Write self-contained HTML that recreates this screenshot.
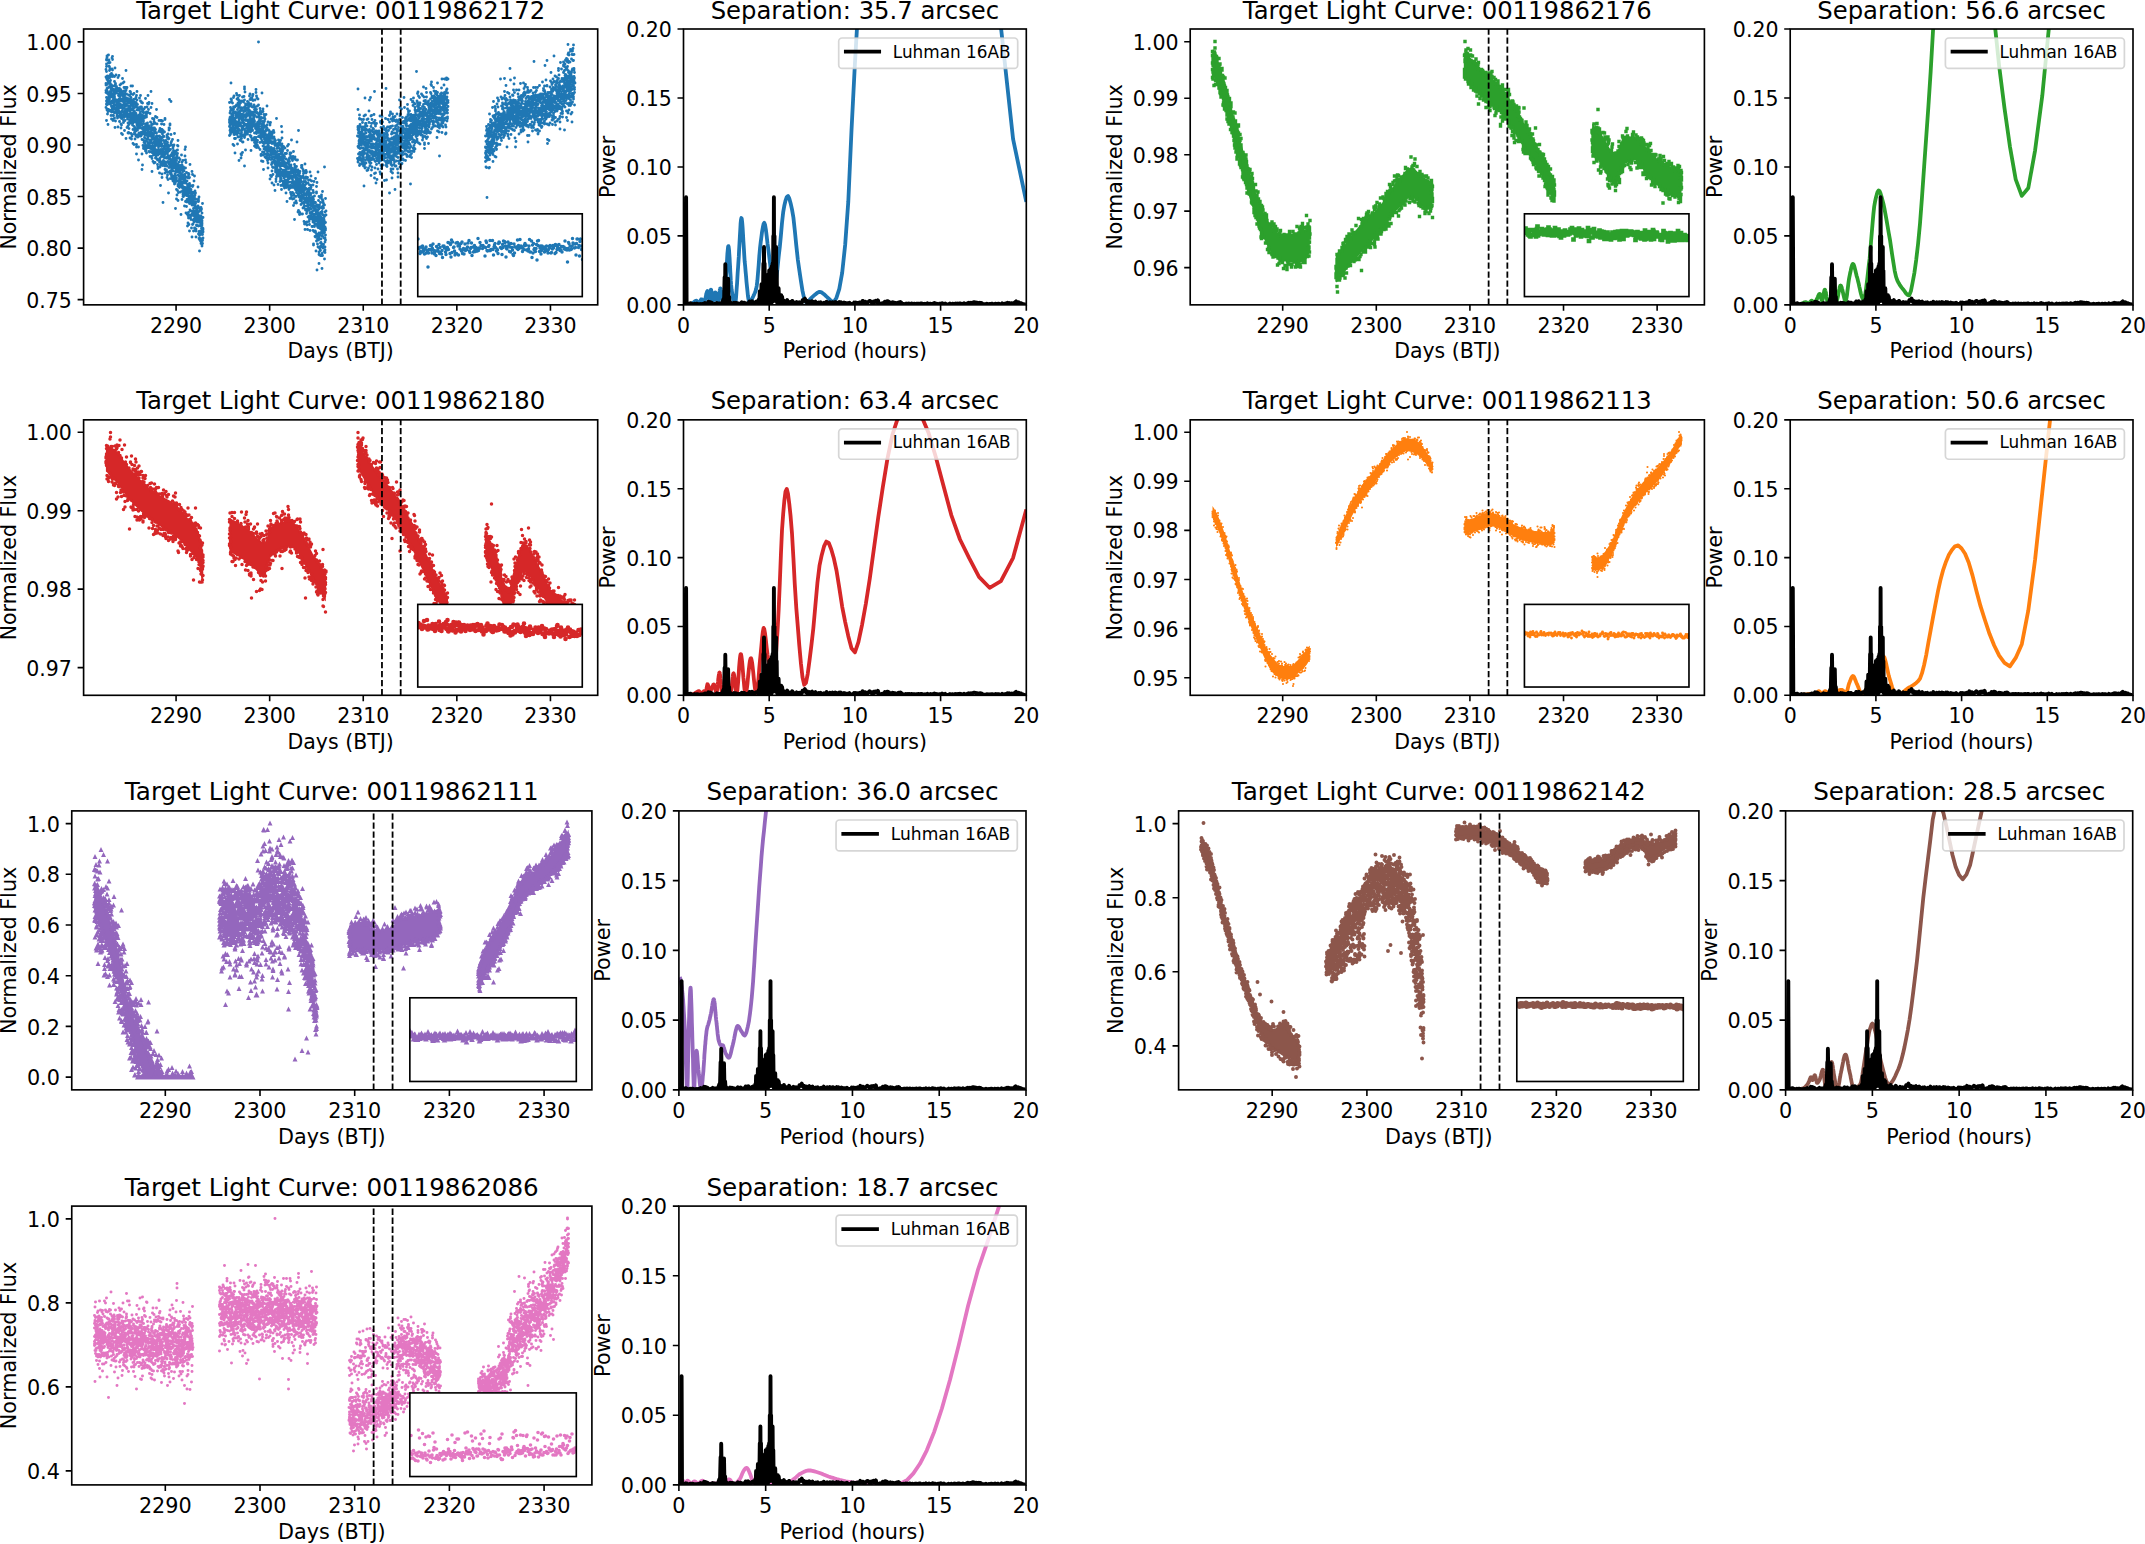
<!DOCTYPE html>
<html><head><meta charset="utf-8"><title>Light curves</title><style>html,body{margin:0;padding:0;background:#fff}svg{display:block}text{font-family:"DejaVu Sans","Liberation Sans",sans-serif;fill:#000}</style></head><body><svg width="2145" height="1544" viewBox="0 0 2145 1544"><rect width="2145" height="1544" fill="#fff"/><defs><clipPath id="c1"><rect x="83.6" y="29" width="514.1" height="275.85"/></clipPath><clipPath id="c2"><rect x="417.76" y="213.82" width="164.51" height="82.76"/></clipPath><clipPath id="c3"><rect x="683.5" y="29" width="342.8" height="275.85"/></clipPath><clipPath id="c4"><rect x="1190.2" y="29" width="514.2" height="275.85"/></clipPath><clipPath id="c5"><rect x="1524.43" y="213.82" width="164.54" height="82.76"/></clipPath><clipPath id="c6"><rect x="1790.2" y="29" width="342.8" height="275.85"/></clipPath><clipPath id="c7"><rect x="83.6" y="419.85" width="514.1" height="275.45"/></clipPath><clipPath id="c8"><rect x="417.76" y="604.4" width="164.51" height="82.63"/></clipPath><clipPath id="c9"><rect x="683.5" y="419.85" width="342.8" height="275.45"/></clipPath><clipPath id="c10"><rect x="1190.2" y="419.85" width="514.2" height="275.45"/></clipPath><clipPath id="c11"><rect x="1524.43" y="604.4" width="164.54" height="82.63"/></clipPath><clipPath id="c12"><rect x="1790.2" y="419.85" width="342.8" height="275.45"/></clipPath><clipPath id="c13"><rect x="71.75" y="810.9" width="520.15" height="278.95"/></clipPath><clipPath id="c14"><rect x="409.85" y="997.8" width="166.45" height="83.68"/></clipPath><clipPath id="c15"><rect x="678.9" y="810.9" width="347.1" height="278.95"/></clipPath><clipPath id="c16"><rect x="1178.6" y="810.9" width="520.3" height="278.95"/></clipPath><clipPath id="c17"><rect x="1516.8" y="997.8" width="166.5" height="83.68"/></clipPath><clipPath id="c18"><rect x="1785.6" y="810.9" width="347.1" height="278.95"/></clipPath><clipPath id="c19"><rect x="71.75" y="1206.1" width="520.15" height="278.8"/></clipPath><clipPath id="c20"><rect x="409.85" y="1392.9" width="166.45" height="83.64"/></clipPath><clipPath id="c21"><rect x="678.9" y="1206.1" width="347.1" height="278.8"/></clipPath></defs>
<g clip-path="url(#c1)"><g transform="scale(.5)"><path d="M212 139h0m0 15h0m0 13h0m0 3h0m0 11h0m0 4h0m0 30h0m1-96h0m0 1h0m0 8h0m0 5h0m0 10h0m0 13h0m0 14h0m0 25h0m0 7h0m0 6h0m0 1h0m0 32h0m1-129h0m0 3h0m0 44h0m0 18h0m0 4h0m0 5h0m0 15h0m0 5h0m0 12h0m0 2h0m1-68h0m0 6h0m0 27h0m0 2h0m0 12h0m0 10h0m0 19h0m1-71h0m0 5h0m0 5h0m0 35h0m0 5h0m0 16h0m0 26h0m1-139h0m0 15h0m0 37h0m0 13h0m0 12h0m0 1h0m0 1h0m0 7h0m0 8h0m0 15h0m1-99h0m0 12h0m0 60h0m0 5h0m0 25h0m1-88h0m0 7h0m0 11h0m0 3h0m0 18h0m0 25h0m0 5h0m0 1h0m0 2h0m1-81h0m0 13h0m0 17h0m0 11h0m0 7h0m0 10h0m0 11h0m0 14h0m1-59h0m0 12h0m0 7h0m0 1h0m0 24h0m0 12h0m0 16h0m1-46h0m0 3h0m0 8h0m0 3h0m0 14h0m0 28h0m1-84h0m0 23h0m0 11h0m0 11h0m0 20h0m0 1h0m0 11h0m0 14h0m1-122h0m0 22h0m0 12h0m0 23h0m0 5h0m0 16h0m0 8h0m0 4h0m0 9h0m0 4h0m1-106h0m0 6h0m0 21h0m0 10h0m0 3h0m0 39h0m0 12h0m0 17h0m1-34h0m0 6h0m0 2h0m0 6h0m0 15h0m0 15h0m0 8h0m0 2h0m1-62h0m0 3h0m0 17h0m0 7h0m0 9h0m0 16h0m1-59h0m0 27h0m0 5h0m0 7h0m0 14h0m1-72h0m0 10h0m0 26h0m0 4h0m0 2h0m0 41h0m1-100h0m0 45h0m0 4h0m0 24h0m0 10h0m0 6h0m0 30h0m1-88h0m0 2h0m0 30h0m0 19h0m0 24h0m1-92h0m0 27h0m0 1h0m0 24h0m0 13h0m0 8h0m1-50h0m0 8h0m0 5h0m0 18h0m0 6h0m1-9h0m0 11h0m0 12h0m0 4h0m0 4h0m1-30h0m0 5h0m0 11h0m0 18h0m1-81h0m0 22h0m0 2h0m0 21h0m0 1h0m0 12h0m0 8h0m0 33h0m1-72h0m0 9h0m0 19h0m0 11h0m0 4h0m0 8h0m1-82h0m0 37h0m0 4h0m0 6h0m0 5h0m0 13h0m0 7h0m1-46h0m0 13h0m0 22h0m0 15h0m0 16h0m1-73h0m0 19h0m0 4h0m0 15h0m0 22h0m1-51h0m0 4h0m0 4h0m0 1h0m0 27h0m0 20h0m1-67h0m0 13h0m0 17h0m0 4h0m0 10h0m0 36h0m0 8h0m1-46h0m0 14h0m0 5h0m0 8h0m0 13h0m0 17h0m1-79h0m0 2h0m0 24h0m0 8h0m0 11h0m0 3h0m1-79h0m0 27h0m0 2h0m0 29h0m0 2h0m0 5h0m0 47h0m1-103h0m0 27h0m0 9h0m0 1h0m0 7h0m0 19h0m1-31h0m0 18h0m0 7h0m0 8h0m0 10h0m0 4h0m1-81h0m0 11h0m0 7h0m0 24h0m0 19h0m0 7h0m0 3h0m0 7h0m1-54h0m0 1h0m0 12h0m0 16h0m0 12h0m0 4h0m0 28h0m1-86h0m0 8h0m0 12h0m0 4h0m0 3h0m0 10h0m0 29h0m1-60h0m0 8h0m0 22h0m0 1h0m0 7h0m0 1h0m0 1h0m0 2h0m1-82h0m0 34h0m0 6h0m0 26h0m0 3h0m0 67h0m1-100h0m0 11h0m0 8h0m0 15h0m0 15h0m0 7h0m1-58h0m0 25h0m0 19h0m0 6h0m0 3h0m0 1h0m0 26h0m1-58h0m0 6h0m0 14h0m0 3h0m0 18h0m1-32h0m0 28h0m0 12h0m0 6h0m0 14h0m1-76h0m0 12h0m0 10h0m0 17h0m0 36h0m1-67h0m0 3h0m0 29h0m0 15h0m0 4h0m0 8h0m0 9h0m1-75h0m0 25h0m0 4h0m0 2h0m0 6h0m0 6h0m0 6h0m1-57h0m0 19h0m0 4h0m0 16h0m0 18h0m0 36h0m1-92h0m0 14h0m0 1h0m0 13h0m0 14h0m0 14h0m0 6h0m1-74h0m0 16h0m0 7h0m0 16h0m0 6h0m0 22h0m0 28h0m1-36h0m0 2h0m0 5h0m0 40h0m1-74h0m0 2h0m0 14h0m0 22h0m0 27h0m0 3h0m1-100h0m0 29h0m0 26h0m0 9h0m0 8h0m0 6h0m1-61h0m0 16h0m0 7h0m0 5h0m0 29h0m0 13h0m0 28h0m1-88h0m0 4h0m0 5h0m0 13h0m0 10h0m0 10h0m1-54h0m0 37h0m0 5h0m0 1h0m0 23h0m0 36h0m1-75h0m0 1h0m0 8h0m0 10h0m0 5h0m0 27h0m0 3h0m1-70h0m0 9h0m0 48h0m0 5h0m0 3h0m0 5h0m0 10h0m1-73h0m0 9h0m0 18h0m0 5h0m0 6h0m0 1h0m0 17h0m1-66h0m0 11h0m0 5h0m0 16h0m0 6h0m0 29h0m0 10h0m1-81h0m0 16h0m0 4h0m0 28h0m0 50h0m0 5h0m0 14h0m1-125h0m0 17h0m0 20h0m0 11h0m0 17h0m0 2h0m1-41h0m0 6h0m0 29h0m0 8h0m0 5h0m0 3h0m0 10h0m0 4h0m1-58h0m0 3h0m0 18h0m0 9h0m0 27h0m0 1h0m1-56h0m0 2h0m0 11h0m0 5h0m0 3h0m0 9h0m0 46h0m0 26h0m1-84h0m0 8h0m0 9h0m0 13h0m0 3h0m1-73h0m0 19h0m0 3h0m0 16h0m0 5h0m0 17h0m1-29h0m0 11h0m0 13h0m0 3h0m0 18h0m1-81h0m0 11h0m0 12h0m0 9h0m0 5h0m0 23h0m0 15h0m1-33h0m0 3h0m0 11h0m0 18h0m0 7h0m1-68h0m0 1h0m0 9h0m0 1h0m0 27h0m0 14h0m0 13h0m1-51h0m0 20h0m0 12h0m0 19h0m0 10h0m0 29h0m0 31h0m1-133h0m0 24h0m0 28h0m0 6h0m0 66h0m1-110h0m0 4h0m0 12h0m0 2h0m0 53h0m1-57h0m0 8h0m0 5h0m0 8h0m0 25h0m0 16h0m0 1h0m1-79h0m0 7h0m0 8h0m0 26h0m0 9h0m0 17h0m1-52h0m0 3h0m0 24h0m0 4h0m0 2h0m0 9h0m1-60h0m0 38h0m0 5h0m0 7h0m0 5h0m0 16h0m0 6h0m0 4h0m1-99h0m0 34h0m0 17h0m0 5h0m0 13h0m0 24h0m0 10h0m0 2h0m1-76h0m0 25h0m0 7h0m0 11h0m0 13h0m0 19h0m1-77h0m0 6h0m0 4h0m0 13h0m0 13h0m0 18h0m0 28h0m1-92h0m0 36h0m0 8h0m0 8h0m0 3h0m0 22h0m0 5h0m1-89h0m0 39h0m0 7h0m0 8h0m0 6h0m0 1h0m0 4h0m0 22h0m1-103h0m0 34h0m0 27h0m0 22h0m0 5h0m0 6h0m0 1h0m1-78h0m0 11h0m0 32h0m0 4h0m0 3h0m0 7h0m0 30h0m1-90h0m0 48h0m0 37h0m0 1h0m0 12h0m1-40h0m0 2h0m0 2h0m0 29h0m0 8h0m1-77h0m0 30h0m0 13h0m0 10h0m0 5h0m0 6h0m0 22h0m1-69h0m0 19h0m0 1h0m0 4h0m0 4h0m0 25h0m1-114h0m0 32h0m0 40h0m0 8h0m0 7h0m0 12h0m0 21h0m1-53h0m0 5h0m0 6h0m0 25h0m0 7h0m0 4h0m0 16h0m1-106h0m0 41h0m0 24h0m0 1h0m0 2h0m0 30h0m0 12h0m0 26h0m1-106h0m0 22h0m0 8h0m0 11h0m0 9h0m0 7h0m0 11h0m1-57h0m0 12h0m0 9h0m0 6h0m0 17h0m0 10h0m0 21h0m1-67h0m0 5h0m0 7h0m0 2h0m0 16h0m0 11h0m0 13h0m1-72h0m0 5h0m0 32h0m0 8h0m0 9h0m0 16h0m0 18h0m1-70h0m0 6h0m0 4h0m0 29h0m0 3h0m0 9h0m1-61h0m0 1h0m0 16h0m0 16h0m0 9h0m0 11h0m0 4h0m0 22h0m1-92h0m0 26h0m0 21h0m0 12h0m0 24h0m1-43h0m0 5h0m0 8h0m0 17h0m0 8h0m0 3h0m1-95h0m0 47h0m0 18h0m0 4h0m0 12h0m1-65h0m0 13h0m0 24h0m0 3h0m0 7h0m0 25h0m0 11h0m1-41h0m0 4h0m0 9h0m0 30h0m0 9h0m1-50h0m0 6h0m0 6h0m0 19h0m0 24h0m0 3h0m1-56h0m0 3h0m0 7h0m0 3h0m0 5h0m0 4h0m1-62h0m0 22h0m0 28h0m0 1h0m0 16h0m0 11h0m1-58h0m0 11h0m0 7h0m0 9h0m0 13h0m0 23h0m0 22h0m1-89h0m0 17h0m0 9h0m0 21h0m0 12h0m0 5h0m0 13h0m1-93h0m0 61h0m0 28h0m0 41h0m1-107h0m0 15h0m0 5h0m0 5h0m0 10h0m0 4h0m0 21h0m0 4h0m1-87h0m0 7h0m0 28h0m0 17h0m0 8h0m0 7h0m0 4h0m0 1h0m1-54h0m0 5h0m0 24h0m0 15h0m0 5h0m0 40h0m0 7h0m1-113h0m0 26h0m0 6h0m0 1h0m0 24h0m0 8h0m0 24h0m1-70h0m0 32h0m0 10h0m0 10h0m0 10h0m0 1h0m0 81h0m1-124h0m0 12h0m0 15h0m0 6h0m0 7h0m0 1h0m0 6h0m1-79h0m0 24h0m0 23h0m0 3h0m0 16h0m0 14h0m0 2h0m1-67h0m0 21h0m0 20h0m0 4h0m0 2h0m0 4h0m1-78h0m0 2h0m0 49h0m0 4h0m0 40h0m0 7h0m0 7h0m1-59h0m0 2h0m0 18h0m0 17h0m0 5h0m1-48h0m0 16h0m0 4h0m0 2h0m0 4h0m0 9h0m1-25h0m0 25h0m0 9h0m0 15h0m0 3h0m1-73h0m0 5h0m0 22h0m0 4h0m0 3h0m0 28h0m0 23h0m1-81h0m0 11h0m0 10h0m0 11h0m0 8h0m0 2h0m0 28h0m0 6h0m1-82h0m0 7h0m0 15h0m0 21h0m0 12h0m0 1h0m0 35h0m1-81h0m0 13h0m0 3h0m0 4h0m0 19h0m0 8h0m0 61h0m1-130h0m0 4h0m0 17h0m0 25h0m0 26h0m0 7h0m0 9h0m1-145h0m0 58h0m0 58h0m0 11h0m0 3h0m0 16h0m1-97h0m0 2h0m0 41h0m0 9h0m0 12h0m0 6h0m0 10h0m0 6h0m1-35h0m0 24h0m0 3h0m0 16h0m0 6h0m0 9h0m1-154h0m0 66h0m0 17h0m0 24h0m0 19h0m0 6h0m0 12h0m1-64h0m0 28h0m0 11h0m0 12h0m0 8h0m0 7h0m0 3h0m1-45h0m0 16h0m0 8h0m0 2h0m0 6h0m0 17h0m1-77h0m0 12h0m0 14h0m0 3h0m0 11h0m0 9h0m0 31h0m1-63h0m0 10h0m0 10h0m0 3h0m0 5h0m0 12h0m0 6h0m0 20h0m1-70h0m0 9h0m0 11h0m0 5h0m0 18h0m0 1h0m1-46h0m0 20h0m0 7h0m0 7h0m0 5h0m0 23h0m0 2h0m1-87h0m0 37h0m0 12h0m0 16h0m0 20h0m0 12h0m0 2h0m0 2h0m1-61h0m0 16h0m0 25h0m0 6h0m0 4h0m0 9h0m1-48h0m0 4h0m0 20h0m0 9h0m0 65h0m1-115h0m0 13h0m0 12h0m0 3h0m0 6h0m0 3h0m0 22h0m0 2h0m1-54h0m0 9h0m0 3h0m0 10h0m0 13h0m0 12h0m0 23h0m0 19h0m1-87h0m0 3h0m0 2h0m0 16h0m0 5h0m0 53h0m1-99h0m0 9h0m0 7h0m0 21h0m0 4h0m0 3h0m0 2h0m0 44h0m1-100h0m0 11h0m0 38h0m0 13h0m0 7h0m0 19h0m0 3h0m0 29h0m1-67h0m0 7h0m0 2h0m0 18h0m0 2h0m0 22h0m1-69h0m0 8h0m0 28h0m0 11h0m0 5h0m0 6h0m1-29h0m0 6h0m0 6h0m0 7h0m0 7h0m0 4h0m1-56h0m0 12h0m0 7h0m0 4h0m0 21h0m0 2h0m1-33h0m0 5h0m0 9h0m0 14h0m0 9h0m0 15h0m1-47h0m0 15h0m0 6h0m0 13h0m0 58h0m1-119h0m0 23h0m0 15h0m0 1h0m0 8h0m0 7h0m1-40h0m0 6h0m0 19h0m0 4h0m0 16h0m0 4h0m0 26h0m1-66h0m0 1h0m0 6h0m0 18h0m0 8h0m0 10h0m0 6h0m1-61h0m0 22h0m0 30h0m0 10h0m0 5h0m0 1h0m0 4h0m1-59h0m0 4h0m0 4h0m0 16h0m0 20h0m0 15h0m1-51h0m0 9h0m0 4h0m0 7h0m0 4h0m0 21h0m1-38h0m0 8h0m0 8h0m0 18h0m0 7h0m0 22h0m1-113h0m0 13h0m0 38h0m0 8h0m0 17h0m0 5h0m0 5h0m1-91h0m0 26h0m0 16h0m0 30h0m0 18h0m0 5h0m0 1h0m0 13h0m1-78h0m0 29h0m0 8h0m0 3h0m0 11h0m0 6h0m0 44h0m1-81h0m0 31h0m0 3h0m0 12h0m0 22h0m1-51h0m0 14h0m0 10h0m0 13h0m0 1h0m0 4h0m0 24h0m1-73h0m0 15h0m0 4h0m0 5h0m0 10h0m0 13h0m0 50h0m1-83h0m0 12h0m0 11h0m0 11h0m0 28h0m0 15h0m1-99h0m0 3h0m0 4h0m0 37h0m0 34h0m0 11h0m1-87h0m0 7h0m0 18h0m0 12h0m0 10h0m0 34h0m0 19h0m1-94h0m0 12h0m0 9h0m0 24h0m0 7h0m0 55h0m1-133h0m0 43h0m0 8h0m0 5h0m0 21h0m0 14h0m1-49h0m0 21h0m0 4h0m0 7h0m0 32h0m1-56h0m0 5h0m0 3h0m0 35h0m0 8h0m0 9h0m1-49h0m0 8h0m0 9h0m0 24h0m0 25h0m1-113h0m0 41h0m0 13h0m0 4h0m0 9h0m0 18h0m0 46h0m1-125h0m0 24h0m0 14h0m0 7h0m0 12h0m0 4h0m0 13h0m0 26h0m1-78h0m0 21h0m0 30h0m0 1h0m0 17h0m0 8h0m1-63h0m0 15h0m0 4h0m0 13h0m0 7h0m0 3h0m0 4h0m0 31h0m1-100h0m0 35h0m0 11h0m0 14h0m0 16h0m0 6h0m1-92h0m0 42h0m0 21h0m0 15h0m0 26h0m1-74h0m0 8h0m0 21h0m0 24h0m0 6h0m1-55h0m0 12h0m0 6h0m0 2h0m0 1h0m0 23h0m0 29h0m1-42h0m0 8h0m0 6h0m0 27h0m0 4h0m0 12h0m1-56h0m0 4h0m0 14h0m0 7h0m0 7h0m0 1h0m1-37h0m0 4h0m0 2h0m0 15h0m0 6h0m0 2h0m1-44h0m0 25h0m0 4h0m0 9h0m0 14h0m1-77h0m0 29h0m0 9h0m0 4h0m0 13h0m0 5h0m0 10h0m1-46h0m0 3h0m0 2h0m0 38h0m0 3h0m0 8h0m0 16h0m1-74h0m0 21h0m0 8h0m0 40h0m0 3h0m0 11h0m1-40h0m0 2h0m0 4h0m0 28h0m0 8h0m0 23h0m1-82h0m0 12h0m0 19h0m0 26h0m1-61h0m0 30h0m0 16h0m0 7h0m0 13h0m1-67h0m0 6h0m0 11h0m0 3h0m0 2h0m0 12h0m0 38h0m1-69h0m0 19h0m0 7h0m0 7h0m0 2h0m0 4h0m0 9h0m0 12h0m1-52h0m0 15h0m0 3h0m0 3h0m0 3h0m0 10h0m0 22h0m0 10h0m1-85h0m0 49h0m0 13h0m0 11h0m0 1h0m0 6h0m1-52h0m0 22h0m0 2h0m0 4h0m0 1h0m0 12h0m53-271h0m0 34h0m0 3h0m0 3h0m0 8h0m0 18h0m1-45h0m0 9h0m0 12h0m0 3h0m0 11h0m0 9h0m1-55h0m0 7h0m0 12h0m0 3h0m0 6h0m0 15h0m0 7h0m0 3h0m1-102h0m0 32h0m0 20h0m0 9h0m0 10h0m0 9h0m0 9h0m1-55h0m0 4h0m0 23h0m0 13h0m0 16h0m0 5h0m1-29h0m0 17h0m0 14h0m0 1h0m1-58h0m0 12h0m0 17h0m0 8h0m0 6h0m1-28h0m0 6h0m0 4h0m0 23h0m0 4h0m0 31h0m1-94h0m0 19h0m0 5h0m0 5h0m0 20h0m0 20h0m0 1h0m1-73h0m0 48h0m0 10h0m0 6h0m0 2h0m0 11h0m0 22h0m1-65h0m0 10h0m0 9h0m0 13h0m0 7h0m0 4h0m0 8h0m1-64h0m0 1h0m0 11h0m0 14h0m0 11h0m0 7h0m0 49h0m1-82h0m0 25h0m0 2h0m0 10h0m0 7h0m0 9h0m1-65h0m0 19h0m0 12h0m0 2h0m0 3h0m1-61h0m0 23h0m0 17h0m0 8h0m0 18h0m0 8h0m1-71h0m0 8h0m0 34h0m0 12h0m0 22h0m0 3h0m1-50h0m0 9h0m0 4h0m0 14h0m0 10h0m0 32h0m1-92h0m0 10h0m0 4h0m0 15h0m0 28h0m0 13h0m0 8h0m1-74h0m0 8h0m0 7h0m0 20h0m0 15h0m0 3h0m0 8h0m0 3h0m1-59h0m0 28h0m0 7h0m0 5h0m0 14h0m0 1h0m0 61h0m1-130h0m0 19h0m0 13h0m0 7h0m0 7h0m0 10h0m0 26h0m1-71h0m0 21h0m0 5h0m0 17h0m0 2h0m0 33h0m1-74h0m0 9h0m0 5h0m0 12h0m0 17h0m0 19h0m0 13h0m1-48h0m0 4h0m0 15h0m0 9h0m0 47h0m0 8h0m1-80h0m0 16h0m0 10h0m0 3h0m0 8h0m0 4h0m0 33h0m1-108h0m0 14h0m0 5h0m0 19h0m0 16h0m0 4h0m1-66h0m0 34h0m0 17h0m0 39h0m0 21h0m1-75h0m0 7h0m0 7h0m0 1h0m0 10h0m0 15h0m0 14h0m1-80h0m0 25h0m0 5h0m0 5h0m0 14h0m0 19h0m1-79h0m0 22h0m0 8h0m0 17h0m0 6h0m0 4h0m1-76h0m0 4h0m0 22h0m0 20h0m0 39h0m0 16h0m0 57h0m1-148h0m0 29h0m0 9h0m0 17h0m0 23h0m0 4h0m0 5h0m1-63h0m0 11h0m0 3h0m0 11h0m0 6h0m0 61h0m1-84h0m0 13h0m0 4h0m0 1h0m0 6h0m0 1h0m0 8h0m1-29h0m0 10h0m0 3h0m0 19h0m0 4h0m0 6h0m0 3h0m0 3h0m1-58h0m0 8h0m0 9h0m0 2h0m0 20h0m0 7h0m1-53h0m0 18h0m0 19h0m0 21h0m0 7h0m1-27h0m0 2h0m0 9h0m0 3h0m0 3h0m0 4h0m0 17h0m1-74h0m0 1h0m0 9h0m0 12h0m0 2h0m0 17h0m0 17h0m1-51h0m0 8h0m0 3h0m0 8h0m0 11h0m1-50h0m0 17h0m0 1h0m0 11h0m0 7h0m0 21h0m0 12h0m1-73h0m0 11h0m0 37h0m0 3h0m0 7h0m0 8h0m0 4h0m0 13h0m1-72h0m0 26h0m0 1h0m0 37h0m0 1h0m1-67h0m0 11h0m0 23h0m0 41h0m0 2h0m0 27h0m1-88h0m0 11h0m0 6h0m0 11h0m0 1h0m0 1h0m0 13h0m1-59h0m0 43h0m0 6h0m0 5h0m0 4h0m0 23h0m0 2h0m1-88h0m0 8h0m0 14h0m0 23h0m0 23h0m0 1h0m1-72h0m0 12h0m0 24h0m0 4h0m0 9h0m0 6h0m1-31h0m0 12h0m0 7h0m0 10h0m0 3h0m0 4h0m0 28h0m1-67h0m0 25h0m0 5h0m0 12h0m0 28h0m1-61h0m0 5h0m0 18h0m0 2h0m0 22h0m0 9h0m0 10h0m0 7h0m1-92h0m0 17h0m0 8h0m0 6h0m0 19h0m0 3h0m0 26h0m1-65h0m0 4h0m0 2h0m0 34h0m0 3h0m0 33h0m0 4h0m1-115h0m0 6h0m0 64h0m0 26h0m0 5h0m0 7h0m0 4h0m1-99h0m0 27h0m0 30h0m0 14h0m0 4h0m0 28h0m1-99h0m0 29h0m0 1h0m0 8h0m0 22h0m0 6h0m0 23h0m1-73h0m0 33h0m0 5h0m0 1h0m0 30h0m0 10h0m1-93h0m0 61h0m0 5h0m1-180h0m0 126h0m0 18h0m0 21h0m0 16h0m0 8h0m0 22h0m1-64h0m0 10h0m0 2h0m0 5h0m0 5h0m1-26h0m0 9h0m0 22h0m0 13h0m0 2h0m1-56h0m0 8h0m0 19h0m0 14h0m0 5h0m0 11h0m0 11h0m0 14h0m1-77h0m0 17h0m0 23h0m0 4h0m1-38h0m0 7h0m0 32h0m0 10h0m0 32h0m0 2h0m1-87h0m0 24h0m0 5h0m0 19h0m0 50h0m1-136h0m0 71h0m0 8h0m0 16h0m1-45h0m0 7h0m0 6h0m0 9h0m0 13h0m0 14h0m0 19h0m1-86h0m0 5h0m0 38h0m0 13h0m0 18h0m0 18h0m0 13h0m1-76h0m0 9h0m0 13h0m0 17h0m0 6h0m0 47h0m1-110h0m0 15h0m0 7h0m0 16h0m0 4h0m0 16h0m0 11h0m0 7h0m1-71h0m0 8h0m0 24h0m0 6h0m0 6h0m0 6h0m1-46h0m0 38h0m0 3h0m0 16h0m0 13h0m0 6h0m1-61h0m0 10h0m0 6h0m0 17h0m0 13h0m0 1h0m1-71h0m0 31h0m0 21h0m0 13h0m0 22h0m1-60h0m0 5h0m0 16h0m0 4h0m0 20h0m1-89h0m0 38h0m0 6h0m0 14h0m0 5h0m0 9h0m0 15h0m0 11h0m1-38h0m0 14h0m0 11h0m0 6h0m0 3h0m0 9h0m0 6h0m1-77h0m0 40h0m0 6h0m0 1h0m0 35h0m0 10h0m1-76h0m0 10h0m0 9h0m0 1h0m0 12h0m0 17h0m1-48h0m0 8h0m0 5h0m0 12h0m0 10h0m0 5h0m0 17h0m1-52h0m0 11h0m0 2h0m0 4h0m0 26h0m0 5h0m1-67h0m0 3h0m0 23h0m0 26h0m0 59h0m1-113h0m0 25h0m0 32h0m0 2h0m0 47h0m1-87h0m0 19h0m0 12h0m0 14h0m0 10h0m1-33h0m0 10h0m0 2h0m0 9h0m0 22h0m0 24h0m1-84h0m0 8h0m0 10h0m0 15h0m0 13h0m0 10h0m0 17h0m0 24h0m1-102h0m0 10h0m0 23h0m0 1h0m0 15h0m0 21h0m1-29h0m0 19h0m0 1h0m0 10h0m0 14h0m1-88h0m0 22h0m0 16h0m0 5h0m0 4h0m0 11h0m1-54h0m0 9h0m0 13h0m0 10h0m0 1h0m0 26h0m0 46h0m1-92h0m0 5h0m0 18h0m0 3h0m0 10h0m0 6h0m1-37h0m0 1h0m0 7h0m0 15h0m0 10h0m0 13h0m0 6h0m0 46h0m1-100h0m0 6h0m0 20h0m0 5h0m0 28h0m0 4h0m1-40h0m0 6h0m0 5h0m0 9h0m0 14h0m0 20h0m0 5h0m1-126h0m0 88h0m0 3h0m0 4h0m0 9h0m0 12h0m1-63h0m0 7h0m0 14h0m0 20h0m0 3h0m0 12h0m0 4h0m1-57h0m0 10h0m0 16h0m0 4h0m0 5h0m0 11h0m0 6h0m1-58h0m0 22h0m0 43h0m0 17h0m1-89h0m0 29h0m0 6h0m0 2h0m0 13h0m0 11h0m1-50h0m0 24h0m0 11h0m0 2h0m0 14h0m0 4h0m1-62h0m0 13h0m0 12h0m0 12h0m0 4h0m0 19h0m0 7h0m1-64h0m0 15h0m0 30h0m0 1h0m0 7h0m0 23h0m1-82h0m0 9h0m0 24h0m0 24h0m0 6h0m0 6h0m0 5h0m0 3h0m1-60h0m0 8h0m0 13h0m0 19h0m0 19h0m0 14h0m1-118h0m0 39h0m0 24h0m0 13h0m0 2h0m0 30h0m0 18h0m1-115h0m0 12h0m0 12h0m0 9h0m0 11h0m0 13h0m0 5h0m0 22h0m1-45h0m0 9h0m0 11h0m0 4h0m0 3h0m0 1h0m1-32h0m0 11h0m0 10h0m0 21h0m0 3h0m0 8h0m0 11h0m0 5h0m1-75h0m0 24h0m0 11h0m0 3h0m0 16h0m0 16h0m0 9h0m1-59h0m0 3h0m0 7h0m0 21h0m0 3h0m0 3h0m0 6h0m1-43h0m0 20h0m0 7h0m0 3h0m0 5h0m0 3h0m0 12h0m0 13h0m1-80h0m0 11h0m0 26h0m0 15h0m0 12h0m0 1h0m0 7h0m1-42h0m0 5h0m0 2h0m0 8h0m0 22h0m0 9h0m1-65h0m0 11h0m0 9h0m0 26h0m0 14h0m0 19h0m1-79h0m0 25h0m0 5h0m0 1h0m0 6h0m0 27h0m0 4h0m1-28h0m0 13h0m0 4h0m0 39h0m1-111h0m0 9h0m0 25h0m0 18h0m0 4h0m0 2h0m0 19h0m1-48h0m0 4h0m0 19h0m0 10h0m0 5h0m0 15h0m1-85h0m0 38h0m0 8h0m0 2h0m0 11h0m0 10h0m0 14h0m1-54h0m0 2h0m0 9h0m0 18h0m0 3h0m0 14h0m0 15h0m1-63h0m0 7h0m0 10h0m0 11h0m0 6h0m0 3h0m0 4h0m1-51h0m0 3h0m0 6h0m0 59h0m0 2h0m0 21h0m1-65h0m0 5h0m0 18h0m0 15h0m0 15h0m1-79h0m0 7h0m0 2h0m0 15h0m0 4h0m0 11h0m0 43h0m1-108h0m0 61h0m0 5h0m0 6h0m0 2h0m0 10h0m0 28h0m1-74h0m0 39h0m0 8h0m0 6h0m0 4h0m1-55h0m0 1h0m0 16h0m0 21h0m0 1h0m0 26h0m0 12h0m0 1h0m1-85h0m0 30h0m0 10h0m0 13h0m1-63h0m0 14h0m0 22h0m0 7h0m0 17h0m0 4h0m0 20h0m0 24h0m1-61h0m0 14h0m0 3h0m0 23h0m0 1h0m0 6h0m1-68h0m0 37h0m0 4h0m0 3h0m0 3h0m0 30h0m0 33h0m1-125h0m0 19h0m0 1h0m0 9h0m0 12h0m0 17h0m0 2h0m1-55h0m0 19h0m0 6h0m0 9h0m0 10h0m0 16h0m1-30h0m0 9h0m0 13h0m0 9h0m0 13h0m0 9h0m1-82h0m0 13h0m0 8h0m0 11h0m0 33h0m0 21h0m1-122h0m0 75h0m0 4h0m0 5h0m0 7h0m1-55h0m0 36h0m0 9h0m0 4h0m0 11h0m1-40h0m0 2h0m0 3h0m0 5h0m0 24h0m0 5h0m0 11h0m0 34h0m1-163h0m0 85h0m0 11h0m0 20h0m0 2h0m0 42h0m1-70h0m0 9h0m0 13h0m0 9h0m0 5h0m0 7h0m1-47h0m0 20h0m0 25h0m0 32h0m0 5h0m1-86h0m0 15h0m0 6h0m0 5h0m0 26h0m0 6h0m1-48h0m0 6h0m0 14h0m0 13h0m0 13h0m1-37h0m0 11h0m0 5h0m0 7h0m0 1h0m0 16h0m0 7h0m0 19h0m1-97h0m0 4h0m0 29h0m0 8h0m0 5h0m0 6h0m0 16h0m0 2h0m1-70h0m0 4h0m0 20h0m0 23h0m0 12h0m0 3h0m1-20h0m0 5h0m0 19h0m0 9h0m0 22h0m1-89h0m0 13h0m0 16h0m0 15h0m0 7h0m0 2h0m0 24h0m1-74h0m0 1h0m0 4h0m0 8h0m0 30h0m0 9h0m1-37h0m0 6h0m0 25h0m0 16h0m0 3h0m0 6h0m0 30h0m1-67h0m0 5h0m0 18h0m0 13h0m0 36h0m1-120h0m0 28h0m0 15h0m0 26h0m0 4h0m0 4h0m0 54h0m1-96h0m0 2h0m0 25h0m0 7h0m0 21h0m0 2h0m0 25h0m1-104h0m0 4h0m0 1h0m0 8h0m0 3h0m0 20h0m0 10h0m0 17h0m1-60h0m0 23h0m0 24h0m0 5h0m0 2h0m0 29h0m1-42h0m0 17h0m0 1h0m0 9h0m0 7h0m0 4h0m0 21h0m0 6h0m1-95h0m0 25h0m0 3h0m0 5h0m0 19h0m0 52h0m1-93h0m0 17h0m0 20h0m0 4h0m0 13h0m0 14h0m1-74h0m0 25h0m0 15h0m0 11h0m0 5h0m0 2h0m1-41h0m0 6h0m0 6h0m0 6h0m0 1h0m0 24h0m0 15h0m0 8h0m1-73h0m0 22h0m0 17h0m0 23h0m0 4h0m0 3h0m0 10h0m1-105h0m0 16h0m0 56h0m0 10h0m0 10h0m0 25h0m1-83h0m0 11h0m0 1h0m0 6h0m0 5h0m0 3h0m0 21h0m1-73h0m0 19h0m0 4h0m0 12h0m0 24h0m0 7h0m0 14h0m1-70h0m0 37h0m0 4h0m0 5h0m0 2h0m0 14h0m0 4h0m1-31h0m0 4h0m0 10h0m0 15h0m0 12h0m0 15h0m1-59h0m0 12h0m0 7h0m0 14h0m0 7h0m0 4h0m0 1h0m0 14h0m1-83h0m0 11h0m0 16h0m0 18h0m0 29h0m0 17h0m1-76h0m0 14h0m0 11h0m0 11h0m0 67h0m0 2h0m1-127h0m0 41h0m0 27h0m0 11h0m0 3h0m0 18h0m1-71h0m0 13h0m0 11h0m0 1h0m0 12h0m0 22h0m0 2h0m1-40h0m0 8h0m0 12h0m0 3h0m0 3h0m0 3h0m0 20h0m0 11h0m1-116h0m0 48h0m0 13h0m0 30h0m0 15h0m0 1h0m0 1h0m0 9h0m1-48h0m0 10h0m0 66h0m1-129h0m0 11h0m0 2h0m0 24h0m0 24h0m0 7h0m0 8h0m0 19h0m0 14h0m1-117h0m0 45h0m0 15h0m0 3h0m0 8h0m0 12h0m0 24h0m0 68h0m1-126h0m0 8h0m0 2h0m0 9h0m0 10h0m0 10h0m0 25h0m0 10h0m1-144h0m0 76h0m0 7h0m0 13h0m0 3h0m0 12h0m0 39h0m1-93h0m0 14h0m0 1h0m0 26h0m0 8h0m0 5h0m0 13h0m0 8h0m0 4h0m1-87h0m0 25h0m0 16h0m0 9h0m0 23h0m0 6h0m0 2h0m0 3h0m0 27h0m0 5h0m0 18h0m1-117h0m0 20h0m0 6h0m0 10h0m0 4h0m0 44h0m0 2h0m0 14h0m1-115h0m0 46h0m0 9h0m0 7h0m0 11h0m0 1h0m0 26h0m0 3h0m1-93h0m0 20h0m0 2h0m0 15h0m0 2h0m0 26h0m0 16h0m0 15h0m0 10h0m1-96h0m0 11h0m0 8h0m0 17h0m0 4h0m0 3h0m0 20h0m0 7h0m0 7h0m1-102h0m0 4h0m0 51h0m0 2h0m0 6h0m0 6h0m0 5h0m0 1h0m1-66h0m0 15h0m0 9h0m0 4h0m0 11h0m0 34h0m0 16h0m0 19h0m0 30h0m1-154h0m0 16h0m0 18h0m0 12h0m0 15h0m0 17h0m0 33h0m0 17h0m1-109h0m0 3h0m0 7h0m0 29h0m0 10h0m0 11h0m0 5h0m0 6h0m0 23h0m1-89h0m0 9h0m0 20h0m0 16h0m0 3h0m0 34h0m0 5h0m1-63h0m0 8h0m0 8h0m0 1h0m0 10h0m0 18h0m0 27h0m1-169h0m0 76h0m0 23h0m0 10h0m0 13h0m0 9h0m0 53h0m1-94h0m0 30h0m0 22h0m0 8h0m0 10h0m0 6h0m0 5h0m1-108h0m0 48h0m0 12h0m0 3h0m0 10h0m0 10h0m1-58h0m0 8h0m63-158h0m0 45h0m1-139h0m0 41h0m0 34h0m0 2h0m0 4h0m0 34h0m0 26h0m0 5h0m1-68h0m0 3h0m0 2h0m0 5h0m0 7h0m0 19h0m0 3h0m0 13h0m1-49h0m0 23h0m0 5h0m0 7h0m0 25h0m1-89h0m0 7h0m0 1h0m0 41h0m0 27h0m0 8h0m0 17h0m1-82h0m0 15h0m0 2h0m0 5h0m0 16h0m0 10h0m0 8h0m0 23h0m1-75h0m0 23h0m0 13h0m0 21h0m0 10h0m1-37h0m0 3h0m0 10h0m0 10h0m0 11h0m1-78h0m0 16h0m0 20h0m0 15h0m0 18h0m0 20h0m1-70h0m0 4h0m0 8h0m0 10h0m0 31h0m0 12h0m1-78h0m0 13h0m0 2h0m0 7h0m0 18h0m0 2h0m0 16h0m0 8h0m1-57h0m0 20h0m0 4h0m0 18h0m0 6h0m0 10h0m0 7h0m1-80h0m0 32h0m0 12h0m0 26h0m0 6h0m0 1h0m0 8h0m0 8h0m1-100h0m0 69h0m0 6h0m0 22h0m0 43h0m1-112h0m0 18h0m0 12h0m0 15h0m0 2h0m0 23h0m1-134h0m0 59h0m0 6h0m0 6h0m0 8h0m0 12h0m0 10h0m0 39h0m1-106h0m0 17h0m0 4h0m0 33h0m0 8h0m0 28h0m0 15h0m1-88h0m0 19h0m0 7h0m0 6h0m0 11h0m0 36h0m1-67h0m0 1h0m0 20h0m0 12h0m0 6h0m0 2h0m0 15h0m1-76h0m0 13h0m0 37h0m0 19h0m0 5h0m0 5h0m0 23h0m1-67h0m0 22h0m0 4h0m0 6h0m0 3h0m0 5h0m1-76h0m0 23h0m0 12h0m0 8h0m0 5h0m0 54h0m1-55h0m0 7h0m0 9h0m0 2h0m0 18h0m0 15h0m1-114h0m0 23h0m0 19h0m0 7h0m0 15h0m0 8h0m0 22h0m1-116h0m0 59h0m0 12h0m0 8h0m0 22h0m0 1h0m0 10h0m0 13h0m1-60h0m0 1h0m0 8h0m0 9h0m0 11h0m0 27h0m0 10h0m1-136h0m0 67h0m0 6h0m0 12h0m0 22h0m0 4h0m0 10h0m1-84h0m0 21h0m0 25h0m0 2h0m0 9h0m0 30h0m0 7h0m0 25h0m1-120h0m0 16h0m0 23h0m0 12h0m0 14h0m0 11h0m0 33h0m1-101h0m0 35h0m0 35h0m0 10h0m0 15h0m1-74h0m0 28h0m0 5h0m0 3h0m0 7h0m0 12h0m1-58h0m0 7h0m0 12h0m0 1h0m0 11h0m0 5h0m0 20h0m1-68h0m0 13h0m0 15h0m0 33h0m0 5h0m1-82h0m0 39h0m0 6h0m0 4h0m0 11h0m0 21h0m0 9h0m1-136h0m0 64h0m0 30h0m0 18h0m0 1h0m0 16h0m0 35h0m0 9h0m1-115h0m0 6h0m0 32h0m0 25h0m0 3h0m0 15h0m0 14h0m1-84h0m0 10h0m0 3h0m0 23h0m0 22h0m0 1h0m0 12h0m0 23h0m1-68h0m0 13h0m0 6h0m0 3h0m0 3h0m0 63h0m1-119h0m0 15h0m0 23h0m0 9h0m0 22h0m0 13h0m1-62h0m0 2h0m0 10h0m0 2h0m0 8h0m0 32h0m0 38h0m1-95h0m0 24h0m0 6h0m0 4h0m0 10h0m0 2h0m1-36h0m0 18h0m0 4h0m0 2h0m0 7h0m0 9h0m0 24h0m1-38h0m0 15h0m0 1h0m0 6h0m1-60h0m0 11h0m0 7h0m0 2h0m0 18h0m0 11h0m0 10h0m0 5h0m1-59h0m0 5h0m0 2h0m0 5h0m0 7h0m0 20h0m0 3h0m0 7h0m1-84h0m0 40h0m0 16h0m0 5h0m0 1h0m0 19h0m0 31h0m1-101h0m0 2h0m0 36h0m0 23h0m0 44h0m1-93h0m0 30h0m0 3h0m0 18h0m0 7h0m0 8h0m0 10h0m1-84h0m0 23h0m0 28h0m0 4h0m0 5h0m0 3h0m0 27h0m1-104h0m0 27h0m0 4h0m0 22h0m0 31h0m0 14h0m1-87h0m0 43h0m0 5h0m0 3h0m0 3h0m0 1h0m0 12h0m1-36h0m0 2h0m0 18h0m0 10h0m0 25h0m1-77h0m0 21h0m0 8h0m0 10h0m0 12h0m0 5h0m0 11h0m1-53h0m0 4h0m0 3h0m0 4h0m0 2h0m0 6h0m0 3h0m0 11h0m1-43h0m0 2h0m0 19h0m0 12h0m0 7h0m0 17h0m0 47h0m1-103h0m0 27h0m0 8h0m0 5h0m0 11h0m0 7h0m1-79h0m0 31h0m0 14h0m0 5h0m0 3h0m0 7h0m0 4h0m0 22h0m1-146h0m0 81h0m0 4h0m0 23h0m0 14h0m0 2h0m0 23h0m0 7h0m1-63h0m0 6h0m0 1h0m0 23h0m0 29h0m0 4h0m0 29h0m1-94h0m0 5h0m0 25h0m0 11h0m0 2h0m0 6h0m0 18h0m1-79h0m0 16h0m0 5h0m0 2h0m0 3h0m0 12h0m0 12h0m0 17h0m1-82h0m0 40h0m0 11h0m0 20h0m0 16h0m1-72h0m0 7h0m0 28h0m0 9h0m0 5h0m0 19h0m1-34h0m0 8h0m0 6h0m0 4h0m0 5h0m0 3h0m0 1h0m1-84h0m0 13h0m0 39h0m0 10h0m0 13h0m0 17h0m0 63h0m1-130h0m0 22h0m0 6h0m0 5h0m0 15h0m0 1h0m0 20h0m1-101h0m0 3h0m0 26h0m0 3h0m0 28h0m0 27h0m0 5h0m0 2h0m1-80h0m0 62h0m0 21h0m0 4h0m0 4h0m0 9h0m0 5h0m1-75h0m0 10h0m0 13h0m0 6h0m0 2h0m0 5h0m0 14h0m1-54h0m0 3h0m0 9h0m0 37h0m0 17h0m0 1h0m0 25h0m1-128h0m0 14h0m0 10h0m0 33h0m0 3h0m0 7h0m0 51h0m1-112h0m0 59h0m0 2h0m0 6h0m0 37h0m1-100h0m0 21h0m0 20h0m0 5h0m0 4h0m0 21h0m0 5h0m0 6h0m1-54h0m0 8h0m0 23h0m0 7h0m0 15h0m0 10h0m1-88h0m0 36h0m0 24h0m0 1h0m0 9h0m0 13h0m1-91h0m0 25h0m0 29h0m0 11h0m0 34h0m0 47h0m1-127h0m0 4h0m0 17h0m0 9h0m0 8h0m0 4h0m0 15h0m1-66h0m0 23h0m0 6h0m0 25h0m0 7h0m0 28h0m1-92h0m0 11h0m0 17h0m0 10h0m0 4h0m0 5h0m0 26h0m0 9h0m1-94h0m0 32h0m0 5h0m0 17h0m0 16h0m0 8h0m1-57h0m0 10h0m0 14h0m0 4h0m0 13h0m0 17h0m0 31h0m1-66h0m0 9h0m0 15h0m0 4h0m0 15h0m0 31h0m0 8h0m1-113h0m0 4h0m0 10h0m0 32h0m0 17h0m1-32h0m0 13h0m0 14h0m0 23h0m0 5h0m1-127h0m0 39h0m0 23h0m0 15h0m0 17h0m0 4h0m0 4h0m1-87h0m0 17h0m0 36h0m0 8h0m0 2h0m0 29h0m0 15h0m0 12h0m1-106h0m0 19h0m0 2h0m0 11h0m0 15h0m0 2h0m0 7h0m0 2h0m1-13h0m0 8h0m0 4h0m0 29h0m0 4h0m0 2h0m1-102h0m0 34h0m0 3h0m0 16h0m0 18h0m0 4h0m0 35h0m1-66h0m0 14h0m0 5h0m0 6h0m0 16h0m0 4h0m0 20h0m1-92h0m0 10h0m0 11h0m0 10h0m0 39h0m0 5h0m1-57h0m0 4h0m0 4h0m0 33h0m0 1h0m0 9h0m0 14h0m1-75h0m0 14h0m0 6h0m0 11h0m0 13h0m0 1h0m0 8h0m0 24h0m1-125h0m0 51h0m0 20h0m0 10h0m0 16h0m1-77h0m0 29h0m0 38h0m0 3h0m0 8h0m0 3h0m1-51h0m0 13h0m0 7h0m0 6h0m0 24h0m0 6h0m0 7h0m1-72h0m0 1h0m0 3h0m0 35h0m0 33h0m0 13h0m1-71h0m0 8h0m0 2h0m0 8h0m0 10h0m0 11h0m1-55h0m0 9h0m0 5h0m0 4h0m0 12h0m0 7h0m0 26h0m1-31h0m0 6h0m0 10h0m0 5h0m0 7h0m0 16h0m0 3h0m1-104h0m0 9h0m0 21h0m0 2h0m0 39h0m0 5h0m0 17h0m1-73h0m0 29h0m0 8h0m0 7h0m0 11h0m0 5h0m0 14h0m1-81h0m0 2h0m0 7h0m0 29h0m0 11h0m0 5h0m0 6h0m0 13h0m1-66h0m0 8h0m0 15h0m0 20h0m0 2h0m0 12h0m0 18h0m1-82h0m0 40h0m0 2h0m0 1h0m0 32h0m0 16h0m1-72h0m0 10h0m0 5h0m0 3h0m0 4h0m0 6h0m0 2h0m0 18h0m1-54h0m0 38h0m0 6h0m0 23h0m0 8h0m0 58h0m1-169h0m0 30h0m0 13h0m0 7h0m0 15h0m0 29h0m1-61h0m0 5h0m0 22h0m0 14h0m0 34h0m0 8h0m1-76h0m0 13h0m0 2h0m0 12h0m0 9h0m0 2h0m1-73h0m0 31h0m0 5h0m0 17h0m0 5h0m0 22h0m1-81h0m0 8h0m0 20h0m0 15h0m0 13h0m0 10h0m0 27h0m0 6h0m1-106h0m0 44h0m0 7h0m0 6h0m0 16h0m0 11h0m0 17h0m1-44h0m0 1h0m0 11h0m0 26h0m0 12h0m1-96h0m0 23h0m0 6h0m0 7h0m0 6h0m0 11h0m0 37h0m1-89h0m0 7h0m0 5h0m0 10h0m0 12h0m0 40h0m0 4h0m0 12h0m1-74h0m0 29h0m0 4h0m0 11h0m1-47h0m0 14h0m0 5h0m0 7h0m0 15h0m0 4h0m0 7h0m0 10h0m1-140h0m0 86h0m0 11h0m0 2h0m0 1h0m0 13h0m0 3h0m1-57h0m0 19h0m0 18h0m0 12h0m0 27h0m0 3h0m0 2h0m1-96h0m0 18h0m0 7h0m0 9h0m0 1h0m0 33h0m0 14h0m0 2h0m1-87h0m0 24h0m0 5h0m0 8h0m0 12h0m0 7h0m0 10h0m0 12h0m1-70h0m0 21h0m0 4h0m0 14h0m0 16h0m0 20h0m0 19h0m1-50h0m0 8h0m0 1h0m0 4h0m0 13h0m0 5h0m1-72h0m0 11h0m0 4h0m0 9h0m0 9h0m0 7h0m0 21h0m0 12h0m1-62h0m0 19h0m0 3h0m0 15h0m0 8h0m0 37h0m1-71h0m0 7h0m0 18h0m0 5h0m0 18h0m0 4h0m1-44h0m0 6h0m0 36h0m0 3h0m1-82h0m0 63h0m0 6h0m0 5h0m0 3h0m1-39h0m0 4h0m0 1h0m0 8h0m0 17h0m0 1h0m1-66h0m0 22h0m0 23h0m0 4h0m0 8h0m0 15h0m0 8h0m0 9h0m1-61h0m0 3h0m0 2h0m0 3h0m0 13h0m0 4h0m0 31h0m1-101h0m0 35h0m0 27h0m0 8h0m0 4h0m0 3h0m1-57h0m0 8h0m0 19h0m0 9h0m0 1h0m0 7h0m0 11h0m1-34h0m0 51h0m0 20h0m0 3h0m0 8h0m1-74h0m0 21h0m0 7h0m0 4h0m0 8h0m0 10h0m1-72h0m0 3h0m0 3h0m0 19h0m0 17h0m0 11h0m0 6h0m1-83h0m0 42h0m0 8h0m0 4h0m0 16h0m1-62h0m0 9h0m0 11h0m0 33h0m0 25h0m0 4h0m0 10h0m1-69h0m0 22h0m0 8h0m0 11h0m0 9h0m1-31h0m0 8h0m0 4h0m0 1h0m0 3h0m0 31h0m1-67h0m0 3h0m0 13h0m0 29h0m0 8h0m1-58h0m0 9h0m0 15h0m0 17h0m0 22h0m0 22h0m1-72h0m0 5h0m0 17h0m0 6h0m0 2h0m0 7h0m0 2h0m1-40h0m0 18h0m0 6h0m0 7h0m0 3h0m0 16h0m1-53h0m0 11h0m0 5h0m0 5h0m0 34h0m1-81h0m0 13h0m0 9h0m0 3h0m0 6h0m0 1h0m0 26h0m0 22h0m1-96h0m0 18h0m0 50h0m1-73h0m0 7h0m0 41h0m0 17h0m0 29h0m1-66h0m0 2h0m0 9h0m0 16h0m0 12h0m0 11h0m1-29h0m0 10h0m0 4h0m0 6h0m0 22h0m1-59h0m0 12h0m0 17h0m0 17h0m0 2h0m0 5h0m1-74h0m0 35h0m0 10h0m0 16h0m0 10h0m1-64h0m0 10h0m0 7h0m0 14h0m0 30h0m1-39h0m0 9h0m0 2h0m0 17h0m0 19h0m0 1h0m1-58h0m0 9h0m0 3h0m0 5h0m0 6h0m0 11h0m0 24h0m1-65h0m0 9h0m0 20h0m0 7h0m0 6h0m0 8h0m1-54h0m0 18h0m0 7h0m0 1h0m0 1h0m0 12h0m0 15h0m1-17h0m0 15h0m0 5h0m0 4h0m1-54h0m0 15h0m0 12h0m0 7h0m0 3h0m0 48h0m1-109h0m0 19h0m0 29h0m0 10h0m0 29h0m0 9h0m1-67h0m0 3h0m0 1h0m0 23h0m0 24h0m0 4h0m0 3h0m1-58h0m0 9h0m0 5h0m0 18h0m0 13h0m0 7h0m1-54h0m0 14h0m0 2h0m0 12h0m0 15h0m0 28h0m1-70h0m0 16h0m0 2h0m0 3h0m0 6h0m0 35h0m0 56h0m1-119h0m0 5h0m0 5h0m0 23h0m0 14h0m0 11h0m1-63h0m0 3h0m0 10h0m0 22h0m0 5h0m0 9h0m1-47h0m0 1h0m0 8h0m0 16h0m0 1h0m0 2h0m0 20h0m1-62h0m0 10h0m0 8h0m0 12h0m0 35h0m0 6h0m1-89h0m0 41h0m0 6h0m0 1h0m0 28h0m0 18h0m0 13h0m1-73h0m0 8h0m0 8h0m0 20h0m0 5h0m0 20h0m1-39h0m0 4h0m0 2h0m0 24h0m0 2h0m0 8h0m1-59h0m0 9h0m0 7h0m0 10h0m0 16h0m0 5h0m1-72h0m0 17h0m0 4h0m0 10h0m0 9h0m0 5h0m0 14h0m1-71h0m0 27h0m0 20h0m0 10h0m0 5h0m0 6h0m0 14h0m1-53h0m0 2h0m0 10h0m0 13h0m0 5h0m0 8h0m1-41h0m0 10h0m0 13h0m0 19h0m0 10h0m0 14h0m0 18h0m1-84h0m0 14h0m0 9h0m0 47h0m0 12h0m0 1h0m1-111h0m0 3h0m0 21h0m0 17h0m0 13h0m0 7h0m1-58h0m0 19h0m0 16h0m0 6h0m0 5h0m0 16h0m0 15h0m0 6h0m1-56h0m0 34h0m0 6h0m0 8h0m0 3h0m1-79h0m0 43h0m0 4h0m0 8h0m75 59h0m0 22h0m0 1h0m0 11h0m0 9h0m0 8h0m1-40h0m0 12h0m0 7h0m0 4h0m0 3h0m0 5h0m0 20h0m1-81h0m0 8h0m0 35h0m0 14h0m0 7h0m0 18h0m1-77h0m0 9h0m0 21h0m0 25h0m0 6h0m0 76h0m1-125h0m0 2h0m0 8h0m0 23h0m0 10h0m0 7h0m1-49h0m0 22h0m0 7h0m0 2h0m0 13h0m0 4h0m1-70h0m0 15h0m0 13h0m0 7h0m0 3h0m0 3h0m1-33h0m0 5h0m0 6h0m0 27h0m0 11h0m0 30h0m1-108h0m0 27h0m0 19h0m0 24h0m0 2h0m0 19h0m0 16h0m1-84h0m0 4h0m0 41h0m0 4h0m0 5h0m0 5h0m1-71h0m0 5h0m0 22h0m0 19h0m0 5h0m0 16h0m1-54h0m0 9h0m0 3h0m0 7h0m0 12h0m0 8h0m0 1h0m1-51h0m0 15h0m0 5h0m0 12h0m0 25h0m1-49h0m0 5h0m0 3h0m0 12h0m0 10h0m0 5h0m0 9h0m1-78h0m0 32h0m0 25h0m0 7h0m0 13h0m0 10h0m0 3h0m1-73h0m0 38h0m0 8h0m0 9h0m0 22h0m0 14h0m1-120h0m0 31h0m0 12h0m0 19h0m0 6h0m0 28h0m1-49h0m0 25h0m0 2h0m0 4h0m0 5h0m0 1h0m0 15h0m1-71h0m0 6h0m0 10h0m0 5h0m0 9h0m0 2h0m1-50h0m0 19h0m0 5h0m0 23h0m0 14h0m0 39h0m1-95h0m0 4h0m0 19h0m0 4h0m0 5h0m0 5h0m0 13h0m0 27h0m1-66h0m0 33h0m0 7h0m0 45h0m1-87h0m0 22h0m0 24h0m0 13h0m0 2h0m0 4h0m0 6h0m0 1h0m1-91h0m0 20h0m0 30h0m0 2h0m0 17h0m0 2h0m1-83h0m0 41h0m0 5h0m0 11h0m0 11h0m0 24h0m0 2h0m1-76h0m0 13h0m0 7h0m0 26h0m0 15h0m0 2h0m1-77h0m0 2h0m0 23h0m0 1h0m0 17h0m0 4h0m0 1h0m0 9h0m1-26h0m0 31h0m0 7h0m1-32h0m0 6h0m0 8h0m0 5h0m1-26h0m0 11h0m0 5h0m0 15h0m0 12h0m0 16h0m1-131h0m0 73h0m0 10h0m0 10h0m0 19h0m1-76h0m0 34h0m0 9h0m0 25h0m0 8h0m0 6h0m1-64h0m0 19h0m0 3h0m0 9h0m0 12h0m0 5h0m0 5h0m0 16h0m1-83h0m0 32h0m0 9h0m0 11h0m0 4h0m0 2h0m1-50h0m0 11h0m0 1h0m0 14h0m0 2h0m0 12h0m0 6h0m1-43h0m0 6h0m0 3h0m0 12h0m0 13h0m0 12h0m0 8h0m1-67h0m0 21h0m0 9h0m0 10h0m0 13h0m0 3h0m0 17h0m0 6h0m1-52h0m0 16h0m0 6h0m0 10h0m0 7h0m0 10h0m1-115h0m0 26h0m0 42h0m0 5h0m0 9h0m0 26h0m0 6h0m1-80h0m0 7h0m0 34h0m0 16h0m0 7h0m0 6h0m1-55h0m0 3h0m0 20h0m0 8h0m0 10h0m0 16h0m0 3h0m1-95h0m0 26h0m0 4h0m0 6h0m0 9h0m0 28h0m0 22h0m1-36h0m0 4h0m0 4h0m0 9h0m0 1h0m0 8h0m0 5h0m1-52h0m0 2h0m0 24h0m0 7h0m0 6h0m0 7h0m0 39h0m1-109h0m0 15h0m0 22h0m0 3h0m0 4h0m0 6h0m1-19h0m0 2h0m0 8h0m0 4h0m0 39h0m0 3h0m1-65h0m0 24h0m0 7h0m0 14h0m0 2h0m0 1h0m0 7h0m1-75h0m0 19h0m0 10h0m0 8h0m0 5h0m0 48h0m1-61h0m0 19h0m0 2h0m0 10h0m0 2h0m0 5h0m0 2h0m1-119h0m0 57h0m0 28h0m0 6h0m0 13h0m0 4h0m1-85h0m0 40h0m0 4h0m0 4h0m0 11h0m0 14h0m1-32h0m0 5h0m0 4h0m0 6h0m0 8h0m0 3h0m0 3h0m0 39h0m1-55h0m0 6h0m0 7h0m0 5h0m0 5h0m0 21h0m1-56h0m0 18h0m0 28h0m0 4h0m1-62h0m0 14h0m0 4h0m0 5h0m0 20h0m1-42h0m0 21h0m0 9h0m0 8h0m0 11h0m0 20h0m1-80h0m0 20h0m0 6h0m0 10h0m0 10h0m0 17h0m0 9h0m1-84h0m0 49h0m0 4h0m0 4h0m0 11h0m0 10h0m0 14h0m1-104h0m0 29h0m0 28h0m0 6h0m0 14h0m0 28h0m1-58h0m0 3h0m0 36h0m0 2h0m0 3h0m0 29h0m1-75h0m0 7h0m0 24h0m0 2h0m0 5h0m0 6h0m0 49h0m1-87h0m0 9h0m0 9h0m0 8h0m0 5h0m0 17h0m0 28h0m1-103h0m0 32h0m0 9h0m0 2h0m0 6h0m0 11h0m1-13h0m0 4h0m0 3h0m0 13h0m0 4h0m1-47h0m0 9h0m0 5h0m0 19h0m0 8h0m1-57h0m0 19h0m0 5h0m0 4h0m0 14h0m0 11h0m0 3h0m1-50h0m0 6h0m0 5h0m0 11h0m0 5h0m0 14h0m0 14h0m1-69h0m0 15h0m0 31h0m0 5h0m0 12h0m0 25h0m1-51h0m0 4h0m0 2h0m1-27h0m0 26h0m0 15h0m0 7h0m0 9h0m1-86h0m0 26h0m0 7h0m0 8h0m0 4h0m0 15h0m0 3h0m0 17h0m1-55h0m0 20h0m0 24h0m0 10h0m0 14h0m0 4h0m1-73h0m0 23h0m0 8h0m0 10h0m0 7h0m0 11h0m1-53h0m0 4h0m0 3h0m0 3h0m0 9h0m0 9h0m1-34h0m0 11h0m0 27h0m0 5h0m0 12h0m0 7h0m0 8h0m1-20h0m0 7h0m0 8h0m0 3h0m0 3h0m1-96h0m0 21h0m0 6h0m0 26h0m0 3h0m0 10h0m1-55h0m0 13h0m0 25h0m0 3h0m0 22h0m0 20h0m1-76h0m0 2h0m0 22h0m0 14h0m0 5h0m0 23h0m1-77h0m0 17h0m0 41h0m0 7h0m0 7h0m1-76h0m0 17h0m0 17h0m0 8h0m0 7h0m0 4h0m0 11h0m1-36h0m0 12h0m0 7h0m0 6h0m0 19h0m0 6h0m1-41h0m0 1h0m0 15h0m0 3h0m0 3h0m0 5h0m0 19h0m1-58h0m0 32h0m0 13h0m1-64h0m0 8h0m0 29h0m0 15h0m0 16h0m0 8h0m0 20h0m1-91h0m0 5h0m0 8h0m0 9h0m0 16h0m0 66h0m1-91h0m0 13h0m0 3h0m0 12h0m0 11h0m0 6h0m0 16h0m1-70h0m0 14h0m0 5h0m0 16h0m0 9h0m0 7h0m0 36h0m1-87h0m0 27h0m0 15h0m0 5h0m1-20h0m0 9h0m0 5h0m0 7h0m0 17h0m1-54h0m0 2h0m0 8h0m0 7h0m0 4h0m0 6h0m0 27h0m1-68h0m0 26h0m0 6h0m0 11h0m0 9h0m0 4h0m1-44h0m0 9h0m0 11h0m0 8h0m0 2h0m0 29h0m0 3h0m1-59h0m0 15h0m0 4h0m0 1h0m0 28h0m0 9h0m1-43h0m0 2h0m0 13h0m0 27h0m0 10h0m1-76h0m0 13h0m0 6h0m0 16h0m0 9h0m0 2h0m1-57h0m0 16h0m0 3h0m0 40h0m0 21h0m1-132h0m0 76h0m0 1h0m0 6h0m0 43h0m1-40h0m0 7h0m0 13h0m0 8h0m0 8h0m1-38h0m0 11h0m0 6h0m0 2h0m0 5h0m0 2h0m0 7h0m1-65h0m0 9h0m0 6h0m0 4h0m0 5h0m0 20h0m0 41h0m1-48h0m0 3h0m0 18h0m1-52h0m0 22h0m0 5h0m0 7h0m0 6h0m0 4h0m1-33h0m0 11h0m0 6h0m0 13h0m0 17h0m0 22h0m1-86h0m0 19h0m0 7h0m0 29h0m0 8h0m0 2h0m0 19h0m1-60h0m0 10h0m0 21h0m0 2h0m0 8h0m0 4h0m0 23h0m0 1h0m1-78h0m0 9h0m0 17h0m0 6h0m0 2h0m0 1h0m1-30h0m0 24h0m0 28h0m0 3h0m1-79h0m0 33h0m0 21h0m0 2h0m0 15h0m0 4h0m0 16h0m1-45h0m0 3h0m0 9h0m0 10h0m0 2h0m0 10h0m1-63h0m0 3h0m0 7h0m0 2h0m0 19h0m0 3h0m0 8h0m1-32h0m0 8h0m0 12h0m0 1h0m0 7h0m0 15h0m1-45h0m0 10h0m0 6h0m0 34h0m0 9h0m1-67h0m0 1h0m0 1h0m0 35h0m0 8h0m0 4h0m0 16h0m1-89h0m0 27h0m0 14h0m0 3h0m0 2h0m0 5h0m0 23h0m1-45h0m0 20h0m0 7h0m0 2h0m0 7h0m0 17h0m1-69h0m0 4h0m0 17h0m0 4h0m0 1h0m0 13h0m1-28h0m0 14h0m0 11h0m0 8h0m1-49h0m0 9h0m0 18h0m0 29h0m0 3h0m0 11h0m0 6h0m1-117h0m0 53h0m0 4h0m0 7h0m0 10h0m0 16h0m0 15h0m0 11h0m1-44h0m0 3h0m0 6h0m0 3h0m0 2h0m0 11h0m1-68h0m0 30h0m0 19h0m0 10h0m0 6h0m0 11h0m0 2h0m1-45h0m0 14h0m0 3h0m0 14h0m0 3h0m0 6h0m1-112h0m0 50h0m0 1h0m0 28h0m0 9h0m0 6h0m0 33h0m1-60h0m0 15h0m0 10h0m0 16h0m0 2h0m0 3h0m0 45h0m0 8h0m1-102h0m0 9h0m0 2h0m0 53h0m1-43h0m0 4h0m0 2h0m0 6h0m1-21h0m0 22h0m0 9h0m0 2h0m0 20h0m0 31h0m1-96h0m0 7h0m0 10h0m0 15h0m0 9h0m0 7h0m1-59h0m0 33h0m0 5h0m0 7h0m0 9h0m0 18h0m1-84h0m0 24h0m0 12h0m0 7h0m0 13h0m0 12h0m1-85h0m0 45h0m0 21h0m0 4h0m0 4h0m0 5h0m1-59h0m0 14h0m0 3h0m0 13h0m0 12h0m0 5h0m0 7h0m1-50h0m0 20h0m0 9h0m0 3h0m0 11h0m0 10h0m0 18h0m1-74h0m0 17h0m0 29h0m0 1h0m0 19h0m0 3h0m0 5h0m0 9h0m1-91h0m0 17h0m0 7h0m0 23h0m0 6h0m0 5h0m0 3h0m0 1h0m1-20h0m0 17h0m0 10h0m0 4h0m0 2h0m0 5h0m1-126h0m0 52h0m0 14h0m0 14h0m0 2h0m0 2h0m1-33h0m0 12h0m0 26h0m0 4h0m0 7h0m0 3h0m1-63h0m0 27h0m0 20h0m0 5h0m0 19h0m0 21h0m1-74h0m0 7h0m0 19h0m0 25h0m0 14h0m0 15h0m1-71h0m0 13h0m0 13h0m0 10h0m0 1h0m1-62h0m0 13h0m0 6h0m0 9h0m0 25h0m0 3h0m1-48h0m0 4h0m0 20h0m0 1h0m0 27h0m0 3h0m0 5h0m0 20h0m1-82h0m0 24h0m0 1h0m0 6h0m0 6h0m0 1h0m0 21h0m1-36h0m0 11h0m0 7h0m0 8h0m0 9h0m0 21h0m1-102h0m0 4h0m0 16h0m0 18h0m0 3h0m1-28h0m0 20h0m0 16h0m0 4h0m0 4h0m0 8h0m1-37h0m0 5h0m0 6h0m0 6h0m0 30h0m0 2h0m0 3h0m0 20h0m1-58h0m0 9h0m0 12h0m0 5h0m0 28h0m0 11h0m0 14h0m1-133h0m0 37h0m0 11h0m0 15h0m0 15h0m0 11h0m1-38h0m0 12h0m0 10h0m0 7h0m0 1h0m0 12h0m0 9h0m1-89h0m0 45h0m0 9h0m0 4h0m0 8h0m0 12h0m1-59h0m0 6h0m0 33h0m0 12h0m0 7h0m0 1h0m0 5h0m1-43h0m0 11h0m0 9h0m0 11h0m0 14h0m0 4h0m0 7h0m1-76h0m0 14h0m0 1h0m0 1h0m0 14h0m1-64h0m0 6h0m0 2h0m0 13h0m0 32h0m0 16h0m0 4h0m0 5h0m0 9h0m1-84h0m0 16h0m0 14h0m0 6h0m0 18h0m0 2h0m0 8h0m0 6h0m1-64h0m0 8h0m0 26h0m0 8h0m0 26h0m0 5h0m0 54h0m1-132h0m0 23h0m0 18h0m0 1h0m0 14h0m0 2h0m0 28h0m1-94h0m0 29h0m0 5h0m0 6h0m0 7h0m0 19h0m0 4h0m0 4h0m1-56h0m0 19h0m0 9h0m0 1h0m0 3h0m0 4h0m0 8h0m0 13h0m0 6h0m1-84h0m0 3h0m0 2h0m0 38h0m0 23h0m0 13h0m0 26h0m0 13h0m1-112h0m0 12h0m0 17h0m0 12h0m0 14h0m0 3h0m0 16h0m0 10h0m1-88h0m0 14h0m0 7h0m0 20h0m0 3h0m0 3h0m0 7h0m0 50h0m0 18h0m1-152h0m0 20h0m0 62h0m0 1h0m0 18h0m0 3h0m0 33h0m1-120h0m0 19h0m0 17h0m0 3h0m0 10h0m0 23h0m0 19h0m0 12h0m1-99h0m0 13h0m0 21h0m0 11h0m0 9h0m0 5h0m0 13h0m0 29h0m0 9h0m1-69h0m0 10h0m0 2h0m0 12h0m0 11h0m0 6h0m0 14h0m1-82h0m0 24h0m0 8h0m0 7h0m0 5h0m0 11h0m0 1h0m0 14h0m1-95h0m0 3h0m0 63h0m0 8h0m0 18h0m0 9h0m0 6h0m0 5h0m1-67h0m0 5h0m0 32h0m0 47h0m1-110h0m0 27h0m0 12h0m0 4h0m0 12h0m0 3h0m0 18h0m0 14h0m1-99h0m0 32h0m0 12h0m0 26h0m0 8h0m0 38h0m0 19h0m1-142h0m0 36h0m0 21h0m0 10h0m0 2h0m0 1h0m0 32h0m1-107h0m0 24h0m0 37h0m0 2h0m0 4h0m0 23h0m0 5h0m1-102h0m0 31h0m0 50h0m0 7h0m0 10h0m0 6h0m0 4h0m1-89h0m0 28h0m0 3h0m0 13h0m0 6h0m0 3h0m0 2h0m0 1h0m0 13h0m1-33h0m0 11h0m0 9h0m0 10h0m0 4h0m0 6h0m0 25h0m1-44h0" fill="none" stroke="#1f77b4" stroke-width="5.8" stroke-linecap="round"/></g><path d="M381.97 304.85V29" stroke="#000" stroke-width="1.8" stroke-dasharray="6.3 2.7" fill="none"/><path d="M400.69 304.85V29" stroke="#000" stroke-width="1.8" stroke-dasharray="6.3 2.7" fill="none"/></g><rect x="417.76" y="213.82" width="164.51" height="82.76" fill="#fff"/><g clip-path="url(#c2)"><g transform="scale(.5)"><path d="M836 478h0m1 18h0m1 1h0m1-2h0m1 12h0m1-4h0m1-9h0m2 10h0m1-12h0m1 5h0m1 5h0m1-3h0m1 9h0m1-11h0m2-3h0m1 12h0m1-5h0m1 3h0m1 30h0m1-28h0m1-7h0m2 0h0m1-8h0m1 9h0m1-8h0m1 14h0m1-9h0m1-9h0m2 13h0m1 7h0m1-4h0m1-2h0m1 9h0m1-18h0m2 8h0m1-4h0m1 6h0m1-14h0m1 18h0m1-12h0m1 10h0m2 3h0m1-7h0m1 14h0m1-23h0m1 1h0m1-1h0m1 4h0m2 8h0m1 5h0m1-9h0m1-5h0m1 0h0m1-10h0m1 14h0m2-13h0m1 21h0m1-18h0m1 25h0m1-34h0m1 25h0m1-21h0m2 11h0m1-1h0m1 8h0m1 8h0m1-3h0m1-21h0m1 21h0m2-22h0m1 7h0m1 18h0m1-22h0m1 4h0m1 6h0m2-11h0m1 15h0m1-18h0m1 23h0m1-7h0m1-3h0m1 11h0m2-20h0m1 13h0m2-4h0m1 2h0m1-5h0m1-8h0m2-5h0m1 22h0m1 2h0m1-8h0m1-2h0m1-9h0m1 25h0m2-17h0m1 10h0m1-1h0m1-12h0m1 8h0m1 4h0m1-8h0m2 4h0m1 3h0m1-25h0m1 24h0m1-5h0m1 1h0m1-12h0m2 6h0m3 6h0m1-6h0m1 3h0m2 0h0m1 18h0m1-17h0m1-13h0m1 3h0m1 16h0m1 1h0m2-9h0m1-2h0m1 10h0m1-20h0m1 20h0m1-2h0m1 0h0m2-18h0m1 18h0m1 11h0m1-16h0m1-4h0m1-3h0m1 8h0m2 7h0m1-4h0m1 2h0m1 7h0m1-20h0m1-3h0m1 1h0m2 10h0m2 2h0m1 12h0m1-20h0m1 6h0m1-13h0m2 1h0m1 2h0m1 7h0m1 22h0m1-17h0m1 1h0m2-14h0m1 8h0m1-4h0m1 15h0m1-9h0m1 10h0m1-17h0m2 8h0m1 5h0m1 9h0m1 2h0m1-23h0m1 18h0m1-12h0m3 0h0m1 3h0m1-17h0m1 19h0m1-8h0m1 6h0m2-18h0m1 15h0m1-2h0m1 1h0m1 3h0m1 7h0m1-7h0m2 3h0m1-9h0m1-3h0m1 4h0m1-1h0m1 10h0m1 0h0m2 2h0m1-4h0m1-6h0m1-13h0m1 25h0m1 0h0m2-22h0m1 33h0m1-25h0m1 16h0m1-19h0m1 12h0m1-2h0m2 6h0m1-6h0m1-8h0m1 31h0m1-38h0m1 9h0m1-10h0m2 22h0m1-7h0m1-4h0m1 16h0m1-7h0m1-9h0m1 2h0m2 3h0m1-3h0m1 10h0m1-5h0m1-2h0m1 3h0m1-8h0m2 10h0m1 4h0m1-7h0m1-6h0m1 3h0m1-5h0m2 15h0m1-1h0m1-13h0m1 6h0m1-7h0m1 5h0m1-5h0m2 16h0m1-18h0m1 16h0m1-14h0m1 8h0m1-4h0m1-5h0m2-1h0m1 8h0m1 4h0m2-1h0m1-7h0m1 11h0m2-11h0m1 1h0m1 0h0m1 4h0m1-16h0m1 17h0m1-2h0m2 3h0m1 24h0m1-27h0m1-12h0m1 2h0m1 13h0m1-8h0m2 7h0m1-1h0m1-6h0m1-15h0m1 9h0m1 2h0m2 8h0m1-8h0m1 7h0m1 15h0m1-23h0m1-9h0m1 0h0m2 17h0m1-4h0m1 21h0m1-29h0m1-5h0m1 14h0m1 7h0m2 20h0" fill="none" stroke="#1f77b4" stroke-width="7" stroke-linecap="round"/></g></g><rect x="417.76" y="213.82" width="164.51" height="82.76" fill="none" stroke="#000" stroke-width="1.65"/><rect x="83.6" y="29" width="514.1" height="275.85" fill="none" stroke="#000" stroke-width="1.65"/><path d="M176.07 304.85v6M269.66 304.85v6M363.25 304.85v6M456.84 304.85v6M550.44 304.85v6" stroke="#000" stroke-width="1.6" fill="none"/><text x="176.07" y="332.55" font-size="20.5" text-anchor="middle">2290</text><text x="269.66" y="332.55" font-size="20.5" text-anchor="middle">2300</text><text x="363.25" y="332.55" font-size="20.5" text-anchor="middle">2310</text><text x="456.84" y="332.55" font-size="20.5" text-anchor="middle">2320</text><text x="550.44" y="332.55" font-size="20.5" text-anchor="middle">2330</text><path d="M83.6 299.65h-6M83.6 248.1h-6M83.6 196.55h-6M83.6 145h-6M83.6 93.45h-6M83.6 41.9h-6" stroke="#000" stroke-width="1.6" fill="none"/><text x="71.9" y="307.7" font-size="20.5" text-anchor="end">0.75</text><text x="71.9" y="256.15" font-size="20.5" text-anchor="end">0.80</text><text x="71.9" y="204.6" font-size="20.5" text-anchor="end">0.85</text><text x="71.9" y="153.05" font-size="20.5" text-anchor="end">0.90</text><text x="71.9" y="101.5" font-size="20.5" text-anchor="end">0.95</text><text x="71.9" y="49.95" font-size="20.5" text-anchor="end">1.00</text><text x="340.65" y="358.4" font-size="20.5" text-anchor="middle">Days (BTJ)</text><text transform="translate(15.7 166.93) rotate(-90)" font-size="20.5" text-anchor="middle">Normalized Flux</text><text x="340.65" y="18.6" font-size="24.3" text-anchor="middle">Target Light Curve: 00119862172</text>
<g clip-path="url(#c3)"><path d="M687.1 304.8L687.4 304.8L687.6 304.8L687.9 304.7L688.1 304.7L688.4 304.6L688.6 304.6L688.9 304.5L689.2 304.5L689.4 304.4L689.7 304.3L689.9 304.2L690.2 304.2L690.4 304.1L690.7 304L691 303.9L691.2 303.8L691.5 303.7L691.7 303.6L692 303.5L692.2 303.4L692.5 303.3L692.8 303.1L693 302.9L693.3 302.7L693.5 302.5L693.8 302.3L694 302L694.3 301.8L694.6 301.6L694.8 301.4L695.1 301.2L695.3 301L695.6 300.9L695.8 300.8L696.1 300.7L696.4 300.7L696.6 300.8L696.9 301L697.1 301.3L697.4 301.7L697.6 302.1L697.9 302.5L698.2 302.9L698.4 303.2L698.7 303.4L698.9 303.5L699.2 303.4L699.4 303L699.7 302.6L700 302L700.2 301.4L700.5 300.8L700.7 300.2L701 299.8L701.2 299.4L701.5 299.3L701.8 299.4L702 299.6L702.3 299.9L702.5 300.3L702.8 300.7L703 301.1L703.3 301.5L703.6 301.8L703.8 302L704.1 302.1L704.3 301.9L704.6 301.4L704.8 300.7L705.1 299.7L705.4 298.6L705.6 297.4L705.9 296.2L706.1 294.9L706.4 293.8L706.6 292.8L706.9 292L707.2 291.4L707.4 291.1L707.7 291.3L707.9 292.4L708.2 294L708.4 295.8L708.7 297.5L709 298.8L709.2 299.3L709.3 299.2L709.4 299L709.5 298.7L709.5 298.4L709.6 297.9L709.7 297.4L709.8 296.8L709.9 296.1L710 295.5L710 294.8L710.1 294.1L710.2 293.4L710.3 292.7L710.4 292.1L710.4 291.5L710.5 290.9L710.6 290.5L710.7 290.1L710.8 289.8L710.9 289.7L711 289.7L711.1 289.8L711.1 290L711.2 290.4L711.3 290.8L711.4 291.3L711.5 291.8L711.6 292.5L711.7 293.1L711.8 293.9L711.9 294.6L712 295.4L712.1 296.1L712.2 296.9L712.3 297.6L712.4 298.3L712.5 298.9L712.6 299.5L712.6 299.9L712.7 300.3L712.8 300.6L713 300.7L713.1 300.7L713.2 300.6L713.3 300.4L713.4 300.1L713.5 299.7L713.6 299.3L713.7 298.8L713.8 298.3L713.9 297.7L714 297.1L714.1 296.5L714.2 295.9L714.3 295.3L714.4 294.7L714.6 294.2L714.7 293.7L714.8 293.2L714.9 292.9L715 292.6L715.1 292.5L715.2 292.4L715.4 292.5L715.5 292.7L715.6 293L715.7 293.4L715.8 293.9L716 294.4L716.1 295L716.2 295.7L716.3 296.4L716.5 297.1L716.6 297.8L716.7 298.5L716.8 299.2L717 299.9L717.1 300.5L717.2 301L717.4 301.4L717.5 301.8L717.6 302L717.8 302.1L717.9 302L718.1 301.6L718.2 301.1L718.3 300.4L718.5 299.6L718.6 298.6L718.8 297.6L718.9 296.4L719.1 295.2L719.2 294.1L719.4 292.9L719.5 291.8L719.7 290.8L719.8 289.9L720 289.1L720.1 288.6L720.3 288.3L720.4 288.3L720.6 288.7L720.8 289.2L720.9 290L721.1 291L721.3 292.2L721.4 293.5L721.6 294.8L721.8 296.2L721.9 297.5L722.1 298.8L722.3 299.9L722.5 300.9L722.6 301.6L722.8 302L723 302.1L723.2 301.8L723.4 301.3L723.5 300.5L723.7 299.4L723.9 298.2L724.1 296.8L724.3 295.2L724.5 293.5L724.7 291.6L724.9 289.7L725.1 287.8L725.3 285.9L725.5 284L725.7 281.8L725.9 279.1L726.1 275.9L726.4 272.4L726.6 268.6L726.8 264.8L727 260.9L727.2 257.2L727.4 253.8L727.7 250.8L727.9 248.5L728.1 246.8L728.4 246.1L728.6 246.5L728.8 248L729.1 250.5L729.3 253.8L729.6 257.8L729.8 262.2L730.1 266.9L730.3 271.7L730.6 276.4L730.8 280.7L731.1 284.5L731.4 287.4L731.6 289.4L731.9 291.3L732.2 293.1L732.5 294.9L732.8 296.7L733 298.3L733.3 299.8L733.6 301.2L733.9 302.3L734.2 303.2L734.5 303.8L734.8 304.1L735.1 303.9L735.4 302.5L735.8 300.1L736.1 296.8L736.4 292.7L736.7 288.1L737.1 283L737.4 277.6L737.7 272.3L738.1 267.1L738.4 262.3L738.8 256.7L739.1 250.1L739.5 243L739.9 235.8L740.3 229.1L740.6 223.5L741 219.6L741.4 218L741.8 219L742.2 222.4L742.6 227.5L743 234L743.4 241.3L743.9 248.8L744.3 255.8L744.7 261.8L745.2 266.6L745.6 271.5L746.1 276.7L746.5 281.8L747 286.8L747.5 291.5L747.9 295.6L748.4 298.9L748.9 301.1L749.4 302.1L749.9 302L750.5 301.5L751 300.9L751.5 300L752.1 298.9L752.6 297.7L753.2 296.5L753.7 295.3L754.3 294.1L754.9 292.7L755.5 291.2L756.1 289.1L756.7 286.1L757.4 280.6L758 273.2L758.7 264.8L759.3 256.1L760 248.3L760.7 242.2L761.4 236.9L762.1 231.6L762.9 227L763.6 223.8L764.3 222.8L765.1 225L765.9 229.8L766.7 236.3L767.5 243.4L768.4 249.7L769.2 256.2L770.1 263.8L770.9 271.8L771.9 279.2L772.8 285L773.7 288.1L774.7 287.3L775.7 282.8L776.7 275.4L777.7 266.2L778.7 256.3L779.8 247L780.9 235.5L782 222.9L783.2 212.1L784.3 205.7L785.5 200.6L786.8 196.9L788 196L789.3 198.4L790.6 203.2L792 209.4L793.4 217.5L794.8 230.4L796.3 245.5L797.8 259.4L799.3 269.9L800.9 280.8L802.5 290.9L804.2 298.7L805.9 302.1L807.7 301.5L809.5 299.9L811.4 297.9L813.3 296.2L815.3 294.4L817.4 292.7L819.5 291.8L821.7 292.4L824 294.2L826.3 296.4L828.8 298.6L831.3 301.1L833.9 302L836.5 297.7L839.3 288.9L842.2 272.6L845.2 244.5L848.3 201.5L851.5 130.4L854.9 63.9L858.4 3.6L862 -53.8L865.8 -53.8L869.8 -53.8L873.9 -53.8L878.3 -53.8L882.8 -53.8L887.5 -53.8L892.5 -53.8L897.8 -53.8L903.2 -53.8L909 -53.8L915.1 -53.8L921.6 -53.8L928.4 -53.8L935.6 -53.8L943.2 -53.8L951.3 -53.8L960 -53.8L969.2 -53.8L979 -53.8L989.6 -53.8L1000.9 26.7L1013.1 139.2L1026.3 201.8" fill="none" stroke="#1f77b4" stroke-width="3.8" stroke-linejoin="round"/><path d="M683.5 304.9L684.9 303.5L685.6 302.8L686 197.3L686.1 197.3L686.6 302.8L687.3 303.5L688.6 303.7L689.5 303.6L690.4 303.2L691.2 303.5L692.1 304.3L692.9 304.3L693.8 304.2L694.6 303.7L695.5 304.7L696.4 303.7L697.2 303.7L698.1 304.1L698.9 304.3L699.8 304.3L700.6 304L701.5 304.3L702.4 304L703.2 303.9L704.1 303.8L704.9 303L705.8 303.3L706.6 303.5L707.5 303.7L708.4 301.8L709.2 303.5L710.1 302.1L710.9 303.7L711.8 302.8L712.6 303.7L713.5 304.5L714.4 304.5L715.2 303.7L716.1 303.8L716.9 303L717.8 303.7L718.6 303.4L719.5 303.5L720.4 303.5L721.2 304L722.1 303.5L723.4 299.3L724 304.8L724.6 277.3L725 303.3L725.3 264.2L725.8 301.4L726.4 288.3L726.9 304L727.4 291.1L727.7 303.3L728.1 278.6L728.6 304.8L729.1 296.6L729.6 304.2L730.1 302.1L731.2 303.8L732.3 303.5L733.2 303.9L734.1 302.7L734.9 303.5L735.8 302.8L736.6 303.3L737.5 303.1L738.3 304.4L739.2 303.6L740.1 303.7L740.9 303.4L741.8 302.2L742.6 303.3L743.5 302.8L744.3 302.6L745.2 304.3L746.1 303.5L746.9 303.5L747.8 303.6L748.6 303.9L749.5 301.4L750.3 302.4L751.2 303L752.1 301.3L752.9 302.9L753.8 303.5L754.6 302.7L755.5 302.2L756.3 301.6L757.2 302.1L758.1 302.8L758.9 299.3L759.3 304.1L759.8 291.1L760.2 304.3L760.6 296.6L761.1 303.9L761.5 284.2L761.9 304.4L762.3 288.3L762.9 300L763.4 263.5L763.7 302.2L764 246.9L764.3 296.5L764.6 263.5L764.9 303.4L765.3 288.3L765.7 300.5L766.1 280L766.5 302.7L766.8 293.8L767.1 304.4L767.5 284.2L767.9 299.6L768.3 274.5L768.8 296.2L769.2 270.4L769.5 298.9L769.9 282.8L770.2 301.1L770.6 269L770.9 303.6L771.3 277.3L771.5 303.3L771.8 266.2L772.2 294.1L772.6 263.5L773 298L773.3 235.9L773.6 301.1L773.9 197.3L774.2 286.6L774.5 235.9L774.9 296.9L775.2 263.5L775.6 297.8L776.1 246.9L776.4 301L776.7 270.4L777.1 302.8L777.4 288.3L778 303.7L778.6 288.3L779.2 304.8L779.8 298L780.5 303L781.2 295.2L781.6 303.7L782.1 296.6L782.9 304.2L783.8 300.7L785.1 304.5L786.3 301.4L787.2 300.1L788.1 303.9L788.9 302.4L789.8 302.1L790.6 304.1L791.5 303.8L792.3 300.9L793.2 302.2L794.1 303.1L794.9 303.2L795.8 303L796.6 302L797.5 303.4L798.3 302.6L799.2 302.3L800.1 303.2L800.9 302.7L801.8 302.8L802.6 300.3L803.5 300.7L804.9 298.6L806.2 302.1L807 300.8L807.8 303.9L808.6 303.2L809.5 301.6L810.3 304.3L811.2 301.6L812 301.2L812.9 303.6L813.8 302.1L814.6 302.6L815.5 301.6L816.3 304.4L817.2 303.5L818 303L818.9 302.5L819.8 303.1L820.6 302.4L821.5 303.7L822.3 303.8L823.2 303.2L824 302.8L824.9 303.8L825.8 303.3L826.6 301.7L827.5 302.8L828.3 303.5L829.2 303.8L830 302.3L830.9 303.5L831.8 303.5L832.6 302.2L833.5 303.2L834.3 303.1L835.2 302.1L836 302.4L836.9 302.8L837.8 303.1L838.5 303.2L839.3 302.1L840.1 303.4L840.9 302.2L841.7 304.3L842.4 303.5L843.2 303.4L844 302.6L844.8 304L845.6 303.1L846.3 303.7L847.1 303.3L847.9 303.2L848.7 303.4L849.4 302.7L850.2 303.9L851 303.7L851.8 304.1L852.6 304.4L853.3 304.1L854.1 302.5L854.9 303.5L855.8 302.5L856.6 304.2L857.5 302.9L858.3 303.1L859.2 302.7L860 302.4L860.9 303.4L861.8 302.8L862.6 300.9L863.5 302.6L864.3 301.8L865.2 301.6L866 303.4L866.9 303.9L867.8 302.2L868.6 301.8L869.5 300.9L870.3 301.2L871.2 302L872 303.2L872.9 304.1L873.8 301.4L874.6 301.5L875.5 300.9L876.3 302.1L877.2 302.1L878 300.4L878.9 304.1L879.8 304.2L880.6 304.3L881.5 303.6L882.3 303.2L883.2 303.5L884 303.5L884.9 301.7L885.8 303.9L886.6 301.4L887.5 301.2L888.3 303.5L889.2 301.9L890 304.3L890.9 303.5L891.7 303.8L892.5 302.3L893.2 303.2L894 302.6L894.8 302.9L895.6 303L896.3 304L897.1 303L897.9 304.3L898.7 302.4L899.5 303.2L900.3 302.1L901.2 302.5L902 304.4L902.9 303.9L903.7 304L904.6 304.4L905.5 303.7L906.3 304L907.1 303.6L907.9 304.2L908.7 303.5L909.4 303.6L910.2 304.5L911 303.6L911.8 303.5L912.6 304.4L913.3 303.9L914.1 303.8L914.9 303.8L915.7 304.5L916.4 303.8L917.2 303.8L918 303.6L918.8 303.6L919.6 304.2L920.3 303.7L921.1 303.5L921.9 303.5L922.7 304.4L923.5 304L924.2 304.6L925 303.7L925.8 304.3L926.6 303.8L927.4 303.2L928.1 304L928.9 304.2L929.7 303.9L930.5 303.6L931.3 304.4L932 304L932.8 304.4L933.6 303.4L934.4 303.1L935.1 303.9L935.9 303.9L936.7 303.6L937.5 304.2L938.3 304.1L939 303.9L939.8 303.6L940.6 303.6L941.4 304.4L942.2 303.2L942.9 303.6L943.7 304.1L944.5 304.5L945.3 303.5L946.1 304.4L946.8 304.5L947.6 304.5L948.4 304.6L949.2 304.2L949.9 303.6L950.7 304.4L951.5 304.3L952.3 303.6L953.1 303.9L953.8 304.4L954.6 304.1L955.4 303.5L956.2 304.1L957 303.6L957.7 304.5L958.5 303.6L959.3 303.5L960.1 303.4L960.9 303.6L961.6 304L962.4 304.5L963.2 303.7L964 303.3L964.8 304.3L965.5 304.1L966.3 303.7L967.1 303.6L967.9 303.1L968.7 302.8L969.5 304.3L970.3 304.1L971.1 302.8L971.9 303.1L972.7 302.9L973.5 302.2L974.3 302.3L975.1 302.4L975.9 302.5L976.7 303.5L977.5 302.8L978.3 303.2L979.2 304L980 302.8L980.9 303L981.7 303.2L982.6 303.8L983.4 304.1L984.3 304.1L985.2 304.2L986 304.6L986.8 303.7L987.6 304.1L988.4 304.3L989.2 304.1L990 303.9L990.8 304.3L991.7 303.8L992.5 303.7L993.3 304.3L994.1 304.5L994.9 303.8L995.7 303.6L996.5 304.5L997.3 303.9L998.2 303.8L999 303.7L999.8 304.5L1000.6 304.2L1001.4 304.6L1002.2 303.4L1003 304.5L1003.8 304.4L1004.5 303.7L1005.3 303.9L1006.1 303.3L1006.9 304.2L1007.7 302.9L1008.5 304.1L1009.3 303L1010.1 304.4L1010.9 303.5L1011.7 303.2L1012.6 304.3L1013.4 303.2L1014.3 303L1015.2 302.1L1016 301.4L1016.9 302.8L1017.7 304.2L1018.6 302.2L1019.4 303.7L1020.3 303.1L1021.2 303.1L1022 304.2L1022.9 304L1023.7 304.3L1024.6 304.4L1025.4 304.6L1026.3 304" fill="none" stroke="#000" stroke-width="3.9" stroke-linejoin="round"/></g><rect x="838.7" y="38" width="179" height="30.4" rx="3.4" fill="#fff" fill-opacity="0.8" stroke="#ccc" stroke-opacity="0.8" stroke-width="1.7"/><path d="M845.8 51.7h33.4" stroke="#000" stroke-width="3.6999999999999997" stroke-linecap="square" fill="none"/><text x="892.8" y="57.6" font-size="16.87" text-anchor="start">Luhman 16AB</text><rect x="683.5" y="29" width="342.8" height="275.85" fill="none" stroke="#000" stroke-width="1.65"/><path d="M683.5 304.85v6M769.2 304.85v6M854.9 304.85v6M940.6 304.85v6M1026.3 304.85v6" stroke="#000" stroke-width="1.6" fill="none"/><text x="683.5" y="332.55" font-size="20.5" text-anchor="middle">0</text><text x="769.2" y="332.55" font-size="20.5" text-anchor="middle">5</text><text x="854.9" y="332.55" font-size="20.5" text-anchor="middle">10</text><text x="940.6" y="332.55" font-size="20.5" text-anchor="middle">15</text><text x="1026.3" y="332.55" font-size="20.5" text-anchor="middle">20</text><path d="M683.5 304.85h-6M683.5 235.89h-6M683.5 166.93h-6M683.5 97.96h-6M683.5 29h-6" stroke="#000" stroke-width="1.6" fill="none"/><text x="671.8" y="312.9" font-size="20.5" text-anchor="end">0.00</text><text x="671.8" y="243.94" font-size="20.5" text-anchor="end">0.05</text><text x="671.8" y="174.98" font-size="20.5" text-anchor="end">0.10</text><text x="671.8" y="106.01" font-size="20.5" text-anchor="end">0.15</text><text x="671.8" y="37.05" font-size="20.5" text-anchor="end">0.20</text><text x="854.9" y="358.4" font-size="20.5" text-anchor="middle">Period (hours)</text><text transform="translate(615.3 166.93) rotate(-90)" font-size="20.5" text-anchor="middle">Power</text><text x="854.9" y="18.6" font-size="24.3" text-anchor="middle">Separation: 35.7 arcsec</text>
<g clip-path="url(#c4)"><path d="M1212.5 49.2L1214 51.2L1215.5 54.9L1217 58.8L1218.5 62.9L1220 67.1L1221.5 71.5L1222.9 76.1L1224.4 81L1225.9 86.2L1227.4 91.7L1228.9 97.3L1230.4 103L1231.9 108.7L1233.4 114.4L1234.9 119.9L1236.4 125.4L1237.9 130.9L1239.4 136.4L1240.9 141.9L1242.4 147.3L1243.9 152.6L1245.4 157.8L1246.9 162.8L1248.4 167.9L1249.9 173L1251.4 178.1L1252.9 183L1254.4 187.9L1255.9 192.4L1257.4 196.7L1258.8 200.6L1260.3 204.4L1261.8 208L1263.3 211.5L1264.8 214.8L1266.3 217.8L1267.8 220.6L1269.3 222.9L1270.8 224.9L1272.3 226.7L1273.8 228.4L1275.3 230L1276.8 231.5L1278.3 232.7L1279.8 233.7L1281.3 234.4L1282.8 234.7L1284.3 234.6L1285.8 234.5L1287.3 234.2L1288.8 234L1290.3 233.7L1291.8 233.4L1293.3 233.2L1294.7 233L1296.2 232.9L1297.7 232.5L1299.2 232.1L1300.7 231.5L1302.2 230.8L1303.7 230.1L1305.2 229.3L1306.7 228.2L1308.2 226.9L1309.7 225.4L1309.8 225.3L1309.8 252.3L1309.7 252.6L1308.2 255.7L1306.7 258.4L1305.2 260.2L1303.7 261L1302.2 261.7L1300.7 262.2L1299.2 262.7L1297.7 263L1296.2 263.1L1294.7 263.1L1293.3 262.9L1291.8 262.7L1290.3 262.4L1288.8 262.1L1287.3 261.8L1285.8 261.6L1284.3 261.5L1282.8 261.4L1281.3 261.1L1279.8 260.5L1278.3 259.5L1276.8 258.2L1275.3 256.7L1273.8 255.1L1272.3 253.4L1270.8 251.7L1269.3 249.6L1267.8 247.1L1266.3 244.1L1264.8 240.7L1263.3 237.1L1261.8 233.3L1260.3 229.5L1258.8 225.7L1257.4 221.9L1255.9 217.8L1254.4 213.4L1252.9 208.9L1251.4 204.2L1249.9 199.4L1248.4 194.6L1246.9 189.6L1245.4 184.6L1243.9 179.4L1242.4 174L1240.9 168.6L1239.4 163.2L1237.9 157.6L1236.4 152.1L1234.9 146.6L1233.4 141.1L1231.9 135.3L1230.4 129.3L1228.9 123.3L1227.4 117.4L1225.9 111.7L1224.4 106.2L1222.9 101.2L1221.5 96.6L1220 92.3L1218.5 88.3L1217 84.5L1215.5 80.9L1214 77.6L1212.5 76ZM1336 257.3L1337.5 256.1L1339 253.7L1340.5 251.3L1342 249L1343.5 246.7L1345 244.5L1346.5 242.3L1348 240.2L1349.5 238.1L1351 236.1L1352.5 234.1L1354 232.2L1355.5 230.4L1357 228.7L1358.5 227L1360 225.4L1361.5 223.9L1363 222.5L1364.5 221L1366 219.6L1367.5 218.2L1369 216.8L1370.5 215.4L1372 214L1373.5 212.6L1375 211L1376.4 209.5L1377.9 207.9L1379.4 206.2L1380.9 204.3L1382.4 202.4L1383.9 200.3L1385.4 198.1L1386.9 195.8L1388.4 193.5L1389.9 191.3L1391.4 189L1392.9 186.9L1394.4 184.8L1395.9 182.9L1397.4 181.1L1398.9 179.3L1400.4 177.4L1401.9 175.4L1403.4 173.5L1404.9 171.7L1406.4 170.2L1407.9 168.9L1409.4 168L1410.9 167.6L1412.4 167.6L1413.9 168.3L1415.4 169.4L1416.8 170.9L1418.3 172.5L1419.8 174.1L1421.3 175.6L1422.8 176.8L1424.3 177.6L1425.8 178.4L1427.3 179.2L1428.8 180L1430.3 180.8L1431.8 181.4L1432.5 181.7L1432.5 210.1L1431.8 210L1430.3 209.8L1428.8 209.4L1427.3 209L1425.8 208.4L1424.3 207.7L1422.8 206.9L1421.3 205.7L1419.8 204.2L1418.3 202.6L1416.8 201L1415.4 199.5L1413.9 198.4L1412.4 197.7L1410.9 197.7L1409.4 198.1L1407.9 198.8L1406.4 199.9L1404.9 201.3L1403.4 202.8L1401.9 204.5L1400.4 206.2L1398.9 208L1397.4 209.6L1395.9 211.2L1394.4 212.9L1392.9 214.8L1391.4 216.8L1389.9 218.8L1388.4 220.9L1386.9 223L1385.4 225.1L1383.9 227.2L1382.4 229.2L1380.9 231.1L1379.4 232.9L1377.9 234.6L1376.4 236.3L1375 238L1373.5 239.6L1372 241.2L1370.5 242.7L1369 244.3L1367.5 245.8L1366 247.4L1364.5 248.9L1363 250.5L1361.5 252.1L1360 253.7L1358.5 255.4L1357 257.1L1355.5 258.8L1354 260.6L1352.5 262.4L1351 264.2L1349.5 266.1L1348 267.9L1346.5 269.8L1345 271.7L1343.5 273.6L1342 275.5L1340.5 277.5L1339 279.4L1337.5 281.4L1336 282.4ZM1464.3 50L1465.8 51.9L1467.3 53.8L1468.8 55.7L1470.3 57.5L1471.8 59.3L1473.3 61L1474.8 62.7L1476.3 64.3L1477.8 65.8L1479.2 67.3L1480.7 68.6L1482.2 69.9L1483.7 71.2L1485.2 72.4L1486.7 73.7L1488.2 74.9L1489.7 76.1L1491.2 77.3L1492.7 78.6L1494.2 79.9L1495.7 81.2L1497.2 82.6L1498.7 84.1L1500.2 85.7L1501.7 87.4L1503.2 89.2L1504.7 91.2L1506.2 93.2L1507.7 95.4L1509.2 97.7L1510.7 100L1512.2 102.5L1513.7 105L1515.1 107.5L1516.6 110.1L1518.1 112.7L1519.6 115.3L1521.1 117.9L1522.6 120.5L1524.1 123L1525.6 125.6L1527.1 128.1L1528.6 130.7L1530.1 133.3L1531.6 135.9L1533.1 138.6L1534.6 141.3L1536.1 144L1537.6 146.8L1539.1 149.6L1540.6 152.5L1542.1 155.4L1543.6 158.4L1545.1 161.4L1546.6 164.6L1548.1 167.8L1549.6 171.1L1551 174.5L1552.5 177.9L1554 181.2L1554.6 181.2L1554.6 202.1L1554 202.1L1552.5 198.8L1551 195.5L1549.6 192.2L1548.1 189L1546.6 185.9L1545.1 182.9L1543.6 180L1542.1 177.1L1540.6 174.4L1539.1 171.8L1537.6 169.3L1536.1 166.9L1534.6 164.5L1533.1 162.2L1531.6 159.9L1530.1 157.6L1528.6 155.3L1527.1 153L1525.6 150.6L1524.1 148.2L1522.6 145.8L1521.1 143.4L1519.6 140.9L1518.1 138.5L1516.6 136L1515.1 133.6L1513.7 131.2L1512.2 128.8L1510.7 126.5L1509.2 124.2L1507.7 122L1506.2 119.9L1504.7 117.9L1503.2 116L1501.7 114.1L1500.2 112.5L1498.7 110.9L1497.2 109.4L1495.7 108L1494.2 106.6L1492.7 105.3L1491.2 104.1L1489.7 102.8L1488.2 101.6L1486.7 100.4L1485.2 99.2L1483.7 98L1482.2 96.7L1480.7 95.4L1479.2 94L1477.8 92.6L1476.3 91L1474.8 89.5L1473.3 87.9L1471.8 86.2L1470.3 84.5L1468.8 82.8L1467.3 81.1L1465.8 79.3L1464.3 77.5ZM1592.1 123.5L1593.6 125.1L1595.1 126.7L1596.6 128.4L1598.1 130.1L1599.6 131.9L1601 133.8L1602.5 135.8L1604 138L1605.5 140.6L1607 143.4L1608.5 146.2L1610 148.7L1611.5 150.9L1613 152.5L1614.5 153.3L1616 152.9L1617.5 150.6L1619 147.1L1620.5 143L1622 139.2L1623.5 136.5L1625 135.6L1626.5 135.7L1628 135.9L1629.5 136.2L1631 136.5L1632.5 136.8L1634 136.9L1635.5 137.1L1637 137.7L1638.5 138.7L1640 140L1641.5 141.6L1642.9 143.3L1644.4 145L1645.9 146.7L1647.4 148.2L1648.9 149.8L1650.4 151.5L1651.9 153.1L1653.4 154.8L1654.9 156.4L1656.4 157.9L1657.9 159.4L1659.4 160.7L1660.9 161.8L1662.4 162.7L1663.9 163.5L1665.4 164.2L1666.9 164.9L1668.4 165.5L1669.9 166.3L1671.4 167.1L1672.9 167.9L1674.4 168.7L1675.9 169.5L1677.4 170.3L1678.9 171.1L1680.4 171.9L1681.5 172L1681.5 200.4L1680.4 200.3L1678.9 199.1L1677.4 197.9L1675.9 196.8L1674.4 195.7L1672.9 194.7L1671.4 193.8L1669.9 193L1668.4 192.3L1666.9 191.6L1665.4 190.9L1663.9 190.2L1662.4 189.4L1660.9 188.5L1659.4 187.4L1657.9 186.1L1656.4 184.7L1654.9 183.2L1653.4 181.5L1651.9 179.9L1650.4 178.2L1648.9 176.6L1647.4 175L1645.9 173.4L1644.4 171.5L1642.9 169.3L1641.5 167.1L1640 164.9L1638.5 162.9L1637 161.4L1635.5 160.5L1634 160.4L1632.5 160.6L1631 161.1L1629.5 161.7L1628 162.5L1626.5 163.2L1625 164L1623.5 165.5L1622 168.9L1620.5 173.4L1619 178L1617.5 182.1L1616 184.6L1614.5 185.1L1613 184.2L1611.5 182.6L1610 180.5L1608.5 177.9L1607 175.2L1605.5 172.4L1604 169.8L1602.5 167.5L1601 165.3L1599.6 162.8L1598.1 160.3L1596.6 157.6L1595.1 154.9L1593.6 152.1L1592.1 149.2Z" fill="#2ca02c"/><g transform="scale(.5)"><path d="M2425 103h0m0 8h0m0 15h0m0 13h0m0 16h0m1-42h0m0 5h0m0 3h0m0 9h0m0 14h0m0 14h0m1-38h0m0 11h0m0 17h0m1-44h0m0 67h0m1-67h0m0 10h0m1-31h0m0 13h0m0 12h0m1 4h0m0 48h0m0 9h0m1-8h0m1-48h0m0 9h0m1-6h0m0 7h0m1 42h0m1 3h0m1 1h0m1-52h0m0 19h0m0 40h0m1-47h0m0 45h0m1-46h0m0 55h0m0 2h0m1-43h0m0 6h0m0 39h0m1 1h0m0 6h0m1 0h0m1-57h0m0 3h0m0 54h0m1-43h0m0 1h0m1 8h0m0 50h0m1-56h0m0 12h0m0 31h0m0 9h0m1-38h0m0 2h0m0 32h0m0 9h0m1-39h0m0 46h0m1-62h0m1 19h0m1 44h0m0 2h0m2-40h0m0 5h0m0 38h0m0 6h0m0 8h0m1-48h0m0 35h0m1-31h0m0 49h0m1-6h0m0 5h0m1-42h0m0 48h0m1-51h0m0 2h0m1 45h0m1-36h0m0 8h0m0 43h0m1-53h0m0 7h0m2 13h0m0 36h0m0 3h0m1-30h0m0 28h0m1-29h0m0 2h0m1-12h0m0 15h0m0 33h0m1 9h0m1 9h0m1-64h0m0 20h0m0 38h0m0 12h0m1-54h0m0 6h0m0 5h0m0 41h0m1-40h0m0 36h0m0 14h0m1-41h0m0 34h0m1-38h0m0 56h0m0 3h0m1-55h0m0 39h0m0 7h0m1-35h0m1-24h0m0 2h0m0 14h0m2 56h0m0 6h0m1-59h0m0 12h0m1 50h0m1-54h0m0 13h0m0 6h0m0 39h0m3 4h0m0 15h0m1-49h0m0 3h0m0 34h0m0 5h0m1-38h0m0 40h0m0 7h0m1 3h0m2-45h0m0 43h0m1-35h0m0 43h0m1-55h0m0 8h0m1 5h0m0 6h0m0 40h0m1-37h0m0 44h0m0 10h0m1-49h0m0 38h0m2-37h0m0 41h0m0 3h0m1-41h0m0 46h0m1-42h0m0 43h0m1-49h0m0 49h0m3-35h0m0 11h0m0 40h0m1-57h0m0 15h0m0 44h0m1-49h0m0 9h0m1 42h0m1-37h0m0 6h0m1 42h0m0 6h0m1-3h0m1 2h0m0 7h0m1-62h0m1 13h0m0 53h0m1-37h0m1-7h0m0 57h0m1-10h0m1-54h0m0 18h0m1-4h0m0 43h0m1 4h0m0 7h0m1 4h0m1-53h0m0 3h0m0 50h0m1 3h0m1 15h0m1-63h0m0 55h0m0 3h0m0 8h0m2-63h0m1 6h0m1 55h0m1-1h0m1-40h0m1-7h0m0 3h0m1 56h0m2-56h0m0 3h0m0 5h0m1 3h0m1 58h0m2-3h0m1 3h0m0 6h0m2-57h0m3 58h0m1-62h0m0 63h0m0 2h0m1-58h0m1 63h0m1-6h0m1-60h0m0 7h0m0 52h0m1-46h0m2-8h0m1 59h0m1 1h0m1-55h0m0 3h0m1 69h0m1-14h0m2 11h0m1-59h0m0 49h0m1-49h0m0 53h0m1-60h0m2 10h0m1 0h0m1 54h0m2 12h0m1-68h0m2 62h0m3-61h0m1 62h0m0 7h0m1-17h0m1 3h0m2 3h0m1-65h0m0 6h0m3 60h0m1 5h0m1-5h0m2-66h0m3 6h0m1 55h0m1 10h0m1-66h0m1 62h0m1-77h0m0 75h0m1 3h0m2 2h0m1-67h0m0 56h0m0 7h0m1-73h0m0 77h0m1-72h0m0 68h0m1 5h0m1-81h0m1 7h0m1 1h0m1-14h0m0 6h0m0 8h0m1-1h0m0 65h0m2-7h0m1-63h0m1 65h0m0 5h0m3-94h0m0 24h0m1-1h0m1 59h0m1-65h0m0 6h0m1 13h0m0 6h0m0 3h0m0 21h0m1-43h0m0 11h0m0 20h0m0 9h0m0 2h0m0 16h0m1-56h0m0 5h0m0 11h0m0 4h0m0 8h0m0 20h0m1-63h0m0 27h0m52 65h0m0 3h0m0 12h0m0 7h0m1-12h0m1-34h0m0 10h0m0 7h0m0 17h0m0 17h0m0 13h0m1-59h0m0 8h0m0 8h0m0 2h0m0 24h0m0 28h0m1-24h0m1-2h0m1-50h0m1-6h0m0 58h0m1-4h0m2-6h0m1 0h0m1-55h0m0 6h0m0 46h0m2-60h0m0 64h0m1-59h0m0 56h0m1-62h0m0 6h0m2 54h0m0 10h0m1-77h0m1 57h0m1 10h0m1-73h0m0 10h0m1-2h0m1-3h0m0 54h0m2-64h0m1 0h0m0 63h0m1-59h0m1 6h0m0 53h0m3-71h0m1 8h0m1-1h0m2 56h0m1-58h0m0 51h0m1 4h0m1-2h0m1-67h0m2 65h0m1 2h0m0 1h0m2-82h0m1 82h0m2-6h0m1-59h0m1 55h0m1-70h0m0 102h0m1-93h0m1-5h0m1 1h0m0 60h0m1-67h0m0 66h0m2-64h0m1 57h0m1 2h0m0 6h0m1-69h0m0 7h0m1-13h0m0 65h0m1-68h0m0 8h0m2-4h0m0 59h0m1-66h0m0 71h0m1-62h0m1 57h0m2-6h0m0 12h0m3-66h0m1-3h0m0 61h0m3-73h0m1 5h0m0 65h0m0 5h0m1-74h0m0 63h0m0 16h0m1-82h0m0 4h0m0 55h0m3-66h0m0 62h0m0 10h0m1-5h0m1 6h0m1-11h0m1-53h0m0 2h0m1-8h0m1 52h0m1-64h0m1 62h0m0 5h0m0 5h0m1-5h0m3-69h0m0 2h0m2 1h0m0 55h0m0 7h0m1-57h0m1-5h0m2-10h0m0 65h0m0 6h0m1-65h0m0 52h0m1-52h0m0 56h0m0 1h0m1-67h0m0 12h0m0 51h0m1-58h0m2-3h0m0 64h0m0 3h0m1-83h0m0 69h0m1-57h0m0 53h0m1-61h0m1 5h0m0 51h0m0 18h0m1-67h0m2 51h0m1-66h0m0 4h0m1 56h0m1-3h0m1-70h0m0 10h0m3-1h0m1 9h0m0 55h0m1-69h0m0 10h0m1-16h0m2 1h0m0 8h0m0 73h0m1-11h0m1-60h0m1 57h0m2-64h0m0 55h0m1 7h0m1-8h0m4-5h0m2-56h0m0 63h0m1-75h0m0 2h0m1 65h0m3-64h0m1 4h0m3 63h0m1-8h0m1-1h0m1-82h0m2 20h0m0 61h0m1 1h0m1-65h0m0 71h0m1-71h0m0 9h0m2-13h0m1-9h0m0 86h0m3-6h0m1-65h0m3 74h0m1 4h0m1-64h0m0 63h0m0 23h0m1-90h0m2 70h0m1-62h0m1-2h0m2 3h0m0 64h0m4 1h0m0 8h0m0 2h0m2-74h0m0 70h0m1-71h0m0 64h0m3-60h0m0 59h0m2 11h0m0 1h0m3-5h0m1-44h0m0 8h0m0 26h0m1-51h0m0 6h0m0 1h0m0 16h0m0 29h0m1-42h0m0 5h0m0 3h0m0 9h0m0 5h0m0 8h0m0 10h0m1-38h0m0 24h0m0 6h0m0 32h0m64-324h0m0 28h0m0 1h0m0 7h0m0 1h0m0 1h0m0 5h0m1-71h0m0 26h0m0 11h0m0 3h0m0 16h0m1-21h0m0 10h0m0 4h0m0 26h0m1-58h0m2 7h0m1 1h0m1-11h0m0 62h0m0 4h0m1-51h0m0 54h0m0 2h0m1-5h0m3-63h0m0 10h0m1 1h0m0 10h0m0 1h0m0 53h0m1-7h0m2-56h0m1 11h0m1 1h0m0 52h0m0 4h0m2-55h0m2 52h0m0 5h0m1-64h0m1 9h0m1 57h0m0 8h0m1-62h0m1-1h0m1-4h0m0 12h0m0 71h0m2-21h0m1 10h0m2-6h0m1-52h0m1 53h0m1-51h0m1 2h0m1 2h0m0 55h0m1-6h0m1 1h0m2-50h0m1 58h0m0 12h0m1-66h0m0 52h0m3 3h0m1 10h0m1-68h0m0 9h0m0 54h0m1-56h0m1 51h0m0 2h0m0 7h0m0 8h0m2-71h0m0 58h0m2-65h0m0 10h0m1 2h0m1 55h0m2-55h0m0 59h0m1 3h0m1 14h0m1-72h0m0 58h0m1-50h0m0 59h0m1-12h0m0 5h0m3-57h0m0 6h0m3 53h0m2-48h0m0 76h0m0 3h0m1-18h0m1-9h0m2-55h0m0 4h0m0 68h0m1-11h0m0 5h0m2-57h0m1 59h0m1-51h0m1 50h0m2-58h0m1 11h0m2 2h0m1-13h0m0 6h0m1 57h0m0 4h0m0 6h0m1-63h0m1 64h0m1-1h0m1 4h0m1-2h0m1 17h0m1-69h0m0 61h0m1-59h0m0 51h0m1-43h0m1-3h0m0 62h0m0 5h0m1-12h0m0 21h0m2-68h0m1 64h0m1-69h0m1 6h0m0 3h0m2 0h0m0 50h0m1-56h0m0 10h0m0 6h0m0 52h0m1-67h0m0 8h0m0 53h0m1-43h0m1 5h0m1-2h0m2 3h0m0 43h0m1-42h0m2 58h0m1-9h0m0 5h0m0 9h0m1-88h0m1 81h0m1-46h0m0 52h0m0 4h0m1 0h0m1-63h0m2 7h0m0 3h0m1 50h0m1-44h0m0 3h0m1 44h0m1-44h0m0 43h0m1-48h0m1 9h0m1 49h0m1-43h0m0 1h0m1 44h0m1-40h0m0 41h0m1-51h0m0 52h0m1-42h0m0 46h0m1-42h0m0 47h0m2-41h0m1 1h0m1-33h0m1 79h0m1-45h0m0 47h0m1-38h0m0 39h0m2-39h0m0 2h0m0 36h0m1 2h0m0 3h0m1 1h0m0 9h0m1-63h0m0 15h0m0 36h0m1-35h0m0 1h0m0 46h0m1-43h0m2 37h0m1-38h0m1 6h0m1-3h0m0 8h0m0 37h0m1-47h0m0 10h0m1 36h0m1-37h0m0 43h0m1 12h0m1-49h0m0 45h0m1-39h0m0 35h0m0 7h0m2-43h0m0 46h0m1 2h0m1 6h0m0 7h0m1-57h0m0 7h0m0 37h0m1-30h0m3-9h0m0 12h0m1 36h0m0 10h0m1-43h0m1 6h0m0 33h0m0 9h0m1-48h0m0 11h0m0 32h0m2-26h0m0 2h0m0 17h0m1-29h0m0 7h0m0 1h0m0 11h0m0 11h0m0 4h0m0 5h0m0 3h0m1-32h0m0 14h0m0 4h0m0 2h0m75-129h0m0 3h0m0 16h0m1-14h0m0 19h0m0 11h0m0 3h0m0 4h0m1-34h0m0 6h0m0 15h0m0 22h0m1-53h0m0 50h0m1-61h0m0 77h0m2-68h0m2 56h0m1-58h0m0 63h0m1-71h0m0 11h0m0 64h0m2-103h0m0 37h0m0 8h0m1 76h0m2-82h0m0 7h0m2 2h0m0 67h0m0 12h0m1-18h0m0 15h0m4-78h0m2 72h0m1-71h0m0 13h0m1-5h0m2 67h0m0 1h0m1-1h0m1 3h0m1-68h0m0 13h0m0 69h0m1-84h0m0 6h0m0 89h0m0 1h0m1-84h0m0 66h0m0 20h0m1-92h0m1 81h0m0 15h0m2-20h0m2-55h0m1-7h0m0 74h0m1-80h0m1 19h0m5 0h0m0 65h0m0 9h0m1-75h0m0 57h0m1 6h0m2-12h0m1-55h0m1 53h0m1-72h0m0 10h0m0 54h0m1 0h0m0 12h0m0 6h0m3-29h0m0 8h0m0 1h0m1-57h0m2-16h0m0 65h0m0 6h0m1-68h0m0 58h0m3-2h0m3-68h0m2-6h0m1 15h0m1 57h0m3-7h0m1 13h0m2-13h0m0 17h0m1-13h0m1-6h0m1-51h0m0 3h0m1 4h0m1-12h0m0 1h0m4 60h0m1-55h0m0 55h0m1 0h0m1-50h0m0 61h0m1-62h0m2 3h0m0 55h0m2-6h0m0 4h0m1-6h0m0 11h0m2-52h0m1-7h0m0 1h0m0 10h0m0 42h0m1-40h0m0 46h0m1-56h0m0 10h0m0 45h0m1 12h0m0 3h0m1-68h0m1 5h0m0 4h0m1 57h0m1-5h0m1 7h0m2 8h0m1-68h0m1 11h0m0 50h0m1-56h0m0 61h0m2-54h0m1-10h0m2-4h0m1 14h0m0 56h0m1 13h0m2-61h0m0 52h0m0 3h0m1 2h0m1-5h0m2-46h0m1-6h0m0 64h0m2-63h0m0 56h0m5-48h0m1 1h0m0 2h0m1 52h0m1-62h0m0 4h0m0 9h0m2-6h0m0 61h0m1-1h0m1-53h0m1 2h0m1 54h0m0 25h0m1-93h0m1 16h0m1-8h0m1 9h0m1 52h0m0 6h0m2-1h0m1-60h0m0 63h0m2-61h0m0 52h0m0 1h0m1 7h0m1-66h0m0 74h0m2 1h0m1-68h0m0 58h0m2-61h0m2 8h0m0 56h0m1-1h0m1-56h0m3 2h0m0 5h0m0 53h0m4-57h0m2-6h0m1 9h0m0 65h0m1-63h0m0 55h0m1-64h0m0 63h0m1-46h0m0 13h0m0 6h0m0 27h0m1 0h0m0 7h0m1-62h0m0 11h0m0 2h0m0 14h0m0 10h0m0 11h0m1-44h0m0 10h0m0 5h0m0 15h0" fill="none" stroke="#2ca02c" stroke-width="6.8" stroke-linecap="square"/></g><path d="M1488.63 304.85V29" stroke="#000" stroke-width="1.8" stroke-dasharray="6.3 2.7" fill="none"/><path d="M1507.35 304.85V29" stroke="#000" stroke-width="1.8" stroke-dasharray="6.3 2.7" fill="none"/></g><rect x="1524.43" y="213.82" width="164.54" height="82.76" fill="#fff"/><g clip-path="url(#c5)"><g transform="scale(.5)"><path d="M3049 466h0m1-9h0m1 0h0m1 7h0m3 2h0m1 3h0m1-9h0m1 8h0m1 3h0m2 2h0m2-13h0m3 0h0m1 10h0m1-5h0m1 0h0m2-4h0m1 12h0m1-5h0m1-10h0m1-5h0m1 18h0m2-3h0m2-5h0m1 4h0m1-1h0m1-2h0m1-6h0m4 11h0m1-4h0m1 1h0m1-6h0m1 5h0m3-6h0m1 11h0m1-15h0m2 4h0m1 6h0m4 6h0m1-10h0m1 6h0m2 4h0m2-15h0m1 11h0m1-6h0m1 9h0m4-11h0m2 13h0m1-9h0m2 12h0m1-9h0m2 0h0m2 4h0m1 1h0m1-8h0m1-2h0m1 6h0m2-3h0m2 4h0m1 1h0m1-4h0m2 2h0m2-8h0m1 6h0m2-9h0m1 6h0m1 1h0m1 16h0m3-13h0m1-7h0m1 12h0m2-1h0m1-6h0m2 1h0m1-8h0m1 4h0m1 2h0m1-2h0m1 12h0m2-13h0m1 8h0m2-4h0m1-1h0m1 8h0m1 0h0m2-7h0m1 4h0m1 4h0m2-16h0m1 11h0m1 15h0m2-22h0m3 15h0m1-10h0m1 10h0m1-13h0m2-4h0m1 13h0m1 1h0m2-1h0m2-5h0m2 7h0m2-8h0m1-4h0m1 11h0m1 3h0m2-12h0m1 3h0m2 6h0m1-8h0m1 8h0m1 6h0m2-7h0m2 7h0m2-13h0m1 8h0m1-4h0m2 3h0m1-1h0m2 8h0m2-5h0m1-9h0m2 1h0m2 10h0m1-9h0m1-3h0m4 11h0m1-12h0m2 9h0m1 7h0m1-13h0m1 0h0m2 6h0m1-10h0m1 4h0m2 12h0m1-14h0m2 7h0m1-2h0m1-7h0m2 9h0m1-1h0m1-7h0m3 6h0m1-4h0m1 3h0m1-5h0m1 4h0m1-3h0m2 3h0m2 3h0m1-5h0m1 3h0m1 12h0m1-8h0m2-2h0m1-6h0m2 10h0m1 1h0m1-1h0m1-7h0m2 10h0m1-11h0m2 3h0m2-2h0m2 12h0m1-18h0m1 17h0m1-10h0m1 6h0m4-10h0m1 13h0m1-7h0m1 1h0m1-7h0m1 15h0m1-14h0m2 3h0m1-8h0m1 3h0m1 15h0m1-8h0m1 2h0m1-4h0m2-3h0m1 2h0m1 6h0m6 6h0m1-9h0m2 10h0m1-9h0m2-9h0m2 4h0m2 8h0m1-7h0m1 8h0m1-3h0m2 11h0m1-4h0m1-11h0m2 13h0m1-15h0m1 7h0m2 0h0m1-1h0m2 8h0m2 1h0m1-14h0m2 8h0m1 0h0m2 2h0m1-15h0m1 18h0m1-13h0m2 12h0m1-9h0m1-4h0m1 12h0m1-6h0m1 8h0m1-6h0m3-4h0m1 6h0m3 3h0m2 1h0m1-8h0m1 6h0m1 1h0" fill="none" stroke="#2ca02c" stroke-width="9.4" stroke-linecap="square"/></g></g><rect x="1524.43" y="213.82" width="164.54" height="82.76" fill="none" stroke="#000" stroke-width="1.65"/><rect x="1190.2" y="29" width="514.2" height="275.85" fill="none" stroke="#000" stroke-width="1.65"/><path d="M1282.69 304.85v6M1376.3 304.85v6M1469.91 304.85v6M1563.52 304.85v6M1657.13 304.85v6" stroke="#000" stroke-width="1.6" fill="none"/><text x="1282.69" y="332.55" font-size="20.5" text-anchor="middle">2290</text><text x="1376.3" y="332.55" font-size="20.5" text-anchor="middle">2300</text><text x="1469.91" y="332.55" font-size="20.5" text-anchor="middle">2310</text><text x="1563.52" y="332.55" font-size="20.5" text-anchor="middle">2320</text><text x="1657.13" y="332.55" font-size="20.5" text-anchor="middle">2330</text><path d="M1190.2 267.6h-6M1190.2 211.15h-6M1190.2 154.7h-6M1190.2 98.25h-6M1190.2 41.8h-6" stroke="#000" stroke-width="1.6" fill="none"/><text x="1178.5" y="275.65" font-size="20.5" text-anchor="end">0.96</text><text x="1178.5" y="219.2" font-size="20.5" text-anchor="end">0.97</text><text x="1178.5" y="162.75" font-size="20.5" text-anchor="end">0.98</text><text x="1178.5" y="106.3" font-size="20.5" text-anchor="end">0.99</text><text x="1178.5" y="49.85" font-size="20.5" text-anchor="end">1.00</text><text x="1447.3" y="358.4" font-size="20.5" text-anchor="middle">Days (BTJ)</text><text transform="translate(1122.3 166.93) rotate(-90)" font-size="20.5" text-anchor="middle">Normalized Flux</text><text x="1447.3" y="18.6" font-size="24.3" text-anchor="middle">Target Light Curve: 00119862176</text>
<g clip-path="url(#c6)"><path d="M1793.8 304.8L1794.1 304.8L1794.3 304.8L1794.6 304.8L1794.8 304.8L1795.1 304.8L1795.3 304.8L1795.6 304.8L1795.9 304.8L1796.1 304.7L1796.4 304.7L1796.6 304.7L1796.9 304.7L1797.1 304.6L1797.4 304.6L1797.7 304.6L1797.9 304.5L1798.2 304.5L1798.4 304.5L1798.7 304.4L1798.9 304.4L1799.2 304.4L1799.5 304.3L1799.7 304.3L1800 304.2L1800.2 304.2L1800.5 304.2L1800.7 304.1L1801 304L1801.3 303.9L1801.5 303.8L1801.8 303.7L1802 303.6L1802.3 303.5L1802.5 303.3L1802.8 303.2L1803.1 303L1803.3 302.9L1803.6 302.7L1803.8 302.6L1804.1 302.5L1804.3 302.4L1804.6 302.3L1804.9 302.2L1805.1 302.1L1805.4 302.1L1805.6 302.1L1805.9 302.1L1806.1 302.3L1806.4 302.4L1806.7 302.7L1806.9 302.9L1807.2 303.2L1807.4 303.4L1807.7 303.6L1807.9 303.7L1808.2 303.7L1808.5 303.7L1808.7 303.6L1809 303.4L1809.2 303.1L1809.5 302.8L1809.7 302.5L1810 302.1L1810.3 301.8L1810.5 301.5L1810.8 301.2L1811 301L1811.3 300.8L1811.5 300.7L1811.8 300.7L1812.1 300.9L1812.3 301.2L1812.6 301.6L1812.8 302L1813.1 302.4L1813.3 302.8L1813.6 303.1L1813.9 303.3L1814.1 303.5L1814.4 303.4L1814.6 303.3L1814.9 303L1815.1 302.6L1815.4 302.1L1815.7 301.6L1815.9 301L1816 300.8L1816.1 300.7L1816.2 300.5L1816.2 300.3L1816.3 300.2L1816.4 300L1816.5 299.9L1816.6 299.7L1816.7 299.5L1816.7 299.4L1816.8 299.2L1816.9 299.1L1817 298.9L1817.1 298.8L1817.1 298.6L1817.2 298.4L1817.3 298.2L1817.4 298L1817.5 297.8L1817.6 297.5L1817.7 297.3L1817.8 297.1L1817.8 296.9L1817.9 296.7L1818 296.4L1818.1 296.2L1818.2 296L1818.3 295.8L1818.4 295.5L1818.5 295.3L1818.6 295.1L1818.7 294.9L1818.8 294.8L1818.9 294.6L1819 294.4L1819.1 294.3L1819.2 294.2L1819.3 294L1819.4 293.9L1819.5 293.8L1819.7 293.8L1819.8 293.8L1819.9 293.9L1820 294.1L1820.1 294.3L1820.2 294.5L1820.3 294.9L1820.4 295.2L1820.5 295.6L1820.6 296L1820.7 296.5L1820.8 296.9L1820.9 297.4L1821 297.9L1821.1 298.4L1821.3 298.8L1821.4 299.2L1821.5 299.6L1821.6 300L1821.7 300.3L1821.8 300.5L1821.9 300.6L1822.1 300.7L1822.2 300.7L1822.3 300.5L1822.4 300.3L1822.5 299.9L1822.7 299.4L1822.8 298.9L1822.9 298.3L1823 297.6L1823.2 296.9L1823.3 296.2L1823.4 295.4L1823.5 294.6L1823.7 293.8L1823.8 293.1L1823.9 292.4L1824.1 291.7L1824.2 291.1L1824.3 290.6L1824.5 290.2L1824.6 289.9L1824.8 289.7L1824.9 289.7L1825 289.9L1825.2 290.1L1825.3 290.6L1825.5 291.1L1825.6 291.7L1825.8 292.4L1825.9 293.2L1826.1 294.1L1826.2 294.9L1826.4 295.9L1826.5 296.8L1826.7 297.7L1826.8 298.6L1827 299.4L1827.1 300.2L1827.3 300.8L1827.5 301.4L1827.6 301.8L1827.8 302L1828 302.1L1828.1 302.1L1828.3 302L1828.5 301.8L1828.6 301.7L1828.8 301.5L1829 301.2L1829.2 301L1829.3 300.7L1829.5 300.4L1829.7 300L1829.9 299.7L1830.1 299.3L1830.2 299L1830.4 298.6L1830.6 298.3L1830.8 297.9L1831 297.6L1831.2 297.3L1831.4 297.1L1831.6 296.9L1831.8 296.7L1832 296.6L1832.2 296.6L1832.4 296.6L1832.6 296.7L1832.8 296.8L1833 297L1833.3 297.2L1833.5 297.5L1833.7 297.8L1833.9 298.1L1834.1 298.4L1834.4 298.7L1834.6 299L1834.8 299.4L1835.1 299.7L1835.3 300L1835.5 300.2L1835.8 300.4L1836 300.6L1836.3 300.7L1836.5 300.7L1836.8 300.5L1837 300L1837.3 299.2L1837.5 298.2L1837.8 297L1838.1 295.6L1838.3 294.2L1838.6 292.7L1838.9 291.2L1839.2 289.7L1839.5 288.4L1839.7 287.2L1840 286.3L1840.3 285.7L1840.6 285.5L1840.9 285.7L1841.2 286.2L1841.5 286.9L1841.8 287.9L1842.1 289L1842.5 290.3L1842.8 291.8L1843.1 293.2L1843.4 294.7L1843.8 296.2L1844.1 297.5L1844.4 298.7L1844.8 299.7L1845.1 300.4L1845.5 300.7L1845.8 300.4L1846.2 299.3L1846.6 297.4L1847 295L1847.3 292.1L1847.7 288.9L1848.1 285.7L1848.5 282.5L1848.9 279.7L1849.3 277.4L1849.7 275.4L1850.1 273.3L1850.6 271.2L1851 269.2L1851.4 267.3L1851.9 265.7L1852.3 264.6L1852.8 263.9L1853.2 264L1853.7 264.7L1854.2 265.9L1854.6 267.5L1855.1 269.4L1855.6 271.5L1856.1 273.7L1856.6 275.8L1857.2 277.6L1857.7 279.6L1858.2 281.8L1858.8 284.1L1859.3 286.6L1859.9 289.1L1860.4 291.6L1861 293.9L1861.6 296L1862.2 297.6L1862.8 298.8L1863.4 299.3L1864.1 298.8L1864.7 296.7L1865.4 293.4L1866 288.9L1866.7 283.5L1867.4 277.6L1868.1 271.4L1868.8 265.3L1869.6 259L1870.3 251.2L1871 242.2L1871.8 232.5L1872.6 222.9L1873.4 214L1874.2 206.5L1875.1 201.4L1875.9 197.7L1876.8 194.4L1877.6 191.8L1878.6 190.5L1879.5 190.9L1880.4 193L1881.4 196.2L1882.4 199.9L1883.4 203.7L1884.4 208.3L1885.4 213.8L1886.5 219.8L1887.6 226.2L1888.7 232.7L1889.9 239.3L1891 246.8L1892.2 255.1L1893.5 263.3L1894.7 270.8L1896 276.7L1897.3 280.3L1898.7 283.1L1900.1 285.4L1901.5 287.4L1903 289.2L1904.5 291.2L1906 293.3L1907.6 294.9L1909.2 295.4L1910.9 291.1L1912.6 282.5L1914.4 272.8L1916.2 259.9L1918.1 243.6L1920 223.6L1922 197.1L1924.1 167.2L1926.2 137.3L1928.4 106.3L1930.7 71.2L1933 31L1935.5 -14.4L1938 -53.8L1940.6 -53.8L1943.2 -53.8L1946 -53.8L1948.9 -53.8L1951.9 -53.8L1955 -53.8L1958.2 -53.8L1961.6 -53.8L1965.1 -53.8L1968.7 -53.8L1972.5 -53.8L1976.5 -53.8L1980.6 -53.8L1985 -53.8L1989.5 -42.8L1994.2 18.8L1999.2 66.4L2004.5 108.2L2009.9 146.3L2015.7 179.3L2021.8 195.9L2028.3 188L2035.1 150.3L2042.3 95.6L2049.9 17.5L2058 -53.8L2066.7 -53.8L2075.9 -53.8L2085.7 -53.8L2096.3 -53.8L2107.6 -53.8L2119.8 -53.8L2133 -53.8" fill="none" stroke="#2ca02c" stroke-width="3.8" stroke-linejoin="round"/><path d="M1790.2 304.9L1791.6 303.5L1792.3 302.8L1792.7 197.3L1792.8 197.3L1793.3 302.8L1794 303.5L1795.3 303.7L1796.2 303.6L1797.1 303.2L1797.9 303.5L1798.8 304.3L1799.6 304.3L1800.5 304.2L1801.3 303.7L1802.2 304.7L1803.1 303.7L1803.9 303.7L1804.8 304.1L1805.6 304.3L1806.5 304.3L1807.3 304L1808.2 304.3L1809.1 304L1809.9 303.9L1810.8 303.8L1811.6 303L1812.5 303.3L1813.3 303.5L1814.2 303.7L1815.1 301.8L1815.9 303.5L1816.8 302.1L1817.6 303.7L1818.5 302.8L1819.3 303.7L1820.2 304.5L1821.1 304.5L1821.9 303.7L1822.8 303.8L1823.6 303L1824.5 303.7L1825.3 303.4L1826.2 303.5L1827.1 303.5L1827.9 304L1828.8 303.5L1830.1 299.3L1830.7 304.8L1831.3 277.3L1831.7 303.3L1832 264.2L1832.5 301.4L1833 288.3L1833.6 304L1834.1 291.1L1834.4 303.3L1834.8 278.6L1835.3 304.8L1835.8 296.6L1836.3 304.2L1836.8 302.1L1837.9 303.8L1839 303.5L1839.9 303.9L1840.8 302.7L1841.6 303.5L1842.5 302.8L1843.3 303.3L1844.2 303.1L1845 304.4L1845.9 303.6L1846.8 303.7L1847.6 303.4L1848.5 302.2L1849.3 303.3L1850.2 302.8L1851 302.6L1851.9 304.3L1852.8 303.5L1853.6 303.5L1854.5 303.6L1855.3 303.9L1856.2 301.4L1857 302.4L1857.9 303L1858.8 301.3L1859.6 302.9L1860.5 303.5L1861.3 302.7L1862.2 302.2L1863 301.6L1863.9 302.1L1864.8 302.8L1865.6 299.3L1866 304.1L1866.5 291.1L1866.9 304.3L1867.3 296.6L1867.8 303.9L1868.2 284.2L1868.6 304.4L1869 288.3L1869.6 300L1870.1 263.5L1870.4 302.2L1870.7 246.9L1871 296.5L1871.3 263.5L1871.6 303.4L1872 288.3L1872.4 300.5L1872.8 280L1873.2 302.7L1873.5 293.8L1873.8 304.4L1874.2 284.2L1874.6 299.6L1875 274.5L1875.5 296.2L1875.9 270.4L1876.2 298.9L1876.6 282.8L1876.9 301.1L1877.3 269L1877.6 303.6L1878 277.3L1878.2 303.3L1878.5 266.2L1878.9 294.1L1879.3 263.5L1879.7 298L1880 235.9L1880.3 301.1L1880.6 197.3L1880.9 286.6L1881.2 235.9L1881.6 296.9L1881.9 263.5L1882.3 297.8L1882.8 246.9L1883.1 301L1883.4 270.4L1883.8 302.8L1884.1 288.3L1884.7 303.7L1885.3 288.3L1885.9 304.8L1886.5 298L1887.2 303L1887.9 295.2L1888.3 303.7L1888.8 296.6L1889.6 304.2L1890.5 300.7L1891.8 304.5L1893 301.4L1893.9 300.1L1894.8 303.9L1895.6 302.4L1896.5 302.1L1897.3 304.1L1898.2 303.8L1899 300.9L1899.9 302.2L1900.8 303.1L1901.6 303.2L1902.5 303L1903.3 302L1904.2 303.4L1905 302.6L1905.9 302.3L1906.8 303.2L1907.6 302.7L1908.5 302.8L1909.3 300.3L1910.2 300.7L1911.6 298.6L1912.9 302.1L1913.7 300.8L1914.5 303.9L1915.3 303.2L1916.2 301.6L1917 304.3L1917.9 301.6L1918.8 301.2L1919.6 303.6L1920.5 302.1L1921.3 302.6L1922.2 301.6L1923 304.4L1923.9 303.5L1924.7 303L1925.6 302.5L1926.5 303.1L1927.3 302.4L1928.2 303.7L1929 303.8L1929.9 303.2L1930.7 302.8L1931.6 303.8L1932.5 303.3L1933.3 301.7L1934.2 302.8L1935 303.5L1935.9 303.8L1936.7 302.3L1937.6 303.5L1938.5 303.5L1939.3 302.2L1940.2 303.2L1941 303.1L1941.9 302.1L1942.7 302.4L1943.6 302.8L1944.5 303.1L1945.2 303.2L1946 302.1L1946.8 303.4L1947.6 302.2L1948.4 304.3L1949.1 303.5L1949.9 303.4L1950.7 302.6L1951.5 304L1952.3 303.1L1953 303.7L1953.8 303.3L1954.6 303.2L1955.4 303.4L1956.1 302.7L1956.9 303.9L1957.7 303.7L1958.5 304.1L1959.3 304.4L1960 304.1L1960.8 302.5L1961.6 303.5L1962.5 302.5L1963.3 304.2L1964.2 302.9L1965 303.1L1965.9 302.7L1966.7 302.4L1967.6 303.4L1968.5 302.8L1969.3 300.9L1970.2 302.6L1971 301.8L1971.9 301.6L1972.7 303.4L1973.6 303.9L1974.5 302.2L1975.3 301.8L1976.2 300.9L1977 301.2L1977.9 302L1978.7 303.2L1979.6 304.1L1980.5 301.4L1981.3 301.5L1982.2 300.9L1983 302.1L1983.9 302.1L1984.7 300.4L1985.6 304.1L1986.5 304.2L1987.3 304.3L1988.2 303.6L1989 303.2L1989.9 303.5L1990.7 303.5L1991.6 301.7L1992.5 303.9L1993.3 301.4L1994.2 301.2L1995 303.5L1995.9 301.9L1996.7 304.3L1997.6 303.5L1998.4 303.8L1999.2 302.3L1999.9 303.2L2000.7 302.6L2001.5 302.9L2002.3 303L2003 304L2003.8 303L2004.6 304.3L2005.4 302.4L2006.2 303.2L2007 302.1L2007.9 302.5L2008.7 304.4L2009.6 303.9L2010.4 304L2011.3 304.4L2012.2 303.7L2013 304L2013.8 303.6L2014.6 304.2L2015.4 303.5L2016.1 303.6L2016.9 304.5L2017.7 303.6L2018.5 303.5L2019.3 304.4L2020 303.9L2020.8 303.8L2021.6 303.8L2022.4 304.5L2023.1 303.8L2023.9 303.8L2024.7 303.6L2025.5 303.6L2026.3 304.2L2027 303.7L2027.8 303.5L2028.6 303.5L2029.4 304.4L2030.2 304L2030.9 304.6L2031.7 303.7L2032.5 304.3L2033.3 303.8L2034.1 303.2L2034.8 304L2035.6 304.2L2036.4 303.9L2037.2 303.6L2038 304.4L2038.7 304L2039.5 304.4L2040.3 303.4L2041.1 303.1L2041.8 303.9L2042.6 303.9L2043.4 303.6L2044.2 304.2L2045 304.1L2045.7 303.9L2046.5 303.6L2047.3 303.6L2048.1 304.4L2048.9 303.2L2049.6 303.6L2050.4 304.1L2051.2 304.5L2052 303.5L2052.8 304.4L2053.5 304.5L2054.3 304.5L2055.1 304.6L2055.9 304.2L2056.6 303.6L2057.4 304.4L2058.2 304.3L2059 303.6L2059.8 303.9L2060.5 304.4L2061.3 304.1L2062.1 303.5L2062.9 304.1L2063.7 303.6L2064.4 304.5L2065.2 303.6L2066 303.5L2066.8 303.4L2067.6 303.6L2068.3 304L2069.1 304.5L2069.9 303.7L2070.7 303.3L2071.5 304.3L2072.2 304.1L2073 303.7L2073.8 303.6L2074.6 303.1L2075.4 302.8L2076.2 304.3L2077 304.1L2077.8 302.8L2078.6 303.1L2079.4 302.9L2080.2 302.2L2081 302.3L2081.8 302.4L2082.6 302.5L2083.4 303.5L2084.2 302.8L2085 303.2L2085.9 304L2086.7 302.8L2087.6 303L2088.4 303.2L2089.3 303.8L2090.2 304.1L2091 304.1L2091.9 304.2L2092.7 304.6L2093.5 303.7L2094.3 304.1L2095.1 304.3L2095.9 304.1L2096.7 303.9L2097.5 304.3L2098.4 303.8L2099.2 303.7L2100 304.3L2100.8 304.5L2101.6 303.8L2102.4 303.6L2103.2 304.5L2104 303.9L2104.9 303.8L2105.7 303.7L2106.5 304.5L2107.3 304.2L2108.1 304.6L2108.9 303.4L2109.7 304.5L2110.5 304.4L2111.2 303.7L2112 303.9L2112.8 303.3L2113.6 304.2L2114.4 302.9L2115.2 304.1L2116 303L2116.8 304.4L2117.6 303.5L2118.4 303.2L2119.3 304.3L2120.1 303.2L2121 303L2121.9 302.1L2122.7 301.4L2123.6 302.8L2124.4 304.2L2125.3 302.2L2126.1 303.7L2127 303.1L2127.9 303.1L2128.7 304.2L2129.6 304L2130.4 304.3L2131.3 304.4L2132.1 304.6L2133 304" fill="none" stroke="#000" stroke-width="3.9" stroke-linejoin="round"/></g><rect x="1945.4" y="38" width="179" height="30.4" rx="3.4" fill="#fff" fill-opacity="0.8" stroke="#ccc" stroke-opacity="0.8" stroke-width="1.7"/><path d="M1952.5 51.7h33.4" stroke="#000" stroke-width="3.6999999999999997" stroke-linecap="square" fill="none"/><text x="1999.5" y="57.6" font-size="16.87" text-anchor="start">Luhman 16AB</text><rect x="1790.2" y="29" width="342.8" height="275.85" fill="none" stroke="#000" stroke-width="1.65"/><path d="M1790.2 304.85v6M1875.9 304.85v6M1961.6 304.85v6M2047.3 304.85v6M2133 304.85v6" stroke="#000" stroke-width="1.6" fill="none"/><text x="1790.2" y="332.55" font-size="20.5" text-anchor="middle">0</text><text x="1875.9" y="332.55" font-size="20.5" text-anchor="middle">5</text><text x="1961.6" y="332.55" font-size="20.5" text-anchor="middle">10</text><text x="2047.3" y="332.55" font-size="20.5" text-anchor="middle">15</text><text x="2133" y="332.55" font-size="20.5" text-anchor="middle">20</text><path d="M1790.2 304.85h-6M1790.2 235.89h-6M1790.2 166.93h-6M1790.2 97.96h-6M1790.2 29h-6" stroke="#000" stroke-width="1.6" fill="none"/><text x="1778.5" y="312.9" font-size="20.5" text-anchor="end">0.00</text><text x="1778.5" y="243.94" font-size="20.5" text-anchor="end">0.05</text><text x="1778.5" y="174.98" font-size="20.5" text-anchor="end">0.10</text><text x="1778.5" y="106.01" font-size="20.5" text-anchor="end">0.15</text><text x="1778.5" y="37.05" font-size="20.5" text-anchor="end">0.20</text><text x="1961.6" y="358.4" font-size="20.5" text-anchor="middle">Period (hours)</text><text transform="translate(1722 166.93) rotate(-90)" font-size="20.5" text-anchor="middle">Power</text><text x="1961.6" y="18.6" font-size="24.3" text-anchor="middle">Separation: 56.6 arcsec</text>
<g clip-path="url(#c7)"><path d="M105.9 445.8L107.4 446L108.9 446.4L110.4 446.9L111.9 447.6L113.4 448.5L114.8 449.6L116.3 450.8L117.8 452.4L119.3 454.2L120.8 456.2L122.3 458.3L123.8 460.5L125.3 462.7L126.8 464.8L128.3 466.6L129.8 468.3L131.3 470L132.8 471.6L134.3 473.3L135.8 474.9L137.3 476.4L138.8 478L140.3 479.5L141.8 481L143.3 482.4L144.8 483.8L146.3 485.2L147.7 486.5L149.2 487.8L150.7 489.1L152.2 490.3L153.7 491.4L155.2 492.5L156.7 493.4L158.2 494.3L159.7 495.2L161.2 496L162.7 496.8L164.2 497.6L165.7 498.4L167.2 499.2L168.7 500L170.2 500.8L171.7 501.8L173.2 502.7L174.7 503.8L176.2 504.9L177.7 506.2L179.2 507.7L180.6 509.3L182.1 511L183.6 512.8L185.1 514.7L186.6 516.7L188.1 518.5L189.6 520.4L191.1 521.9L192.6 523.3L194.1 524.8L195.6 526.6L197.1 528.9L198.6 531.8L200.1 537.7L201.6 547.3L203.1 549.7L203.2 549.7L203.2 583.4L203.1 583.4L201.6 580.8L200.1 570.4L198.6 563.9L197.1 560.5L195.6 557.9L194.1 555.8L192.6 554.1L191.1 552.5L189.6 550.9L188.1 549.1L186.6 547.3L185.1 545.7L183.6 544L182.1 542.5L180.6 541L179.2 539.6L177.7 538.3L176.2 537.1L174.7 535.9L173.2 534.7L171.7 533.7L170.2 532.7L168.7 531.7L167.2 530.7L165.7 529.8L164.2 528.8L162.7 527.9L161.2 527L159.7 526L158.2 525.1L156.7 524.1L155.2 523L153.7 521.9L152.2 520.8L150.7 519.6L149.2 518.4L147.7 517.2L146.3 516L144.8 514.8L143.3 513.5L141.8 512.2L140.3 510.9L138.8 509.5L137.3 508.1L135.8 506.6L134.3 505.2L132.8 503.6L131.3 502L129.8 500.4L128.3 498.7L126.8 496.9L125.3 494.8L123.8 492.5L122.3 490.2L120.8 488L119.3 485.8L117.8 483.8L116.3 482.2L114.8 480.6L113.4 479L111.9 477.4L110.4 475.8L108.9 474.2L107.4 472.8L105.9 471.5ZM229.4 518.1L230.9 518.8L232.4 519.5L233.9 520.3L235.4 521.1L236.9 522L238.4 522.9L239.9 523.8L241.4 524.7L242.9 525.6L244.4 526.6L245.9 527.6L247.4 528.6L248.9 529.7L250.4 530.8L251.9 532.1L253.4 533.6L254.8 535.3L256.3 536.9L257.8 538.5L259.3 539.9L260.8 541.1L262.3 542L263.8 542.4L265.3 541.5L266.8 538.2L268.3 533.7L269.8 529.4L271.3 526.8L272.8 525.9L274.3 525.1L275.8 524.4L277.3 523.7L278.8 523.1L280.3 522.6L281.8 522.2L283.3 521.8L284.8 521.5L286.3 521.3L287.8 521.1L289.3 521L290.8 520.9L292.3 521.2L293.7 522.2L295.2 523.7L296.7 525.6L298.2 527.9L299.7 530.5L301.2 533.1L302.7 535.8L304.2 538.3L305.7 540.7L307.2 543.2L308.7 545.9L310.2 548.7L311.7 551.6L313.2 554.4L314.7 557.2L316.2 559.9L317.7 562.3L319.2 564.5L320.7 566.3L322.2 567.9L323.7 569.2L325.2 570.5L325.8 570.7L325.8 601.2L325.2 600.9L323.7 598.3L322.2 595.7L320.7 593L319.2 590.5L317.7 588L316.2 585.6L314.7 582.9L313.2 580.1L311.7 577.3L310.2 574.4L308.7 571.6L307.2 568.9L305.7 566.4L304.2 564L302.7 561.5L301.2 558.8L299.7 556.1L298.2 553.6L296.7 551.3L295.2 549.4L293.7 547.9L292.3 546.9L290.8 546.6L289.3 546.7L287.8 546.9L286.3 547.2L284.8 547.6L283.3 548.1L281.8 548.7L280.3 549.4L278.8 550.2L277.3 551.1L275.8 552.1L274.3 553.2L272.8 554.4L271.3 555.7L269.8 559.3L268.3 564.9L266.8 570.7L265.3 575L263.8 576.1L262.3 575.7L260.8 574.8L259.3 573.7L257.8 572.2L256.3 570.6L254.8 569L253.4 567.3L251.9 565.8L250.4 564.5L248.9 563.4L247.4 562.4L245.9 561.3L244.4 560.3L242.9 559.4L241.4 558.4L239.9 557.5L238.4 556.6L236.9 555.7L235.4 554.9L233.9 554L232.4 553.3L230.9 552.5L229.4 551.9ZM357.6 442.3L359.1 444.8L360.6 447.2L362.1 449.7L363.6 452.1L365.1 454.4L366.6 456.8L368.1 459L369.6 461.3L371.1 463.4L372.6 465.5L374.1 467.5L375.6 469.5L377.1 471.4L378.6 473.2L380.1 475.1L381.6 476.8L383.1 478.6L384.6 480.4L386.1 482.2L387.5 484.1L389 486L390.5 487.9L392 489.9L393.5 491.9L395 494.1L396.5 496.3L398 498.7L399.5 501.1L401 503.5L402.5 506.1L404 508.7L405.5 511.4L407 514.1L408.5 516.8L410 519.7L411.5 522.5L413 525.4L414.5 528.3L416 531.2L417.5 534.1L419 537L420.4 540L421.9 543.2L423.4 546.5L424.9 549.9L426.4 553.4L427.9 556.9L429.4 560.5L430.9 564L432.4 567.4L433.9 570.7L435.4 573.9L436.9 577L438.4 579.9L439.9 582.8L441.4 585.6L442.9 588.3L444.4 591L445.9 593.7L447.4 596.2L448 597.2L448 618.1L447.4 617.2L445.9 614.8L444.4 612.4L442.9 609.9L441.4 607.3L439.9 604.7L438.4 602.1L436.9 599.3L435.4 596.6L433.9 593.7L432.4 590.7L430.9 587.6L429.4 584.5L427.9 581.3L426.4 578.2L424.9 575L423.4 571.8L421.9 568.7L420.4 565.7L419 562.7L417.5 559.8L416 556.9L414.5 554L413 551.1L411.5 548.2L410 545.3L408.5 542.5L407 539.8L405.5 537.1L404 534.4L402.5 531.8L401 529.2L399.5 526.8L398 524.4L396.5 522L395 519.8L393.5 517.7L392 515.6L390.5 513.7L389 511.9L387.5 510.1L386.1 508.4L384.6 506.8L383.1 505.1L381.6 503.5L380.1 501.8L378.6 500.2L377.1 498.4L375.6 496.6L374.1 494.8L372.6 492.8L371.1 490.7L369.6 488.5L368.1 486.2L366.6 483.8L365.1 481.4L363.6 478.8L362.1 476.2L360.6 473.5L359.1 470.7L357.6 468ZM485.4 531.2L486.9 534L488.4 537L489.9 540.2L491.4 543.6L492.9 547.1L494.4 550.7L495.9 554.5L497.4 558.4L498.9 563.3L500.4 569.2L501.8 575.4L503.3 581.4L504.8 586.4L506.3 589.9L507.8 591.2L509.3 588.9L510.8 583L512.3 575.9L513.8 569.8L515.3 565L516.8 559.7L518.3 554.5L519.8 549.8L521.3 546.1L522.8 543.9L524.3 543.6L525.8 544.3L527.3 545.6L528.8 547.3L530.3 549.5L531.8 552.1L533.3 554.9L534.8 557.8L536.3 560.8L537.8 563.8L539.3 566.6L540.7 569.3L542.2 572.1L543.7 575.2L545.2 578.5L546.7 581.9L548.2 585L549.7 587.9L551.2 590.3L552.7 592L554.2 593.4L555.7 594.7L557.2 595.9L558.7 597.2L560.2 598.3L561.7 599.4L563.2 600.4L564.7 601.3L566.2 602.1L567.7 602.8L569.2 603.4L570.7 603.8L572.2 604L573.7 604.2L574.8 604.2L574.8 623.4L573.7 623.4L572.2 623.3L570.7 623.1L569.2 622.6L567.7 622.1L566.2 621.4L564.7 620.6L563.2 619.7L561.7 618.7L560.2 617.6L558.7 616.4L557.2 615.2L555.7 613.9L554.2 612.6L552.7 611.3L551.2 609.7L549.7 607.7L548.2 605.5L546.7 603L545.2 600.5L543.7 597.9L542.2 595.5L540.7 593.3L539.3 591.2L537.8 588.9L536.3 586.5L534.8 584.1L533.3 581.7L531.8 579.4L530.3 577.3L528.8 575.5L527.3 574.1L525.8 573.1L524.3 572.5L522.8 572.8L521.3 574.5L519.8 577.6L518.3 581.5L516.8 586.1L515.3 590.9L513.8 595.5L512.3 601.6L510.8 608.7L509.3 614.6L507.8 616.9L506.3 615.6L504.8 612.1L503.3 607.1L501.8 601.1L500.4 594.9L498.9 589L497.4 584.1L495.9 580.2L494.4 576.5L492.9 573.1L491.4 569.7L489.9 566.6L488.4 563.7L486.9 561L485.4 558.4Z" fill="#d62728"/><g transform="scale(.5)"><path d="M212 914h0m0 2h0m0 7h0m0 1h0m0 2h0m1-35h0m0 6h0m0 11h0m0 3h0m0 6h0m0 12h0m0 2h0m1 20h0m0 7h0m1-66h0m2 71h0m1-7h0m2-78h0m0 69h0m0 6h0m1-88h0m0 9h0m0 22h0m1-3h0m0 58h0m2-58h0m0 62h0m0 9h0m1-6h0m2-2h0m0 14h0m1-2h0m1 3h0m1-79h0m0 66h0m1-58h0m0 66h0m1 1h0m1-69h0m0 87h0m0 13h0m1-108h0m0 6h0m2 98h0m1-89h0m0 3h0m0 63h0m0 2h0m1-82h0m1 82h0m1-93h0m0 31h0m1 74h0m1-5h0m1-64h0m0 77h0m1-94h0m0 82h0m3 3h0m0 35h0m1-28h0m1-101h0m0 35h0m1 78h0m0 11h0m1-90h0m2-10h0m0 15h0m0 63h0m2 9h0m1-3h0m2-62h0m1 122h0m2-134h0m0 1h0m1 75h0m0 14h0m1-102h0m0 103h0m1-86h0m2 9h0m0 2h0m0 74h0m0 6h0m1-80h0m0 69h0m2-78h0m0 77h0m0 11h0m1 14h0m1-115h0m0 21h0m0 3h0m0 5h0m1-23h0m1 26h0m1 69h0m0 15h0m0 6h0m1-104h0m0 14h0m1-6h0m1 78h0m1-90h0m0 24h0m1 79h0m0 5h0m1-95h0m0 4h0m1 84h0m1-90h0m0 94h0m1-94h0m1 21h0m1-1h0m0 70h0m1-82h0m0 5h0m0 9h0m0 77h0m0 2h0m1-16h0m1-64h0m0 62h0m1-56h0m0 65h0m1-78h0m0 74h0m1-80h0m0 80h0m2-2h0m1 3h0m1-61h0m2 62h0m1 23h0m1-19h0m1-70h0m1 8h0m0 62h0m1-55h0m1-16h0m1 73h0m0 6h0m1-67h0m0 6h0m0 73h0m2-6h0m0 18h0m2-101h0m1 10h0m0 88h0m1-83h0m0 2h0m0 59h0m0 15h0m0 4h0m0 4h0m1-90h0m1-2h0m0 12h0m1 65h0m1 8h0m1-8h0m0 14h0m1-91h0m1 13h0m1 69h0m1-69h0m1 80h0m1-9h0m2-72h0m1 6h0m1-4h0m0 65h0m0 17h0m1-91h0m0 79h0m1 8h0m1-80h0m1 71h0m0 9h0m1 2h0m0 5h0m1-91h0m0 94h0m1-86h0m0 69h0m1-66h0m2 80h0m1-85h0m0 76h0m0 16h0m3-19h0m0 3h0m1 13h0m1-3h0m1-9h0m2-64h0m0 76h0m1 5h0m1-91h0m0 80h0m2-66h0m1-12h0m0 80h0m1-88h0m0 90h0m0 3h0m2-73h0m0 2h0m0 4h0m3 90h0m1 3h0m1-19h0m1-77h0m0 11h0m1 64h0m1 8h0m1-77h0m0 75h0m1 2h0m1-73h0m0 64h0m1 12h0m1 2h0m2-75h0m0 3h0m2-1h0m0 65h0m2-60h0m0 2h0m0 67h0m1-2h0m0 9h0m1-4h0m1-70h0m0 67h0m1-82h0m0 84h0m2-70h0m1 9h0m2 2h0m0 68h0m0 3h0m2-77h0m1 11h0m0 73h0m2-71h0m0 3h0m0 56h0m1 53h0m1-111h0m0 66h0m1-62h0m1 1h0m0 57h0m1-95h0m0 30h0m1 13h0m1 60h0m1-70h0m0 1h0m1-1h0m0 16h0m1 72h0m1-86h0m1 4h0m0 16h0m0 53h0m0 5h0m1-57h0m0 54h0m0 38h0m1-84h0m1-24h0m0 27h0m0 13h0m0 45h0m1-48h0m0 45h0m0 10h0m1-2h0m1-56h0m0 49h0m0 25h0m1-78h0m0 34h0m0 18h0m0 22h0m1-50h0m0 4h0m0 7h0m0 4h0m0 7h0m0 1h0m0 18h0m53-112h0m0 5h0m0 24h0m0 8h0m0 12h0m0 3h0m1-65h0m0 16h0m0 14h0m0 2h0m0 3h0m1 14h0m0 6h0m0 3h0m0 9h0m0 2h0m0 10h0m0 3h0m1-3h0m2-80h0m0 8h0m0 77h0m0 13h0m2 0h0m1-11h0m1 4h0m1-91h0m0 12h0m1 82h0m1 12h0m1-15h0m1-71h0m2-3h0m0 3h0m0 64h0m3 9h0m3-3h0m1-68h0m0 4h0m1-27h0m1 105h0m5-93h0m1 8h0m0 79h0m1-69h0m0 86h0m1-111h0m1-5h0m0 100h0m0 7h0m2-83h0m0 81h0m1-88h0m0 9h0m0 91h0m1-87h0m0 4h0m1 67h0m1 3h0m0 20h0m0 2h0m2-102h0m1 81h0m0 17h0m0 3h0m0 3h0m1-87h0m0 131h0m2-127h0m1 65h0m1-76h0m0 9h0m0 92h0m1-25h0m1-80h0m0 1h0m1 80h0m3-71h0m0 3h0m0 116h0m2-135h0m0 25h0m2 72h0m1-66h0m0 65h0m1 37h0m1-113h0m0 7h0m0 71h0m0 2h0m1 3h0m0 27h0m1-105h0m0 88h0m2-94h0m0 112h0m1-15h0m1-83h0m1-1h0m0 3h0m0 69h0m1-81h0m0 8h0m1 69h0m2 4h0m0 10h0m1-100h0m0 79h0m1-72h0m0 65h0m1-58h0m0 54h0m1-62h0m0 63h0m1-79h0m0 72h0m0 15h0m2-78h0m1-3h0m0 7h0m0 72h0m1-17h0m0 10h0m1-89h0m0 14h0m0 72h0m1-79h0m0 1h0m0 61h0m2-2h0m1 13h0m1-14h0m0 14h0m1-94h0m0 24h0m3-25h0m0 83h0m1 3h0m1-65h0m0 56h0m1-70h0m0 71h0m1-70h0m0 8h0m1 3h0m2 55h0m2-64h0m1 64h0m0 12h0m2-9h0m1-72h0m0 10h0m0 4h0m0 51h0m1-66h0m0 107h0m1-114h0m0 80h0m1-63h0m2 57h0m1-69h0m0 11h0m0 62h0m1-65h0m0 1h0m0 63h0m1-57h0m1 56h0m1-5h0m1-52h0m0 52h0m1-58h0m1-23h0m1 6h0m0 11h0m1 5h0m0 4h0m0 3h0m2 62h0m1-10h0m0 8h0m2 4h0m1-65h0m1 52h0m4-50h0m1 54h0m0 1h0m3-46h0m0 51h0m0 3h0m1-67h0m0 13h0m0 52h0m1-66h0m0 75h0m1-59h0m1 60h0m1-60h0m1-1h0m0 60h0m0 2h0m1-77h0m0 19h0m0 7h0m1-20h0m0 20h0m0 61h0m2-12h0m1-46h0m0 49h0m0 3h0m0 10h0m1-56h0m0 48h0m1 2h0m1 12h0m1-69h0m1 2h0m0 10h0m0 48h0m1 9h0m0 21h0m1-72h0m0 112h0m1-127h0m0 15h0m0 57h0m1-65h0m0 11h0m1 3h0m1-11h0m1 58h0m0 8h0m1-4h0m1-63h0m0 64h0m0 12h0m1-65h0m0 69h0m1-74h0m0 9h0m1 1h0m1-4h0m0 64h0m1-66h0m0 60h0m0 13h0m2-5h0m0 6h0m1 6h0m3-51h0m1-6h0m0 52h0m1-61h0m1 72h0m1-67h0m0 13h0m0 47h0m0 17h0m1-2h0m1-58h0m0 64h0m1-15h0m0 17h0m1-13h0m2-55h0m0 7h0m0 51h0m1 5h0m1 1h0m1-51h0m0 48h0m2-50h0m1-4h0m0 4h0m1-34h0m0 100h0m0 13h0m1-20h0m0 21h0m2-73h0m0 21h0m0 12h0m0 19h0m1-44h0m0 7h0m0 22h0m0 1h0m0 9h0m1-32h0m0 3h0m0 7h0m0 4h0m0 16h0m0 39h0m1-82h0m0 2h0m63-250h0m0 27h0m1-56h0m0 11h0m0 13h0m0 7h0m0 5h0m0 13h0m0 15h0m0 4h0m0 9h0m1-52h0m0 3h0m0 5h0m0 2h0m0 5h0m0 5h0m0 20h0m1-45h0m0 24h0m0 30h0m0 3h0m1 10h0m0 2h0m1-4h0m1-59h0m0 2h0m1-13h0m0 79h0m1-73h0m0 4h0m0 73h0m1-64h0m1-20h0m0 18h0m1-21h0m2 25h0m1 74h0m1-68h0m0 57h0m0 3h0m0 10h0m1-18h0m1-66h0m0 8h0m0 4h0m1 9h0m1-4h0m0 66h0m2-4h0m1-3h0m0 9h0m1-60h0m0 6h0m1 50h0m0 17h0m1-70h0m0 68h0m2-10h0m1-50h0m0 72h0m1 5h0m1-18h0m2-63h0m0 62h0m0 2h0m1 11h0m1 5h0m1-65h0m0 51h0m1-64h0m0 73h0m0 8h0m1-65h0m0 48h0m0 19h0m1-88h0m0 14h0m1 58h0m1 10h0m0 8h0m1-74h0m0 11h0m0 48h0m1-53h0m1 0h0m1-20h0m0 26h0m0 50h0m0 2h0m1-67h0m0 13h0m0 2h0m0 3h0m1-29h0m1 24h0m0 59h0m0 1h0m1-59h0m1-1h0m1 2h0m0 71h0m1-12h0m1 24h0m2-78h0m0 1h0m0 58h0m2-52h0m0 54h0m1-51h0m1-9h0m1 62h0m0 8h0m1-66h0m1 5h0m1 72h0m1-5h0m1-57h0m0 47h0m0 5h0m0 7h0m1-2h0m1-8h0m1 22h0m1-17h0m1 48h0m1-102h0m1 2h0m1 54h0m0 7h0m0 12h0m1-64h0m0 48h0m1-47h0m0 49h0m0 10h0m1 7h0m2 3h0m1-92h0m1 33h0m0 48h0m1-61h0m0 6h0m0 8h0m1-14h0m1 65h0m1 3h0m1-64h0m0 14h0m1-22h0m0 24h0m0 52h0m0 6h0m0 40h0m1-92h0m1-4h0m0 52h0m2-55h0m1 61h0m1-64h0m1 13h0m0 1h0m0 5h0m0 50h0m1-68h0m0 19h0m1-6h0m0 66h0m1-68h0m0 71h0m1-60h0m1 2h0m0 49h0m1-61h0m0 18h0m1-1h0m0 52h0m1 2h0m1-58h0m0 10h0m0 49h0m1 8h0m2 10h0m1-15h0m1-48h0m0 5h0m0 46h0m1 6h0m1-49h0m1 47h0m2 4h0m2-70h0m0 22h0m1-20h0m0 27h0m1-16h0m0 10h0m0 61h0m0 3h0m1-59h0m0 54h0m0 4h0m1-49h0m1 44h0m1-56h0m0 67h0m2-49h0m0 45h0m0 12h0m1-7h0m1-42h0m0 50h0m1-70h0m0 4h0m0 18h0m1 66h0m1-63h0m1-6h0m0 7h0m0 59h0m1-68h0m0 65h0m1-65h0m1 4h0m1 0h0m1 12h0m0 50h0m2-59h0m0 8h0m0 11h0m0 55h0m1-54h0m1-15h0m0 9h0m0 50h0m0 8h0m1-53h0m2 59h0m2-43h0m0 54h0m1-14h0m0 2h0m1 2h0m0 10h0m1-65h0m0 9h0m0 6h0m1 49h0m1-3h0m0 10h0m1-51h0m1-4h0m0 10h0m2-24h0m1 21h0m0 49h0m1-49h0m0 11h0m0 40h0m0 4h0m1-1h0m0 22h0m1-63h0m0 5h0m2 42h0m0 8h0m1-49h0m0 48h0m0 9h0m1-13h0m2 8h0m1-46h0m1 0h0m1-1h0m0 7h0m2-16h0m3 5h0m0 14h0m0 8h0m1-4h0m1-7h0m1 15h0m2-7h0m0 15h0m1-14h0m0 9h0m2 10h0m2 4h0m0 3h0m0 10h0m1-11h0m0 9h0m1-19h0m0 9h0m76-122h0m0 18h0m0 4h0m0 8h0m0 2h0m0 7h0m1-54h0m0 7h0m0 3h0m0 11h0m0 8h0m0 5h0m0 14h0m1-39h0m0 15h0m0 25h0m0 2h0m1-60h0m0 68h0m1-60h0m0 17h0m0 47h0m0 7h0m1-73h0m0 23h0m0 55h0m1-5h0m1-55h0m0 52h0m0 10h0m1-51h0m1 48h0m1-59h0m0 4h0m1 11h0m0 76h0m1-156h0m0 66h0m0 71h0m1-49h0m0 46h0m1-52h0m0 7h0m0 53h0m1-57h0m1-2h0m0 53h0m1-40h0m0 46h0m1-50h0m0 56h0m2-47h0m1 1h0m0 2h0m0 3h0m0 44h0m0 20h0m1-76h0m0 64h0m1-76h0m0 71h0m0 2h0m1-44h0m0 63h0m1-82h0m1 32h0m0 38h0m1-41h0m0 67h0m1-21h0m1 6h0m0 4h0m1-53h0m0 9h0m0 5h0m0 5h0m1-13h0m0 11h0m0 35h0m0 13h0m1-68h0m1 62h0m1-33h0m0 41h0m1-34h0m0 34h0m1-38h0m0 7h0m0 4h0m1-14h0m0 13h0m1-22h0m0 26h0m2-2h0m0 6h0m1-27h0m1 11h0m1 12h0m2-17h0m1 21h0m0 4h0m1-7h0m0 7h0m1-21h0m3 4h0m1-5h0m0 1h0m1-9h0m1 1h0m0 1h0m0 2h0m0 6h0m1 31h0m0 4h0m0 3h0m0 2h0m1-3h0m1-83h0m0 70h0m0 7h0m1-54h0m0 44h0m0 1h0m1-60h0m0 7h0m1-19h0m0 16h0m1 5h0m0 34h0m1 4h0m0 6h0m1-51h0m1-8h0m0 45h0m1-49h0m0 2h0m0 67h0m1-82h0m0 3h0m0 52h0m1 1h0m0 3h0m1-51h0m0 44h0m1 34h0m1-41h0m0 3h0m0 4h0m0 17h0m1-87h0m0 12h0m0 1h0m1-39h0m1 99h0m1-87h0m0 15h0m0 7h0m1 59h0m1-66h0m1 61h0m0 14h0m1-83h0m3 5h0m0 3h0m1 7h0m0 62h0m1-7h0m0 1h0m3-93h0m0 93h0m1 6h0m0 6h0m1-81h0m0 9h0m0 1h0m1 7h0m0 77h0m1-90h0m0 6h0m0 74h0m1-60h0m0 68h0m1-13h0m3 1h0m0 6h0m1-51h0m1-7h0m0 9h0m0 47h0m0 19h0m1-80h0m1 67h0m0 16h0m2-82h0m1 17h0m0 55h0m0 4h0m1-65h0m0 58h0m0 19h0m1-84h0m0 5h0m0 9h0m0 8h0m1-10h0m1 64h0m1-70h0m1 11h0m0 78h0m1-77h0m0 64h0m0 2h0m1 8h0m2-60h0m0 3h0m0 42h0m0 17h0m1-72h0m0 15h0m1 4h0m1 41h0m0 2h0m0 11h0m1-10h0m0 16h0m1-57h0m0 4h0m1 49h0m2-52h0m1 8h0m2 3h0m1 42h0m2-48h0m0 13h0m2 5h0m1-10h0m4 17h0m2-1h0m2 0h0m0 6h0m3 2h0m5 1h0m1-16h0m1 22h0m2-5h0m0 6h0m1-3h0m2-1h0m2 2h0m3-3h0m0 5h0m1 1h0m1-10h0m1 16h0m5-4h0m0 2h0m2-1h0m1-2h0m3 0h0m2 6h0m1 2h0m2 0h0m2-8h0m0 9h0" fill="none" stroke="#d62728" stroke-width="7" stroke-linecap="round"/></g><path d="M381.97 695.3V419.85" stroke="#000" stroke-width="1.8" stroke-dasharray="6.3 2.7" fill="none"/><path d="M400.69 695.3V419.85" stroke="#000" stroke-width="1.8" stroke-dasharray="6.3 2.7" fill="none"/></g><rect x="417.76" y="604.4" width="164.51" height="82.63" fill="#fff"/><g clip-path="url(#c8)"><g transform="scale(.5)"><path d="M836 1255h0m1-9h0m1 2h0m1 6h0m2-5h0m1 5h0m2 4h0m2-7h0m2-9h0m1 10h0m1 3h0m2-1h0m2-14h0m1 19h0m1 0h0m1-8h0m1 3h0m2 3h0m1-2h0m1-2h0m3-5h0m1 10h0m3-3h0m1 7h0m1-14h0m1 8h0m1-4h0m3 3h0m2-12h0m1 17h0m1-10h0m1 6h0m2 6h0m1-6h0m1-2h0m1-4h0m1-2h0m1 7h0m1-1h0m2-4h0m1-6h0m1 14h0m1-9h0m1-9h0m1 22h0m1 1h0m2-11h0m1 8h0m1-2h0m1-8h0m1 0h0m1 0h0m1 11h0m2-17h0m1 9h0m1-4h0m1 13h0m1 3h0m1-20h0m1 15h0m2 1h0m1-10h0m1-6h0m1 0h0m2 11h0m2 7h0m1-13h0m1 7h0m3-5h0m1-2h0m2 10h0m1 2h0m1-9h0m3-2h0m1 6h0m2-3h0m2 6h0m1-9h0m1 6h0m1 2h0m3-9h0m1 9h0m1-2h0m1-2h0m1-5h0m1 12h0m1-1h0m2-10h0m1-3h0m3 12h0m1-3h0m1-6h0m2-1h0m1 7h0m1 6h0m1-8h0m1 4h0m1 10h0m3-6h0m1-1h0m1 0h0m1-11h0m1 7h0m1-11h0m2 10h0m1 2h0m1-4h0m1 2h0m1-5h0m1 8h0m1 2h0m2 2h0m1 0h0m1-11h0m1-1h0m1 5h0m4 4h0m1-2h0m2-4h0m1 5h0m2-11h0m2 9h0m3-8h0m1 8h0m1-5h0m1 2h0m2 8h0m1-8h0m2 8h0m1-3h0m4 6h0m1-8h0m1 5h0m1 4h0m1 4h0m1-17h0m2 0h0m1 15h0m1-5h0m1-15h0m1 15h0m1-2h0m1 3h0m2-15h0m1 11h0m1-6h0m1-6h0m2 4h0m1 9h0m2-2h0m1 4h0m1-8h0m1 0h0m2 3h0m1-6h0m2-6h0m1 17h0m1-8h0m1 11h0m1 5h0m1-12h0m1-1h0m2-2h0m1 5h0m1 2h0m1 6h0m1-17h0m1 3h0m2 10h0m3 2h0m2-8h0m1 1h0m2-6h0m1 2h0m1 4h0m1 3h0m1-6h0m1 8h0m1-11h0m3 1h0m1 8h0m2-6h0m1-6h0m1 16h0m2 1h0m1-2h0m1-10h0m1 17h0m1-13h0m1-3h0m1 8h0m3 0h0m2 1h0m2-6h0m4-2h0m1 8h0m1-8h0m1 10h0m1 5h0m2-16h0m1 10h0m1-2h0m1-5h0m1-9h0m1-2h0m1 14h0m2 6h0m2-9h0m1 12h0m1-18h0m1 5h0m1 6h0m3 4h0m2-9h0m2 17h0m1-9h0m2-10h0m1 4h0m1-8h0m1 5h0m2 14h0m1-15h0m2 6h0m1 7h0m1-4h0m1-5h0m1 0h0m3 9h0m1-7h0m2 5h0m1-2h0m1 4h0m1-2h0m2-10h0m2 10h0m2-8h0m1-3h0m1 7h0m2-3h0" fill="none" stroke="#d62728" stroke-width="9.2" stroke-linecap="round"/></g></g><rect x="417.76" y="604.4" width="164.51" height="82.63" fill="none" stroke="#000" stroke-width="1.65"/><rect x="83.6" y="419.85" width="514.1" height="275.45" fill="none" stroke="#000" stroke-width="1.65"/><path d="M176.07 695.3v6M269.66 695.3v6M363.25 695.3v6M456.84 695.3v6M550.44 695.3v6" stroke="#000" stroke-width="1.6" fill="none"/><text x="176.07" y="723" font-size="20.5" text-anchor="middle">2290</text><text x="269.66" y="723" font-size="20.5" text-anchor="middle">2300</text><text x="363.25" y="723" font-size="20.5" text-anchor="middle">2310</text><text x="456.84" y="723" font-size="20.5" text-anchor="middle">2320</text><text x="550.44" y="723" font-size="20.5" text-anchor="middle">2330</text><path d="M83.6 667.59h-6M83.6 589.16h-6M83.6 510.73h-6M83.6 432.3h-6" stroke="#000" stroke-width="1.6" fill="none"/><text x="71.9" y="675.64" font-size="20.5" text-anchor="end">0.97</text><text x="71.9" y="597.21" font-size="20.5" text-anchor="end">0.98</text><text x="71.9" y="518.78" font-size="20.5" text-anchor="end">0.99</text><text x="71.9" y="440.35" font-size="20.5" text-anchor="end">1.00</text><text x="340.65" y="748.85" font-size="20.5" text-anchor="middle">Days (BTJ)</text><text transform="translate(15.7 557.58) rotate(-90)" font-size="20.5" text-anchor="middle">Normalized Flux</text><text x="340.65" y="409.45" font-size="24.3" text-anchor="middle">Target Light Curve: 00119862180</text>
<g clip-path="url(#c9)"><path d="M687.1 695.3L687.4 695.3L687.6 695.3L687.9 695.3L688.1 695.2L688.4 695.2L688.6 695.2L688.9 695.1L689.2 695.1L689.4 695.1L689.7 695L689.9 695L690.2 694.9L690.4 694.8L690.7 694.8L691 694.7L691.2 694.7L691.5 694.6L691.7 694.5L692 694.4L692.2 694.4L692.5 694.3L692.8 694.2L693 694.2L693.3 694.1L693.5 694L693.8 693.9L694 693.8L694.3 693.7L694.6 693.6L694.8 693.4L695.1 693.3L695.3 693.1L695.6 692.9L695.8 692.7L696.1 692.5L696.4 692.4L696.6 692.2L696.9 692L697.1 691.8L697.4 691.7L697.6 691.5L697.9 691.4L698.2 691.3L698.4 691.2L698.7 691.2L698.9 691.2L699.2 691.2L699.4 691.5L699.7 691.8L700 692.1L700.2 692.5L700.5 693L700.7 693.3L701 693.6L701.2 693.8L701.5 693.9L701.8 693.8L702 693.6L702.3 693.3L702.5 693L702.8 692.5L703 692.1L703.3 691.8L703.6 691.5L703.8 691.2L704.1 691.2L704.3 691.3L704.6 691.5L704.8 691.8L705.1 692.1L705.4 692.3L705.6 692.5L705.9 692.5L706.1 691.7L706.4 690.2L706.6 688.4L706.9 686.6L707.2 685.1L707.4 684.3L707.7 684.4L707.9 684.8L708.2 685.5L708.4 686.4L708.7 687.4L709 688.4L709.2 689.5L709.3 689.7L709.4 690L709.5 690.2L709.5 690.4L709.6 690.6L709.7 690.8L709.8 690.9L709.9 691.1L710 691.1L710 691.2L710.1 691.2L710.2 691.1L710.3 691.1L710.4 691L710.5 690.9L710.6 690.8L710.7 690.6L710.8 690.5L710.9 690.3L711 690.2L711.1 690L711.1 689.8L711.2 689.6L711.3 689.4L711.4 689.2L711.5 688.9L711.6 688.7L711.7 688.4L711.8 688.2L711.9 687.9L712 687.7L712.1 687.4L712.2 687.2L712.3 686.9L712.4 686.6L712.5 686.4L712.6 686.1L712.6 685.9L712.7 685.7L712.8 685.5L713 685.2L713.1 685.1L713.2 684.9L713.3 684.7L713.4 684.6L713.5 684.5L713.6 684.4L713.7 684.3L713.8 684.3L713.9 684.3L714 684.4L714.1 684.5L714.2 684.8L714.3 685.1L714.4 685.4L714.6 685.8L714.7 686.3L714.8 686.8L714.9 687.3L715 687.9L715.1 688.4L715.2 689L715.4 689.5L715.5 690.1L715.6 690.6L715.7 691.1L715.8 691.5L716 691.9L716.1 692.2L716.2 692.4L716.3 692.5L716.5 692.5L716.6 692.3L716.7 692L716.8 691.5L717 690.8L717.1 689.9L717.2 689L717.4 687.9L717.5 686.7L717.6 685.5L717.8 684.2L717.9 682.9L718.1 681.5L718.2 680.2L718.3 678.9L718.5 677.6L718.6 676.5L718.8 675.4L718.9 674.4L719.1 673.6L719.2 673.1L719.4 672.7L719.5 672.6L719.7 672.8L719.8 673.4L720 674.4L720.1 675.6L720.3 677L720.4 678.7L720.6 680.5L720.8 682.3L720.9 684.2L721.1 686.1L721.3 687.8L721.4 689.4L721.6 690.7L721.8 691.8L721.9 692.4L722.1 692.5L722.3 692.5L722.5 692.5L722.6 692.4L722.8 692.3L723 692.2L723.2 692.1L723.4 691.9L723.5 691.8L723.7 691.6L723.9 691.4L724.1 691.3L724.3 691.1L724.5 690.9L724.7 690.7L724.9 690.5L725.1 690.4L725.3 690.2L725.5 690.1L725.7 690L725.9 689.9L726.1 689.8L726.4 689.8L726.6 689.8L726.8 689.9L727 690L727.2 690.1L727.4 690.2L727.7 690.4L727.9 690.6L728.1 690.8L728.4 691L728.6 691.3L728.8 691.5L729.1 691.7L729.3 691.9L729.6 692.1L729.8 692.3L730.1 692.4L730.3 692.5L730.6 692.5L730.8 692.3L731.1 691.2L731.4 689.4L731.6 687.2L731.9 684.6L732.2 681.9L732.5 679.2L732.8 676.8L733 674.8L733.3 673.6L733.6 673.3L733.9 674.1L734.2 675.7L734.5 678L734.8 680.9L735.1 683.9L735.4 687L735.8 689.9L736.1 692.1L736.4 693.6L736.7 693.9L737.1 692.7L737.4 690.3L737.7 686.8L738.1 682.5L738.4 677.6L738.8 672.5L739.1 667.4L739.5 662.6L739.9 658.5L740.3 655.6L740.6 654.1L741 654.3L741.4 656L741.8 658.9L742.2 662.7L742.6 667.3L743 672.3L743.4 677.5L743.9 682.5L744.3 687L744.7 690.7L745.2 693.2L745.6 693.9L746.1 693L746.5 690.8L747 687.5L747.5 683.4L747.9 678.7L748.4 673.8L748.9 669L749.4 664.6L749.9 661L750.5 658.7L751 658.2L751.5 659.5L752.1 662.5L752.6 666.7L753.2 671.9L753.7 677.4L754.3 682.9L754.9 687.9L755.5 691.7L756.1 693.8L756.7 693.2L757.4 689.7L758 683.9L758.7 676.5L759.3 668.2L760 660.2L760.7 653.3L761.4 646L762.1 638L762.9 631.3L763.6 627.9L764.3 629.2L765.1 633.9L765.9 640.6L766.7 647.9L767.5 654.2L768.4 660.1L769.2 666.7L770.1 673.3L770.9 679.1L771.9 683.1L772.8 684.2L773.7 680.3L774.7 671.4L775.7 658.6L776.7 643.6L777.7 627.8L778.7 608.8L779.8 583L780.9 555.1L782 530.1L783.2 513.6L784.3 501.1L785.5 491.6L786.8 488.9L788 493.8L789.3 503.9L790.6 516.3L792 533.5L793.4 557.9L794.8 584.6L796.3 608.1L797.8 626.5L799.3 645.4L800.9 663.2L802.5 677.3L804.2 684.7L805.9 683L807.7 674.1L809.5 660.6L811.4 645.2L813.3 628.6L815.3 606.3L817.4 583.1L819.5 565.7L821.7 555.2L824 546.4L826.3 541.6L828.8 543L831.3 549.5L833.9 558.6L836.5 570.5L839.3 587.9L842.2 606.8L845.2 622.1L848.3 636.2L851.5 648.3L854.9 652.4L858.4 642.2L862 625.1L865.8 604L869.8 578.5L873.9 548.7L878.3 517.1L882.8 487.2L887.5 458.4L892.5 434.5L897.8 418.2L903.2 408.9L909 403.6L915.1 406.1L921.6 416.4L928.4 432.4L935.6 456.3L943.2 484.8L951.3 515.1L960 539.5L969.2 558.2L979 576.9L989.6 587.8L1000.9 581.1L1013.1 557.8L1026.3 509.4" fill="none" stroke="#d62728" stroke-width="3.8" stroke-linejoin="round"/><path d="M683.5 695.3L684.9 693.9L685.6 693.2L686 587.9L686.1 587.9L686.6 693.2L687.3 693.9L688.6 694.2L689.5 694L690.4 693.7L691.2 694L692.1 694.8L692.9 694.7L693.8 694.6L694.6 694.1L695.5 695.1L696.4 694.1L697.2 694.1L698.1 694.5L698.9 694.7L699.8 694.7L700.6 694.5L701.5 694.7L702.4 694.4L703.2 694.3L704.1 694.2L704.9 693.5L705.8 693.7L706.6 694L707.5 694.2L708.4 692.3L709.2 694L710.1 692.5L710.9 694.2L711.8 693.3L712.6 694.2L713.5 694.9L714.4 695L715.2 694.1L716.1 694.2L716.9 693.4L717.8 694.2L718.6 693.8L719.5 694L720.4 694L721.2 694.4L722.1 693.9L723.4 689.8L724 695.3L724.6 667.8L725 693.7L725.3 654.7L725.8 691.9L726.4 678.8L726.9 694.5L727.4 681.5L727.7 693.8L728.1 669.1L728.6 695.3L729.1 687L729.6 694.6L730.1 692.5L731.2 694.3L732.3 693.9L733.2 694.4L734.1 693.1L734.9 693.9L735.8 693.3L736.6 693.7L737.5 693.6L738.3 694.8L739.2 694L740.1 694.2L740.9 693.9L741.8 692.7L742.6 693.8L743.5 693.2L744.3 693L745.2 694.7L746.1 694L746.9 693.9L747.8 694L748.6 694.4L749.5 691.9L750.3 692.8L751.2 693.4L752.1 691.8L752.9 693.3L753.8 693.9L754.6 693.2L755.5 692.7L756.3 692.1L757.2 692.5L758.1 693.3L758.9 689.8L759.3 694.6L759.8 681.5L760.2 694.7L760.6 687L761.1 694.3L761.5 674.6L761.9 694.8L762.3 678.8L762.9 690.5L763.4 654L763.7 692.6L764 637.5L764.3 687L764.6 654L764.9 693.8L765.3 678.8L765.7 691L766.1 670.5L766.5 693.1L766.8 684.3L767.1 694.9L767.5 674.6L767.9 690.1L768.3 665L768.8 686.7L769.2 660.9L769.5 689.3L769.9 673.3L770.2 691.5L770.6 659.5L770.9 694.1L771.3 667.8L771.5 693.7L771.8 656.7L772.2 684.6L772.6 654L773 688.5L773.3 626.4L773.6 691.6L773.9 587.9L774.2 677L774.5 626.4L774.9 687.3L775.2 654L775.6 688.2L776.1 637.5L776.4 691.4L776.7 660.9L777.1 693.3L777.4 678.8L778 694.1L778.6 678.8L779.2 695.2L779.8 688.4L780.5 693.5L781.2 685.7L781.6 694.1L782.1 687L782.9 694.6L783.8 691.2L785.1 695L786.3 691.9L787.2 690.6L788.1 694.4L788.9 692.8L789.8 692.5L790.6 694.5L791.5 694.2L792.3 691.3L793.2 692.7L794.1 693.6L794.9 693.6L795.8 693.4L796.6 692.4L797.5 693.9L798.3 693.1L799.2 692.7L800.1 693.7L800.9 693.1L801.8 693.2L802.6 690.7L803.5 691.2L804.9 689.1L806.2 692.5L807 691.2L807.8 694.3L808.6 693.6L809.5 692.1L810.3 694.8L811.2 692.1L812 691.6L812.9 694.1L813.8 692.5L814.6 693.1L815.5 692.1L816.3 694.8L817.2 693.9L818 693.5L818.9 692.9L819.8 693.5L820.6 692.9L821.5 694.2L822.3 694.2L823.2 693.7L824 693.2L824.9 694.2L825.8 693.8L826.6 692.1L827.5 693.3L828.3 694L829.2 694.2L830 692.7L830.9 693.9L831.8 693.9L832.6 692.6L833.5 693.7L834.3 693.6L835.2 692.5L836 692.9L836.9 693.2L837.8 693.5L838.5 693.7L839.3 692.5L840.1 693.8L840.9 692.6L841.7 694.8L842.4 694L843.2 693.8L844 693L844.8 694.5L845.6 693.5L846.3 694.2L847.1 693.8L847.9 693.7L848.7 693.8L849.4 693.1L850.2 694.3L851 694.2L851.8 694.6L852.6 694.9L853.3 694.5L854.1 693L854.9 693.9L855.8 693L856.6 694.6L857.5 693.3L858.3 693.5L859.2 693.1L860 692.8L860.9 693.8L861.8 693.2L862.6 691.4L863.5 693L864.3 692.3L865.2 692.1L866 693.8L866.9 694.3L867.8 692.7L868.6 692.3L869.5 691.3L870.3 691.7L871.2 692.5L872 693.6L872.9 694.5L873.8 691.8L874.6 691.9L875.5 691.4L876.3 692.5L877.2 692.5L878 690.9L878.9 694.5L879.8 694.6L880.6 694.7L881.5 694.1L882.3 693.6L883.2 694L884 694L884.9 692.1L885.8 694.3L886.6 691.9L887.5 691.7L888.3 694L889.2 692.4L890 694.8L890.9 693.9L891.7 694.3L892.5 692.8L893.2 693.7L894 693L894.8 693.3L895.6 693.4L896.3 694.4L897.1 693.5L897.9 694.8L898.7 692.8L899.5 693.6L900.3 692.5L901.2 693L902 694.9L902.9 694.3L903.7 694.4L904.6 694.9L905.5 694.1L906.3 694.5L907.1 694L907.9 694.7L908.7 694L909.4 694L910.2 694.9L911 694.1L911.8 693.9L912.6 694.8L913.3 694.3L914.1 694.2L914.9 694.3L915.7 695L916.4 694.2L917.2 694.3L918 694L918.8 694L919.6 694.7L920.3 694.1L921.1 693.9L921.9 693.9L922.7 694.9L923.5 694.5L924.2 695.1L925 694.2L925.8 694.8L926.6 694.3L927.4 693.7L928.1 694.5L928.9 694.7L929.7 694.3L930.5 694L931.3 694.9L932 694.4L932.8 694.8L933.6 693.9L934.4 693.6L935.1 694.4L935.9 694.3L936.7 694L937.5 694.6L938.3 694.5L939 694.4L939.8 694.1L940.6 694.1L941.4 694.8L942.2 693.6L942.9 694L943.7 694.5L944.5 694.9L945.3 693.9L946.1 694.9L946.8 694.9L947.6 694.9L948.4 695L949.2 694.6L949.9 694.1L950.7 694.8L951.5 694.7L952.3 694.1L953.1 694.3L953.8 694.9L954.6 694.5L955.4 693.9L956.2 694.6L957 694.1L957.7 694.9L958.5 694L959.3 693.9L960.1 693.8L960.9 694L961.6 694.5L962.4 694.9L963.2 694.2L964 693.8L964.8 694.7L965.5 694.6L966.3 694.2L967.1 694L967.9 693.6L968.7 693.3L969.5 694.7L970.3 694.6L971.1 693.3L971.9 693.6L972.7 693.3L973.5 692.7L974.3 692.7L975.1 692.9L975.9 693L976.7 693.9L977.5 693.2L978.3 693.6L979.2 694.5L980 693.2L980.9 693.4L981.7 693.7L982.6 694.3L983.4 694.5L984.3 694.6L985.2 694.6L986 695.1L986.8 694.2L987.6 694.5L988.4 694.7L989.2 694.5L990 694.3L990.8 694.7L991.7 694.2L992.5 694.1L993.3 694.7L994.1 695L994.9 694.3L995.7 694L996.5 695L997.3 694.3L998.2 694.2L999 694.1L999.8 695L1000.6 694.6L1001.4 695L1002.2 693.8L1003 694.9L1003.8 694.8L1004.5 694.2L1005.3 694.3L1006.1 693.8L1006.9 694.7L1007.7 693.3L1008.5 694.6L1009.3 693.4L1010.1 694.8L1010.9 693.9L1011.7 693.6L1012.6 694.7L1013.4 693.6L1014.3 693.4L1015.2 692.5L1016 691.9L1016.9 693.3L1017.7 694.7L1018.6 692.7L1019.4 694.2L1020.3 693.5L1021.2 693.5L1022 694.7L1022.9 694.5L1023.7 694.7L1024.6 694.9L1025.4 695L1026.3 694.5" fill="none" stroke="#000" stroke-width="3.9" stroke-linejoin="round"/></g><rect x="838.7" y="428.85" width="179" height="30.4" rx="3.4" fill="#fff" fill-opacity="0.8" stroke="#ccc" stroke-opacity="0.8" stroke-width="1.7"/><path d="M845.8 442.55h33.4" stroke="#000" stroke-width="3.6999999999999997" stroke-linecap="square" fill="none"/><text x="892.8" y="448.45" font-size="16.87" text-anchor="start">Luhman 16AB</text><rect x="683.5" y="419.85" width="342.8" height="275.45" fill="none" stroke="#000" stroke-width="1.65"/><path d="M683.5 695.3v6M769.2 695.3v6M854.9 695.3v6M940.6 695.3v6M1026.3 695.3v6" stroke="#000" stroke-width="1.6" fill="none"/><text x="683.5" y="723" font-size="20.5" text-anchor="middle">0</text><text x="769.2" y="723" font-size="20.5" text-anchor="middle">5</text><text x="854.9" y="723" font-size="20.5" text-anchor="middle">10</text><text x="940.6" y="723" font-size="20.5" text-anchor="middle">15</text><text x="1026.3" y="723" font-size="20.5" text-anchor="middle">20</text><path d="M683.5 695.3h-6M683.5 626.44h-6M683.5 557.58h-6M683.5 488.71h-6M683.5 419.85h-6" stroke="#000" stroke-width="1.6" fill="none"/><text x="671.8" y="703.35" font-size="20.5" text-anchor="end">0.00</text><text x="671.8" y="634.49" font-size="20.5" text-anchor="end">0.05</text><text x="671.8" y="565.62" font-size="20.5" text-anchor="end">0.10</text><text x="671.8" y="496.76" font-size="20.5" text-anchor="end">0.15</text><text x="671.8" y="427.9" font-size="20.5" text-anchor="end">0.20</text><text x="854.9" y="748.85" font-size="20.5" text-anchor="middle">Period (hours)</text><text transform="translate(615.3 557.58) rotate(-90)" font-size="20.5" text-anchor="middle">Power</text><text x="854.9" y="409.45" font-size="24.3" text-anchor="middle">Separation: 63.4 arcsec</text>
<g clip-path="url(#c10)"><path d="M1212.5 505.9L1214 508.2L1215.5 511L1217 514L1218.5 517.3L1220 520.8L1221.5 524.5L1222.9 528.4L1224.4 532.7L1225.9 537.3L1227.4 542.2L1228.9 547.2L1230.4 552.3L1231.9 557.3L1233.4 562.2L1234.9 566.9L1236.4 571.6L1237.9 576.3L1239.4 580.9L1240.9 585.5L1242.4 590L1243.9 594.4L1245.4 598.6L1246.9 602.7L1248.4 606.6L1249.9 610.4L1251.4 614.1L1252.9 617.7L1254.4 621.2L1255.9 624.7L1257.4 628L1258.8 631.3L1260.3 634.7L1261.8 638.1L1263.3 641.5L1264.8 644.8L1266.3 647.9L1267.8 650.7L1269.3 653.2L1270.8 655.2L1272.3 657.1L1273.8 658.9L1275.3 660.7L1276.8 662.4L1278.3 663.8L1279.8 664.9L1281.3 665.7L1282.8 666L1284.3 666L1285.8 666L1287.3 666L1288.8 666L1290.3 666L1291.8 665.7L1293.3 664.8L1294.7 663.5L1296.2 661.9L1297.7 660.2L1299.2 658.5L1300.7 656.9L1302.2 655.1L1303.7 653.2L1305.2 651.2L1306.7 649.1L1308.2 647.1L1309.7 645.7L1309.8 645.5L1309.8 658.2L1309.7 658.6L1308.2 662.3L1306.7 664.8L1305.2 666.6L1303.7 668.2L1302.2 669.6L1300.7 671L1299.2 672.3L1297.7 673.8L1296.2 675.4L1294.7 676.8L1293.3 678L1291.8 678.8L1290.3 679.1L1288.8 679.1L1287.3 679.1L1285.8 679.1L1284.3 679.1L1282.8 679.1L1281.3 678.8L1279.8 678.2L1278.3 677.2L1276.8 675.9L1275.3 674.4L1273.8 672.7L1272.3 671L1270.8 669.2L1269.3 667.2L1267.8 664.7L1266.3 661.8L1264.8 658.7L1263.3 655.4L1261.8 652L1260.3 648.6L1258.8 645.3L1257.4 642L1255.9 638.6L1254.4 635.2L1252.9 631.7L1251.4 628.1L1249.9 624.4L1248.4 620.6L1246.9 616.7L1245.4 612.6L1243.9 608.4L1242.4 604L1240.9 599.5L1239.4 594.9L1237.9 590.2L1236.4 585.6L1234.9 580.9L1233.4 576.2L1231.9 571.3L1230.4 566.2L1228.9 561.2L1227.4 556.1L1225.9 551.3L1224.4 546.6L1222.9 542.3L1221.5 538.4L1220 534.6L1218.5 530.9L1217 527.3L1215.5 523.9L1214 520.7L1212.5 518.1ZM1336 537L1337.5 533.9L1339 530.1L1340.5 526.4L1342 522.9L1343.5 519.6L1345 516.5L1346.5 513.3L1348 510.1L1349.5 507L1351 503.9L1352.5 501L1354 498.2L1355.5 495.6L1357 493.2L1358.5 490.9L1360 488.8L1361.5 486.7L1363 484.7L1364.5 482.7L1366 480.8L1367.5 478.8L1369 476.8L1370.5 474.9L1372 473L1373.5 471.2L1375 469.5L1376.4 467.7L1377.9 465.9L1379.4 464.1L1380.9 462.2L1382.4 460.2L1383.9 458.3L1385.4 456.4L1386.9 454.5L1388.4 452.7L1389.9 451L1391.4 449.5L1392.9 448.1L1394.4 446.7L1395.9 445.2L1397.4 443.7L1398.9 442.3L1400.4 441L1401.9 439.9L1403.4 439L1404.9 438.4L1406.4 438.2L1407.9 438.2L1409.4 438.4L1410.9 438.7L1412.4 439.1L1413.9 439.6L1415.4 440.2L1416.8 440.8L1418.3 441.8L1419.8 443.3L1421.3 445L1422.8 446.9L1424.3 449L1425.8 451.1L1427.3 453.4L1428.8 456L1430.3 459.1L1431.8 462.3L1432.5 463.8L1432.5 472.6L1431.8 471.6L1430.3 469.3L1428.8 467.2L1427.3 465.2L1425.8 463.3L1424.3 461.4L1422.8 459.6L1421.3 457.8L1419.8 456.2L1418.3 454.9L1416.8 453.9L1415.4 453.3L1413.9 452.7L1412.4 452.2L1410.9 451.8L1409.4 451.5L1407.9 451.3L1406.4 451.2L1404.9 451.5L1403.4 452L1401.9 452.8L1400.4 453.7L1398.9 454.9L1397.4 456.2L1395.9 457.5L1394.4 458.9L1392.9 460.3L1391.4 461.7L1389.9 463.2L1388.4 464.9L1386.9 466.7L1385.4 468.6L1383.9 470.5L1382.4 472.5L1380.9 474.4L1379.4 476.3L1377.9 478.2L1376.4 480.2L1375 482.3L1373.5 484.4L1372 486.5L1370.5 488.6L1369 490.7L1367.5 492.8L1366 494.7L1364.5 496.7L1363 498.7L1361.5 500.7L1360 502.8L1358.5 504.9L1357 507.2L1355.5 509.6L1354 512.2L1352.5 515L1351 517.9L1349.5 521L1348 524.1L1346.5 527.3L1345 530.5L1343.5 533.6L1342 536.6L1340.5 539.5L1339 542.4L1337.5 545.2L1336 547.5ZM1464.3 520.5L1465.8 520.2L1467.3 519.8L1468.8 519.4L1470.3 519L1471.8 518.6L1473.3 518.2L1474.8 517.7L1476.3 517.3L1477.8 516.8L1479.2 516.2L1480.7 515.4L1482.2 514.6L1483.7 513.8L1485.2 513.2L1486.7 512.6L1488.2 512.3L1489.7 512.3L1491.2 512.5L1492.7 512.9L1494.2 513.5L1495.7 514.2L1497.2 514.9L1498.7 515.7L1500.2 516.4L1501.7 517L1503.2 517.7L1504.7 518.6L1506.2 519.6L1507.7 520.6L1509.2 521.6L1510.7 522.6L1512.2 523.5L1513.7 524.2L1515.1 524.9L1516.6 525.6L1518.1 526.3L1519.6 526.9L1521.1 527.5L1522.6 528L1524.1 528.5L1525.6 529L1527.1 529.3L1528.6 529.7L1530.1 530L1531.6 530.3L1533.1 530.6L1534.6 530.9L1536.1 531.1L1537.6 531.3L1539.1 531.5L1540.6 531.7L1542.1 531.8L1543.6 531.9L1545.1 531.9L1546.6 531.9L1548.1 531.8L1549.6 531.7L1551 530.7L1552.5 528.6L1554 525.9L1554.6 525.1L1554.6 542.5L1554 542.9L1552.5 544.3L1551 545.3L1549.6 545.6L1548.1 545.4L1546.6 545.1L1545.1 544.9L1543.6 544.6L1542.1 544.3L1540.6 544L1539.1 543.8L1537.6 543.5L1536.1 543.3L1534.6 543.1L1533.1 542.8L1531.6 542.6L1530.1 542.2L1528.6 541.9L1527.1 541.6L1525.6 541.2L1524.1 540.7L1522.6 540.3L1521.1 539.7L1519.6 539.1L1518.1 538.5L1516.6 537.8L1515.1 537.2L1513.7 536.4L1512.2 535.7L1510.7 534.8L1509.2 533.8L1507.7 532.8L1506.2 531.8L1504.7 530.8L1503.2 530L1501.7 529.2L1500.2 528.6L1498.7 528.1L1497.2 527.6L1495.7 527.2L1494.2 526.8L1492.7 526.5L1491.2 526.3L1489.7 526.2L1488.2 526.3L1486.7 526.6L1485.2 527.1L1483.7 527.8L1482.2 528.6L1480.7 529.4L1479.2 530.2L1477.8 530.8L1476.3 531.3L1474.8 531.7L1473.3 532.1L1471.8 532.4L1470.3 532.7L1468.8 533L1467.3 533.2L1465.8 533.4L1464.3 533.6ZM1592.1 557.1L1593.6 557.7L1595.1 558L1596.6 558.1L1598.1 558L1599.6 557.6L1601 556.6L1602.5 555.1L1604 553.3L1605.5 551.1L1607 548.8L1608.5 546.4L1610 544.1L1611.5 541.6L1613 538.4L1614.5 534.8L1616 530.8L1617.5 526.8L1619 522.7L1620.5 518.9L1622 515.5L1623.5 512.4L1625 509.4L1626.5 506.5L1628 503.7L1629.5 500.9L1631 498.4L1632.5 495.9L1634 493.6L1635.5 491.5L1637 489.5L1638.5 487.6L1640 485.8L1641.5 484L1642.9 482.3L1644.4 480.7L1645.9 479L1647.4 477.4L1648.9 475.9L1650.4 474.5L1651.9 473.1L1653.4 471.7L1654.9 470.2L1656.4 468.7L1657.9 467.1L1659.4 465.4L1660.9 463.7L1662.4 462L1663.9 460.2L1665.4 458.4L1666.9 456.6L1668.4 454.6L1669.9 452.4L1671.4 450.1L1672.9 447.7L1674.4 445.1L1675.9 442.4L1677.4 439.6L1678.9 436.7L1680.4 434.8L1681.5 434.8L1681.5 446.6L1680.4 446.6L1678.9 448.3L1677.4 450.8L1675.9 453.3L1674.4 455.8L1672.9 458.2L1671.4 460.6L1669.9 463L1668.4 465.4L1666.9 467.9L1665.4 470.4L1663.9 472.8L1662.4 475.2L1660.9 477.4L1659.4 479.3L1657.9 481.1L1656.4 482.7L1654.9 484.2L1653.4 485.6L1651.9 487L1650.4 488.4L1648.9 489.9L1647.4 491.4L1645.9 493L1644.4 494.6L1642.9 496.3L1641.5 498L1640 499.7L1638.5 501.5L1637 503.4L1635.5 505.4L1634 507.6L1632.5 509.9L1631 512.3L1629.5 514.9L1628 517.6L1626.5 520.4L1625 523.3L1623.5 526.3L1622 529.4L1620.5 532.9L1619 536.7L1617.5 540.7L1616 544.8L1614.5 548.7L1613 552.4L1611.5 555.5L1610 558.1L1608.5 560.3L1607 562.6L1605.5 564.6L1604 566.5L1602.5 568.1L1601 569.3L1599.6 570L1598.1 570.2L1596.6 570.1L1595.1 569.8L1593.6 569.3L1592.1 568.5Z" fill="#ff7f0e"/><g transform="scale(.5)"><path d="M2425 1023h0m0 1h0m0 3h0m0 3h0m0 4h0m3 5h0m0 4h0m0 8h0m2-30h0m0 1h0m1 23h0m0 3h0m0 7h0m1-28h0m1 28h0m0 3h0m1-4h0m1 10h0m1-38h0m0 5h0m0 28h0m3-18h0m2 32h0m1-24h0m0 22h0m1-24h0m1 32h0m0 2h0m2-27h0m0 28h0m1 5h0m1 0h0m0 5h0m1-26h0m0 2h0m0 23h0m1-20h0m1 25h0m0 6h0m1-28h0m0 1h0m0 35h0m1-37h0m0 9h0m1 1h0m0 24h0m1-18h0m0 21h0m0 3h0m0 4h0m1-26h0m1 0h0m0 4h0m1-1h0m1 33h0m1-22h0m2 0h0m0 2h0m0 26h0m1-24h0m0 30h0m0 8h0m1-36h0m0 8h0m0 23h0m1-21h0m0 34h0m1-31h0m0 23h0m1-19h0m0 23h0m0 6h0m1-25h0m2 3h0m0 2h0m0 22h0m0 1h0m1-30h0m0 38h0m1 0h0m1-29h0m0 2h0m0 4h0m0 25h0m1-27h0m0 31h0m1 1h0m1 11h0m1-26h0m0 22h0m0 2h0m1-28h0m0 4h0m1 30h0m0 8h0m1-3h0m1-23h0m0 24h0m2 5h0m1-24h0m0 31h0m2-30h0m0 32h0m0 1h0m1-23h0m1 5h0m1 0h0m0 3h0m0 26h0m1-24h0m0 25h0m0 5h0m2 1h0m0 6h0m1-34h0m1-4h0m0 36h0m1-31h0m0 6h0m3 9h0m0 27h0m1-28h0m0 5h0m0 25h0m1 3h0m0 1h0m0 1h0m2-25h0m2 4h0m0 30h0m1-1h0m1-25h0m0 3h0m0 1h0m1 26h0m0 2h0m1 9h0m1-31h0m0 26h0m0 1h0m1-23h0m0 30h0m1 4h0m2-5h0m1-20h0m0 28h0m1-3h0m1-30h0m0 2h0m0 30h0m1 8h0m1-31h0m0 1h0m0 32h0m1-27h0m1 36h0m1-8h0m2-20h0m0 28h0m1-35h0m0 5h0m0 7h0m0 25h0m2-27h0m1 4h0m1 3h0m1-2h0m0 7h0m1 30h0m1 2h0m0 11h0m1-13h0m1-26h0m0 3h0m1 2h0m1 27h0m2-22h0m1 3h0m0 24h0m1-33h0m1 6h0m0 30h0m1-30h0m0 34h0m2 3h0m0 1h0m1-34h0m0 33h0m1 2h0m1 10h0m1-37h0m1 29h0m1-28h0m0 31h0m2-35h0m0 42h0m1-5h0m3-26h0m2 32h0m1-34h0m0 5h0m1 31h0m0 1h0m1-3h0m1-24h0m1-9h0m1 8h0m1-4h0m0 4h0m0 29h0m1-27h0m0 29h0m1 6h0m1-10h0m2-34h0m0 37h0m1-31h0m2-3h0m0 4h0m1 28h0m0 7h0m1-35h0m0 29h0m1-27h0m0 26h0m0 5h0m1-34h0m0 2h0m1-3h0m4 1h0m0 2h0m0 28h0m1-1h0m3-1h0m1-28h0m0 42h0m1-44h0m0 28h0m0 12h0m1-14h0m1 0h0m0 3h0m1-5h0m3-27h0m0 27h0m2 0h0m1-2h0m1-35h0m0 36h0m3-43h0m0 5h0m0 1h0m0 31h0m2 0h0m1-34h0m1 29h0m1 3h0m1-40h0m0 2h0m0 5h0m0 26h0m2-29h0m1 35h0m1-1h0m1-41h0m0 36h0m1-37h0m2-4h0m3 25h0m1 2h0m1-22h0m0 4h0m0 3h0m0 5h0m0 2h0m0 4h0m1-20h0m0 5h0m52-218h0m0 1h0m1-11h0m0 3h0m0 2h0m0 6h0m0 10h0m0 2h0m1-8h0m1-26h0m0 3h0m2-10h0m0 27h0m1-33h0m1 9h0m0 30h0m2-35h0m0 30h0m1-10h0m0 3h0m1-31h0m0 4h0m0 24h0m3-3h0m0 1h0m1-31h0m0 24h0m0 2h0m0 2h0m1-7h0m1-32h0m1 4h0m0 26h0m1-3h0m0 1h0m3-35h0m1 29h0m0 6h0m1-40h0m1 2h0m1-9h0m0 2h0m0 2h0m0 2h0m0 28h0m2-36h0m0 28h0m0 4h0m1-35h0m0 32h0m1-35h0m2-1h0m0 39h0m1-41h0m1-3h0m0 38h0m1-41h0m0 6h0m2-13h0m0 9h0m0 24h0m0 3h0m1-29h0m0 28h0m0 2h0m1-36h0m0 3h0m1-1h0m1 25h0m3-32h0m0 26h0m0 2h0m1-35h0m0 6h0m1-11h0m0 4h0m0 4h0m2-9h0m1 6h0m0 29h0m1-3h0m0 2h0m2-33h0m0 1h0m0 25h0m0 17h0m2-45h0m0 29h0m2-36h0m0 4h0m1-5h0m0 30h0m0 2h0m1-28h0m2-4h0m0 29h0m1-31h0m0 26h0m0 2h0m1-28h0m1-5h0m0 3h0m0 34h0m2-9h0m1-29h0m2 24h0m1-32h0m2 3h0m0 25h0m1-2h0m1-38h0m0 12h0m1-9h0m0 5h0m0 29h0m1 0h0m2-38h0m0 35h0m1-33h0m0 30h0m1-26h0m1 25h0m1-28h0m0 31h0m1-33h0m0 28h0m1-31h0m0 28h0m3-5h0m2-26h0m1 21h0m1-1h0m1-25h0m0 2h0m0 23h0m1-27h0m0 24h0m1-29h0m2 27h0m1-2h0m2-27h0m1 0h0m1-6h0m0 27h0m1-27h0m0 3h0m1 30h0m1-6h0m1-4h0m0 2h0m1-27h0m0 1h0m0 23h0m1-3h0m1-24h0m0 26h0m1-26h0m3-7h0m0 2h0m1 1h0m0 26h0m2-35h0m0 1h0m1 3h0m0 27h0m1 3h0m1-33h0m2 27h0m1-5h0m0 7h0m1-2h0m1-35h0m0 29h0m0 7h0m1-33h0m0 2h0m1 0h0m0 28h0m1-33h0m1 27h0m1-26h0m3 24h0m1-1h0m1-29h0m0 27h0m1-28h0m2-1h0m0 31h0m1-4h0m2-27h0m2 29h0m2-41h0m0 38h0m2-29h0m0 3h0m0 43h0m4-45h0m0 40h0m3-10h0m1 4h0m1-29h0m2 1h0m1 29h0m1-32h0m0 29h0m0 1h0m1-30h0m0 1h0m0 30h0m2-26h0m0 28h0m1-3h0m1-28h0m1 1h0m1-5h0m1 34h0m1-34h0m1 10h0m1-2h0m0 30h0m0 3h0m1-31h0m0 3h0m1-7h0m0 6h0m0 1h0m0 3h0m2-3h0m0 27h0m1-21h0m0 1h0m0 24h0m1-1h0m2 4h0m1-22h0m1 30h0m2-30h0m2-2h0m0 3h0m1 3h0m0 25h0m0 2h0m1-25h0m1-1h0m0 7h0m1 25h0m1-24h0m1 2h0m0 25h0m1-23h0m0 4h0m0 18h0m0 4h0m1-3h0m2-12h0m0 2h0m0 5h0m0 3h0m0 7h0m1-20h0m0 8h0m0 5h0m64 110h0m0 1h0m0 6h0m0 1h0m0 1h0m0 2h0m0 5h0m1-30h0m2 5h0m0 29h0m0 1h0m1-35h0m0 2h0m0 5h0m2-1h0m0 26h0m1 3h0m0 3h0m1-32h0m1 27h0m1 7h0m1-5h0m1-37h0m0 43h0m1-11h0m0 2h0m1-31h0m2 30h0m1 5h0m1-38h0m2 0h0m1 33h0m1-31h0m2-8h0m0 8h0m1-3h0m0 2h0m0 1h0m0 28h0m3 2h0m1-35h0m0 3h0m0 2h0m0 31h0m2-38h0m2 3h0m0 28h0m1-28h0m1-2h0m0 33h0m1-40h0m0 5h0m0 31h0m2-29h0m0 29h0m1-3h0m0 5h0m1-34h0m0 30h0m2 0h0m1-32h0m2 3h0m0 27h0m1-33h0m0 34h0m1-2h0m0 2h0m1-31h0m2 34h0m0 4h0m1-37h0m0 1h0m1 28h0m2-32h0m0 31h0m2-33h0m1 6h0m0 1h0m0 1h0m5 2h0m0 25h0m1-30h0m0 6h0m0 31h0m2-5h0m0 1h0m1-31h0m1 3h0m1 2h0m1-6h0m1 7h0m0 26h0m1 6h0m3-6h0m1-26h0m0 28h0m0 9h0m1-38h0m1 3h0m0 27h0m3-24h0m1-3h0m0 28h0m1-30h0m1 5h0m0 2h0m0 28h0m1-4h0m2-26h0m1 3h0m1 2h0m0 25h0m3-26h0m0 27h0m0 2h0m1-26h0m2 29h0m1-31h0m0 2h0m0 3h0m0 27h0m1-31h0m0 34h0m1-34h0m2 30h0m2 6h0m1-31h0m0 1h0m0 32h0m1-33h0m1 29h0m1-28h0m0 31h0m1 3h0m1-7h0m3 4h0m2-1h0m2-24h0m0 28h0m1-32h0m2 31h0m0 3h0m1-30h0m1-2h0m1 36h0m1-34h0m0 1h0m2 3h0m0 25h0m4 1h0m1-26h0m1 27h0m1-27h0m2-3h0m1 4h0m1 1h0m2 25h0m0 1h0m1 5h0m1-4h0m3 0h0m1-1h0m1 7h0m1 0h0m1-2h0m1-39h0m0 33h0m1-24h0m0 27h0m0 1h0m1-31h0m2 3h0m1-1h0m0 27h0m1-33h0m2 0h0m0 8h0m1 26h0m2 0h0m3-35h0m0 4h0m1-1h0m0 32h0m0 2h0m1-29h0m2-2h0m0 33h0m2-2h0m1-28h0m1 0h0m3 29h0m1 0h0m1-32h0m1-4h0m0 3h0m1 34h0m1-43h0m0 2h0m2 33h0m0 4h0m1-37h0m0 3h0m1 11h0m0 7h0m0 5h0m0 2h0m0 14h0m75 20h0m0 11h0m0 11h0m1-20h0m0 3h0m0 2h0m0 3h0m0 7h0m0 7h0m0 4h0m1-4h0m0 2h0m1-28h0m1 0h0m0 1h0m1 1h0m0 1h0m0 24h0m0 5h0m2-30h0m0 26h0m2-24h0m1 27h0m0 3h0m1-39h0m0 36h0m0 11h0m1-42h0m0 4h0m0 1h0m1 24h0m1-25h0m3-3h0m1 28h0m1-27h0m1-2h0m0 25h0m0 5h0m1-6h0m0 2h0m2-30h0m0 27h0m2-28h0m0 24h0m0 6h0m0 3h0m1-44h0m0 36h0m1-3h0m1-2h0m2-28h0m1 25h0m0 7h0m1-10h0m0 3h0m0 1h0m3-37h0m0 36h0m2-38h0m0 27h0m0 3h0m2-36h0m0 30h0m2 4h0m1-35h0m0 27h0m0 4h0m1-40h0m0 30h0m0 1h0m1-30h0m1 26h0m1-1h0m1-7h0m0 3h0m1-32h0m0 4h0m0 1h0m0 23h0m2-29h0m1 27h0m1-35h0m1 23h0m1-27h0m1 22h0m1-29h0m0 2h0m1-3h0m0 26h0m2-4h0m0 3h0m0 1h0m1-9h0m0 3h0m2-33h0m0 26h0m1-2h0m0 7h0m1-36h0m0 37h0m4-47h0m0 34h0m1-1h0m1-4h0m1-35h0m1 2h0m1 26h0m1-29h0m0 26h0m1 0h0m1-36h0m2 5h0m0 28h0m1-3h0m1-33h0m2-1h0m1-5h0m0 1h0m1 35h0m2-37h0m1 26h0m0 5h0m1-40h0m0 34h0m1-38h0m0 6h0m0 3h0m1 25h0m0 1h0m1-28h0m2-10h0m0 3h0m0 1h0m0 37h0m1-44h0m0 6h0m0 30h0m1-2h0m0 4h0m0 1h0m2-35h0m0 32h0m0 1h0m2-5h0m1-2h0m0 1h0m3-5h0m3-31h0m0 27h0m0 2h0m1-32h0m1 0h0m2-12h0m1-11h0m0 21h0m1 28h0m1 1h0m0 4h0m1-37h0m0 33h0m1-34h0m0 29h0m2-3h0m1-31h0m0 1h0m1-1h0m0 3h0m0 26h0m1 4h0m1-39h0m0 34h0m3-31h0m0 34h0m1-7h0m0 4h0m2-33h0m0 29h0m1-30h0m0 32h0m1-38h0m0 35h0m2-36h0m0 1h0m1 27h0m0 4h0m0 4h0m1-37h0m0 34h0m2-37h0m2 29h0m1-29h0m2-4h0m0 2h0m2 29h0m1-37h0m0 31h0m1-41h0m0 4h0m0 33h0m1 2h0m1 4h0m1-33h0m1 21h0m1-4h0m0 1h0m0 4h0m1-25h0m1-7h0m0 5h0m0 26h0m2-33h0m0 27h0m1-3h0m1-25h0m0 22h0m1-21h0m0 19h0m1-2h0m1 1h0m2-3h0m1-22h0m1 15h0m1 2h0m1-26h0m1 20h0m0 2h0m1 1h0m1-26h0m0 20h0m2-26h0m0 3h0m0 18h0m0 4h0m2-3h0m1-24h0m0 24h0m1-2h0m1-37h0m0 37h0m1-30h0m1 0h0m1-2h0m1 4h0m0 5h0m0 5h0m0 3h0m0 1h0m0 1h0m1-13h0m0 2h0m0 1h0m0 3h0" fill="none" stroke="#ff7f0e" stroke-width="4.2" stroke-linecap="round"/></g><path d="M1488.63 695.3V419.85" stroke="#000" stroke-width="1.8" stroke-dasharray="6.3 2.7" fill="none"/><path d="M1507.35 695.3V419.85" stroke="#000" stroke-width="1.8" stroke-dasharray="6.3 2.7" fill="none"/></g><rect x="1524.43" y="604.4" width="164.54" height="82.63" fill="#fff"/><g clip-path="url(#c11)"><g transform="scale(.5)"><path d="M3049 1264h0m1 5h0m1-4h0m1 3h0m1-2h0m2 0h0m1 6h0m1-4h0m1-1h0m1 5h0m1 2h0m1-10h0m2 5h0m1-2h0m1 2h0m1-6h0m1 6h0m1 1h0m1-3h0m2 6h0m1-1h0m1-8h0m1 9h0m1-6h0m1 1h0m2 2h0m3-5h0m1-2h0m1 7h0m1-2h0m2-1h0m1 3h0m1-5h0m2 3h0m1 3h0m1-3h0m2 0h0m1-1h0m2 3h0m1-4h0m4 0h0m1 4h0m2 2h0m1 0h0m1-5h0m1 4h0m2-7h0m1 5h0m2-1h0m1 3h0m1-3h0m2-3h0m2 3h0m1-3h0m1 6h0m1-2h0m3-1h0m1-2h0m1 6h0m1-2h0m1 2h0m1-4h0m1-1h0m2 3h0m1 0h0m1-1h0m1 5h0m1-7h0m1 6h0m1-2h0m2-5h0m1 3h0m1 7h0m1-9h0m1-2h0m1 3h0m1 1h0m2 2h0m2-4h0m1 0h0m1 7h0m1-3h0m1-6h0m3 5h0m1-4h0m3 2h0m2-6h0m2 4h0m1 5h0m1-6h0m1 9h0m1-2h0m2-6h0m1 5h0m2-2h0m1 4h0m1-4h0m1-5h0m2 9h0m1-2h0m2 1h0m1-4h0m1 7h0m1-5h0m2 3h0m1-6h0m1 0h0m1 1h0m2 4h0m1-4h0m2 6h0m2-2h0m2 0h0m1-4h0m2 0h0m1-1h0m1-3h0m1 3h0m2 5h0m1 1h0m2-6h0m1 5h0m1-4h0m1 0h0m1 3h0m1 7h0m1-3h0m2-7h0m1-2h0m1 5h0m1-6h0m2 6h0m1-1h0m2 1h0m1-4h0m1 1h0m1 6h0m2-4h0m1 3h0m2-4h0m1 4h0m1-7h0m1 2h0m2 4h0m1-2h0m2 2h0m1-6h0m1 3h0m1 1h0m1-6h0m1 7h0m2 3h0m1-9h0m1 9h0m1-7h0m1 6h0m1-2h0m1-3h0m2 0h0m1 4h0m1-4h0m1 5h0m1-1h0m1 2h0m1-7h0m2 0h0m1 3h0m1 6h0m1-6h0m1 1h0m1-1h0m1-2h0m3 1h0m1 1h0m1 4h0m2-3h0m1-3h0m2 8h0m1-9h0m1 4h0m1 2h0m1-2h0m1 2h0m2 2h0m2-8h0m1 6h0m1-2h0m1-4h0m1 2h0m2 4h0m1-4h0m1-2h0m1 9h0m1-10h0m1 6h0m1-3h0m2 3h0m1 0h0m1-2h0m1-3h0m1 1h0m2 3h0m3 2h0m1-6h0m1 1h0m1 6h0m1 2h0m1-4h0m2 1h0m2-1h0m1 2h0m1-8h0m1 7h0m1-4h0m2 7h0m1-8h0m1 2h0m2 2h0m1 2h0m2 0h0m1-4h0m1 0h0m2 4h0m1 1h0m1-3h0m2 0h0m1-3h0m1 0h0m2 1h0m1 2h0m1 2h0m2 3h0m1-1h0m1-6h0m1 3h0m2-1h0m1-1h0m2-2h0m1-1h0m1 5h0m1 1h0m1-2h0m1 4h0m3-1h0m1 1h0m1-3h0m1-1h0m1-3h0m1 4h0m2 2h0m1-6h0m1 6h0m1-4h0" fill="none" stroke="#ff7f0e" stroke-width="5.8" stroke-linecap="round"/></g></g><rect x="1524.43" y="604.4" width="164.54" height="82.63" fill="none" stroke="#000" stroke-width="1.65"/><rect x="1190.2" y="419.85" width="514.2" height="275.45" fill="none" stroke="#000" stroke-width="1.65"/><path d="M1282.69 695.3v6M1376.3 695.3v6M1469.91 695.3v6M1563.52 695.3v6M1657.13 695.3v6" stroke="#000" stroke-width="1.6" fill="none"/><text x="1282.69" y="723" font-size="20.5" text-anchor="middle">2290</text><text x="1376.3" y="723" font-size="20.5" text-anchor="middle">2300</text><text x="1469.91" y="723" font-size="20.5" text-anchor="middle">2310</text><text x="1563.52" y="723" font-size="20.5" text-anchor="middle">2320</text><text x="1657.13" y="723" font-size="20.5" text-anchor="middle">2330</text><path d="M1190.2 677.7h-6M1190.2 628.6h-6M1190.2 579.5h-6M1190.2 530.4h-6M1190.2 481.3h-6M1190.2 432.2h-6" stroke="#000" stroke-width="1.6" fill="none"/><text x="1178.5" y="685.75" font-size="20.5" text-anchor="end">0.95</text><text x="1178.5" y="636.65" font-size="20.5" text-anchor="end">0.96</text><text x="1178.5" y="587.55" font-size="20.5" text-anchor="end">0.97</text><text x="1178.5" y="538.45" font-size="20.5" text-anchor="end">0.98</text><text x="1178.5" y="489.35" font-size="20.5" text-anchor="end">0.99</text><text x="1178.5" y="440.25" font-size="20.5" text-anchor="end">1.00</text><text x="1447.3" y="748.85" font-size="20.5" text-anchor="middle">Days (BTJ)</text><text transform="translate(1122.3 557.58) rotate(-90)" font-size="20.5" text-anchor="middle">Normalized Flux</text><text x="1447.3" y="409.45" font-size="24.3" text-anchor="middle">Target Light Curve: 00119862113</text>
<g clip-path="url(#c12)"><path d="M1793.8 695.3L1794.1 695.3L1794.3 695.3L1794.6 695.3L1794.8 695.2L1795.1 695.2L1795.3 695.2L1795.6 695.2L1795.9 695.2L1796.1 695.2L1796.4 695.2L1796.6 695.1L1796.9 695.1L1797.1 695.1L1797.4 695.1L1797.7 695.1L1797.9 695.1L1798.2 695L1798.4 695L1798.7 695L1798.9 695L1799.2 695L1799.5 695L1799.7 694.9L1800 694.9L1800.2 694.9L1800.5 694.9L1800.7 694.9L1801 694.8L1801.3 694.8L1801.5 694.8L1801.8 694.8L1802 694.8L1802.3 694.7L1802.5 694.7L1802.8 694.7L1803.1 694.7L1803.3 694.7L1803.6 694.6L1803.8 694.6L1804.1 694.6L1804.3 694.6L1804.6 694.5L1804.9 694.5L1805.1 694.5L1805.4 694.5L1805.6 694.4L1805.9 694.4L1806.1 694.4L1806.4 694.3L1806.7 694.3L1806.9 694.3L1807.2 694.2L1807.4 694.2L1807.7 694.2L1807.9 694.1L1808.2 694.1L1808.5 694.1L1808.7 694L1809 694L1809.2 694L1809.5 694L1809.7 694L1810 693.9L1810.3 693.9L1810.5 693.9L1810.8 693.9L1811 693.9L1811.3 693.9L1811.5 693.9L1811.8 693.9L1812.1 693.9L1812.3 693.9L1812.6 693.9L1812.8 693.9L1813.1 693.9L1813.3 693.9L1813.6 693.9L1813.9 693.9L1814.1 693.9L1814.4 693.9L1814.6 693.9L1814.9 693.9L1815.1 693.9L1815.4 693.9L1815.7 693.9L1815.9 693.9L1816 693.9L1816.1 693.9L1816.2 693.9L1816.2 693.8L1816.3 693.8L1816.4 693.7L1816.5 693.6L1816.6 693.6L1816.7 693.5L1816.7 693.4L1816.8 693.3L1816.9 693.2L1817 693.1L1817.1 693L1817.1 692.9L1817.2 692.7L1817.3 692.6L1817.4 692.5L1817.5 692.4L1817.6 692.2L1817.7 692.1L1817.8 692L1817.8 691.9L1817.9 691.8L1818 691.7L1818.1 691.6L1818.2 691.5L1818.3 691.4L1818.4 691.3L1818.5 691.3L1818.6 691.2L1818.7 691.2L1818.8 691.2L1818.9 691.2L1819 691.2L1819.1 691.2L1819.2 691.3L1819.3 691.3L1819.3 691.4L1819.4 691.5L1819.5 691.6L1819.7 691.7L1819.8 691.8L1819.9 691.9L1820 692L1820.1 692.1L1820.2 692.3L1820.3 692.4L1820.4 692.6L1820.5 692.7L1820.6 692.8L1820.7 693L1820.8 693.1L1820.9 693.3L1821 693.4L1821.1 693.5L1821.3 693.6L1821.4 693.7L1821.5 693.8L1821.6 693.8L1821.7 693.9L1821.8 693.9L1821.9 693.9L1822.1 693.9L1822.2 693.9L1822.3 693.8L1822.4 693.7L1822.5 693.7L1822.7 693.5L1822.8 693.4L1822.9 693.3L1823 693.2L1823.2 693L1823.3 692.9L1823.4 692.7L1823.5 692.5L1823.7 692.4L1823.8 692.2L1823.9 692L1824.1 691.9L1824.2 691.7L1824.3 691.6L1824.5 691.5L1824.6 691.4L1824.8 691.3L1824.9 691.2L1825 691.2L1825.2 691.2L1825.3 691.2L1825.5 691.2L1825.6 691.3L1825.8 691.4L1825.9 691.5L1826.1 691.6L1826.2 691.7L1826.4 691.9L1826.5 692L1826.7 692.2L1826.8 692.4L1827 692.6L1827.1 692.7L1827.3 692.9L1827.5 693.1L1827.6 693.3L1827.8 693.4L1828 693.6L1828.1 693.7L1828.3 693.8L1828.5 693.9L1828.6 693.9L1828.8 693.9L1829 693.9L1829.2 693.9L1829.3 693.9L1829.5 693.9L1829.7 693.8L1829.9 693.8L1830.1 693.8L1830.2 693.7L1830.4 693.7L1830.6 693.6L1830.8 693.6L1831 693.5L1831.2 693.4L1831.4 693.4L1831.6 693.3L1831.8 693.2L1832 693.1L1832.2 693L1832.4 692.9L1832.6 692.8L1832.8 692.7L1833 692.6L1833.3 692.5L1833.5 692.4L1833.7 692.3L1833.9 692.2L1834.1 692.1L1834.4 692L1834.6 691.9L1834.8 691.8L1835.1 691.7L1835.3 691.6L1835.5 691.5L1835.8 691.4L1836 691.3L1836.3 691.2L1836.5 691.2L1836.8 691.1L1837 691L1837.3 690.9L1837.5 690.8L1837.8 690.7L1838.1 690.6L1838.3 690.5L1838.6 690.4L1838.9 690.3L1839.2 690.2L1839.5 690.2L1839.7 690.1L1840 690L1840.3 689.9L1840.6 689.9L1840.9 689.8L1841.2 689.8L1841.5 689.8L1841.8 689.8L1842.1 689.9L1842.5 690.1L1842.8 690.4L1843.1 690.7L1843.4 691.1L1843.8 691.5L1844.1 691.9L1844.4 692.3L1844.8 692.7L1845.1 692.9L1845.5 693.1L1845.8 693.2L1846.2 693.1L1846.6 692.4L1847 691.4L1847.3 690.2L1847.7 688.7L1848.1 687.1L1848.5 685.6L1848.9 684.1L1849.3 683L1849.7 682L1850.1 680.9L1850.6 679.8L1851 678.8L1851.4 677.8L1851.9 677L1852.3 676.4L1852.8 676L1853.2 676.1L1853.7 676.5L1854.2 677.3L1854.6 678.3L1855.1 679.5L1855.6 680.8L1856.1 682.1L1856.6 683.4L1857.2 684.5L1857.7 685.7L1858.2 687.1L1858.8 688.5L1859.3 690L1859.9 691.3L1860.4 692.5L1861 693.4L1861.6 693.9L1862.2 693.9L1862.8 693.6L1863.4 693.2L1864.1 692.6L1864.7 691.8L1865.4 690.8L1866 689.8L1866.7 688.6L1867.4 687.3L1868.1 686L1868.8 684.7L1869.6 683.2L1870.3 681.4L1871 679.2L1871.8 676.7L1872.6 674.1L1873.4 671.5L1874.2 669L1875.1 666.8L1875.9 665L1876.8 663.5L1877.6 662L1878.6 660.5L1879.5 659.1L1880.4 657.9L1881.4 656.9L1882.4 656.3L1883.4 656.1L1884.4 657.4L1885.4 660.7L1886.5 665.3L1887.6 670.5L1888.7 675.6L1889.9 679.5L1891 683.3L1892.2 687.3L1893.5 690.9L1894.7 693.6L1896 694.6L1897.3 694.5L1898.7 694.1L1900.1 693.6L1901.5 692.9L1903 692.2L1904.5 691L1906 689.7L1907.6 688.4L1909.2 687.5L1910.9 686.6L1912.6 685.5L1914.4 684.3L1916.2 682.9L1918.1 681.2L1920 678.6L1922 673.2L1924.1 665L1926.2 655.1L1928.4 642.5L1930.7 630L1933 617.4L1935.5 604.2L1938 591.2L1940.6 579.4L1943.2 569.8L1946 561.7L1948.9 554.8L1951.9 549.9L1955 546.3L1958.2 545.4L1961.6 548.5L1965.1 553.7L1968.7 562.5L1972.5 575.4L1976.5 591.2L1980.6 606.4L1985 620.3L1989.5 633.8L1994.2 645.5L1999.2 655.7L2004.5 662.8L2009.9 666.3L2015.7 657.9L2021.8 644.2L2028.3 610.4L2035.1 559.5L2042.3 492.2L2049.9 421.2L2058 344.2L2066.7 337.2L2075.9 337.2L2085.7 337.2L2096.3 337.2L2107.6 337.2L2119.8 337.2L2133 337.2" fill="none" stroke="#ff7f0e" stroke-width="3.8" stroke-linejoin="round"/><path d="M1790.2 695.3L1791.6 693.9L1792.3 693.2L1792.7 587.9L1792.8 587.9L1793.3 693.2L1794 693.9L1795.3 694.2L1796.2 694L1797.1 693.7L1797.9 694L1798.8 694.8L1799.6 694.7L1800.5 694.6L1801.3 694.1L1802.2 695.1L1803.1 694.1L1803.9 694.1L1804.8 694.5L1805.6 694.7L1806.5 694.7L1807.3 694.5L1808.2 694.7L1809.1 694.4L1809.9 694.3L1810.8 694.2L1811.6 693.5L1812.5 693.7L1813.3 694L1814.2 694.2L1815.1 692.3L1815.9 694L1816.8 692.5L1817.6 694.2L1818.5 693.3L1819.3 694.2L1820.2 694.9L1821.1 695L1821.9 694.1L1822.8 694.2L1823.6 693.4L1824.5 694.2L1825.3 693.8L1826.2 694L1827.1 694L1827.9 694.4L1828.8 693.9L1830.1 689.8L1830.7 695.3L1831.3 667.8L1831.7 693.7L1832 654.7L1832.5 691.9L1833 678.8L1833.6 694.5L1834.1 681.5L1834.4 693.8L1834.8 669.1L1835.3 695.3L1835.8 687L1836.3 694.6L1836.8 692.5L1837.9 694.3L1839 693.9L1839.9 694.4L1840.8 693.1L1841.6 693.9L1842.5 693.3L1843.3 693.7L1844.2 693.6L1845 694.8L1845.9 694L1846.8 694.2L1847.6 693.9L1848.5 692.7L1849.3 693.8L1850.2 693.2L1851 693L1851.9 694.7L1852.8 694L1853.6 693.9L1854.5 694L1855.3 694.4L1856.2 691.9L1857 692.8L1857.9 693.4L1858.8 691.8L1859.6 693.3L1860.5 693.9L1861.3 693.2L1862.2 692.7L1863 692.1L1863.9 692.5L1864.8 693.3L1865.6 689.8L1866 694.6L1866.5 681.5L1866.9 694.7L1867.3 687L1867.8 694.3L1868.2 674.6L1868.6 694.8L1869 678.8L1869.6 690.5L1870.1 654L1870.4 692.6L1870.7 637.5L1871 687L1871.3 654L1871.6 693.8L1872 678.8L1872.4 691L1872.8 670.5L1873.2 693.1L1873.5 684.3L1873.8 694.9L1874.2 674.6L1874.6 690.1L1875 665L1875.5 686.7L1875.9 660.9L1876.2 689.3L1876.6 673.3L1876.9 691.5L1877.3 659.5L1877.6 694.1L1878 667.8L1878.2 693.7L1878.5 656.7L1878.9 684.6L1879.3 654L1879.7 688.5L1880 626.4L1880.3 691.6L1880.6 587.9L1880.9 677L1881.2 626.4L1881.6 687.3L1881.9 654L1882.3 688.2L1882.8 637.5L1883.1 691.4L1883.4 660.9L1883.8 693.3L1884.1 678.8L1884.7 694.1L1885.3 678.8L1885.9 695.2L1886.5 688.4L1887.2 693.5L1887.9 685.7L1888.3 694.1L1888.8 687L1889.6 694.6L1890.5 691.2L1891.8 695L1893 691.9L1893.9 690.6L1894.8 694.4L1895.6 692.8L1896.5 692.5L1897.3 694.5L1898.2 694.2L1899 691.3L1899.9 692.7L1900.8 693.6L1901.6 693.6L1902.5 693.4L1903.3 692.4L1904.2 693.9L1905 693.1L1905.9 692.7L1906.8 693.7L1907.6 693.1L1908.5 693.2L1909.3 690.7L1910.2 691.2L1911.6 689.1L1912.9 692.5L1913.7 691.2L1914.5 694.3L1915.3 693.6L1916.2 692.1L1917 694.8L1917.9 692.1L1918.8 691.6L1919.6 694.1L1920.5 692.5L1921.3 693.1L1922.2 692.1L1923 694.8L1923.9 693.9L1924.7 693.5L1925.6 692.9L1926.5 693.5L1927.3 692.9L1928.2 694.2L1929 694.2L1929.9 693.7L1930.7 693.2L1931.6 694.2L1932.5 693.8L1933.3 692.1L1934.2 693.3L1935 694L1935.9 694.2L1936.7 692.7L1937.6 693.9L1938.5 693.9L1939.3 692.6L1940.2 693.7L1941 693.6L1941.9 692.5L1942.7 692.9L1943.6 693.2L1944.5 693.5L1945.2 693.7L1946 692.5L1946.8 693.8L1947.6 692.6L1948.4 694.8L1949.1 694L1949.9 693.8L1950.7 693L1951.5 694.5L1952.3 693.5L1953 694.2L1953.8 693.8L1954.6 693.7L1955.4 693.8L1956.1 693.1L1956.9 694.3L1957.7 694.2L1958.5 694.6L1959.3 694.9L1960 694.5L1960.8 693L1961.6 693.9L1962.5 693L1963.3 694.6L1964.2 693.3L1965 693.5L1965.9 693.1L1966.7 692.8L1967.6 693.8L1968.5 693.2L1969.3 691.4L1970.2 693L1971 692.3L1971.9 692.1L1972.7 693.8L1973.6 694.3L1974.5 692.7L1975.3 692.3L1976.2 691.3L1977 691.7L1977.9 692.5L1978.7 693.6L1979.6 694.5L1980.5 691.8L1981.3 691.9L1982.2 691.4L1983 692.5L1983.9 692.5L1984.7 690.9L1985.6 694.5L1986.5 694.6L1987.3 694.7L1988.2 694.1L1989 693.6L1989.9 694L1990.7 694L1991.6 692.1L1992.5 694.3L1993.3 691.9L1994.2 691.7L1995 694L1995.9 692.4L1996.7 694.8L1997.6 693.9L1998.4 694.3L1999.2 692.8L1999.9 693.7L2000.7 693L2001.5 693.3L2002.3 693.4L2003 694.4L2003.8 693.5L2004.6 694.8L2005.4 692.8L2006.2 693.6L2007 692.5L2007.9 693L2008.7 694.9L2009.6 694.3L2010.4 694.4L2011.3 694.9L2012.2 694.1L2013 694.5L2013.8 694L2014.6 694.7L2015.4 694L2016.1 694L2016.9 694.9L2017.7 694.1L2018.5 693.9L2019.3 694.8L2020 694.3L2020.8 694.2L2021.6 694.3L2022.4 695L2023.1 694.2L2023.9 694.3L2024.7 694L2025.5 694L2026.3 694.7L2027 694.1L2027.8 693.9L2028.6 693.9L2029.4 694.9L2030.2 694.5L2030.9 695.1L2031.7 694.2L2032.5 694.8L2033.3 694.3L2034.1 693.7L2034.8 694.5L2035.6 694.7L2036.4 694.3L2037.2 694L2038 694.9L2038.7 694.4L2039.5 694.8L2040.3 693.9L2041.1 693.6L2041.8 694.4L2042.6 694.3L2043.4 694L2044.2 694.6L2045 694.5L2045.7 694.4L2046.5 694.1L2047.3 694.1L2048.1 694.8L2048.9 693.6L2049.6 694L2050.4 694.5L2051.2 694.9L2052 693.9L2052.8 694.9L2053.5 694.9L2054.3 694.9L2055.1 695L2055.9 694.6L2056.6 694.1L2057.4 694.8L2058.2 694.7L2059 694.1L2059.8 694.3L2060.5 694.9L2061.3 694.5L2062.1 693.9L2062.9 694.6L2063.7 694.1L2064.4 694.9L2065.2 694L2066 693.9L2066.8 693.8L2067.6 694L2068.3 694.5L2069.1 694.9L2069.9 694.2L2070.7 693.8L2071.5 694.7L2072.2 694.6L2073 694.2L2073.8 694L2074.6 693.6L2075.4 693.3L2076.2 694.7L2077 694.6L2077.8 693.3L2078.6 693.6L2079.4 693.3L2080.2 692.7L2081 692.7L2081.8 692.9L2082.6 693L2083.4 693.9L2084.2 693.2L2085 693.6L2085.9 694.5L2086.7 693.2L2087.6 693.4L2088.4 693.7L2089.3 694.3L2090.2 694.5L2091 694.6L2091.9 694.6L2092.7 695.1L2093.5 694.2L2094.3 694.5L2095.1 694.7L2095.9 694.5L2096.7 694.3L2097.5 694.7L2098.4 694.2L2099.2 694.1L2100 694.7L2100.8 695L2101.6 694.3L2102.4 694L2103.2 695L2104 694.3L2104.9 694.2L2105.7 694.1L2106.5 695L2107.3 694.6L2108.1 695L2108.9 693.8L2109.7 694.9L2110.5 694.8L2111.2 694.2L2112 694.3L2112.8 693.8L2113.6 694.7L2114.4 693.3L2115.2 694.6L2116 693.4L2116.8 694.8L2117.6 693.9L2118.4 693.6L2119.3 694.7L2120.1 693.6L2121 693.4L2121.9 692.5L2122.7 691.9L2123.6 693.3L2124.4 694.7L2125.3 692.7L2126.1 694.2L2127 693.5L2127.9 693.5L2128.7 694.7L2129.6 694.5L2130.4 694.7L2131.3 694.9L2132.1 695L2133 694.5" fill="none" stroke="#000" stroke-width="3.9" stroke-linejoin="round"/></g><rect x="1945.4" y="428.85" width="179" height="30.4" rx="3.4" fill="#fff" fill-opacity="0.8" stroke="#ccc" stroke-opacity="0.8" stroke-width="1.7"/><path d="M1952.5 442.55h33.4" stroke="#000" stroke-width="3.6999999999999997" stroke-linecap="square" fill="none"/><text x="1999.5" y="448.45" font-size="16.87" text-anchor="start">Luhman 16AB</text><rect x="1790.2" y="419.85" width="342.8" height="275.45" fill="none" stroke="#000" stroke-width="1.65"/><path d="M1790.2 695.3v6M1875.9 695.3v6M1961.6 695.3v6M2047.3 695.3v6M2133 695.3v6" stroke="#000" stroke-width="1.6" fill="none"/><text x="1790.2" y="723" font-size="20.5" text-anchor="middle">0</text><text x="1875.9" y="723" font-size="20.5" text-anchor="middle">5</text><text x="1961.6" y="723" font-size="20.5" text-anchor="middle">10</text><text x="2047.3" y="723" font-size="20.5" text-anchor="middle">15</text><text x="2133" y="723" font-size="20.5" text-anchor="middle">20</text><path d="M1790.2 695.3h-6M1790.2 626.44h-6M1790.2 557.58h-6M1790.2 488.71h-6M1790.2 419.85h-6" stroke="#000" stroke-width="1.6" fill="none"/><text x="1778.5" y="703.35" font-size="20.5" text-anchor="end">0.00</text><text x="1778.5" y="634.49" font-size="20.5" text-anchor="end">0.05</text><text x="1778.5" y="565.62" font-size="20.5" text-anchor="end">0.10</text><text x="1778.5" y="496.76" font-size="20.5" text-anchor="end">0.15</text><text x="1778.5" y="427.9" font-size="20.5" text-anchor="end">0.20</text><text x="1961.6" y="748.85" font-size="20.5" text-anchor="middle">Period (hours)</text><text transform="translate(1722 557.58) rotate(-90)" font-size="20.5" text-anchor="middle">Power</text><text x="1961.6" y="409.45" font-size="24.3" text-anchor="middle">Separation: 50.6 arcsec</text>
<g clip-path="url(#c13)"><path d="M94.3 880.7L95.7 883.4L97.2 886.4L98.6 889.6L100.1 893L101.5 896.5L103 900.2L104.4 904.1L105.9 908.2L107.3 912.5L108.8 916.9L110.2 921.6L111.7 926.4L113.1 931.5L114.5 936.7L116 942.1L117.4 947.7L118.9 953.9L120.3 960.9L121.8 968.4L123.2 976.1L124.7 983.8L126.1 991.2L127.6 997.9L129 1003.8L130.5 1008.8L131.9 1013.3L133.4 1017.3L134.8 1021.1L136.3 1024.6L137.7 1028L139.2 1031.2L140.6 1034.5L142 1037.8L143.5 1041.4L144.9 1045.3L146.4 1049.2L147.8 1053.2L149.3 1057L150.7 1060.6L152.2 1063.9L153.6 1066.7L155.1 1069L156.5 1071.4L158 1073.7L159.4 1075.8L160.9 1077.8L162.3 1078.1L163.8 1078.1L165.2 1078.1L166.7 1078.1L168.1 1078.1L169.5 1078.1L171 1078.1L172.4 1078.1L173.9 1078.1L175.3 1078.1L176.8 1078.1L178.2 1078.1L179.7 1078.1L181.1 1078.1L182.6 1078.1L184 1078.1L185.5 1078.1L186.9 1078.1L188.4 1078.1L189.8 1078.1L191.3 1078.1L192.7 1078.1L192.8 1078.1L192.8 1078.1L192.7 1078.1L191.3 1078.1L189.8 1078.1L188.4 1078.1L186.9 1078.1L185.5 1078.1L184 1078.1L182.6 1078.1L181.1 1078.1L179.7 1078.1L178.2 1078.1L176.8 1078.1L175.3 1078.1L173.9 1078.1L172.4 1078.1L171 1078.1L169.5 1078.1L168.1 1078.1L166.7 1078.1L165.2 1078.1L163.8 1078.1L162.3 1078.1L160.9 1078.1L159.4 1078.1L158 1078.1L156.5 1078.1L155.1 1078.1L153.6 1078.1L152.2 1078.1L150.7 1078.1L149.3 1078.1L147.8 1078.1L146.4 1078.1L144.9 1075.9L143.5 1073L142 1069.9L140.6 1066.4L139.2 1062.6L137.7 1058.5L136.3 1054.2L134.8 1049.7L133.4 1045.1L131.9 1040.3L130.5 1035.3L129 1030.3L127.6 1024.8L126.1 1018.8L124.7 1012.4L123.2 1005.9L121.8 999.4L120.3 992.9L118.9 986.8L117.4 981L116 975.7L114.5 970.6L113.1 965.6L111.7 960.8L110.2 956.1L108.8 951.6L107.3 947.2L105.9 943L104.4 938.9L103 934.9L101.5 931L100.1 927.1L98.6 923.4L97.2 919.7L95.7 916.2L94.3 912.9ZM349 925.5L350.5 925.2L351.9 924.7L353.4 924.2L354.8 923.9L356.2 923.6L357.7 923.4L359.1 923.2L360.6 923.1L362 923L363.5 923L364.9 923.3L366.4 924L367.8 925L369.3 926.1L370.7 927.2L372.2 928.3L373.6 929.1L375.1 929.5L376.5 929.6L378 929.6L379.4 929.6L380.9 929.6L382.3 929.6L383.7 929.6L385.2 929.6L386.6 929.6L388.1 929.6L389.5 929.2L391 928.2L392.4 926.7L393.9 924.9L395.3 923.1L396.8 921.3L398.2 919.8L399.7 918.7L401.1 918.1L402.6 917.6L404 917.2L405.5 916.9L406.9 916.7L408.4 916.4L409.8 916.2L411.2 915.9L412.7 915.6L414.1 915.3L415.6 915L417 914.8L418.5 914.5L419.9 914.3L421.4 914L422.8 913.7L424.3 913.3L425.7 913L427.2 912.5L428.6 912.1L430.1 911.7L431.5 911.2L433 910.7L434.4 910.2L435.9 909.7L437.3 909.2L438.7 908.6L440.2 908L440.4 907.9L440.4 931.2L440.2 931.3L438.7 932.4L437.3 933.5L435.9 934.5L434.4 935.5L433 936.4L431.5 937.3L430.1 938L428.6 938.7L427.2 939.3L425.7 939.8L424.3 940.2L422.8 940.6L421.4 940.9L419.9 941.1L418.5 941.4L417 941.6L415.6 941.9L414.1 942.2L412.7 942.5L411.2 942.9L409.8 943.3L408.4 943.9L406.9 944.4L405.5 945L404 945.6L402.6 946.2L401.1 946.8L399.7 947.4L398.2 948L396.8 948.6L395.3 949.1L393.9 949.6L392.4 950.1L391 950.4L389.5 950.6L388.1 950.7L386.6 950.7L385.2 950.7L383.7 950.7L382.3 950.7L380.9 950.7L379.4 950.7L378 950.7L376.5 950.7L375.1 950.7L373.6 950.7L372.2 950.6L370.7 950.4L369.3 950.3L367.8 950.1L366.4 950L364.9 949.9L363.5 949.9L362 949.9L360.6 950L359.1 950.1L357.7 950.2L356.2 950.5L354.8 950.8L353.4 951.1L351.9 951.6L350.5 952.1L349 952.4ZM478.3 965L479.7 961.6L481.2 957.4L482.6 953.5L484.1 949.9L485.5 946.7L487 944L488.4 941.7L489.9 939.6L491.3 937.6L492.7 935.7L494.2 933.9L495.6 931.9L497.1 929.9L498.5 927.6L500 925L501.4 922.2L502.9 919.3L504.3 916.2L505.8 913L507.2 909.8L508.7 906.7L510.1 903.6L511.6 900.7L513 897.6L514.5 894.4L515.9 891.2L517.4 888L518.8 885.1L520.3 882.4L521.7 880.2L523.2 878.4L524.6 877.1L526.1 876L527.5 875.1L528.9 874.3L530.4 873.5L531.8 872.8L533.3 872L534.7 871L536.2 869.9L537.6 868.7L539.1 867.5L540.5 866.2L542 864.8L543.4 863.3L544.9 861.8L546.3 860.3L547.8 858.7L549.2 857.1L550.7 855.3L552.1 853.5L553.6 851.6L555 849.6L556.5 847.6L557.9 845.5L559.4 843.5L560.8 841.4L562.3 839.3L563.7 837.2L565.1 835L566.6 832.7L568 830.4L568.7 829.4L568.7 851.8L568 852.8L566.6 854.9L565.1 857L563.7 859L562.3 860.9L560.8 862.8L559.4 864.6L557.9 866.3L556.5 867.9L555 869.5L553.6 871.1L552.1 872.6L550.7 874L549.2 875.4L547.8 876.8L546.3 878.2L544.9 879.4L543.4 880.7L542 881.9L540.5 883.1L539.1 884.2L537.6 885.4L536.2 886.5L534.7 887.6L533.3 888.6L531.8 889.6L530.4 890.5L528.9 891.4L527.5 892.5L526.1 893.6L524.6 895L523.2 896.6L521.7 898.7L520.3 901.5L518.8 904.7L517.4 908.3L515.9 912.1L514.5 915.9L513 919.7L511.6 923.3L510.1 926.7L508.7 930.2L507.2 933.8L505.8 937.4L504.3 940.9L502.9 944.4L501.4 947.7L500 950.7L498.5 953.6L497.1 956.1L495.6 958.4L494.2 960.6L492.7 962.7L491.3 964.8L489.9 966.9L488.4 969.1L487 971.5L485.5 974L484.1 976.5L482.6 978.8L481.2 981.2L479.7 983.6L478.3 985.5Z" fill="#9467bd"/><g transform="scale(.5)"><path d="M189 1733l5 9.9h-9.9zm0 1l5 9.9h-9.9zm0 28l5 9.9h-9.9zm0 9l5 9.9h-9.9zm0 29l5 9.9h-9.9zm0 1l5 9.9h-9.9zm0 5l5 9.9h-9.9zm0 29l5 9.9h-9.9zm1-127l5 9.9h-9.9zm0 39l5 9.9h-9.9zm0 16l5 9.9h-9.9zm0 23l5 9.9h-9.9zm0 10l5 9.9h-9.9zm0 19l5 9.9h-9.9zm0 13l5 9.9h-9.9zm0 41l5 9.9h-9.9zm1-93l5 9.9h-9.9zm0 6l5 9.9h-9.9zm0 25l5 9.9h-9.9zm0 19l5 9.9h-9.9zm0 10l5 9.9h-9.9zm1-112l5 9.9h-9.9zm0 11l5 9.9h-9.9zm0 156l5 9.9h-9.9zm1-125l5 9.9h-9.9zm0 2l5 9.9h-9.9zm0 79l5 9.9h-9.9zm0 2l5 9.9h-9.9zm0 15l5 9.9h-9.9zm0 31l5 9.9h-9.9zm1-65l5 9.9h-9.9zm0 8l5 9.9h-9.9zm0 10l5 9.9h-9.9zm1-111l5 9.9h-9.9zm0 16l5 9.9h-9.9zm0 11l5 9.9h-9.9zm0 95l5 9.9h-9.9zm1 24l5 9.9h-9.9zm0 5l5 9.9h-9.9zm0 34l5 9.9h-9.9zm1-170l5 9.9h-9.9zm0 23l5 9.9h-9.9zm0 115l5 9.9h-9.9zm1-165l5 9.9h-9.9zm0 118l5 9.9h-9.9zm0 30l5 9.9h-9.9zm1-156l5 9.9h-9.9zm0 138l5 9.9h-9.9zm0 11l5 9.9h-9.9zm1-127l5 9.9h-9.9zm0 41l5 9.9h-9.9zm0 4l5 9.9h-9.9zm0 1l5 9.9h-9.9zm0 106l5 9.9h-9.9zm1-115l5 9.9h-9.9zm0 2l5 9.9h-9.9zm0 72l5 9.9h-9.9zm0 44l5 9.9h-9.9zm0 5l5 9.9h-9.9zm1-205l5 9.9h-9.9zm0 150l5 9.9h-9.9zm0 25l5 9.9h-9.9zm0 7l5 9.9h-9.9zm1-104l5 9.9h-9.9zm0 5l5 9.9h-9.9zm0 82l5 9.9h-9.9zm0 4l5 9.9h-9.9zm0 22l5 9.9h-9.9zm0 12l5 9.9h-9.9zm1-120l5 9.9h-9.9zm0 86l5 9.9h-9.9zm0 32l5 9.9h-9.9zm1-19l5 9.9h-9.9zm0 10l5 9.9h-9.9zm1-92l5 9.9h-9.9zm0 61l5 9.9h-9.9zm0 16l5 9.9h-9.9zm1-167l5 9.9h-9.9zm0 70l5 9.9h-9.9zm0 16l5 9.9h-9.9zm0 11l5 9.9h-9.9zm1 65l5 9.9h-9.9zm0 79l5 9.9h-9.9zm1-56l5 9.9h-9.9zm0 1l5 9.9h-9.9zm0 34l5 9.9h-9.9zm0 8l5 9.9h-9.9zm1-139l5 9.9h-9.9zm0 8l5 9.9h-9.9zm0 67l5 9.9h-9.9zm0 42l5 9.9h-9.9zm1-117l5 9.9h-9.9zm0 90l5 9.9h-9.9zm0 59l5 9.9h-9.9zm1-174l5 9.9h-9.9zm0 32l5 9.9h-9.9zm0 5l5 9.9h-9.9zm0 71l5 9.9h-9.9zm0 14l5 9.9h-9.9zm2-107l5 9.9h-9.9zm0 23l5 9.9h-9.9zm0 7l5 9.9h-9.9zm0 6l5 9.9h-9.9zm1-102l5 9.9h-9.9zm0 54l5 9.9h-9.9zm0 113l5 9.9h-9.9zm0 32l5 9.9h-9.9zm0 32l5 9.9h-9.9zm1-135l5 9.9h-9.9zm0 99l5 9.9h-9.9zm0 15l5 9.9h-9.9zm1-121l5 9.9h-9.9zm0 20l5 9.9h-9.9zm0 68l5 9.9h-9.9zm1-137l5 9.9h-9.9zm0 37l5 9.9h-9.9zm0 7l5 9.9h-9.9zm0 121l5 9.9h-9.9zm1-95l5 9.9h-9.9zm0 73l5 9.9h-9.9zm0 45l5 9.9h-9.9zm0 20l5 9.9h-9.9zm1-137l5 9.9h-9.9zm0 98l5 9.9h-9.9zm0 6l5 9.9h-9.9zm1-122l5 9.9h-9.9zm0 2l5 9.9h-9.9zm0 4l5 9.9h-9.9zm0 15l5 9.9h-9.9zm1-18l5 9.9h-9.9zm0 94l5 9.9h-9.9zm1-99l5 9.9h-9.9zm0 15l5 9.9h-9.9zm0 15l5 9.9h-9.9zm0 13l5 9.9h-9.9zm1-12l5 9.9h-9.9zm0 84l5 9.9h-9.9zm0 9l5 9.9h-9.9zm1-84l5 9.9h-9.9zm0 8l5 9.9h-9.9zm0 6l5 9.9h-9.9zm0 48l5 9.9h-9.9zm1-67l5 9.9h-9.9zm0 9l5 9.9h-9.9zm0 63l5 9.9h-9.9zm0 15l5 9.9h-9.9zm1-125l5 9.9h-9.9zm0 33l5 9.9h-9.9zm0 2l5 9.9h-9.9zm0 113l5 9.9h-9.9zm0 11l5 9.9h-9.9zm1-176l5 9.9h-9.9zm0 64l5 9.9h-9.9zm0 81l5 9.9h-9.9zm0 4l5 9.9h-9.9zm0 27l5 9.9h-9.9zm1-119l5 9.9h-9.9zm0 17l5 9.9h-9.9zm0 81l5 9.9h-9.9zm0 13l5 9.9h-9.9zm1-87l5 9.9h-9.9zm0 6l5 9.9h-9.9zm0 63l5 9.9h-9.9zm0 60l5 9.9h-9.9zm1-117l5 9.9h-9.9zm0 51l5 9.9h-9.9zm1-91l5 9.9h-9.9zm0 19l5 9.9h-9.9zm0 24l5 9.9h-9.9zm0 60l5 9.9h-9.9zm0 5l5 9.9h-9.9zm1-103l5 9.9h-9.9zm0 3l5 9.9h-9.9zm0 16l5 9.9h-9.9zm0 106l5 9.9h-9.9zm0 12l5 9.9h-9.9zm1-121l5 9.9h-9.9zm0 3l5 9.9h-9.9zm0 93l5 9.9h-9.9zm0 21l5 9.9h-9.9zm0 14l5 9.9h-9.9zm1-110l5 9.9h-9.9zm0 14l5 9.9h-9.9zm0 93l5 9.9h-9.9zm1-120l5 9.9h-9.9zm0 102l5 9.9h-9.9zm0 34l5 9.9h-9.9zm1-160l5 9.9h-9.9zm0 49l5 9.9h-9.9zm0 8l5 9.9h-9.9zm0 75l5 9.9h-9.9zm0 41l5 9.9h-9.9zm1-49l5 9.9h-9.9zm0 44l5 9.9h-9.9zm1-125l5 9.9h-9.9zm0 97l5 9.9h-9.9zm0 45l5 9.9h-9.9zm1-43l5 9.9h-9.9zm0 6l5 9.9h-9.9zm1-102l5 9.9h-9.9zm0 22l5 9.9h-9.9zm0 72l5 9.9h-9.9zm0 30l5 9.9h-9.9zm1-113l5 9.9h-9.9zm0 14l5 9.9h-9.9zm0 83l5 9.9h-9.9zm1-185l5 9.9h-9.9zm0 105l5 9.9h-9.9zm0 1l5 9.9h-9.9zm0 55l5 9.9h-9.9zm0 38l5 9.9h-9.9zm0 22l5 9.9h-9.9zm0 2l5 9.9h-9.9zm1-125l5 9.9h-9.9zm0 20l5 9.9h-9.9zm0 8l5 9.9h-9.9zm0 80l5 9.9h-9.9zm1-133l5 9.9h-9.9zm0 39l5 9.9h-9.9zm0 72l5 9.9h-9.9zm0 18l5 9.9h-9.9zm1-134l5 9.9h-9.9zm0 108l5 9.9h-9.9zm0 3l5 9.9h-9.9zm0 22l5 9.9h-9.9zm0 7l5 9.9h-9.9zm0 36l5 9.9h-9.9zm1-97l5 9.9h-9.9zm0 61l5 9.9h-9.9zm1-124l5 9.9h-9.9zm0 45l5 9.9h-9.9zm0 3l5 9.9h-9.9zm0 60l5 9.9h-9.9zm0 14l5 9.9h-9.9zm0 24l5 9.9h-9.9zm1-153l5 9.9h-9.9zm0 112l5 9.9h-9.9zm0 1l5 9.9h-9.9zm0 3l5 9.9h-9.9zm0 25l5 9.9h-9.9zm1-107l5 9.9h-9.9zm0 41l5 9.9h-9.9zm0 43l5 9.9h-9.9zm1-39l5 9.9h-9.9zm0 6l5 9.9h-9.9zm0 36l5 9.9h-9.9zm0 46l5 9.9h-9.9zm1-122l5 9.9h-9.9zm0 23l5 9.9h-9.9zm0 68l5 9.9h-9.9zm0 6l5 9.9h-9.9zm0 10l5 9.9h-9.9zm0 7l5 9.9h-9.9zm1-103l5 9.9h-9.9zm0 84l5 9.9h-9.9zm0 5l5 9.9h-9.9zm0 1l5 9.9h-9.9zm0 8l5 9.9h-9.9zm1-124l5 9.9h-9.9zm0 65l5 9.9h-9.9zm0 67l5 9.9h-9.9zm0 20l5 9.9h-9.9zm1-118l5 9.9h-9.9zm0 5l5 9.9h-9.9zm0 11l5 9.9h-9.9zm0 94l5 9.9h-9.9zm1-83l5 9.9h-9.9zm0 96l5 9.9h-9.9zm1-36l5 9.9h-9.9zm0 12l5 9.9h-9.9zm1-73l5 9.9h-9.9zm0 9l5 9.9h-9.9zm0 10l5 9.9h-9.9zm0 46l5 9.9h-9.9zm0 3l5 9.9h-9.9zm1-80l5 9.9h-9.9zm0 12l5 9.9h-9.9zm0 25l5 9.9h-9.9zm0 6l5 9.9h-9.9zm0 70l5 9.9h-9.9zm0 28l5 9.9h-9.9zm1-156l5 9.9h-9.9zm0 13l5 9.9h-9.9zm0 103l5 9.9h-9.9zm1-77l5 9.9h-9.9zm0 4l5 9.9h-9.9zm0 9l5 9.9h-9.9zm0 11l5 9.9h-9.9zm0 61l5 9.9h-9.9zm1-80l5 9.9h-9.9zm0 59l5 9.9h-9.9zm0 42l5 9.9h-9.9zm0 9l5 9.9h-9.9zm1-149l5 9.9h-9.9zm0 50l5 9.9h-9.9zm0 73l5 9.9h-9.9zm0 7l5 9.9h-9.9zm0 44l5 9.9h-9.9zm1-117l5 9.9h-9.9zm0 45l5 9.9h-9.9zm0 2l5 9.9h-9.9zm0 19l5 9.9h-9.9zm0 13l5 9.9h-9.9zm1-69l5 9.9h-9.9zm0 43l5 9.9h-9.9zm0 5l5 9.9h-9.9zm0 42l5 9.9h-9.9zm1-118l5 9.9h-9.9zm0 2l5 9.9h-9.9zm0 3l5 9.9h-9.9zm0 14l5 9.9h-9.9zm0 1l5 9.9h-9.9zm0 110l5 9.9h-9.9zm1-45l5 9.9h-9.9zm0 17l5 9.9h-9.9zm1-75l5 9.9h-9.9zm0 57l5 9.9h-9.9zm0 28l5 9.9h-9.9zm1-87l5 9.9h-9.9zm0 71l5 9.9h-9.9zm0 19l5 9.9h-9.9zm0 3l5 9.9h-9.9zm0 28l5 9.9h-9.9zm1-146l5 9.9h-9.9zm0 102l5 9.9h-9.9zm0 3l5 9.9h-9.9zm0 40l5 9.9h-9.9zm1-128l5 9.9h-9.9zm0 18l5 9.9h-9.9zm0 5l5 9.9h-9.9zm0 92l5 9.9h-9.9zm1-139l5 9.9h-9.9zm0 6l5 9.9h-9.9zm0 112l5 9.9h-9.9zm0 4l5 9.9h-9.9zm0 4l5 9.9h-9.9zm1-113l5 9.9h-9.9zm0 21l5 9.9h-9.9zm0 100l5 9.9h-9.9zm1-105l5 9.9h-9.9zm0 11l5 9.9h-9.9zm0 4l5 9.9h-9.9zm0 10l5 9.9h-9.9zm0 2l5 9.9h-9.9zm0 66l5 9.9h-9.9zm1-78l5 9.9h-9.9zm0 6l5 9.9h-9.9zm0 66l5 9.9h-9.9zm0 41l5 9.9h-9.9zm1-106l5 9.9h-9.9zm0 12l5 9.9h-9.9zm0 71l5 9.9h-9.9zm0 23l5 9.9h-9.9zm1-148l5 9.9h-9.9zm0 29l5 9.9h-9.9zm0 88l5 9.9h-9.9zm0 20l5 9.9h-9.9zm0 6l5 9.9h-9.9zm1-90l5 9.9h-9.9zm0 3l5 9.9h-9.9zm1 0l5 9.9h-9.9zm0 63l5 9.9h-9.9zm0 11l5 9.9h-9.9zm0 1l5 9.9h-9.9zm1-97l5 9.9h-9.9zm1-7l5 9.9h-9.9zm0 121l5 9.9h-9.9zm1-155l5 9.9h-9.9zm0 10l5 9.9h-9.9zm0 118l5 9.9h-9.9zm1-76l5 9.9h-9.9zm0 76l5 9.9h-9.9zm0 26l5 9.9h-9.9zm1-95l5 9.9h-9.9zm0 12l5 9.9h-9.9zm0 8l5 9.9h-9.9zm1-14l5 9.9h-9.9zm0 76l5 9.9h-9.9zm0 14l5 9.9h-9.9zm1-81l5 9.9h-9.9zm0 81l5 9.9h-9.9zm1-75l5 9.9h-9.9zm0 75l5 9.9h-9.9zm1-75l5 9.9h-9.9zm0 66l5 9.9h-9.9zm0 9l5 9.9h-9.9zm1-70l5 9.9h-9.9zm0 8l5 9.9h-9.9zm0 49l5 9.9h-9.9zm1-88l5 9.9h-9.9zm0 37l5 9.9h-9.9zm0 55l5 9.9h-9.9zm0 9l5 9.9h-9.9zm1-71l5 9.9h-9.9zm1-18l5 9.9h-9.9zm1 0l5 9.9h-9.9zm0 12l5 9.9h-9.9zm0 17l5 9.9h-9.9zm0 8l5 9.9h-9.9zm1-16l5 9.9h-9.9zm0 1l5 9.9h-9.9zm0 63l5 9.9h-9.9zm1-106l5 9.9h-9.9zm0 42l5 9.9h-9.9zm0 68l5 9.9h-9.9zm1-112l5 9.9h-9.9zm0 52l5 9.9h-9.9zm1-90l5 9.9h-9.9zm0 78l5 9.9h-9.9zm0 24l5 9.9h-9.9zm0 3l5 9.9h-9.9zm1 45l5 9.9h-9.9zm1-43l5 9.9h-9.9zm0 43l5 9.9h-9.9zm1-61l5 9.9h-9.9zm0 23l5 9.9h-9.9zm1-31l5 9.9h-9.9zm0 12l5 9.9h-9.9zm0 24l5 9.9h-9.9zm1-9l5 9.9h-9.9zm0 11l5 9.9h-9.9zm2-2l5 9.9h-9.9zm0 7l5 9.9h-9.9zm1 4l5 9.9h-9.9zm1-25l5 9.9h-9.9zm0 20l5 9.9h-9.9zm0 27l5 9.9h-9.9zm2-53l5 9.9h-9.9zm0 32l5 9.9h-9.9zm2 21l5 9.9h-9.9zm1-11l5 9.9h-9.9zm0 11l5 9.9h-9.9zm1-45l5 9.9h-9.9zm0 21l5 9.9h-9.9zm1 3l5 9.9h-9.9zm0 1l5 9.9h-9.9zm0 20l5 9.9h-9.9zm1-92l5 9.9h-9.9zm0 61l5 9.9h-9.9zm0 20l5 9.9h-9.9zm1-24l5 9.9h-9.9zm0 19l5 9.9h-9.9zm1-9l5 9.9h-9.9zm0 15l5 9.9h-9.9zm1-7l5 9.9h-9.9zm0 17l5 9.9h-9.9zm1-44l5 9.9h-9.9zm0 28l5 9.9h-9.9zm0 12l5 9.9h-9.9zm1-17l5 9.9h-9.9zm0 11l5 9.9h-9.9zm0 10l5 9.9h-9.9zm1-2l5 9.9h-9.9zm0 2l5 9.9h-9.9zm1-25l5 9.9h-9.9zm0 25l5 9.9h-9.9zm1 0l5 9.9h-9.9zm1-38l5 9.9h-9.9zm0 26l5 9.9h-9.9zm0 5l5 9.9h-9.9zm0 7l5 9.9h-9.9zm1-11l5 9.9h-9.9zm0 11l5 9.9h-9.9zm1 0l5 9.9h-9.9zm1 0l5 9.9h-9.9zm1 0l5 9.9h-9.9zm1 0l5 9.9h-9.9zm1 0l5 9.9h-9.9zm1 0l5 9.9h-9.9zm1 0l5 9.9h-9.9zm1-4l5 9.9h-9.9zm0 4l5 9.9h-9.9zm1 0l5 9.9h-9.9zm1-12l5 9.9h-9.9zm0 12l5 9.9h-9.9zm1-4l5 9.9h-9.9zm0 4l5 9.9h-9.9zm1 0l5 9.9h-9.9zm1-16l5 9.9h-9.9zm0 1l5 9.9h-9.9zm0 15l5 9.9h-9.9zm1 0l5 9.9h-9.9zm1 0l5 9.9h-9.9zm1 0l5 9.9h-9.9zm2 0l5 9.9h-9.9zm1 0l5 9.9h-9.9zm1-19l5 9.9h-9.9zm1 11l5 9.9h-9.9zm2 4l5 9.9h-9.9zm1 0l5 9.9h-9.9zm0 4l5 9.9h-9.9zm2 0l5 9.9h-9.9zm1-3l5 9.9h-9.9zm1-9l5 9.9h-9.9zm2 12l5 9.9h-9.9zm1 0l5 9.9h-9.9zm1-7l5 9.9h-9.9zm0 7l5 9.9h-9.9zm1 0l5 9.9h-9.9zm2-2l5 9.9h-9.9zm1 2l5 9.9h-9.9zm1 0l5 9.9h-9.9zm1 0l5 9.9h-9.9zm1 0l5 9.9h-9.9zm1 0l5 9.9h-9.9zm1-11l5 9.9h-9.9zm0 8l5 9.9h-9.9zm0 3l5 9.9h-9.9zm1 0l5 9.9h-9.9zm1 0l5 9.9h-9.9zm1 0l5 9.9h-9.9zm1 0l5 9.9h-9.9zm1 0l5 9.9h-9.9zm1 0l5 9.9h-9.9zm2-8l5 9.9h-9.9zm0 8l5 9.9h-9.9zm1 0l5 9.9h-9.9zm1 0l5 9.9h-9.9zm1 0l5 9.9h-9.9zm1 0l5 9.9h-9.9zm1 0l5 9.9h-9.9zm1-22l5 9.9h-9.9zm0 22l5 9.9h-9.9zm1-9l5 9.9h-9.9zm0 9l5 9.9h-9.9zm1-10l5 9.9h-9.9zm0 10l5 9.9h-9.9zm1 0l5 9.9h-9.9zm1-11l5 9.9h-9.9zm0 11l5 9.9h-9.9zm1 0l5 9.9h-9.9zm1-1l5 9.9h-9.9zm0 1l5 9.9h-9.9zm1 0l5 9.9h-9.9zm53-362l5 9.9h-9.9zm0 8l5 9.9h-9.9zm0 3l5 9.9h-9.9zm0 31l5 9.9h-9.9zm0 6l5 9.9h-9.9zm0 8l5 9.9h-9.9zm0 6l5 9.9h-9.9zm0 20l5 9.9h-9.9zm1-96l5 9.9h-9.9zm0 23l5 9.9h-9.9zm0 25l5 9.9h-9.9zm0 31l5 9.9h-9.9zm0 5l5 9.9h-9.9zm1-64l5 9.9h-9.9zm0 7l5 9.9h-9.9zm0 14l5 9.9h-9.9zm0 22l5 9.9h-9.9zm0 1l5 9.9h-9.9zm0 27l5 9.9h-9.9zm1-78l5 9.9h-9.9zm0 16l5 9.9h-9.9zm0 28l5 9.9h-9.9zm0 18l5 9.9h-9.9zm0 7l5 9.9h-9.9zm0 1l5 9.9h-9.9zm1-69l5 9.9h-9.9zm0 7l5 9.9h-9.9zm0 45l5 9.9h-9.9zm0 1l5 9.9h-9.9zm0 8l5 9.9h-9.9zm0 89l5 9.9h-9.9zm1-145l5 9.9h-9.9zm0 22l5 9.9h-9.9zm0 14l5 9.9h-9.9zm0 13l5 9.9h-9.9zm0 3l5 9.9h-9.9zm0 27l5 9.9h-9.9zm0 2l5 9.9h-9.9zm0 58l5 9.9h-9.9zm1-161l5 9.9h-9.9zm0 13l5 9.9h-9.9zm0 25l5 9.9h-9.9zm0 24l5 9.9h-9.9zm1-57l5 9.9h-9.9zm0 36l5 9.9h-9.9zm0 7l5 9.9h-9.9zm0 2l5 9.9h-9.9zm0 19l5 9.9h-9.9zm0 16l5 9.9h-9.9zm0 52l5 9.9h-9.9zm1-129l5 9.9h-9.9zm0 2l5 9.9h-9.9zm0 19l5 9.9h-9.9zm0 8l5 9.9h-9.9zm0 34l5 9.9h-9.9zm0 39l5 9.9h-9.9zm0 49l5 9.9h-9.9zm1-172l5 9.9h-9.9zm0 49l5 9.9h-9.9zm0 22l5 9.9h-9.9zm0 5l5 9.9h-9.9zm0 28l5 9.9h-9.9zm0 5l5 9.9h-9.9zm0 19l5 9.9h-9.9zm0 28l5 9.9h-9.9zm1-151l5 9.9h-9.9zm0 13l5 9.9h-9.9zm0 26l5 9.9h-9.9zm0 38l5 9.9h-9.9zm0 15l5 9.9h-9.9zm0 26l5 9.9h-9.9zm1-92l5 9.9h-9.9zm0 59l5 9.9h-9.9zm0 34l5 9.9h-9.9zm0 2l5 9.9h-9.9zm0 21l5 9.9h-9.9zm1-133l5 9.9h-9.9zm0 24l5 9.9h-9.9zm0 16l5 9.9h-9.9zm0 31l5 9.9h-9.9zm0 11l5 9.9h-9.9zm0 6l5 9.9h-9.9zm0 43l5 9.9h-9.9zm0 102l5 9.9h-9.9zm1-201l5 9.9h-9.9zm0 12l5 9.9h-9.9zm0 5l5 9.9h-9.9zm0 19l5 9.9h-9.9zm0 7l5 9.9h-9.9zm0 4l5 9.9h-9.9zm0 20l5 9.9h-9.9zm1-92l5 9.9h-9.9zm0 32l5 9.9h-9.9zm0 6l5 9.9h-9.9zm0 7l5 9.9h-9.9zm0 19l5 9.9h-9.9zm0 7l5 9.9h-9.9zm0 15l5 9.9h-9.9zm0 54l5 9.9h-9.9zm1-155l5 9.9h-9.9zm0 36l5 9.9h-9.9zm0 26l5 9.9h-9.9zm0 23l5 9.9h-9.9zm0 22l5 9.9h-9.9zm0 9l5 9.9h-9.9zm0 98l5 9.9h-9.9zm1-182l5 9.9h-9.9zm0 14l5 9.9h-9.9zm0 18l5 9.9h-9.9zm0 12l5 9.9h-9.9zm0 3l5 9.9h-9.9zm0 31l5 9.9h-9.9zm0 31l5 9.9h-9.9zm1-133l5 9.9h-9.9zm0 7l5 9.9h-9.9zm0 2l5 9.9h-9.9zm0 4l5 9.9h-9.9zm0 6l5 9.9h-9.9zm0 1l5 9.9h-9.9zm0 15l5 9.9h-9.9zm0 51l5 9.9h-9.9zm1-76l5 9.9h-9.9zm0 33l5 9.9h-9.9zm0 15l5 9.9h-9.9zm0 17l5 9.9h-9.9zm0 17l5 9.9h-9.9zm0 118l5 9.9h-9.9zm1-191l5 9.9h-9.9zm0 32l5 9.9h-9.9zm0 1l5 9.9h-9.9zm0 8l5 9.9h-9.9zm0 6l5 9.9h-9.9zm0 25l5 9.9h-9.9zm0 20l5 9.9h-9.9zm1-112l5 9.9h-9.9zm0 29l5 9.9h-9.9zm0 10l5 9.9h-9.9zm0 22l5 9.9h-9.9zm0 23l5 9.9h-9.9zm0 4l5 9.9h-9.9zm0 60l5 9.9h-9.9zm1-141l5 9.9h-9.9zm0 12l5 9.9h-9.9zm0 22l5 9.9h-9.9zm0 29l5 9.9h-9.9zm0 13l5 9.9h-9.9zm0 19l5 9.9h-9.9zm0 51l5 9.9h-9.9zm0 26l5 9.9h-9.9zm1-149l5 9.9h-9.9zm0 19l5 9.9h-9.9zm0 10l5 9.9h-9.9zm0 15l5 9.9h-9.9zm0 28l5 9.9h-9.9zm0 1l5 9.9h-9.9zm0 11l5 9.9h-9.9zm1-98l5 9.9h-9.9zm0 19l5 9.9h-9.9zm0 70l5 9.9h-9.9zm0 5l5 9.9h-9.9zm1-95l5 9.9h-9.9zm0 20l5 9.9h-9.9zm0 34l5 9.9h-9.9zm0 5l5 9.9h-9.9zm0 2l5 9.9h-9.9zm0 9l5 9.9h-9.9zm0 9l5 9.9h-9.9zm1-90l5 9.9h-9.9zm0 18l5 9.9h-9.9zm0 5l5 9.9h-9.9zm0 18l5 9.9h-9.9zm0 9l5 9.9h-9.9zm0 39l5 9.9h-9.9zm0 10l5 9.9h-9.9zm0 3l5 9.9h-9.9zm1-54l5 9.9h-9.9zm0 10l5 9.9h-9.9zm0 18l5 9.9h-9.9zm0 18l5 9.9h-9.9zm1-112l5 9.9h-9.9zm0 35l5 9.9h-9.9zm0 12l5 9.9h-9.9zm0 4l5 9.9h-9.9zm0 11l5 9.9h-9.9zm0 17l5 9.9h-9.9zm0 24l5 9.9h-9.9zm1-84l5 9.9h-9.9zm0 38l5 9.9h-9.9zm0 2l5 9.9h-9.9zm0 11l5 9.9h-9.9zm0 10l5 9.9h-9.9zm0 18l5 9.9h-9.9zm0 18l5 9.9h-9.9zm0 61l5 9.9h-9.9zm1-157l5 9.9h-9.9zm0 12l5 9.9h-9.9zm0 42l5 9.9h-9.9zm0 11l5 9.9h-9.9zm0 4l5 9.9h-9.9zm1-70l5 9.9h-9.9zm0 57l5 9.9h-9.9zm0 36l5 9.9h-9.9zm0 10l5 9.9h-9.9zm0 2l5 9.9h-9.9zm1-98l5 9.9h-9.9zm0 32l5 9.9h-9.9zm0 34l5 9.9h-9.9zm0 30l5 9.9h-9.9zm0 12l5 9.9h-9.9zm0 3l5 9.9h-9.9zm0 50l5 9.9h-9.9zm0 2l5 9.9h-9.9zm1-175l5 9.9h-9.9zm0 15l5 9.9h-9.9zm0 20l5 9.9h-9.9zm0 22l5 9.9h-9.9zm0 14l5 9.9h-9.9zm0 7l5 9.9h-9.9zm0 6l5 9.9h-9.9zm0 6l5 9.9h-9.9zm0 57l5 9.9h-9.9zm1-126l5 9.9h-9.9zm0 10l5 9.9h-9.9zm0 18l5 9.9h-9.9zm0 21l5 9.9h-9.9zm0 17l5 9.9h-9.9zm0 4l5 9.9h-9.9zm1-95l5 9.9h-9.9zm0 17l5 9.9h-9.9zm0 24l5 9.9h-9.9zm0 14l5 9.9h-9.9zm0 32l5 9.9h-9.9zm0 11l5 9.9h-9.9zm0 21l5 9.9h-9.9zm0 40l5 9.9h-9.9zm0 9l5 9.9h-9.9zm0 1l5 9.9h-9.9zm1-155l5 9.9h-9.9zm0 20l5 9.9h-9.9zm0 30l5 9.9h-9.9zm0 3l5 9.9h-9.9zm0 5l5 9.9h-9.9zm0 14l5 9.9h-9.9zm0 25l5 9.9h-9.9zm1-109l5 9.9h-9.9zm0 10l5 9.9h-9.9zm0 18l5 9.9h-9.9zm0 35l5 9.9h-9.9zm0 5l5 9.9h-9.9zm0 37l5 9.9h-9.9zm1-90l5 9.9h-9.9zm0 8l5 9.9h-9.9zm0 5l5 9.9h-9.9zm0 20l5 9.9h-9.9zm0 2l5 9.9h-9.9zm0 23l5 9.9h-9.9zm0 3l5 9.9h-9.9zm0 13l5 9.9h-9.9zm1-82l5 9.9h-9.9zm0 6l5 9.9h-9.9zm0 22l5 9.9h-9.9zm0 45l5 9.9h-9.9zm0 13l5 9.9h-9.9zm0 1l5 9.9h-9.9zm0 10l5 9.9h-9.9zm0 40l5 9.9h-9.9zm1-121l5 9.9h-9.9zm0 7l5 9.9h-9.9zm0 2l5 9.9h-9.9zm0 10l5 9.9h-9.9zm0 2l5 9.9h-9.9zm0 1l5 9.9h-9.9zm0 159l5 9.9h-9.9zm1-164l5 9.9h-9.9zm0 19l5 9.9h-9.9zm0 2l5 9.9h-9.9zm0 20l5 9.9h-9.9zm0 16l5 9.9h-9.9zm0 8l5 9.9h-9.9zm0 49l5 9.9h-9.9zm0 26l5 9.9h-9.9zm1-170l5 9.9h-9.9zm0 26l5 9.9h-9.9zm0 18l5 9.9h-9.9zm0 5l5 9.9h-9.9zm0 25l5 9.9h-9.9zm0 11l5 9.9h-9.9zm1-58l5 9.9h-9.9zm0 4l5 9.9h-9.9zm0 22l5 9.9h-9.9zm0 11l5 9.9h-9.9zm0 2l5 9.9h-9.9zm0 33l5 9.9h-9.9zm0 6l5 9.9h-9.9zm1-102l5 9.9h-9.9zm0 22l5 9.9h-9.9zm0 37l5 9.9h-9.9zm0 23l5 9.9h-9.9zm0 49l5 9.9h-9.9zm1-137l5 9.9h-9.9zm0 12l5 9.9h-9.9zm0 4l5 9.9h-9.9zm0 24l5 9.9h-9.9zm0 13l5 9.9h-9.9zm0 23l5 9.9h-9.9zm0 22l5 9.9h-9.9zm0 9l5 9.9h-9.9zm0 33l5 9.9h-9.9zm0 33l5 9.9h-9.9zm1-166l5 9.9h-9.9zm0 14l5 9.9h-9.9zm0 14l5 9.9h-9.9zm0 9l5 9.9h-9.9zm0 28l5 9.9h-9.9zm0 15l5 9.9h-9.9zm0 9l5 9.9h-9.9zm1-72l5 9.9h-9.9zm0 27l5 9.9h-9.9zm0 15l5 9.9h-9.9zm0 35l5 9.9h-9.9zm0 20l5 9.9h-9.9zm1-102l5 9.9h-9.9zm0 5l5 9.9h-9.9zm0 17l5 9.9h-9.9zm0 27l5 9.9h-9.9zm0 12l5 9.9h-9.9zm0 5l5 9.9h-9.9zm1-92l5 9.9h-9.9zm0 53l5 9.9h-9.9zm0 10l5 9.9h-9.9zm0 22l5 9.9h-9.9zm0 22l5 9.9h-9.9zm1-89l5 9.9h-9.9zm0 3l5 9.9h-9.9zm0 52l5 9.9h-9.9zm0 9l5 9.9h-9.9zm0 32l5 9.9h-9.9zm1-96l5 9.9h-9.9zm0 22l5 9.9h-9.9zm0 1l5 9.9h-9.9zm0 8l5 9.9h-9.9zm0 21l5 9.9h-9.9zm0 20l5 9.9h-9.9zm0 9l5 9.9h-9.9zm1-93l5 9.9h-9.9zm0 5l5 9.9h-9.9zm0 8l5 9.9h-9.9zm0 6l5 9.9h-9.9zm0 9l5 9.9h-9.9zm0 21l5 9.9h-9.9zm0 9l5 9.9h-9.9zm0 19l5 9.9h-9.9zm1-99l5 9.9h-9.9zm0 17l5 9.9h-9.9zm0 22l5 9.9h-9.9zm0 6l5 9.9h-9.9zm0 23l5 9.9h-9.9zm0 18l5 9.9h-9.9zm1-64l5 9.9h-9.9zm0 50l5 9.9h-9.9zm0 2l5 9.9h-9.9zm0 24l5 9.9h-9.9zm1-63l5 9.9h-9.9zm0 1l5 9.9h-9.9zm0 21l5 9.9h-9.9zm0 24l5 9.9h-9.9zm0 20l5 9.9h-9.9zm0 13l5 9.9h-9.9zm0 56l5 9.9h-9.9zm0 3l5 9.9h-9.9zm1-158l5 9.9h-9.9zm0 15l5 9.9h-9.9zm0 5l5 9.9h-9.9zm0 41l5 9.9h-9.9zm1-61l5 9.9h-9.9zm0 24l5 9.9h-9.9zm0 5l5 9.9h-9.9zm0 7l5 9.9h-9.9zm0 28l5 9.9h-9.9zm0 9l5 9.9h-9.9zm0 2l5 9.9h-9.9zm1-76l5 9.9h-9.9zm0 7l5 9.9h-9.9zm0 34l5 9.9h-9.9zm0 12l5 9.9h-9.9zm0 5l5 9.9h-9.9zm0 11l5 9.9h-9.9zm0 17l5 9.9h-9.9zm1-67l5 9.9h-9.9zm0 27l5 9.9h-9.9zm0 7l5 9.9h-9.9zm0 49l5 9.9h-9.9zm0 122l5 9.9h-9.9zm1-206l5 9.9h-9.9zm0 13l5 9.9h-9.9zm0 6l5 9.9h-9.9zm0 1l5 9.9h-9.9zm0 9l5 9.9h-9.9zm0 8l5 9.9h-9.9zm0 8l5 9.9h-9.9zm0 20l5 9.9h-9.9zm0 68l5 9.9h-9.9zm1-142l5 9.9h-9.9zm0 66l5 9.9h-9.9zm0 8l5 9.9h-9.9zm0 17l5 9.9h-9.9zm0 9l5 9.9h-9.9zm0 6l5 9.9h-9.9zm1-98l5 9.9h-9.9zm0 11l5 9.9h-9.9zm0 3l5 9.9h-9.9zm0 8l5 9.9h-9.9zm0 4l5 9.9h-9.9zm0 8l5 9.9h-9.9zm0 44l5 9.9h-9.9zm0 25l5 9.9h-9.9zm1-69l5 9.9h-9.9zm0 1l5 9.9h-9.9zm0 5l5 9.9h-9.9zm0 9l5 9.9h-9.9zm0 9l5 9.9h-9.9zm0 8l5 9.9h-9.9zm0 31l5 9.9h-9.9zm0 79l5 9.9h-9.9zm1-187l5 9.9h-9.9zm0 15l5 9.9h-9.9zm0 64l5 9.9h-9.9zm0 62l5 9.9h-9.9zm0 63l5 9.9h-9.9zm1-186l5 9.9h-9.9zm0 9l5 9.9h-9.9zm0 27l5 9.9h-9.9zm0 2l5 9.9h-9.9zm0 18l5 9.9h-9.9zm0 87l5 9.9h-9.9zm1-135l5 9.9h-9.9zm0 3l5 9.9h-9.9zm0 31l5 9.9h-9.9zm0 10l5 9.9h-9.9zm0 11l5 9.9h-9.9zm0 11l5 9.9h-9.9zm0 6l5 9.9h-9.9zm1-64l5 9.9h-9.9zm0 7l5 9.9h-9.9zm0 3l5 9.9h-9.9zm0 7l5 9.9h-9.9zm0 31l5 9.9h-9.9zm1-91l5 9.9h-9.9zm0 36l5 9.9h-9.9zm0 5l5 9.9h-9.9zm0 8l5 9.9h-9.9zm0 25l5 9.9h-9.9zm0 1l5 9.9h-9.9zm0 10l5 9.9h-9.9zm1-64l5 9.9h-9.9zm0 20l5 9.9h-9.9zm0 7l5 9.9h-9.9zm0 11l5 9.9h-9.9zm0 17l5 9.9h-9.9zm0 17l5 9.9h-9.9zm0 21l5 9.9h-9.9zm0 62l5 9.9h-9.9zm1-144l5 9.9h-9.9zm0 31l5 9.9h-9.9zm0 12l5 9.9h-9.9zm0 8l5 9.9h-9.9zm0 1l5 9.9h-9.9zm0 22l5 9.9h-9.9zm0 43l5 9.9h-9.9zm1-137l5 9.9h-9.9zm0 17l5 9.9h-9.9zm0 18l5 9.9h-9.9zm0 12l5 9.9h-9.9zm0 37l5 9.9h-9.9zm0 43l5 9.9h-9.9zm0 18l5 9.9h-9.9zm0 37l5 9.9h-9.9zm1-172l5 9.9h-9.9zm0 32l5 9.9h-9.9zm0 1l5 9.9h-9.9zm0 33l5 9.9h-9.9zm0 4l5 9.9h-9.9zm0 25l5 9.9h-9.9zm1-67l5 9.9h-9.9zm0 10l5 9.9h-9.9zm0 4l5 9.9h-9.9zm0 8l5 9.9h-9.9zm0 14l5 9.9h-9.9zm0 4l5 9.9h-9.9zm0 116l5 9.9h-9.9zm1-184l5 9.9h-9.9zm0 40l5 9.9h-9.9zm0 35l5 9.9h-9.9zm0 14l5 9.9h-9.9zm0 111l5 9.9h-9.9zm1-210l5 9.9h-9.9zm0 22l5 9.9h-9.9zm0 12l5 9.9h-9.9zm0 26l5 9.9h-9.9zm0 3l5 9.9h-9.9zm0 8l5 9.9h-9.9zm0 15l5 9.9h-9.9zm0 15l5 9.9h-9.9zm0 73l5 9.9h-9.9zm0 34l5 9.9h-9.9zm1-213l5 9.9h-9.9zm0 11l5 9.9h-9.9zm0 10l5 9.9h-9.9zm0 50l5 9.9h-9.9zm0 30l5 9.9h-9.9zm0 11l5 9.9h-9.9zm0 28l5 9.9h-9.9zm0 13l5 9.9h-9.9zm0 20l5 9.9h-9.9zm0 42l5 9.9h-9.9zm1-269l5 9.9h-9.9zm0 54l5 9.9h-9.9zm0 9l5 9.9h-9.9zm0 10l5 9.9h-9.9zm0 4l5 9.9h-9.9zm0 42l5 9.9h-9.9zm0 6l5 9.9h-9.9zm0 20l5 9.9h-9.9zm0 54l5 9.9h-9.9zm1-180l5 9.9h-9.9zm0 79l5 9.9h-9.9zm0 5l5 9.9h-9.9zm0 38l5 9.9h-9.9zm0 8l5 9.9h-9.9zm0 7l5 9.9h-9.9zm0 7l5 9.9h-9.9zm0 28l5 9.9h-9.9zm1-143l5 9.9h-9.9zm0 6l5 9.9h-9.9zm0 64l5 9.9h-9.9zm0 22l5 9.9h-9.9zm0 8l5 9.9h-9.9zm0 73l5 9.9h-9.9zm1-130l5 9.9h-9.9zm0 8l5 9.9h-9.9zm0 6l5 9.9h-9.9zm0 19l5 9.9h-9.9zm0 3l5 9.9h-9.9zm0 23l5 9.9h-9.9zm0 2l5 9.9h-9.9zm1-106l5 9.9h-9.9zm0 2l5 9.9h-9.9zm0 22l5 9.9h-9.9zm0 11l5 9.9h-9.9zm1-30l5 9.9h-9.9zm0 33l5 9.9h-9.9zm0 17l5 9.9h-9.9zm0 4l5 9.9h-9.9zm0 4l5 9.9h-9.9zm0 21l5 9.9h-9.9zm0 29l5 9.9h-9.9zm1-136l5 9.9h-9.9zm0 40l5 9.9h-9.9zm0 5l5 9.9h-9.9zm0 19l5 9.9h-9.9zm0 11l5 9.9h-9.9zm0 17l5 9.9h-9.9zm0 8l5 9.9h-9.9zm0 4l5 9.9h-9.9zm0 81l5 9.9h-9.9zm1-221l5 9.9h-9.9zm0 71l5 9.9h-9.9zm0 21l5 9.9h-9.9zm0 18l5 9.9h-9.9zm0 25l5 9.9h-9.9zm0 20l5 9.9h-9.9zm0 6l5 9.9h-9.9zm1-118l5 9.9h-9.9zm0 7l5 9.9h-9.9zm0 14l5 9.9h-9.9zm0 42l5 9.9h-9.9zm0 14l5 9.9h-9.9zm0 23l5 9.9h-9.9zm0 21l5 9.9h-9.9zm1-126l5 9.9h-9.9zm0 18l5 9.9h-9.9zm0 16l5 9.9h-9.9zm0 15l5 9.9h-9.9zm0 1l5 9.9h-9.9zm0 110l5 9.9h-9.9zm0 52l5 9.9h-9.9zm1-192l5 9.9h-9.9zm0 13l5 9.9h-9.9zm0 2l5 9.9h-9.9zm0 17l5 9.9h-9.9zm0 10l5 9.9h-9.9zm0 45l5 9.9h-9.9zm0 9l5 9.9h-9.9zm0 32l5 9.9h-9.9zm0 57l5 9.9h-9.9zm0 31l5 9.9h-9.9zm1-290l5 9.9h-9.9zm0 10l5 9.9h-9.9zm0 40l5 9.9h-9.9zm0 2l5 9.9h-9.9zm0 18l5 9.9h-9.9zm0 26l5 9.9h-9.9zm0 17l5 9.9h-9.9zm1-146l5 9.9h-9.9zm0 94l5 9.9h-9.9zm0 12l5 9.9h-9.9zm0 14l5 9.9h-9.9zm0 11l5 9.9h-9.9zm0 3l5 9.9h-9.9zm0 15l5 9.9h-9.9zm0 1l5 9.9h-9.9zm0 72l5 9.9h-9.9zm1-221l5 9.9h-9.9zm0 140l5 9.9h-9.9zm0 26l5 9.9h-9.9zm0 1l5 9.9h-9.9zm0 15l5 9.9h-9.9zm0 6l5 9.9h-9.9zm1-161l5 9.9h-9.9zm0 47l5 9.9h-9.9zm0 21l5 9.9h-9.9zm0 2l5 9.9h-9.9zm0 13l5 9.9h-9.9zm0 9l5 9.9h-9.9zm0 25l5 9.9h-9.9zm0 42l5 9.9h-9.9zm1-60l5 9.9h-9.9zm0 15l5 9.9h-9.9zm0 12l5 9.9h-9.9zm0 18l5 9.9h-9.9zm0 4l5 9.9h-9.9zm0 10l5 9.9h-9.9zm0 17l5 9.9h-9.9zm0 25l5 9.9h-9.9zm1-186l5 9.9h-9.9zm0 89l5 9.9h-9.9zm0 8l5 9.9h-9.9zm0 23l5 9.9h-9.9zm0 5l5 9.9h-9.9zm0 5l5 9.9h-9.9zm0 13l5 9.9h-9.9zm1-108l5 9.9h-9.9zm0 13l5 9.9h-9.9zm0 20l5 9.9h-9.9zm0 4l5 9.9h-9.9zm0 11l5 9.9h-9.9zm0 2l5 9.9h-9.9zm0 16l5 9.9h-9.9zm0 94l5 9.9h-9.9zm0 23l5 9.9h-9.9zm0 9l5 9.9h-9.9zm1-204l5 9.9h-9.9zm0 23l5 9.9h-9.9zm0 8l5 9.9h-9.9zm0 3l5 9.9h-9.9zm0 9l5 9.9h-9.9zm0 33l5 9.9h-9.9zm0 33l5 9.9h-9.9zm1-72l5 9.9h-9.9zm0 2l5 9.9h-9.9zm0 13l5 9.9h-9.9zm0 38l5 9.9h-9.9zm0 1l5 9.9h-9.9zm0 1l5 9.9h-9.9zm1-157l5 9.9h-9.9zm0 105l5 9.9h-9.9zm0 18l5 9.9h-9.9zm0 5l5 9.9h-9.9zm0 3l5 9.9h-9.9zm0 4l5 9.9h-9.9zm0 2l5 9.9h-9.9zm0 57l5 9.9h-9.9zm1-74l5 9.9h-9.9zm0 6l5 9.9h-9.9zm0 8l5 9.9h-9.9zm0 32l5 9.9h-9.9zm0 8l5 9.9h-9.9zm0 6l5 9.9h-9.9zm0 60l5 9.9h-9.9zm1-172l5 9.9h-9.9zm0 10l5 9.9h-9.9zm0 36l5 9.9h-9.9zm0 17l5 9.9h-9.9zm0 16l5 9.9h-9.9zm0 15l5 9.9h-9.9zm0 75l5 9.9h-9.9zm1-157l5 9.9h-9.9zm0 9l5 9.9h-9.9zm0 5l5 9.9h-9.9zm0 2l5 9.9h-9.9zm0 9l5 9.9h-9.9zm0 46l5 9.9h-9.9zm0 18l5 9.9h-9.9zm0 106l5 9.9h-9.9zm1-252l5 9.9h-9.9zm0 20l5 9.9h-9.9zm0 51l5 9.9h-9.9zm0 5l5 9.9h-9.9zm0 12l5 9.9h-9.9zm0 5l5 9.9h-9.9zm0 38l5 9.9h-9.9zm0 16l5 9.9h-9.9zm1-183l5 9.9h-9.9zm0 50l5 9.9h-9.9zm0 48l5 9.9h-9.9zm0 20l5 9.9h-9.9zm0 7l5 9.9h-9.9zm0 10l5 9.9h-9.9zm0 14l5 9.9h-9.9zm0 4l5 9.9h-9.9zm0 1l5 9.9h-9.9zm0 12l5 9.9h-9.9zm0 91l5 9.9h-9.9zm1-162l5 9.9h-9.9zm0 49l5 9.9h-9.9zm0 26l5 9.9h-9.9zm0 9l5 9.9h-9.9zm1-106l5 9.9h-9.9zm0 29l5 9.9h-9.9zm0 13l5 9.9h-9.9zm0 69l5 9.9h-9.9zm0 16l5 9.9h-9.9zm0 44l5 9.9h-9.9zm0 14l5 9.9h-9.9zm0 12l5 9.9h-9.9zm1-182l5 9.9h-9.9zm0 34l5 9.9h-9.9zm0 9l5 9.9h-9.9zm0 1l5 9.9h-9.9zm0 2l5 9.9h-9.9zm0 11l5 9.9h-9.9zm0 28l5 9.9h-9.9zm0 4l5 9.9h-9.9zm1-125l5 9.9h-9.9zm0 15l5 9.9h-9.9zm0 3l5 9.9h-9.9zm0 15l5 9.9h-9.9zm0 87l5 9.9h-9.9zm0 10l5 9.9h-9.9zm0 14l5 9.9h-9.9zm0 41l5 9.9h-9.9zm1-126l5 9.9h-9.9zm0 21l5 9.9h-9.9zm0 3l5 9.9h-9.9zm0 10l5 9.9h-9.9zm0 3l5 9.9h-9.9zm0 26l5 9.9h-9.9zm0 15l5 9.9h-9.9zm0 87l5 9.9h-9.9zm0 32l5 9.9h-9.9zm1-212l5 9.9h-9.9zm0 8l5 9.9h-9.9zm0 9l5 9.9h-9.9zm0 6l5 9.9h-9.9zm0 9l5 9.9h-9.9zm0 39l5 9.9h-9.9zm0 43l5 9.9h-9.9zm0 4l5 9.9h-9.9zm0 78l5 9.9h-9.9zm0 3l5 9.9h-9.9zm1-186l5 9.9h-9.9zm0 29l5 9.9h-9.9zm0 16l5 9.9h-9.9zm0 3l5 9.9h-9.9zm0 2l5 9.9h-9.9zm0 83l5 9.9h-9.9zm0 21l5 9.9h-9.9zm1-175l5 9.9h-9.9zm0 15l5 9.9h-9.9zm0 29l5 9.9h-9.9zm0 3l5 9.9h-9.9zm0 8l5 9.9h-9.9zm0 26l5 9.9h-9.9zm0 1l5 9.9h-9.9zm0 14l5 9.9h-9.9zm1-78l5 9.9h-9.9zm0 22l5 9.9h-9.9zm0 17l5 9.9h-9.9zm0 16l5 9.9h-9.9zm0 36l5 9.9h-9.9zm1-104l5 9.9h-9.9zm0 13l5 9.9h-9.9zm0 12l5 9.9h-9.9zm0 6l5 9.9h-9.9zm0 5l5 9.9h-9.9zm0 20l5 9.9h-9.9zm0 15l5 9.9h-9.9zm0 92l5 9.9h-9.9zm0 2l5 9.9h-9.9zm0 16l5 9.9h-9.9zm1-196l5 9.9h-9.9zm0 10l5 9.9h-9.9zm0 25l5 9.9h-9.9zm0 10l5 9.9h-9.9zm0 37l5 9.9h-9.9zm0 8l5 9.9h-9.9zm0 12l5 9.9h-9.9zm0 10l5 9.9h-9.9zm1-127l5 9.9h-9.9zm0 25l5 9.9h-9.9zm0 26l5 9.9h-9.9zm0 1l5 9.9h-9.9zm0 23l5 9.9h-9.9zm0 44l5 9.9h-9.9zm0 16l5 9.9h-9.9zm1-103l5 9.9h-9.9zm0 41l5 9.9h-9.9zm0 15l5 9.9h-9.9zm0 11l5 9.9h-9.9zm0 4l5 9.9h-9.9zm0 19l5 9.9h-9.9zm0 39l5 9.9h-9.9zm1-176l5 9.9h-9.9zm0 96l5 9.9h-9.9zm0 11l5 9.9h-9.9zm0 15l5 9.9h-9.9zm0 1l5 9.9h-9.9zm0 15l5 9.9h-9.9zm0 63l5 9.9h-9.9zm0 83l5 9.9h-9.9zm1-277l5 9.9h-9.9zm0 34l5 9.9h-9.9zm0 11l5 9.9h-9.9zm0 46l5 9.9h-9.9zm0 20l5 9.9h-9.9zm0 10l5 9.9h-9.9zm0 15l5 9.9h-9.9zm0 20l5 9.9h-9.9zm0 11l5 9.9h-9.9zm0 91l5 9.9h-9.9zm1-255l5 9.9h-9.9zm0 51l5 9.9h-9.9zm0 7l5 9.9h-9.9zm0 26l5 9.9h-9.9zm0 1l5 9.9h-9.9zm0 4l5 9.9h-9.9zm0 25l5 9.9h-9.9zm1-46l5 9.9h-9.9zm0 6l5 9.9h-9.9zm0 26l5 9.9h-9.9zm0 12l5 9.9h-9.9zm0 9l5 9.9h-9.9zm1-146l5 9.9h-9.9zm0 53l5 9.9h-9.9zm0 10l5 9.9h-9.9zm0 5l5 9.9h-9.9zm0 16l5 9.9h-9.9zm0 38l5 9.9h-9.9zm0 38l5 9.9h-9.9zm0 77l5 9.9h-9.9zm1-188l5 9.9h-9.9zm0 14l5 9.9h-9.9zm0 32l5 9.9h-9.9zm0 4l5 9.9h-9.9zm0 29l5 9.9h-9.9zm0 6l5 9.9h-9.9zm0 80l5 9.9h-9.9zm0 10l5 9.9h-9.9zm1-194l5 9.9h-9.9zm0 31l5 9.9h-9.9zm0 51l5 9.9h-9.9zm0 4l5 9.9h-9.9zm0 45l5 9.9h-9.9zm0 8l5 9.9h-9.9zm0 79l5 9.9h-9.9zm1-214l5 9.9h-9.9zm0 63l5 9.9h-9.9zm0 3l5 9.9h-9.9zm0 28l5 9.9h-9.9zm0 8l5 9.9h-9.9zm0 7l5 9.9h-9.9zm0 14l5 9.9h-9.9zm1-147l5 9.9h-9.9zm0 54l5 9.9h-9.9zm0 12l5 9.9h-9.9zm0 76l5 9.9h-9.9zm1-69l5 9.9h-9.9zm0 7l5 9.9h-9.9zm0 9l5 9.9h-9.9zm0 10l5 9.9h-9.9zm0 1l5 9.9h-9.9zm0 17l5 9.9h-9.9zm0 11l5 9.9h-9.9zm0 7l5 9.9h-9.9zm0 118l5 9.9h-9.9zm1-180l5 9.9h-9.9zm0 1l5 9.9h-9.9zm0 24l5 9.9h-9.9zm0 29l5 9.9h-9.9zm0 26l5 9.9h-9.9zm0 12l5 9.9h-9.9zm0 51l5 9.9h-9.9zm0 41l5 9.9h-9.9zm1-191l5 9.9h-9.9zm0 1l5 9.9h-9.9zm0 4l5 9.9h-9.9zm0 36l5 9.9h-9.9zm0 9l5 9.9h-9.9zm0 22l5 9.9h-9.9zm0 9l5 9.9h-9.9zm0 9l5 9.9h-9.9zm1-131l5 9.9h-9.9zm0 60l5 9.9h-9.9zm0 24l5 9.9h-9.9zm0 20l5 9.9h-9.9zm0 19l5 9.9h-9.9zm0 6l5 9.9h-9.9zm1-169l5 9.9h-9.9zm0 76l5 9.9h-9.9zm0 3l5 9.9h-9.9zm0 52l5 9.9h-9.9zm0 6l5 9.9h-9.9zm0 2l5 9.9h-9.9zm0 10l5 9.9h-9.9zm0 42l5 9.9h-9.9zm1-149l5 9.9h-9.9zm0 15l5 9.9h-9.9zm0 50l5 9.9h-9.9zm0 2l5 9.9h-9.9zm0 14l5 9.9h-9.9zm0 25l5 9.9h-9.9zm0 45l5 9.9h-9.9zm1-125l5 9.9h-9.9zm0 12l5 9.9h-9.9zm0 53l5 9.9h-9.9zm0 17l5 9.9h-9.9zm0 22l5 9.9h-9.9zm0 12l5 9.9h-9.9zm0 54l5 9.9h-9.9zm0 2l5 9.9h-9.9zm1-169l5 9.9h-9.9zm0 43l5 9.9h-9.9zm0 43l5 9.9h-9.9zm0 17l5 9.9h-9.9zm0 4l5 9.9h-9.9zm0 9l5 9.9h-9.9zm1-113l5 9.9h-9.9zm0 9l5 9.9h-9.9zm0 8l5 9.9h-9.9zm0 15l5 9.9h-9.9zm0 16l5 9.9h-9.9zm0 13l5 9.9h-9.9zm1-77l5 9.9h-9.9zm0 25l5 9.9h-9.9zm0 31l5 9.9h-9.9zm0 14l5 9.9h-9.9zm0 27l5 9.9h-9.9zm0 12l5 9.9h-9.9zm0 1l5 9.9h-9.9zm0 31l5 9.9h-9.9zm1-136l5 9.9h-9.9zm0 26l5 9.9h-9.9zm0 1l5 9.9h-9.9zm0 50l5 9.9h-9.9zm0 4l5 9.9h-9.9zm0 18l5 9.9h-9.9zm0 12l5 9.9h-9.9zm0 9l5 9.9h-9.9zm1-130l5 9.9h-9.9zm0 45l5 9.9h-9.9zm0 7l5 9.9h-9.9zm0 7l5 9.9h-9.9zm0 61l5 9.9h-9.9zm1-117l5 9.9h-9.9zm0 6l5 9.9h-9.9zm0 16l5 9.9h-9.9zm0 41l5 9.9h-9.9zm0 7l5 9.9h-9.9zm0 30l5 9.9h-9.9zm0 8l5 9.9h-9.9zm0 13l5 9.9h-9.9zm1-76l5 9.9h-9.9zm0 36l5 9.9h-9.9zm0 6l5 9.9h-9.9zm0 5l5 9.9h-9.9zm0 8l5 9.9h-9.9zm0 7l5 9.9h-9.9zm0 9l5 9.9h-9.9zm0 92l5 9.9h-9.9zm1-217l5 9.9h-9.9zm0 30l5 9.9h-9.9zm0 9l5 9.9h-9.9zm0 29l5 9.9h-9.9zm0 9l5 9.9h-9.9zm0 21l5 9.9h-9.9zm0 164l5 9.9h-9.9zm0 35l5 9.9h-9.9zm1-295l5 9.9h-9.9zm0 4l5 9.9h-9.9zm0 43l5 9.9h-9.9zm0 35l5 9.9h-9.9zm0 4l5 9.9h-9.9zm0 54l5 9.9h-9.9zm0 32l5 9.9h-9.9zm0 3l5 9.9h-9.9zm1-152l5 9.9h-9.9zm0 49l5 9.9h-9.9zm0 16l5 9.9h-9.9zm0 29l5 9.9h-9.9zm0 15l5 9.9h-9.9zm0 11l5 9.9h-9.9zm0 99l5 9.9h-9.9zm1-283l5 9.9h-9.9zm0 72l5 9.9h-9.9zm0 5l5 9.9h-9.9zm0 2l5 9.9h-9.9zm0 53l5 9.9h-9.9zm0 3l5 9.9h-9.9zm0 18l5 9.9h-9.9zm1-71l5 9.9h-9.9zm0 17l5 9.9h-9.9zm0 6l5 9.9h-9.9zm0 50l5 9.9h-9.9zm0 5l5 9.9h-9.9zm0 2l5 9.9h-9.9zm0 13l5 9.9h-9.9zm1-121l5 9.9h-9.9zm0 29l5 9.9h-9.9zm0 4l5 9.9h-9.9zm0 3l5 9.9h-9.9zm0 7l5 9.9h-9.9zm0 10l5 9.9h-9.9zm0 44l5 9.9h-9.9zm0 26l5 9.9h-9.9zm1-117l5 9.9h-9.9zm0 41l5 9.9h-9.9zm0 11l5 9.9h-9.9zm0 5l5 9.9h-9.9zm0 37l5 9.9h-9.9zm0 2l5 9.9h-9.9zm0 14l5 9.9h-9.9zm1-132l5 9.9h-9.9zm0 4l5 9.9h-9.9zm0 53l5 9.9h-9.9zm0 16l5 9.9h-9.9zm0 6l5 9.9h-9.9zm0 36l5 9.9h-9.9zm0 12l5 9.9h-9.9zm0 13l5 9.9h-9.9zm1-185l5 9.9h-9.9zm0 61l5 9.9h-9.9zm0 16l5 9.9h-9.9zm0 11l5 9.9h-9.9zm0 51l5 9.9h-9.9zm0 35l5 9.9h-9.9zm0 25l5 9.9h-9.9zm1-115l5 9.9h-9.9zm0 42l5 9.9h-9.9zm0 16l5 9.9h-9.9zm0 9l5 9.9h-9.9zm0 34l5 9.9h-9.9zm0 4l5 9.9h-9.9zm0 26l5 9.9h-9.9zm1-165l5 9.9h-9.9zm0 63l5 9.9h-9.9zm0 10l5 9.9h-9.9zm0 7l5 9.9h-9.9zm0 2l5 9.9h-9.9zm0 7l5 9.9h-9.9zm0 14l5 9.9h-9.9zm0 45l5 9.9h-9.9zm1-90l5 9.9h-9.9zm0 46l5 9.9h-9.9zm0 2l5 9.9h-9.9zm0 31l5 9.9h-9.9zm0 6l5 9.9h-9.9zm0 16l5 9.9h-9.9zm1-116l5 9.9h-9.9zm0 13l5 9.9h-9.9zm0 37l5 9.9h-9.9zm0 4l5 9.9h-9.9zm0 20l5 9.9h-9.9zm0 20l5 9.9h-9.9zm0 15l5 9.9h-9.9zm1-104l5 9.9h-9.9zm0 23l5 9.9h-9.9zm0 40l5 9.9h-9.9zm0 8l5 9.9h-9.9zm0 2l5 9.9h-9.9zm0 41l5 9.9h-9.9zm0 3l5 9.9h-9.9zm0 228l5 9.9h-9.9zm1-342l5 9.9h-9.9zm0 28l5 9.9h-9.9zm0 11l5 9.9h-9.9zm0 47l5 9.9h-9.9zm0 5l5 9.9h-9.9zm0 3l5 9.9h-9.9zm0 25l5 9.9h-9.9zm1-145l5 9.9h-9.9zm0 58l5 9.9h-9.9zm0 30l5 9.9h-9.9zm0 3l5 9.9h-9.9zm0 12l5 9.9h-9.9zm0 21l5 9.9h-9.9zm0 12l5 9.9h-9.9zm1-99l5 9.9h-9.9zm0 10l5 9.9h-9.9zm0 5l5 9.9h-9.9zm0 4l5 9.9h-9.9zm0 13l5 9.9h-9.9zm0 6l5 9.9h-9.9zm0 15l5 9.9h-9.9zm0 22l5 9.9h-9.9zm1-49l5 9.9h-9.9zm0 37l5 9.9h-9.9zm0 41l5 9.9h-9.9zm1-107l5 9.9h-9.9zm0 23l5 9.9h-9.9zm0 22l5 9.9h-9.9zm0 7l5 9.9h-9.9zm0 4l5 9.9h-9.9zm0 36l5 9.9h-9.9zm0 7l5 9.9h-9.9zm1-101l5 9.9h-9.9zm0 36l5 9.9h-9.9zm0 8l5 9.9h-9.9zm0 52l5 9.9h-9.9zm0 17l5 9.9h-9.9zm1-107l5 9.9h-9.9zm0 3l5 9.9h-9.9zm0 10l5 9.9h-9.9zm0 30l5 9.9h-9.9zm0 24l5 9.9h-9.9zm0 2l5 9.9h-9.9zm1-50l5 9.9h-9.9zm0 31l5 9.9h-9.9zm0 10l5 9.9h-9.9zm0 35l5 9.9h-9.9zm0 4l5 9.9h-9.9zm0 10l5 9.9h-9.9zm0 12l5 9.9h-9.9zm1-92l5 9.9h-9.9zm0 9l5 9.9h-9.9zm0 56l5 9.9h-9.9zm0 8l5 9.9h-9.9zm1-43l5 9.9h-9.9zm0 19l5 9.9h-9.9zm0 25l5 9.9h-9.9zm0 4l5 9.9h-9.9zm1-100l5 9.9h-9.9zm0 34l5 9.9h-9.9zm0 7l5 9.9h-9.9zm0 40l5 9.9h-9.9zm0 10l5 9.9h-9.9zm0 5l5 9.9h-9.9zm0 10l5 9.9h-9.9zm1-95l5 9.9h-9.9zm0 45l5 9.9h-9.9zm0 8l5 9.9h-9.9zm0 42l5 9.9h-9.9zm0 18l5 9.9h-9.9zm0 9l5 9.9h-9.9zm1-112l5 9.9h-9.9zm0 6l5 9.9h-9.9zm0 3l5 9.9h-9.9zm0 11l5 9.9h-9.9zm0 2l5 9.9h-9.9zm0 5l5 9.9h-9.9zm0 13l5 9.9h-9.9zm0 46l5 9.9h-9.9zm1-83l5 9.9h-9.9zm0 28l5 9.9h-9.9zm0 38l5 9.9h-9.9zm0 27l5 9.9h-9.9zm0 28l5 9.9h-9.9zm0 161l5 9.9h-9.9zm1-324l5 9.9h-9.9zm0 67l5 9.9h-9.9zm0 24l5 9.9h-9.9zm0 8l5 9.9h-9.9zm0 3l5 9.9h-9.9zm0 5l5 9.9h-9.9zm1-73l5 9.9h-9.9zm0 4l5 9.9h-9.9zm0 57l5 9.9h-9.9zm0 26l5 9.9h-9.9zm0 9l5 9.9h-9.9zm1-47l5 9.9h-9.9zm0 28l5 9.9h-9.9zm0 31l5 9.9h-9.9zm0 9l5 9.9h-9.9zm0 1l5 9.9h-9.9zm0 17l5 9.9h-9.9zm1-120l5 9.9h-9.9zm0 24l5 9.9h-9.9zm0 5l5 9.9h-9.9zm0 14l5 9.9h-9.9zm0 32l5 9.9h-9.9zm0 9l5 9.9h-9.9zm1-72l5 9.9h-9.9zm0 44l5 9.9h-9.9zm0 12l5 9.9h-9.9zm0 4l5 9.9h-9.9zm0 44l5 9.9h-9.9zm0 13l5 9.9h-9.9zm1-114l5 9.9h-9.9zm0 3l5 9.9h-9.9zm0 14l5 9.9h-9.9zm0 28l5 9.9h-9.9zm0 59l5 9.9h-9.9zm1-113l5 9.9h-9.9zm0 47l5 9.9h-9.9zm0 27l5 9.9h-9.9zm0 9l5 9.9h-9.9zm0 41l5 9.9h-9.9zm0 11l5 9.9h-9.9zm1-94l5 9.9h-9.9zm0 22l5 9.9h-9.9zm0 29l5 9.9h-9.9zm0 20l5 9.9h-9.9zm1-89l5 9.9h-9.9zm0 11l5 9.9h-9.9zm0 47l5 9.9h-9.9zm0 16l5 9.9h-9.9zm0 5l5 9.9h-9.9zm0 4l5 9.9h-9.9zm0 138l5 9.9h-9.9zm1-217l5 9.9h-9.9zm0 27l5 9.9h-9.9zm0 14l5 9.9h-9.9zm0 35l5 9.9h-9.9zm0 12l5 9.9h-9.9zm0 5l5 9.9h-9.9zm0 2l5 9.9h-9.9zm1-62l5 9.9h-9.9zm0 21l5 9.9h-9.9zm0 5l5 9.9h-9.9zm0 4l5 9.9h-9.9zm0 5l5 9.9h-9.9zm0 19l5 9.9h-9.9zm1-102l5 9.9h-9.9zm0 43l5 9.9h-9.9zm0 1l5 9.9h-9.9zm0 55l5 9.9h-9.9zm0 5l5 9.9h-9.9zm0 12l5 9.9h-9.9zm0 144l5 9.9h-9.9zm1-204l5 9.9h-9.9zm0 6l5 9.9h-9.9zm0 3l5 9.9h-9.9zm0 27l5 9.9h-9.9zm0 27l5 9.9h-9.9zm0 8l5 9.9h-9.9zm0 11l5 9.9h-9.9zm1-81l5 9.9h-9.9zm0 14l5 9.9h-9.9zm0 49l5 9.9h-9.9zm0 3l5 9.9h-9.9zm0 19l5 9.9h-9.9zm1-90l5 9.9h-9.9zm0 17l5 9.9h-9.9zm0 9l5 9.9h-9.9zm0 29l5 9.9h-9.9zm0 26l5 9.9h-9.9zm1-76l5 9.9h-9.9zm0 18l5 9.9h-9.9zm0 18l5 9.9h-9.9zm0 1l5 9.9h-9.9zm0 18l5 9.9h-9.9zm0 27l5 9.9h-9.9zm0 35l5 9.9h-9.9zm1-119l5 9.9h-9.9zm0 7l5 9.9h-9.9zm0 8l5 9.9h-9.9zm0 5l5 9.9h-9.9zm0 22l5 9.9h-9.9zm0 22l5 9.9h-9.9zm0 13l5 9.9h-9.9zm1-49l5 9.9h-9.9zm0 2l5 9.9h-9.9zm0 19l5 9.9h-9.9zm0 37l5 9.9h-9.9zm0 11l5 9.9h-9.9zm0 5l5 9.9h-9.9zm1-111l5 9.9h-9.9zm0 22l5 9.9h-9.9zm0 4l5 9.9h-9.9zm0 2l5 9.9h-9.9zm0 35l5 9.9h-9.9zm0 2l5 9.9h-9.9zm0 12l5 9.9h-9.9zm1-23l5 9.9h-9.9zm0 39l5 9.9h-9.9zm0 6l5 9.9h-9.9zm0 1l5 9.9h-9.9zm0 7l5 9.9h-9.9zm0 15l5 9.9h-9.9zm1-92l5 9.9h-9.9zm0 14l5 9.9h-9.9zm0 26l5 9.9h-9.9zm0 11l5 9.9h-9.9zm0 23l5 9.9h-9.9zm0 15l5 9.9h-9.9zm1-92l5 9.9h-9.9zm0 9l5 9.9h-9.9zm0 4l5 9.9h-9.9zm0 9l5 9.9h-9.9zm0 44l5 9.9h-9.9zm0 14l5 9.9h-9.9zm1-51l5 9.9h-9.9zm0 4l5 9.9h-9.9zm0 13l5 9.9h-9.9zm0 22l5 9.9h-9.9zm0 3l5 9.9h-9.9zm0 12l5 9.9h-9.9zm0 8l5 9.9h-9.9zm0 19l5 9.9h-9.9zm1-82l5 9.9h-9.9zm0 25l5 9.9h-9.9zm0 15l5 9.9h-9.9zm0 22l5 9.9h-9.9zm0 1l5 9.9h-9.9zm0 10l5 9.9h-9.9zm0 2l5 9.9h-9.9zm0 14l5 9.9h-9.9zm1-86l5 9.9h-9.9zm0 27l5 9.9h-9.9zm0 12l5 9.9h-9.9zm0 11l5 9.9h-9.9zm0 14l5 9.9h-9.9zm0 17l5 9.9h-9.9zm0 12l5 9.9h-9.9zm1-94l5 9.9h-9.9zm0 13l5 9.9h-9.9zm0 6l5 9.9h-9.9zm0 9l5 9.9h-9.9zm0 16l5 9.9h-9.9zm0 4l5 9.9h-9.9zm0 1l5 9.9h-9.9zm0 21l5 9.9h-9.9zm1-36l5 9.9h-9.9zm0 12l5 9.9h-9.9zm0 27l5 9.9h-9.9zm0 4l5 9.9h-9.9zm0 11l5 9.9h-9.9zm0 24l5 9.9h-9.9zm1-80l5 9.9h-9.9zm0 34l5 9.9h-9.9zm0 7l5 9.9h-9.9zm0 4l5 9.9h-9.9zm0 5l5 9.9h-9.9zm0 11l5 9.9h-9.9zm0 28l5 9.9h-9.9zm1-59l5 9.9h-9.9zm0 3l5 9.9h-9.9zm0 16l5 9.9h-9.9zm0 4l5 9.9h-9.9zm0 20l5 9.9h-9.9zm0 5l5 9.9h-9.9zm1-45l5 9.9h-9.9zm0 3l5 9.9h-9.9zm64-154l5 9.9h-9.9zm0 1l5 9.9h-9.9zm0 3l5 9.9h-9.9zm0 18l5 9.9h-9.9zm1-26l5 9.9h-9.9zm0 13l5 9.9h-9.9zm0 10l5 9.9h-9.9zm0 8l5 9.9h-9.9zm0 16l5 9.9h-9.9zm0 3l5 9.9h-9.9zm0 4l5 9.9h-9.9zm1-39l5 9.9h-9.9zm0 9l5 9.9h-9.9zm0 5l5 9.9h-9.9zm0 5l5 9.9h-9.9zm1-21l5 9.9h-9.9zm0 3l5 9.9h-9.9zm0 27l5 9.9h-9.9zm2-56l5 9.9h-9.9zm0 6l5 9.9h-9.9zm2 56l5 9.9h-9.9zm3-4l5 9.9h-9.9zm2-57l5 9.9h-9.9zm1 0l5 9.9h-9.9zm1-12l5 9.9h-9.9zm0 75l5 9.9h-9.9zm1 1l5 9.9h-9.9zm1-10l5 9.9h-9.9zm1-52l5 9.9h-9.9zm1-23l5 9.9h-9.9zm2 18l5 9.9h-9.9zm0 4l5 9.9h-9.9zm2 54l5 9.9h-9.9zm1-63l5 9.9h-9.9zm0 60l5 9.9h-9.9zm1-48l5 9.9h-9.9zm0 53l5 9.9h-9.9zm1-55l5 9.9h-9.9zm1 55l5 9.9h-9.9zm0 1l5 9.9h-9.9zm1 3l5 9.9h-9.9zm1-62l5 9.9h-9.9zm1-6l5 9.9h-9.9zm0 10l5 9.9h-9.9zm1 49l5 9.9h-9.9zm0 9l5 9.9h-9.9zm2-68l5 9.9h-9.9zm0 7l5 9.9h-9.9zm0 53l5 9.9h-9.9zm2-63l5 9.9h-9.9zm0 11l5 9.9h-9.9zm0 57l5 9.9h-9.9zm1-1l5 9.9h-9.9zm0 13l5 9.9h-9.9zm2 4l5 9.9h-9.9zm1-71l5 9.9h-9.9zm1-7l5 9.9h-9.9zm0 5l5 9.9h-9.9zm1 0l5 9.9h-9.9zm0 54l5 9.9h-9.9zm1-1l5 9.9h-9.9zm2-51l5 9.9h-9.9zm1 54l5 9.9h-9.9zm1-55l5 9.9h-9.9zm0 2l5 9.9h-9.9zm0 8l5 9.9h-9.9zm0 47l5 9.9h-9.9zm0 5l5 9.9h-9.9zm1-7l5 9.9h-9.9zm2-61l5 9.9h-9.9zm1 15l5 9.9h-9.9zm0 4l5 9.9h-9.9zm1-17l5 9.9h-9.9zm0 57l5 9.9h-9.9zm1 8l5 9.9h-9.9zm0 3l5 9.9h-9.9zm1-12l5 9.9h-9.9zm1 5l5 9.9h-9.9zm0 29l5 9.9h-9.9zm1-82l5 9.9h-9.9zm0 56l5 9.9h-9.9zm1-49l5 9.9h-9.9zm0 4l5 9.9h-9.9zm1 36l5 9.9h-9.9zm1-44l5 9.9h-9.9zm1 8l5 9.9h-9.9zm0 48l5 9.9h-9.9zm1-52l5 9.9h-9.9zm1 42l5 9.9h-9.9zm1 4l5 9.9h-9.9zm1-3l5 9.9h-9.9zm0 13l5 9.9h-9.9zm5-57l5 9.9h-9.9zm1 45l5 9.9h-9.9zm1 7l5 9.9h-9.9zm0 7l5 9.9h-9.9zm0 1l5 9.9h-9.9zm2-69l5 9.9h-9.9zm1 55l5 9.9h-9.9zm1-44l5 9.9h-9.9zm0 43l5 9.9h-9.9zm2-41l5 9.9h-9.9zm2-8l5 9.9h-9.9zm0 45l5 9.9h-9.9zm1-39l5 9.9h-9.9zm0 42l5 9.9h-9.9zm0 2l5 9.9h-9.9zm0 1l5 9.9h-9.9zm5-45l5 9.9h-9.9zm0 42l5 9.9h-9.9zm1 11l5 9.9h-9.9zm1-58l5 9.9h-9.9zm2 1l5 9.9h-9.9zm0 43l5 9.9h-9.9zm1-58l5 9.9h-9.9zm0 56l5 9.9h-9.9zm0 4l5 9.9h-9.9zm1-46l5 9.9h-9.9zm3-39l5 9.9h-9.9zm0 28l5 9.9h-9.9zm1 52l5 9.9h-9.9zm1-55l5 9.9h-9.9zm0 54l5 9.9h-9.9zm2-49l5 9.9h-9.9zm1-12l5 9.9h-9.9zm1 6l5 9.9h-9.9zm0 59l5 9.9h-9.9zm3-7l5 9.9h-9.9zm0 7l5 9.9h-9.9zm1-65l5 9.9h-9.9zm1-2l5 9.9h-9.9zm0 62l5 9.9h-9.9zm2-65l5 9.9h-9.9zm0 64l5 9.9h-9.9zm1-57l5 9.9h-9.9zm0 64l5 9.9h-9.9zm1-69l5 9.9h-9.9zm2 106l5 9.9h-9.9zm1-110l5 9.9h-9.9zm2 10l5 9.9h-9.9zm0 54l5 9.9h-9.9zm1-54l5 9.9h-9.9zm0 55l5 9.9h-9.9zm0 6l5 9.9h-9.9zm1-73l5 9.9h-9.9zm0 82l5 9.9h-9.9zm1-21l5 9.9h-9.9zm3-57l5 9.9h-9.9zm0 5l5 9.9h-9.9zm0 61l5 9.9h-9.9zm0 1l5 9.9h-9.9zm1-61l5 9.9h-9.9zm1 54l5 9.9h-9.9zm2-67l5 9.9h-9.9zm0 10l5 9.9h-9.9zm1 53l5 9.9h-9.9zm1-63l5 9.9h-9.9zm0 68l5 9.9h-9.9zm2-63l5 9.9h-9.9zm0 3l5 9.9h-9.9zm2 60l5 9.9h-9.9zm1 0l5 9.9h-9.9zm1-7l5 9.9h-9.9zm2-66l5 9.9h-9.9zm0 9l5 9.9h-9.9zm0 55l5 9.9h-9.9zm1 1l5 9.9h-9.9zm2 7l5 9.9h-9.9zm1-70l5 9.9h-9.9zm1 9l5 9.9h-9.9zm0 61l5 9.9h-9.9zm2-6l5 9.9h-9.9zm1 8l5 9.9h-9.9zm1-59l5 9.9h-9.9zm0 68l5 9.9h-9.9zm2-88l5 9.9h-9.9zm1 5l5 9.9h-9.9zm0 2l5 9.9h-9.9zm2 0l5 9.9h-9.9zm0 10l5 9.9h-9.9zm0 53l5 9.9h-9.9zm0 2l5 9.9h-9.9zm1 1l5 9.9h-9.9zm1-5l5 9.9h-9.9zm1-55l5 9.9h-9.9zm1 3l5 9.9h-9.9zm2 58l5 9.9h-9.9zm1 3l5 9.9h-9.9zm1-7l5 9.9h-9.9zm1-69l5 9.9h-9.9zm0 13l5 9.9h-9.9zm0 52l5 9.9h-9.9zm1-63l5 9.9h-9.9zm1 61l5 9.9h-9.9zm0 7l5 9.9h-9.9zm2-63l5 9.9h-9.9zm1-3l5 9.9h-9.9zm1-4l5 9.9h-9.9zm1 66l5 9.9h-9.9zm1-3l5 9.9h-9.9zm2-56l5 9.9h-9.9zm0 61l5 9.9h-9.9zm0 9l5 9.9h-9.9zm0 2l5 9.9h-9.9zm1-70l5 9.9h-9.9zm0 54l5 9.9h-9.9zm1 5l5 9.9h-9.9zm1-4l5 9.9h-9.9zm1-2l5 9.9h-9.9zm1-70l5 9.9h-9.9zm1 18l5 9.9h-9.9zm0 54l5 9.9h-9.9zm1 1l5 9.9h-9.9zm1-9l5 9.9h-9.9zm2-65l5 9.9h-9.9zm0 64l5 9.9h-9.9zm2 2l5 9.9h-9.9zm0 1l5 9.9h-9.9zm2-62l5 9.9h-9.9zm0 3l5 9.9h-9.9zm0 53l5 9.9h-9.9zm1-48l5 9.9h-9.9zm0 14l5 9.9h-9.9zm0 1l5 9.9h-9.9zm0 5l5 9.9h-9.9zm0 7l5 9.9h-9.9zm0 3l5 9.9h-9.9zm1-21l5 9.9h-9.9zm0 25l5 9.9h-9.9zm0 12l5 9.9h-9.9zm1-41l5 9.9h-9.9zm0 2l5 9.9h-9.9zm0 5l5 9.9h-9.9zm0 4l5 9.9h-9.9zm0 16l5 9.9h-9.9zm0 13l5 9.9h-9.9zm1-32l5 9.9h-9.9zm0 23l5 9.9h-9.9zm0 4l5 9.9h-9.9zm76 82l5 9.9h-9.9zm0 4l5 9.9h-9.9zm0 4l5 9.9h-9.9zm0 1l5 9.9h-9.9zm0 5l5 9.9h-9.9zm0 8l5 9.9h-9.9zm0 5l5 9.9h-9.9zm0 6l5 9.9h-9.9zm1-33l5 9.9h-9.9zm0 5l5 9.9h-9.9zm0 23l5 9.9h-9.9zm0 7l5 9.9h-9.9zm1-42l5 9.9h-9.9zm0 17l5 9.9h-9.9zm0 17l5 9.9h-9.9zm0 6l5 9.9h-9.9zm0 7l5 9.9h-9.9zm1-12l5 9.9h-9.9zm0 15l5 9.9h-9.9zm1-56l5 9.9h-9.9zm0 36l5 9.9h-9.9zm1-4l5 9.9h-9.9zm1-45l5 9.9h-9.9zm2 42l5 9.9h-9.9zm0 11l5 9.9h-9.9zm1-63l5 9.9h-9.9zm1 6l5 9.9h-9.9zm0 45l5 9.9h-9.9zm1-2l5 9.9h-9.9zm0 4l5 9.9h-9.9zm2-71l5 9.9h-9.9zm0 14l5 9.9h-9.9zm0 48l5 9.9h-9.9zm2 9l5 9.9h-9.9zm1-71l5 9.9h-9.9zm1 58l5 9.9h-9.9zm1-53l5 9.9h-9.9zm0 44l5 9.9h-9.9zm0 5l5 9.9h-9.9zm1-52l5 9.9h-9.9zm0 65l5 9.9h-9.9zm2 4l5 9.9h-9.9zm1-86l5 9.9h-9.9zm0 65l5 9.9h-9.9zm0 6l5 9.9h-9.9zm3-65l5 9.9h-9.9zm0 3l5 9.9h-9.9zm1 47l5 9.9h-9.9zm0 5l5 9.9h-9.9zm1-66l5 9.9h-9.9zm1 10l5 9.9h-9.9zm1 0l5 9.9h-9.9zm0 49l5 9.9h-9.9zm1-67l5 9.9h-9.9zm0 108l5 9.9h-9.9zm1-97l5 9.9h-9.9zm0 63l5 9.9h-9.9zm1-68l5 9.9h-9.9zm0 7l5 9.9h-9.9zm0 48l5 9.9h-9.9zm0 5l5 9.9h-9.9zm1-6l5 9.9h-9.9zm1-7l5 9.9h-9.9zm1-47l5 9.9h-9.9zm2 49l5 9.9h-9.9zm1-57l5 9.9h-9.9zm0 52l5 9.9h-9.9zm0 34l5 9.9h-9.9zm1-93l5 9.9h-9.9zm1 58l5 9.9h-9.9zm1-9l5 9.9h-9.9zm0 41l5 9.9h-9.9zm1-92l5 9.9h-9.9zm0 10l5 9.9h-9.9zm0 65l5 9.9h-9.9zm1-79l5 9.9h-9.9zm0 51l5 9.9h-9.9zm0 5l5 9.9h-9.9zm1 8l5 9.9h-9.9zm1 13l5 9.9h-9.9zm2-80l5 9.9h-9.9zm0 44l5 9.9h-9.9zm1 7l5 9.9h-9.9zm1-5l5 9.9h-9.9zm1-47l5 9.9h-9.9zm0 50l5 9.9h-9.9zm0 14l5 9.9h-9.9zm1-70l5 9.9h-9.9zm0 1l5 9.9h-9.9zm1 40l5 9.9h-9.9zm2-41l5 9.9h-9.9zm0 42l5 9.9h-9.9zm0 6l5 9.9h-9.9zm0 3l5 9.9h-9.9zm2-59l5 9.9h-9.9zm0 44l5 9.9h-9.9zm0 3l5 9.9h-9.9zm1 4l5 9.9h-9.9zm1-54l5 9.9h-9.9zm0 2l5 9.9h-9.9zm0 39l5 9.9h-9.9zm1-4l5 9.9h-9.9zm0 6l5 9.9h-9.9zm0 3l5 9.9h-9.9zm2-6l5 9.9h-9.9zm1-48l5 9.9h-9.9zm1 43l5 9.9h-9.9zm0 2l5 9.9h-9.9zm1-54l5 9.9h-9.9zm0 56l5 9.9h-9.9zm1-68l5 9.9h-9.9zm0 60l5 9.9h-9.9zm2-56l5 9.9h-9.9zm0 4l5 9.9h-9.9zm0 4l5 9.9h-9.9zm0 34l5 9.9h-9.9zm1-43l5 9.9h-9.9zm0 50l5 9.9h-9.9zm1-16l5 9.9h-9.9zm0 18l5 9.9h-9.9zm1-14l5 9.9h-9.9zm0 1l5 9.9h-9.9zm2-53l5 9.9h-9.9zm0 43l5 9.9h-9.9zm1-37l5 9.9h-9.9zm0 39l5 9.9h-9.9zm1-39l5 9.9h-9.9zm1-6l5 9.9h-9.9zm0 40l5 9.9h-9.9zm1-6l5 9.9h-9.9zm1-37l5 9.9h-9.9zm0 44l5 9.9h-9.9zm1-51l5 9.9h-9.9zm0 4l5 9.9h-9.9zm0 35l5 9.9h-9.9zm1-38l5 9.9h-9.9zm0 37l5 9.9h-9.9zm0 16l5 9.9h-9.9zm1-62l5 9.9h-9.9zm0 3l5 9.9h-9.9zm1 51l5 9.9h-9.9zm0 1l5 9.9h-9.9zm1-19l5 9.9h-9.9zm0 9l5 9.9h-9.9zm1-4l5 9.9h-9.9zm1-37l5 9.9h-9.9zm0 33l5 9.9h-9.9zm0 28l5 9.9h-9.9zm1-25l5 9.9h-9.9zm1-51l5 9.9h-9.9zm0 13l5 9.9h-9.9zm1 34l5 9.9h-9.9zm3-46l5 9.9h-9.9zm0 4l5 9.9h-9.9zm0 35l5 9.9h-9.9zm1 4l5 9.9h-9.9zm1-8l5 9.9h-9.9zm1-31l5 9.9h-9.9zm0 41l5 9.9h-9.9zm1-8l5 9.9h-9.9zm0 5l5 9.9h-9.9zm1-49l5 9.9h-9.9zm0 3l5 9.9h-9.9zm1-11l5 9.9h-9.9zm0 7l5 9.9h-9.9zm0 3l5 9.9h-9.9zm0 41l5 9.9h-9.9zm2-53l5 9.9h-9.9zm0 12l5 9.9h-9.9zm0 3l5 9.9h-9.9zm2-3l5 9.9h-9.9zm0 35l5 9.9h-9.9zm0 4l5 9.9h-9.9zm1-41l5 9.9h-9.9zm1-14l5 9.9h-9.9zm1 9l5 9.9h-9.9zm1 2l5 9.9h-9.9zm0 38l5 9.9h-9.9zm1 1l5 9.9h-9.9zm1 0l5 9.9h-9.9zm0 2l5 9.9h-9.9zm0 2l5 9.9h-9.9zm1-11l5 9.9h-9.9zm0 9l5 9.9h-9.9zm1-36l5 9.9h-9.9zm0 26l5 9.9h-9.9zm0 6l5 9.9h-9.9zm1-3l5 9.9h-9.9zm1-40l5 9.9h-9.9zm0 37l5 9.9h-9.9zm0 12l5 9.9h-9.9zm3-51l5 9.9h-9.9zm0 4l5 9.9h-9.9zm1 30l5 9.9h-9.9zm1-38l5 9.9h-9.9zm0 47l5 9.9h-9.9zm1-41l5 9.9h-9.9zm0 39l5 9.9h-9.9zm0 2l5 9.9h-9.9zm1-6l5 9.9h-9.9zm2-5l5 9.9h-9.9zm1-32l5 9.9h-9.9zm0 36l5 9.9h-9.9zm0 5l5 9.9h-9.9zm1-45l5 9.9h-9.9zm1 5l5 9.9h-9.9zm1 27l5 9.9h-9.9zm0 12l5 9.9h-9.9zm1-45l5 9.9h-9.9zm1 36l5 9.9h-9.9zm1-40l5 9.9h-9.9zm1 47l5 9.9h-9.9zm1-53l5 9.9h-9.9zm0 8l5 9.9h-9.9zm0 2l5 9.9h-9.9zm0 32l5 9.9h-9.9zm1-40l5 9.9h-9.9zm0 38l5 9.9h-9.9zm3-32l5 9.9h-9.9zm0 36l5 9.9h-9.9zm1-6l5 9.9h-9.9zm1-35l5 9.9h-9.9zm0 33l5 9.9h-9.9zm1-46l5 9.9h-9.9zm0 8l5 9.9h-9.9zm1-1l5 9.9h-9.9zm0 2l5 9.9h-9.9zm2 35l5 9.9h-9.9zm0 3l5 9.9h-9.9zm0 2l5 9.9h-9.9zm1-2l5 9.9h-9.9zm1-42l5 9.9h-9.9zm0 38l5 9.9h-9.9zm0 17l5 9.9h-9.9zm2-57l5 9.9h-9.9zm0 41l5 9.9h-9.9zm0 1l5 9.9h-9.9zm1-7l5 9.9h-9.9zm1-51l5 9.9h-9.9zm0 9l5 9.9h-9.9zm1 0l5 9.9h-9.9zm1 0l5 9.9h-9.9zm1-10l5 9.9h-9.9zm0 47l5 9.9h-9.9zm0 19l5 9.9h-9.9zm1-57l5 9.9h-9.9zm1 40l5 9.9h-9.9zm1 2l5 9.9h-9.9zm1-56l5 9.9h-9.9zm0 48l5 9.9h-9.9zm0 5l5 9.9h-9.9zm1-45l5 9.9h-9.9zm1 42l5 9.9h-9.9zm0 2l5 9.9h-9.9zm1-3l5 9.9h-9.9zm0 6l5 9.9h-9.9zm1-50l5 9.9h-9.9zm1-6l5 9.9h-9.9zm0 2l5 9.9h-9.9zm0 59l5 9.9h-9.9zm1-22l5 9.9h-9.9zm0 26l5 9.9h-9.9zm1-21l5 9.9h-9.9zm0 6l5 9.9h-9.9zm1-50l5 9.9h-9.9zm0 1l5 9.9h-9.9zm1 42l5 9.9h-9.9zm0 15l5 9.9h-9.9zm2-59l5 9.9h-9.9zm0 1l5 9.9h-9.9zm0 34l5 9.9h-9.9zm0 14l5 9.9h-9.9zm1-52l5 9.9h-9.9zm0 39l5 9.9h-9.9zm1 4l5 9.9h-9.9zm1 4l5 9.9h-9.9zm1-61l5 9.9h-9.9zm0 4l5 9.9h-9.9zm2-4l5 9.9h-9.9zm0 49l5 9.9h-9.9zm0 5l5 9.9h-9.9zm1-11l5 9.9h-9.9zm1-38l5 9.9h-9.9zm1-3l5 9.9h-9.9zm0 51l5 9.9h-9.9zm1-15l5 9.9h-9.9zm1-49l5 9.9h-9.9zm0 1l5 9.9h-9.9zm0 55l5 9.9h-9.9zm1-46l5 9.9h-9.9zm1-4l5 9.9h-9.9zm0 46l5 9.9h-9.9zm0 5l5 9.9h-9.9zm2-73l5 9.9h-9.9zm0 62l5 9.9h-9.9zm0 5l5 9.9h-9.9zm1-60l5 9.9h-9.9zm0 32l5 9.9h-9.9zm0 6l5 9.9h-9.9zm0 2l5 9.9h-9.9zm0 5l5 9.9h-9.9zm1-26l5 9.9h-9.9zm0 5l5 9.9h-9.9zm0 11l5 9.9h-9.9zm0 19l5 9.9h-9.9zm0 5l5 9.9h-9.9zm0 4l5 9.9h-9.9zm1-46l5 9.9h-9.9zm0 1l5 9.9h-9.9zm0 6l5 9.9h-9.9zm0 4l5 9.9h-9.9zm0 2l5 9.9h-9.9zm0 4l5 9.9h-9.9zm0 26l5 9.9h-9.9z" fill="#9467bd" stroke="none"/></g><path d="M373.63 1089.85V810.9" stroke="#000" stroke-width="1.8" stroke-dasharray="6.3 2.7" fill="none"/><path d="M392.57 1089.85V810.9" stroke="#000" stroke-width="1.8" stroke-dasharray="6.3 2.7" fill="none"/></g><rect x="409.85" y="997.8" width="166.45" height="83.68" fill="#fff"/><g clip-path="url(#c14)"><g transform="scale(.5)"><path d="M820 2056l5.6 11.1h-11.1zm1 10l5.6 11.1h-11.1zm1-2l5.6 11.1h-11.1zm1 1l5.6 11.1h-11.1zm1-5l5.6 11.1h-11.1zm1 4l5.6 11.1h-11.1zm2 8l5.6 11.1h-11.1zm1-1l5.6 11.1h-11.1zm1-8l5.6 11.1h-11.1zm1 0l5.6 11.1h-11.1zm1 5l5.6 11.1h-11.1zm1 5l5.6 11.1h-11.1zm2 0l5.6 11.1h-11.1zm1 0l5.6 11.1h-11.1zm1-3l5.6 11.1h-11.1zm2-7l5.6 11.1h-11.1zm1 8l5.6 11.1h-11.1zm2-7l5.6 11.1h-11.1zm1 4l5.6 11.1h-11.1zm1-7l5.6 11.1h-11.1zm1 7l5.6 11.1h-11.1zm2-3l5.6 11.1h-11.1zm2 5l5.6 11.1h-11.1zm2-7l5.6 11.1h-11.1zm1 5l5.6 11.1h-11.1zm1 4l5.6 11.1h-11.1zm1-7l5.6 11.1h-11.1zm3-7l5.6 11.1h-11.1zm2 7l5.6 11.1h-11.1zm1 4l5.6 11.1h-11.1zm1-4l5.6 11.1h-11.1zm1 1l5.6 11.1h-11.1zm2-2l5.6 11.1h-11.1zm1 6l5.6 11.1h-11.1zm1 2l5.6 11.1h-11.1zm1 3l5.6 11.1h-11.1zm1-4l5.6 11.1h-11.1zm1-8l5.6 11.1h-11.1zm2-2l5.6 11.1h-11.1zm1 11l5.6 11.1h-11.1zm1-8l5.6 11.1h-11.1zm1-1l5.6 11.1h-11.1zm1 2l5.6 11.1h-11.1zm1 9l5.6 11.1h-11.1zm2-8l5.6 11.1h-11.1zm1-3l5.6 11.1h-11.1zm1 0l5.6 11.1h-11.1zm1-2l5.6 11.1h-11.1zm1 3l5.6 11.1h-11.1zm1 5l5.6 11.1h-11.1zm1-2l5.6 11.1h-11.1zm2-3l5.6 11.1h-11.1zm1-1l5.6 11.1h-11.1zm1 8l5.6 11.1h-11.1zm1-2l5.6 11.1h-11.1zm1 5l5.6 11.1h-11.1zm1-12l5.6 11.1h-11.1zm2 6l5.6 11.1h-11.1zm1 1l5.6 11.1h-11.1zm1 2l5.6 11.1h-11.1zm1-7l5.6 11.1h-11.1zm1 4l5.6 11.1h-11.1zm1-4l5.6 11.1h-11.1zm2 8l5.6 11.1h-11.1zm1-11l5.6 11.1h-11.1zm1 11l5.6 11.1h-11.1zm1-9l5.6 11.1h-11.1zm1 1l5.6 11.1h-11.1zm1 2l5.6 11.1h-11.1zm2 0l5.6 11.1h-11.1zm1 5l5.6 11.1h-11.1zm1-6l5.6 11.1h-11.1zm1 3l5.6 11.1h-11.1zm2-1l5.6 11.1h-11.1zm1 0l5.6 11.1h-11.1zm2 2l5.6 11.1h-11.1zm1-12l5.6 11.1h-11.1zm1 7l5.6 11.1h-11.1zm1 6l5.6 11.1h-11.1zm1-7l5.6 11.1h-11.1zm3 1l5.6 11.1h-11.1zm1 6l5.6 11.1h-11.1zm1-6l5.6 11.1h-11.1zm1 3l5.6 11.1h-11.1zm1 0l5.6 11.1h-11.1zm1 7l5.6 11.1h-11.1zm2-9l5.6 11.1h-11.1zm1 3l5.6 11.1h-11.1zm1 3l5.6 11.1h-11.1zm1 0l5.6 11.1h-11.1zm1-11l5.6 11.1h-11.1zm1 18l5.6 11.1h-11.1zm2-11l5.6 11.1h-11.1zm2 2l5.6 11.1h-11.1zm1 1l5.6 11.1h-11.1zm1-1l5.6 11.1h-11.1zm1-11l5.6 11.1h-11.1zm1 6l5.6 11.1h-11.1zm2 0l5.6 11.1h-11.1zm1 9l5.6 11.1h-11.1zm2-5l5.6 11.1h-11.1zm1-7l5.6 11.1h-11.1zm3 4l5.6 11.1h-11.1zm3 0l5.6 11.1h-11.1zm1 2l5.6 11.1h-11.1zm1-3l5.6 11.1h-11.1zm2 6l5.6 11.1h-11.1zm1-3l5.6 11.1h-11.1zm1 9l5.6 11.1h-11.1zm1-4l5.6 11.1h-11.1zm1 1l5.6 11.1h-11.1zm1-7l5.6 11.1h-11.1zm2 3l5.6 11.1h-11.1zm1-11l5.6 11.1h-11.1zm2 10l5.6 11.1h-11.1zm2 3l5.6 11.1h-11.1zm1-6l5.6 11.1h-11.1zm2-2l5.6 11.1h-11.1zm1 3l5.6 11.1h-11.1zm2-5l5.6 11.1h-11.1zm1 10l5.6 11.1h-11.1zm1-3l5.6 11.1h-11.1zm2 1l5.6 11.1h-11.1zm2-3l5.6 11.1h-11.1zm1 0l5.6 11.1h-11.1zm1 3l5.6 11.1h-11.1zm3-9l5.6 11.1h-11.1zm1 6l5.6 11.1h-11.1zm2 4l5.6 11.1h-11.1zm1-6l5.6 11.1h-11.1zm1 2l5.6 11.1h-11.1zm2 1l5.6 11.1h-11.1zm1-2l5.6 11.1h-11.1zm1 9l5.6 11.1h-11.1zm1-5l5.6 11.1h-11.1zm2-4l5.6 11.1h-11.1zm1 5l5.6 11.1h-11.1zm2-7l5.6 11.1h-11.1zm2 6l5.6 11.1h-11.1zm1-7l5.6 11.1h-11.1zm1 5l5.6 11.1h-11.1zm1 5l5.6 11.1h-11.1zm2-10l5.6 11.1h-11.1zm3 3l5.6 11.1h-11.1zm1 7l5.6 11.1h-11.1zm3-8l5.6 11.1h-11.1zm1 7l5.6 11.1h-11.1zm1-9l5.6 11.1h-11.1zm1 7l5.6 11.1h-11.1zm2-8l5.6 11.1h-11.1zm2 2l5.6 11.1h-11.1zm1 6l5.6 11.1h-11.1zm1 3l5.6 11.1h-11.1zm1-7l5.6 11.1h-11.1zm1 1l5.6 11.1h-11.1zm2 2l5.6 11.1h-11.1zm2-2l5.6 11.1h-11.1zm1-7l5.6 11.1h-11.1zm1 2l5.6 11.1h-11.1zm1 9l5.6 11.1h-11.1zm1-1l5.6 11.1h-11.1zm3-3l5.6 11.1h-11.1zm1 6l5.6 11.1h-11.1zm1-9l5.6 11.1h-11.1zm1 3l5.6 11.1h-11.1zm1 1l5.6 11.1h-11.1zm1 9l5.6 11.1h-11.1zm2-12l5.6 11.1h-11.1zm1 10l5.6 11.1h-11.1zm1-12l5.6 11.1h-11.1zm2 13l5.6 11.1h-11.1zm1-5l5.6 11.1h-11.1zm2-5l5.6 11.1h-11.1zm1 9l5.6 11.1h-11.1zm1-12l5.6 11.1h-11.1zm1 3l5.6 11.1h-11.1zm1 6l5.6 11.1h-11.1zm1 2l5.6 11.1h-11.1zm3-11l5.6 11.1h-11.1zm2 8l5.6 11.1h-11.1zm1-3l5.6 11.1h-11.1zm2 0l5.6 11.1h-11.1zm2 2l5.6 11.1h-11.1zm1 1l5.6 11.1h-11.1zm2-10l5.6 11.1h-11.1zm1 2l5.6 11.1h-11.1zm1 0l5.6 11.1h-11.1zm2 5l5.6 11.1h-11.1zm1 7l5.6 11.1h-11.1zm1-9l5.6 11.1h-11.1zm1 3l5.6 11.1h-11.1zm2 0l5.6 11.1h-11.1zm3 4l5.6 11.1h-11.1zm1-1l5.6 11.1h-11.1zm1 1l5.6 11.1h-11.1zm1-10l5.6 11.1h-11.1zm1 3l5.6 11.1h-11.1zm1 0l5.6 11.1h-11.1zm3 4l5.6 11.1h-11.1zm1-1l5.6 11.1h-11.1zm1-7l5.6 11.1h-11.1zm1 4l5.6 11.1h-11.1zm1 9l5.6 11.1h-11.1zm3-16l5.6 11.1h-11.1zm1 13l5.6 11.1h-11.1zm1-8l5.6 11.1h-11.1zm2 12l5.6 11.1h-11.1zm2-9l5.6 11.1h-11.1zm1-1l5.6 11.1h-11.1zm1-1l5.6 11.1h-11.1zm1 5l5.6 11.1h-11.1zm1-1l5.6 11.1h-11.1zm1 3l5.6 11.1h-11.1zm2 4l5.6 11.1h-11.1zm1-11l5.6 11.1h-11.1zm1 1l5.6 11.1h-11.1zm1 9l5.6 11.1h-11.1zm2-12l5.6 11.1h-11.1zm1 0l5.6 11.1h-11.1zm2 14l5.6 11.1h-11.1zm1-13l5.6 11.1h-11.1zm1 3l5.6 11.1h-11.1zm1-1l5.6 11.1h-11.1zm1-5l5.6 11.1h-11.1zm1 8l5.6 11.1h-11.1zm2-1l5.6 11.1h-11.1zm1-7l5.6 11.1h-11.1zm1 6l5.6 11.1h-11.1zm1 5l5.6 11.1h-11.1zm1 2l5.6 11.1h-11.1zm1-13l5.6 11.1h-11.1zm2 14l5.6 11.1h-11.1zm1-12l5.6 11.1h-11.1zm1 7l5.6 11.1h-11.1zm1-2l5.6 11.1h-11.1zm1 4l5.6 11.1h-11.1zm1-7l5.6 11.1h-11.1zm2 4l5.6 11.1h-11.1zm1-3l5.6 11.1h-11.1zm2 2l5.6 11.1h-11.1zm1 9l5.6 11.1h-11.1zm1-14l5.6 11.1h-11.1zm1 9l5.6 11.1h-11.1zm2-6l5.6 11.1h-11.1zm2-3l5.6 11.1h-11.1zm1 11l5.6 11.1h-11.1zm1-18l5.6 11.1h-11.1zm1 5l5.6 11.1h-11.1zm2 9l5.6 11.1h-11.1z" fill="#9467bd" stroke="none"/></g></g><rect x="409.85" y="997.8" width="166.45" height="83.68" fill="none" stroke="#000" stroke-width="1.65"/><rect x="71.75" y="810.9" width="520.15" height="278.95" fill="none" stroke="#000" stroke-width="1.65"/><path d="M165.31 1089.85v6.07M260 1089.85v6.07M354.69 1089.85v6.07M449.39 1089.85v6.07M544.08 1089.85v6.07" stroke="#000" stroke-width="1.6" fill="none"/><text x="165.31" y="1117.9" font-size="20.76" text-anchor="middle">2290</text><text x="260" y="1117.9" font-size="20.76" text-anchor="middle">2300</text><text x="354.69" y="1117.9" font-size="20.76" text-anchor="middle">2310</text><text x="449.39" y="1117.9" font-size="20.76" text-anchor="middle">2320</text><text x="544.08" y="1117.9" font-size="20.76" text-anchor="middle">2330</text><path d="M71.75 1077.1h-6.07M71.75 1026.4h-6.07M71.75 975.7h-6.07M71.75 925h-6.07M71.75 874.3h-6.07M71.75 823.6h-6.07" stroke="#000" stroke-width="1.6" fill="none"/><text x="59.9" y="1085.25" font-size="20.76" text-anchor="end">0.0</text><text x="59.9" y="1034.55" font-size="20.76" text-anchor="end">0.2</text><text x="59.9" y="983.85" font-size="20.76" text-anchor="end">0.4</text><text x="59.9" y="933.15" font-size="20.76" text-anchor="end">0.6</text><text x="59.9" y="882.45" font-size="20.76" text-anchor="end">0.8</text><text x="59.9" y="831.75" font-size="20.76" text-anchor="end">1.0</text><text x="331.82" y="1144.07" font-size="20.76" text-anchor="middle">Days (BTJ)</text><text transform="translate(16.16 950.38) rotate(-90)" font-size="20.76" text-anchor="middle">Normalized Flux</text><text x="331.82" y="800.37" font-size="24.6" text-anchor="middle">Target Light Curve: 00119862111</text>
<g clip-path="url(#c15)"><path d="M679.7 977.3L679.9 977.6L680.2 978.3L680.5 979.2L680.7 980.5L681 981.9L681.2 983.6L681.5 985.4L681.8 987.4L682 989.4L682.3 991.5L682.5 993.8L682.8 996.5L683.1 999.7L683.3 1003.3L683.6 1007.3L683.8 1011.5L684.1 1016L684.4 1020.7L684.6 1025.5L684.9 1030.7L685.1 1037.6L685.4 1045.5L685.7 1054.2L685.9 1062.9L686.2 1071.2L686.4 1078.6L686.7 1084.5L687 1088.4L687.2 1089.8L687.5 1086.5L687.8 1077.8L688 1065.5L688.3 1051.5L688.5 1037.7L688.8 1025.9L689.1 1017.7L689.3 1010.3L689.6 1002.9L689.8 996.4L690.1 991.3L690.4 988.1L690.6 987.7L690.9 990.7L691.1 996.6L691.4 1004.6L691.7 1013.6L691.9 1022.9L692.2 1031.5L692.4 1039.5L692.7 1049.2L693 1059.8L693.2 1070.1L693.5 1079.2L693.7 1086.1L694 1089.6L694.3 1088.8L694.5 1083.9L694.8 1076.7L695 1069.2L695.3 1063.3L695.6 1059.7L695.8 1056.4L696.1 1053.6L696.3 1051.6L696.6 1050.8L696.9 1051.6L697.1 1053.7L697.4 1056.8L697.6 1060.3L697.9 1063.9L698.2 1067.2L698.4 1069.7L698.7 1072.2L698.9 1074.8L699.2 1077.4L699.5 1080L699.7 1082.5L700 1084.7L700.2 1086.7L700.5 1088.2L700.8 1089.3L701 1089.8L701.3 1089.7L701.5 1088.7L701.8 1087.1L702.1 1085L702.3 1082.5L702.6 1079.7L702.8 1076.9L703.1 1074L703.4 1071.1L703.6 1067.6L703.9 1063.6L704.2 1059.4L704.4 1055.2L704.7 1051.3L705 1047.7L705 1046.8L705.1 1045.9L705.2 1045L705.3 1044.1L705.4 1043.2L705.4 1042.2L705.5 1041.3L705.6 1040.4L705.7 1039.5L705.8 1038.6L705.8 1037.8L705.9 1036.9L706 1036.1L706.1 1035.2L706.2 1034.4L706.3 1033.6L706.4 1032.9L706.4 1032.2L706.5 1031.5L706.6 1030.8L706.7 1030.2L706.8 1029.6L706.9 1029.1L707 1028.6L707.1 1028.2L707.2 1027.8L707.3 1027.4L707.4 1027.1L707.4 1026.8L707.5 1026.5L707.6 1026.2L707.7 1025.9L707.8 1025.6L707.9 1025.4L708 1025.1L708.1 1024.8L708.2 1024.6L708.3 1024.3L708.4 1024L708.5 1023.7L708.6 1023.4L708.7 1023L708.8 1022.6L708.9 1022.2L709 1021.8L709.1 1021.4L709.2 1021L709.3 1020.6L709.5 1020.1L709.6 1019.7L709.7 1019.2L709.8 1018.7L709.9 1018.2L710 1017.7L710.1 1017.2L710.2 1016.7L710.3 1016.2L710.5 1015.7L710.6 1015.2L710.7 1014.6L710.8 1014.1L710.9 1013.5L711 1013L711.2 1012.4L711.3 1011.7L711.4 1011L711.5 1010.3L711.6 1009.5L711.8 1008.7L711.9 1007.9L712 1007L712.1 1006.2L712.3 1005.3L712.4 1004.5L712.5 1003.7L712.7 1002.9L712.8 1002.2L712.9 1001.5L713.1 1000.9L713.2 1000.3L713.3 999.9L713.5 999.5L713.6 999.3L713.7 999.2L713.9 999.3L714 999.6L714.2 1000.2L714.3 1001L714.5 1002.1L714.6 1003.3L714.8 1004.6L714.9 1006.1L715.1 1007.8L715.2 1009.5L715.4 1011.2L715.5 1013L715.7 1014.7L715.8 1016.4L716 1018L716.1 1019.5L716.3 1020.9L716.5 1022.3L716.6 1023.8L716.8 1025.4L717 1027L717.1 1028.6L717.3 1030.2L717.5 1031.8L717.6 1033.4L717.8 1034.9L718 1036.3L718.2 1037.6L718.3 1038.8L718.5 1039.8L718.7 1040.6L718.9 1041.3L719.1 1041.8L719.3 1042.4L719.4 1042.9L719.6 1043.4L719.8 1043.9L720 1044.3L720.2 1044.6L720.4 1044.9L720.6 1045.1L720.8 1045.2L721 1045.2L721.2 1045.2L721.4 1045.2L721.6 1045.2L721.9 1045.2L722.1 1045.2L722.3 1045.2L722.5 1045.2L722.7 1045.2L722.9 1045.4L723.2 1045.7L723.4 1046.2L723.6 1046.8L723.9 1047.6L724.1 1048.3L724.3 1049.2L724.6 1050.1L724.8 1050.9L725.1 1051.8L725.3 1052.5L725.6 1053.2L725.8 1053.7L726.1 1054.1L726.3 1054.6L726.6 1055.1L726.8 1055.6L727.1 1056L727.4 1056.5L727.6 1056.9L727.9 1057.2L728.2 1057.5L728.5 1057.7L728.8 1057.8L729.1 1057.7L729.4 1057.4L729.6 1056.9L729.9 1056.2L730.2 1055.2L730.6 1054.1L730.9 1052.9L731.2 1051.6L731.5 1050.2L731.8 1048.8L732.1 1047.4L732.5 1046.1L732.8 1044.9L733.1 1043.5L733.5 1042L733.8 1040.4L734.2 1038.6L734.5 1036.8L734.9 1035L735.2 1033.2L735.6 1031.4L736 1029.8L736.4 1028.4L736.8 1027.2L737.1 1026.4L737.5 1025.9L737.9 1025.9L738.3 1026.1L738.7 1026.6L739.2 1027.2L739.6 1028L740 1028.8L740.4 1029.7L740.9 1030.5L741.3 1031.2L741.8 1031.9L742.2 1032.6L742.7 1033.4L743.2 1034.2L743.7 1034.8L744.1 1035.3L744.6 1035.5L745.1 1035.2L745.6 1034.3L746.2 1033L746.7 1031.2L747.2 1029.1L747.8 1026.7L748.3 1024.3L748.9 1021.4L749.4 1017.8L750 1013.5L750.6 1008.6L751.2 1003.1L751.8 997.1L752.4 989.9L753.1 981.4L753.7 971.9L754.4 961.6L755 950.7L755.7 939.8L756.4 929.1L757.1 918.9L757.8 908.5L758.5 897.9L759.2 887.3L760 876.6L760.8 866.3L761.5 856.5L762.3 847.3L763.1 838.8L764 830.7L764.8 822.6L765.7 814.3L766.6 805.6L767.4 796.8L768.4 787.9L769.3 778.8L770.2 769.6L771.2 760L772.2 750L773.2 739.4L774.3 728.3L775.3 727.2L776.4 727.2L777.5 727.2L778.6 727.2L779.8 727.2L781 727.2L782.2 727.2L783.4 727.2L784.7 727.2L786 727.2L787.4 727.2L788.7 727.2L790.1 727.2L791.6 727.2L793.1 727.2L794.6 727.2L796.2 727.2L797.8 727.2L799.4 727.2L801.1 727.2L802.9 727.2L804.7 727.2L806.5 727.2L808.4 727.2L810.4 727.2L812.4 727.2L814.5 727.2L816.6 727.2L818.9 727.2L821.2 727.2L823.5 727.2L826 727.2L828.5 727.2L831.1 727.2L833.9 727.2L836.7 727.2L839.6 727.2L842.6 727.2L845.8 727.2L849 727.2L852.5 727.2L856 727.2L859.7 727.2L863.5 727.2L867.5 727.2L871.7 727.2L876.1 727.2L880.7 727.2L885.5 727.2L890.5 727.2L895.8 727.2L901.4 727.2L907.3 727.2L913.4 727.2L919.9 727.2L926.8 727.2L934.1 727.2L941.9 727.2L950.1 727.2L958.8 727.2L968.1 727.2L978.1 727.2L988.8 727.2L1000.3 727.2L1012.6 727.2L1026 727.2" fill="none" stroke="#9467bd" stroke-width="3.8" stroke-linejoin="round"/><path d="M678.9 1089.8L680.3 1088.5L681 1087.8L681.5 981.1L681.6 981.1L682 1087.8L682.7 1088.5L684.1 1088.7L685 1088.5L685.8 1088.2L686.7 1088.5L687.6 1089.3L688.4 1089.3L689.3 1089.2L690.2 1088.7L691 1089.7L691.9 1088.7L692.8 1088.7L693.7 1089.1L694.5 1089.3L695.4 1089.3L696.3 1089L697.1 1089.3L698 1089L698.9 1088.9L699.7 1088.7L700.6 1088L701.5 1088.3L702.3 1088.5L703.2 1088.7L704.1 1086.8L704.9 1088.5L705.8 1087.1L706.7 1088.7L707.5 1087.8L708.4 1088.7L709.3 1089.5L710.1 1089.5L711 1088.7L711.9 1088.7L712.7 1087.9L713.6 1088.7L714.5 1088.4L715.3 1088.5L716.2 1088.5L717.1 1089L717.9 1088.5L719.3 1084.3L719.9 1089.8L720.6 1062L720.9 1088.2L721.2 1048.7L721.8 1086.4L722.3 1073.1L722.8 1089L723.3 1075.9L723.7 1088.3L724 1063.3L724.5 1089.8L725.1 1081.5L725.6 1089.2L726.1 1087.1L727.2 1088.8L728.4 1088.5L729.2 1088.9L730.1 1087.6L731 1088.5L731.8 1087.8L732.7 1088.3L733.6 1088.1L734.4 1089.4L735.3 1088.6L736.2 1088.7L737 1088.4L737.9 1087.2L738.8 1088.3L739.6 1087.8L740.5 1087.5L741.4 1089.2L742.2 1088.5L743.1 1088.5L744 1088.6L744.8 1088.9L745.7 1086.4L746.6 1087.3L747.5 1087.9L748.3 1086.3L749.2 1087.9L750.1 1088.5L750.9 1087.7L751.8 1087.2L752.7 1086.6L753.5 1087.1L754.4 1087.8L755.3 1084.3L755.7 1089.1L756.1 1075.9L756.6 1089.2L757 1081.5L757.4 1088.8L757.9 1068.9L758.3 1089.4L758.7 1073.1L759.3 1085L759.8 1048L760.1 1087.2L760.4 1031.3L760.7 1081.4L761 1048L761.3 1088.3L761.7 1073.1L762.1 1085.5L762.6 1064.7L762.9 1087.6L763.2 1078.7L763.6 1089.4L763.9 1068.9L764.4 1084.5L764.8 1059.2L765.2 1081.2L765.7 1055L766 1083.8L766.4 1067.5L766.7 1086L767.1 1053.6L767.4 1088.6L767.8 1062L768 1088.2L768.3 1050.8L768.7 1079L769.1 1048L769.5 1082.9L769.8 1020.1L770.2 1086.1L770.5 981.1L770.8 1071.4L771.1 1020.1L771.4 1081.8L771.7 1048L772.2 1082.7L772.6 1031.3L773 1085.9L773.3 1055L773.7 1087.8L774 1073.1L774.6 1088.6L775.2 1073.1L775.8 1089.8L776.4 1082.9L777.1 1088L777.8 1080.1L778.3 1088.7L778.7 1081.5L779.6 1089.2L780.4 1085.7L781.7 1089.5L783 1086.4L783.9 1085L784.8 1088.9L785.6 1087.3L786.5 1087.1L787.4 1089.1L788.2 1088.8L789.1 1085.8L790 1087.2L790.8 1088.1L791.7 1088.2L792.6 1088L793.4 1086.9L794.3 1088.4L795.2 1087.6L796 1087.2L796.9 1088.2L797.8 1087.6L798.6 1087.8L799.5 1085.2L800.4 1085.7L801.8 1083.6L803.2 1087.1L804 1085.7L804.8 1088.8L805.6 1088.2L806.5 1086.6L807.3 1089.3L808.2 1086.6L809.1 1086.1L809.9 1088.6L810.8 1087.1L811.7 1087.6L812.5 1086.6L813.4 1089.4L814.3 1088.5L815.1 1088L816 1087.5L816.9 1088.1L817.7 1087.4L818.6 1088.7L819.5 1088.8L820.3 1088.2L821.2 1087.8L822.1 1088.8L822.9 1088.3L823.8 1086.6L824.7 1087.8L825.5 1088.5L826.4 1088.8L827.3 1087.2L828.2 1088.5L829 1088.5L829.9 1087.1L830.8 1088.2L831.6 1088.1L832.5 1087.1L833.4 1087.4L834.2 1087.8L835.1 1088L835.9 1088.2L836.7 1087.1L837.5 1088.4L838.3 1087.2L839 1089.3L839.8 1088.5L840.6 1088.4L841.4 1087.5L842.2 1089L843 1088L843.8 1088.7L844.6 1088.3L845.4 1088.2L846.1 1088.4L846.9 1087.7L847.7 1088.9L848.5 1088.7L849.3 1089.1L850.1 1089.4L850.9 1089.1L851.7 1087.5L852.5 1088.5L853.3 1087.5L854.2 1089.2L855.1 1087.8L855.9 1088.1L856.8 1087.7L857.7 1087.3L858.5 1088.4L859.4 1087.8L860.3 1085.9L861.1 1087.5L862 1086.8L862.9 1086.6L863.7 1088.4L864.6 1088.9L865.5 1087.2L866.3 1086.8L867.2 1085.8L868.1 1086.2L868.9 1087L869.8 1088.2L870.7 1089L871.5 1086.3L872.4 1086.4L873.3 1085.9L874.1 1087L875 1087.1L875.9 1085.4L876.7 1089.1L877.6 1089.2L878.5 1089.3L879.4 1088.6L880.2 1088.2L881.1 1088.5L882 1088.5L882.8 1086.7L883.7 1088.9L884.6 1086.4L885.4 1086.2L886.3 1088.5L887.2 1086.9L888 1089.3L888.9 1088.5L889.7 1088.8L890.5 1087.3L891.3 1088.2L892.1 1087.5L892.8 1087.9L893.6 1088L894.4 1089L895.2 1088L896 1089.3L896.8 1087.3L897.6 1088.2L898.4 1087L899.3 1087.5L900.2 1089.4L901 1088.9L901.9 1089L902.8 1089.4L903.6 1088.7L904.5 1089L905.3 1088.6L906.1 1089.2L906.9 1088.5L907.7 1088.6L908.5 1089.5L909.2 1088.6L910 1088.5L910.8 1089.4L911.6 1088.9L912.4 1088.8L913.2 1088.8L914 1089.5L914.8 1088.8L915.6 1088.8L916.3 1088.5L917.1 1088.6L917.9 1089.2L918.7 1088.7L919.5 1088.5L920.3 1088.4L921.1 1089.4L921.9 1089L922.7 1089.6L923.4 1088.7L924.2 1089.3L925 1088.8L925.8 1088.2L926.6 1089L927.4 1089.2L928.2 1088.9L929 1088.5L929.8 1089.4L930.5 1089L931.3 1089.4L932.1 1088.4L932.9 1088.1L933.7 1088.9L934.5 1088.9L935.3 1088.6L936.1 1089.1L936.9 1089.1L937.6 1088.9L938.4 1088.6L939.2 1088.6L940 1089.4L940.8 1088.2L941.6 1088.6L942.4 1089.1L943.2 1089.5L944 1088.5L944.7 1089.4L945.5 1089.5L946.3 1089.5L947.1 1089.6L947.9 1089.2L948.7 1088.6L949.5 1089.3L950.3 1089.3L951.1 1088.6L951.8 1088.9L952.6 1089.4L953.4 1089.1L954.2 1088.4L955 1089.1L955.8 1088.6L956.6 1089.5L957.4 1088.5L958.2 1088.4L958.9 1088.3L959.7 1088.5L960.5 1089L961.3 1089.5L962.1 1088.7L962.9 1088.3L963.7 1089.3L964.5 1089.1L965.3 1088.7L966.1 1088.6L966.9 1088.1L967.7 1087.8L968.5 1089.3L969.3 1089.1L970.1 1087.8L970.9 1088.1L971.7 1087.9L972.5 1087.2L973.4 1087.2L974.2 1087.4L975 1087.5L975.8 1088.4L976.6 1087.8L977.4 1088.2L978.3 1089L979.1 1087.8L980 1087.9L980.9 1088.2L981.7 1088.8L982.6 1089L983.5 1089.1L984.3 1089.2L985.2 1089.6L986 1088.7L986.8 1089.1L987.6 1089.2L988.5 1089.1L989.3 1088.9L990.1 1089.3L990.9 1088.7L991.7 1088.6L992.6 1089.2L993.4 1089.5L994.2 1088.8L995 1088.6L995.9 1089.5L996.7 1088.9L997.5 1088.8L998.3 1088.6L999.1 1089.5L1000 1089.2L1000.8 1089.6L1001.6 1088.4L1002.4 1089.5L1003.2 1089.4L1004 1088.7L1004.8 1088.9L1005.6 1088.3L1006.4 1089.2L1007.2 1087.8L1008 1089.1L1008.8 1087.9L1009.6 1089.4L1010.4 1088.5L1011.2 1088.2L1012.1 1089.3L1013 1088.2L1013.9 1088L1014.7 1087.1L1015.6 1086.4L1016.5 1087.8L1017.3 1089.2L1018.2 1087.2L1019.1 1088.7L1019.9 1088L1020.8 1088.1L1021.7 1089.2L1022.5 1089L1023.4 1089.3L1024.3 1089.4L1025.1 1089.6L1026 1089" fill="none" stroke="#000" stroke-width="3.9" stroke-linejoin="round"/></g><rect x="836.06" y="820.01" width="181.24" height="30.78" rx="3.4" fill="#fff" fill-opacity="0.8" stroke="#ccc" stroke-opacity="0.8" stroke-width="1.7"/><path d="M843.24 833.88h33.82" stroke="#000" stroke-width="3.6999999999999997" stroke-linecap="square" fill="none"/><text x="890.83" y="839.86" font-size="17.08" text-anchor="start">Luhman 16AB</text><rect x="678.9" y="810.9" width="347.1" height="278.95" fill="none" stroke="#000" stroke-width="1.65"/><path d="M678.9 1089.85v6.07M765.67 1089.85v6.07M852.45 1089.85v6.07M939.22 1089.85v6.07M1026 1089.85v6.07" stroke="#000" stroke-width="1.6" fill="none"/><text x="678.9" y="1117.9" font-size="20.76" text-anchor="middle">0</text><text x="765.67" y="1117.9" font-size="20.76" text-anchor="middle">5</text><text x="852.45" y="1117.9" font-size="20.76" text-anchor="middle">10</text><text x="939.22" y="1117.9" font-size="20.76" text-anchor="middle">15</text><text x="1026" y="1117.9" font-size="20.76" text-anchor="middle">20</text><path d="M678.9 1089.85h-6.07M678.9 1020.11h-6.07M678.9 950.38h-6.07M678.9 880.64h-6.07M678.9 810.9h-6.07" stroke="#000" stroke-width="1.6" fill="none"/><text x="667.05" y="1098" font-size="20.76" text-anchor="end">0.00</text><text x="667.05" y="1028.26" font-size="20.76" text-anchor="end">0.05</text><text x="667.05" y="958.53" font-size="20.76" text-anchor="end">0.10</text><text x="667.05" y="888.79" font-size="20.76" text-anchor="end">0.15</text><text x="667.05" y="819.05" font-size="20.76" text-anchor="end">0.20</text><text x="852.45" y="1144.07" font-size="20.76" text-anchor="middle">Period (hours)</text><text transform="translate(609.85 950.38) rotate(-90)" font-size="20.76" text-anchor="middle">Power</text><text x="852.45" y="800.37" font-size="24.6" text-anchor="middle">Separation: 36.0 arcsec</text>
<g clip-path="url(#c16)"><path d="M1201.1 838.5L1202.6 840.2L1204 843L1205.5 846.1L1206.9 849.5L1208.4 853.2L1209.8 857.1L1211.3 861.2L1212.7 865.9L1214.2 871.3L1215.6 877.2L1217.1 883.3L1218.5 889.6L1220 895.8L1221.4 901.9L1222.9 907.5L1224.3 912.8L1225.8 918L1227.2 923.1L1228.6 928.1L1230.1 933L1231.5 937.9L1233 942.6L1234.4 947.3L1235.9 951.8L1237.3 956.3L1238.8 960.7L1240.2 965.1L1241.7 969.4L1243.1 973.7L1244.6 977.9L1246 982L1247.5 986.1L1248.9 990.2L1250.4 994.6L1251.8 999L1253.3 1003.4L1254.7 1007.7L1256.2 1011.6L1257.6 1015L1259.1 1017.9L1260.5 1020.1L1261.9 1022L1263.4 1023.7L1264.8 1025.1L1266.3 1026.4L1267.7 1027.4L1269.2 1028.2L1270.6 1028.8L1272.1 1029L1273.5 1028.9L1275 1028.5L1276.4 1027.9L1277.9 1027.2L1279.3 1026.5L1280.8 1025.8L1282.2 1025.4L1283.7 1025.3L1285.1 1025.7L1286.6 1026.6L1288 1027.9L1289.5 1029.6L1290.9 1031.6L1292.3 1033.7L1293.8 1035.8L1295.2 1037.9L1296.7 1039.9L1298.1 1041.8L1299.6 1044.1L1299.7 1044.2L1299.7 1067.8L1299.6 1067.7L1298.1 1065.4L1296.7 1063.5L1295.2 1062L1293.8 1060.8L1292.3 1059.8L1290.9 1058.9L1289.5 1058.2L1288 1057.7L1286.6 1057.2L1285.1 1056.7L1283.7 1056.2L1282.2 1055.4L1280.8 1054.5L1279.3 1053.4L1277.9 1052.3L1276.4 1051.2L1275 1050L1273.5 1048.9L1272.1 1048L1270.6 1046.8L1269.2 1045.4L1267.7 1043.8L1266.3 1041.9L1264.8 1040L1263.4 1037.9L1261.9 1035.7L1260.5 1033.5L1259.1 1031L1257.6 1027.9L1256.2 1024.1L1254.7 1020L1253.3 1015.6L1251.8 1011L1250.4 1006.5L1248.9 1002.1L1247.5 997.9L1246 993.9L1244.6 990L1243.1 986L1241.7 982L1240.2 977.9L1238.8 973.8L1237.3 969.5L1235.9 965.1L1234.4 960.6L1233 955.9L1231.5 951.1L1230.1 946.3L1228.6 941.4L1227.2 936.3L1225.8 931.2L1224.3 926.1L1222.9 920.8L1221.4 915.2L1220 909.3L1218.5 903.2L1217.1 897.1L1215.6 891.2L1214.2 885.6L1212.7 880.4L1211.3 875.9L1209.8 872L1208.4 868.3L1206.9 864.8L1205.5 861.7L1204 858.8L1202.6 856.3L1201.1 854.7ZM1455.9 828.3L1457.4 828L1458.8 827.7L1460.3 827.4L1461.7 827.3L1463.2 827.1L1464.6 827L1466.1 826.9L1467.5 826.9L1469 826.8L1470.4 826.9L1471.9 827L1473.3 827.1L1474.8 827.4L1476.2 827.6L1477.7 827.9L1479.1 828.3L1480.6 828.6L1482 829L1483.4 829.4L1484.9 829.9L1486.3 830.4L1487.8 831L1489.2 831.6L1490.7 832.3L1492.1 832.9L1493.6 833.6L1495 834.3L1496.5 835.1L1497.9 835.9L1499.4 836.7L1500.8 837.6L1502.3 838.5L1503.7 839.5L1505.2 840.4L1506.6 841.4L1508.1 842.5L1509.5 843.6L1511 844.7L1512.4 845.9L1513.9 847.1L1515.3 848.3L1516.7 849.5L1518.2 850.7L1519.6 851.9L1521.1 853L1522.5 854.2L1524 855.4L1525.4 856.5L1526.9 857.7L1528.3 858.8L1529.8 860L1531.2 861.2L1532.7 862.4L1534.1 863.8L1535.6 865.3L1537 866.7L1538.5 868L1539.9 869.1L1541.4 870L1542.8 870.6L1544.3 871L1545.7 871.4L1547.1 871.7L1547.3 871.7L1547.3 881.8L1547.1 881.8L1545.7 881.9L1544.3 881.7L1542.8 881.4L1541.4 880.8L1539.9 879.9L1538.5 878.8L1537 877.5L1535.6 876.1L1534.1 874.6L1532.7 873.2L1531.2 872L1529.8 870.8L1528.3 869.6L1526.9 868.5L1525.4 867.3L1524 866.2L1522.5 865L1521.1 863.8L1519.6 862.7L1518.2 861.5L1516.7 860.3L1515.3 859.1L1513.9 857.9L1512.4 856.7L1511 855.5L1509.5 854.4L1508.1 853.3L1506.6 852.2L1505.2 851.2L1503.7 850.3L1502.3 849.3L1500.8 848.4L1499.4 847.5L1497.9 846.7L1496.5 845.9L1495 845.1L1493.6 844.4L1492.1 843.7L1490.7 843.1L1489.2 842.4L1487.8 841.8L1486.3 841.2L1484.9 840.7L1483.4 840.2L1482 839.8L1480.6 839.4L1479.1 839L1477.7 838.7L1476.2 838.3L1474.8 838L1473.3 837.7L1471.9 837.5L1470.4 837.4L1469 837.3L1467.5 837.4L1466.1 837.4L1464.6 837.6L1463.2 837.7L1461.7 837.9L1460.3 838.2L1458.8 838.5L1457.4 838.9L1455.9 839.3ZM1585.2 860.7L1586.7 860.5L1588.1 860.4L1589.6 860.3L1591 860.2L1592.5 860.2L1593.9 860.1L1595.4 860.1L1596.8 860L1598.3 859.8L1599.7 859.7L1601.2 859.4L1602.6 859.2L1604.1 858.8L1605.5 858.4L1607 857.7L1608.4 856.7L1609.9 855.5L1611.3 854.1L1612.8 852.7L1614.2 851.3L1615.7 850L1617.1 848.8L1618.5 847.7L1620 846.6L1621.4 845.5L1622.9 844.5L1624.3 843.5L1625.8 842.6L1627.2 841.8L1628.7 841.2L1630.1 840.7L1631.6 840.3L1633 839.9L1634.5 839.5L1635.9 839.2L1637.4 838.9L1638.8 838.7L1640.3 838.5L1641.7 838.5L1643.2 839L1644.6 840.2L1646.1 841.6L1647.5 842.8L1649 843.4L1650.4 843.4L1651.9 843.2L1653.3 843L1654.8 842.8L1656.2 842.5L1657.7 842.1L1659.1 841.7L1660.6 841.3L1662 840.8L1663.4 840.2L1664.9 839.6L1666.3 839L1667.8 838.3L1669.2 837.7L1670.7 837L1672.1 836.3L1673.6 835.5L1675 834.8L1675.7 834.6L1675.7 846.4L1675 846.4L1673.6 846.7L1672.1 847.1L1670.7 847.6L1669.2 848.1L1667.8 848.7L1666.3 849.3L1664.9 850L1663.4 850.9L1662 851.9L1660.6 853L1659.1 854L1657.7 855L1656.2 855.9L1654.8 856.8L1653.3 857.9L1651.9 858.8L1650.4 859.4L1649 859.7L1647.5 858.2L1646.1 855.2L1644.6 851.6L1643.2 848.6L1641.7 847.4L1640.3 847.4L1638.8 847.5L1637.4 847.7L1635.9 848L1634.5 848.4L1633 848.7L1631.6 849.1L1630.1 849.6L1628.7 850.1L1627.2 850.8L1625.8 851.7L1624.3 852.9L1622.9 854.1L1621.4 855.4L1620 856.7L1618.5 858L1617.1 859.2L1615.7 860.3L1614.2 861.7L1612.8 863.1L1611.3 864.5L1609.9 865.8L1608.4 867.1L1607 868.1L1605.5 868.8L1604.1 869.2L1602.6 869.6L1601.2 869.9L1599.7 870.3L1598.3 870.6L1596.8 870.8L1595.4 871.1L1593.9 871.2L1592.5 871.2L1591 871.2L1589.6 871.1L1588.1 870.9L1586.7 870.6L1585.2 870.3Z" fill="#8c564b"/><g transform="scale(.5)"><path d="M2402 1694h0m0 5h0m1-23h0m0 7h0m0 8h0m0 8h0m1-20h0m0 6h0m0 18h0m1-1h0m1-20h0m0 2h0m0 27h0m1-65h0m1 66h0m0 5h0m1-28h0m0 2h0m1 25h0m0 6h0m1-34h0m0 33h0m1 1h0m0 2h0m1-21h0m0 22h0m0 2h0m0 6h0m1-42h0m0 6h0m0 42h0m1-39h0m0 27h0m1-23h0m0 31h0m1-38h0m0 11h0m0 23h0m1 9h0m1-36h0m0 2h0m0 13h0m0 19h0m1-23h0m0 6h0m0 24h0m1-1h0m1-36h0m0 8h0m0 31h0m0 12h0m1-38h0m0 31h0m1-26h0m0 28h0m0 1h0m1-26h0m0 32h0m1-25h0m0 7h0m0 2h0m1-10h0m0 35h0m1-30h0m0 24h0m0 13h0m1-28h0m0 3h0m0 3h0m0 12h0m0 10h0m1-25h0m0 15h0m0 13h0m1-16h0m1-8h0m0 8h0m0 5h0m0 19h0m1-25h0m0 5h0m0 3h0m0 14h0m1-4h0m0 4h0m0 11h0m1-28h0m0 5h0m0 14h0m0 12h0m1-21h0m0 1h0m0 12h0m1 2h0m0 17h0m0 3h0m1-28h0m0 20h0m0 3h0m1-33h0m0 13h0m0 23h0m1-12h0m0 2h0m0 9h0m0 5h0m1-20h0m0 12h0m1-3h0m0 5h0m0 5h0m0 7h0m0 2h0m0 6h0m1-29h0m0 12h0m0 14h0m0 8h0m2-12h0m0 8h0m0 6h0m0 2h0m0 7h0m1-33h0m0 24h0m1-14h0m0 3h0m0 13h0m0 3h0m1-20h0m0 9h0m0 1h0m1-13h0m0 14h0m0 5h0m1-11h0m0 13h0m0 10h0m0 3h0m0 5h0m1 3h0m0 1h0m1-21h0m0 3h0m1 24h0m1-28h0m0 31h0m1-32h0m0 7h0m0 1h0m0 3h0m1 5h0m0 18h0m0 1h0m1-25h0m0 31h0m0 4h0m1-17h0m0 12h0m1-22h0m0 2h0m0 7h0m0 26h0m1-17h0m0 7h0m0 18h0m1-25h0m0 22h0m1-27h0m0 4h0m0 17h0m1-12h0m0 17h0m0 4h0m1-4h0m0 13h0m1-9h0m0 12h0m1-30h0m0 20h0m1-15h0m0 5h0m0 31h0m1-28h0m0 26h0m0 2h0m0 2h0m0 1h0m1-8h0m0 2h0m1-22h0m0 5h0m0 6h0m1-2h0m0 21h0m1-16h0m0 12h0m0 5h0m0 2h0m1-20h0m0 4h0m0 25h0m0 6h0m1-12h0m0 2h0m1-22h0m0 25h0m1-20h0m2 9h0m0 17h0m1-20h0m0 8h0m0 3h0m0 7h0m0 8h0m1-20h0m0 25h0m0 1h0m1-15h0m1-3h0m0 6h0m0 11h0m1-17h0m0 19h0m0 2h0m1 8h0m1-24h0m0 2h0m0 19h0m0 5h0m1-20h0m0 3h0m0 11h0m1-9h0m0 5h0m0 15h0m0 3h0m1-27h0m0 9h0m0 20h0m1-22h0m0 4h0m3 21h0m0 5h0m0 6h0m1-27h0m0 21h0m1-17h0m0 5h0m0 21h0m1-32h0m0 7h0m0 6h0m0 19h0m0 2h0m1-23h0m1 8h0m0 18h0m1-22h0m0 3h0m0 9h0m1-10h0m0 25h0m1-16h0m0 1h0m0 18h0m1-16h0m0 5h0m0 9h0m0 2h0m1 3h0m0 6h0m1 3h0m1-17h0m0 12h0m0 6h0m1-24h0m0 3h0m0 7h0m0 15h0m0 6h0m1-30h0m0 32h0m2 3h0m0 9h0m1-23h0m0 28h0m1-39h0m0 25h0m0 12h0m1-32h0m0 2h0m0 24h0m1-22h0m0 3h0m0 22h0m1-15h0m1 26h0m0 5h0m1-95h0m0 64h0m1 43h0m1-42h0m0 10h0m0 23h0m1-31h0m1 30h0m1-72h0m0 49h0m0 24h0m1-23h0m0 2h0m1-5h0m0 8h0m0 24h0m0 7h0m1-28h0m0 31h0m1-9h0m1-22h0m0 26h0m2-29h0m1 3h0m0 4h0m0 29h0m2-33h0m1 5h0m0 39h0m1-42h0m0 4h0m0 26h0m0 4h0m1-2h0m0 10h0m1-5h0m1-36h0m2 5h0m0 30h0m0 13h0m1-41h0m1-3h0m1 38h0m2-33h0m0 40h0m1-96h0m1 102h0m0 5h0m1-57h0m0 44h0m1-49h0m2 5h0m2 47h0m2 8h0m4-55h0m1 50h0m0 10h0m2-59h0m1-7h0m1 71h0m3-68h0m0 3h0m1 67h0m2-96h0m0 19h0m0 80h0m1-76h0m0 70h0m1-67h0m1 63h0m1-71h0m1 73h0m2-65h0m1-3h0m0 6h0m0 5h0m0 66h0m1 4h0m1-14h0m1-61h0m0 6h0m1 5h0m0 56h0m0 9h0m1-75h0m1 0h0m0 73h0m1-58h0m0 52h0m1 7h0m1-7h0m2 8h0m0 9h0m1-78h0m0 64h0m2-51h0m0 1h0m0 55h0m3-2h0m0 27h0m1-84h0m0 58h0m1-54h0m0 63h0m1-56h0m1 3h0m1-12h0m0 20h0m0 23h0m1-16h0m0 6h0m0 13h0m0 3h0m0 6h0m1-34h0m0 11h0m0 2h0m0 2h0m0 2h0m0 23h0m53-210h0m0 10h0m1-6h0m0 18h0m0 4h0m1-44h0m0 3h0m0 7h0m0 5h0m0 17h0m0 2h0m1-25h0m0 15h0m0 15h0m1-9h0m0 12h0m1-45h0m0 39h0m1 4h0m0 3h0m1-29h0m0 6h0m0 2h0m1-20h0m0 6h0m1-22h0m0 32h0m0 10h0m0 7h0m1-40h0m0 2h0m0 23h0m0 6h0m0 6h0m1-42h0m0 67h0m1-73h0m0 6h0m0 10h0m0 9h0m0 42h0m0 7h0m1-83h0m0 3h0m0 26h0m0 18h0m0 1h0m0 18h0m1-30h0m0 2h0m0 1h0m0 4h0m0 4h0m0 24h0m1-61h0m0 9h0m0 28h0m0 29h0m0 3h0m1-46h0m0 22h0m0 4h0m1-52h0m0 7h0m0 16h0m0 38h0m1-69h0m0 15h0m0 7h0m1-27h0m0 21h0m0 9h0m0 5h0m0 8h0m0 4h0m1-60h0m0 30h0m0 25h0m0 13h0m0 2h0m0 9h0m0 12h0m1-75h0m0 6h0m0 4h0m0 49h0m0 21h0m0 1h0m1-91h0m0 3h0m0 22h0m0 21h0m0 2h0m0 33h0m1-45h0m0 21h0m0 14h0m1-72h0m0 11h0m0 22h0m0 2h0m0 46h0m1-25h0m1-39h0m0 7h0m0 16h0m0 7h0m0 18h0m0 13h0m1-79h0m0 30h0m0 13h0m1-41h0m0 7h0m0 31h0m0 20h0m0 8h0m1-80h0m0 1h0m0 6h0m0 14h0m0 24h0m0 21h0m1-66h0m0 25h0m0 16h0m0 50h0m1-101h0m0 7h0m0 5h0m0 4h0m0 14h0m0 3h0m0 21h0m0 15h0m0 25h0m0 5h0m0 2h0m1-94h0m0 13h0m0 20h0m0 4h0m0 42h0m1-89h0m0 5h0m0 16h0m0 8h0m0 26h0m0 29h0m1-68h0m0 9h0m0 2h0m0 33h0m1-59h0m0 7h0m0 60h0m0 13h0m0 5h0m0 15h0m1-88h0m0 29h0m0 36h0m0 3h0m0 15h0m0 5h0m1-100h0m0 9h0m0 24h0m0 1h0m0 14h0m1-53h0m0 8h0m0 10h0m0 17h0m0 12h0m0 11h0m0 20h0m0 15h0m1-66h0m0 22h0m0 6h0m0 15h0m1-80h0m0 3h0m0 10h0m0 20h0m0 11h0m0 6h0m0 1h0m0 53h0m1-104h0m0 9h0m0 14h0m0 10h0m0 7h0m0 25h0m0 22h0m1-85h0m0 38h0m1-39h0m0 24h0m0 23h0m0 3h0m0 26h0m0 5h0m0 13h0m1-97h0m0 9h0m0 11h0m0 13h0m0 10h0m0 17h0m0 34h0m1-80h0m0 22h0m0 28h0m0 17h0m0 16h0m1-108h0m0 8h0m0 10h0m0 16h0m0 2h0m0 16h0m0 57h0m1-114h0m0 13h0m0 6h0m0 34h0m1-39h0m0 33h0m0 1h0m0 9h0m1-31h0m0 8h0m0 24h0m0 1h0m0 28h0m0 22h0m1-101h0m0 17h0m0 43h0m0 25h0m1-81h0m0 22h0m0 4h0m0 45h0m0 11h0m1-94h0m0 6h0m0 33h0m0 21h0m0 2h0m0 21h0m0 32h0m1-86h0m0 16h0m0 4h0m0 3h0m0 19h0m0 42h0m0 6h0m1-117h0m0 24h0m0 12h0m0 3h0m0 6h0m0 34h0m1-86h0m0 16h0m0 4h0m0 6h0m0 96h0m1-124h0m0 13h0m0 5h0m0 3h0m0 42h0m0 31h0m0 24h0m1-121h0m0 13h0m0 3h0m0 19h0m0 8h0m0 28h0m1-20h0m0 2h0m0 57h0m0 2h0m1-122h0m0 17h0m0 15h0m0 8h0m0 12h0m0 15h0m0 66h0m1-119h0m0 8h0m0 17h0m0 65h0m0 27h0m1-123h0m0 22h0m0 7h0m0 99h0m1-124h0m0 5h0m0 32h0m0 74h0m1-112h0m0 48h0m0 17h0m0 13h0m0 40h0m1-133h0m0 32h0m0 11h0m0 5h0m0 42h0m1-32h0m0 1h0m0 13h0m0 3h0m0 2h0m0 4h0m0 26h0m0 7h0m0 12h0m1-121h0m0 8h0m0 5h0m0 7h0m0 6h0m0 100h0m1-116h0m0 21h0m0 28h0m0 9h0m0 10h0m0 3h0m0 8h0m0 7h0m0 21h0m0 7h0m0 6h0m1-132h0m0 18h0m0 19h0m0 7h0m0 4h0m1-51h0m1-1h0m0 21h0m0 4h0m0 22h0m0 62h0m1-99h0m0 18h0m0 7h0m0 7h0m0 4h0m0 12h0m0 68h0m1-115h0m0 5h0m0 34h0m0 7h0m0 14h0m1-76h0m0 6h0m0 31h0m0 57h0m0 16h0m0 7h0m1-122h0m0 23h0m0 15h0m0 38h0m1-59h0m0 11h0m0 19h0m0 11h0m0 5h0m0 10h0m0 30h0m0 1h0m1-97h0m0 7h0m0 8h0m0 31h0m0 4h0m0 38h0m0 31h0m1-142h0m0 51h0m0 10h0m0 9h0m0 65h0m0 21h0m1-144h0m0 49h0m0 5h0m1-56h0m0 6h0m0 23h0m0 14h0m1-34h0m1-27h0m0 2h0m0 50h0m0 14h0m1-51h0m0 19h0m0 7h0m0 8h0m1-27h0m0 3h0m0 6h0m0 21h0m0 2h0m0 9h0m1-59h0m0 12h0m0 34h0m0 9h0m0 2h0m0 7h0m1-60h0m0 28h0m1-32h0m0 10h0m0 8h0m0 10h0m0 6h0m1-9h0m0 15h0m0 14h0m1-67h0m0 5h0m0 28h0m0 14h0m0 11h0m0 5h0m1-51h0m0 4h0m0 1h0m0 19h0m0 14h0m0 21h0m1-71h0m0 6h0m0 2h0m0 32h0m0 3h0m0 12h0m1-59h0m0 12h0m0 59h0m1-47h0m0 7h0m0 4h0m0 16h0m0 32h0m1-77h0m0 31h0m0 3h0m0 10h0m0 23h0m0 13h0m1-76h0m0 2h0m0 15h0m0 11h0m1-18h0m0 27h0m0 28h0m1-61h0m0 5h0m0 34h0m0 4h0m0 9h0m0 5h0m1-70h0m0 14h0m0 15h0m0 2h0m0 20h0m1-44h0m0 2h0m0 46h0m0 3h0m0 3h0m0 18h0m1-107h0m0 49h0m0 1h0m0 63h0m1-89h0m0 15h0m0 3h0m0 19h0m0 7h0m0 19h0m1-71h0m0 66h0m0 2h0m0 23h0m0 2h0m1-78h0m0 20h0m0 14h0m0 5h0m0 12h0m0 17h0m1-80h0m0 18h0m0 11h0m0 10h0m0 16h0m0 20h0m1-73h0m0 40h0m1-26h0m0 33h0m0 8h0m1-57h0m0 20h0m0 4h0m0 33h0m0 6h0m0 19h0m1-74h0m0 3h0m0 21h0m0 38h0m1 0h0m1-62h0m0 20h0m0 5h0m0 12h0m1-24h0m0 17h0m0 14h0m0 1h0m1-53h0m0 6h0m0 9h0m0 2h0m0 1h0m0 52h0m1-86h0m0 17h0m0 11h0m0 18h0m1-20h0m0 18h0m0 18h0m0 6h0m0 14h0m0 10h0m1-61h0m0 43h0m0 13h0m1-46h0m0 14h0m0 14h0m0 24h0m1-41h0m0 12h0m0 13h0m0 2h0m0 23h0m1-94h0m0 16h0m0 13h0m0 10h0m0 37h0m1-44h0m0 18h0m0 25h0m0 15h0m1-96h0m0 19h0m0 3h0m0 7h0m0 44h0m0 33h0m1-97h0m0 15h0m0 28h0m1-35h0m0 25h0m0 47h0m1-34h0m0 10h0m0 5h0m0 6h0m0 7h0m1-73h0m0 30h0m0 11h0m1-16h0m0 10h0m0 25h0m0 8h0m0 8h0m0 7h0m0 95h0m1-180h0m0 19h0m0 1h0m0 28h0m0 20h0m0 4h0m1-75h0m0 9h0m0 6h0m0 42h0m0 37h0m1-99h0m0 37h0m0 15h0m0 8h0m0 41h0m1-96h0m0 14h0m0 56h0m0 3h0m0 8h0m0 6h0m1-88h0m0 20h0m0 6h0m0 35h0m0 111h0m1-163h0m0 22h0m0 9h0m0 28h0m1-30h0m0 4h0m0 10h0m0 12h0m0 8h0m0 27h0m1-76h0m0 35h0m0 7h0m0 15h0m0 4h0m1-64h0m0 28h0m0 14h0m0 16h0m0 11h0m1-59h0m0 1h0m0 21h0m0 13h0m1-54h0m0 12h0m0 18h0m0 54h0m1-103h0m0 42h0m0 8h0m0 12h0m0 15h0m0 14h0m1-38h0m0 16h0m1-27h0m0 33h0m0 5h0m0 7h0m0 10h0m1-81h0m0 13h0m0 6h0m0 55h0m1-52h0m0 6h0m0 2h0m0 6h0m0 6h0m1-35h0m0 5h0m0 14h0m0 49h0m0 5h0m1-72h0m0 26h0m0 12h0m0 22h0m1-71h0m0 5h0m0 5h0m0 31h0m0 11h0m0 5h0m0 4h0m1-45h0m0 42h0m0 4h0m1-49h0m0 15h0m0 34h0m0 7h0m0 21h0m1-57h0m0 11h0m0 5h0m0 16h0m0 12h0m0 21h0m1-106h0m0 8h0m0 19h0m0 3h0m0 67h0m1-74h0m0 15h0m0 42h0m0 7h0m0 10h0m0 3h0m0 12h0m1-84h0m0 4h0m0 12h0m0 17h0m0 23h0m1-70h0m0 31h0m0 2h0m0 7h0m0 137h0m1-172h0m0 29h0m0 21h0m0 1h0m0 32h0m0 3h0m1-62h0m0 29h0m0 5h0m0 12h0m0 2h0m0 11h0m1-61h0m0 18h0m0 6h0m0 18h0m0 13h0m0 32h0m2-94h0m0 20h0m0 14h0m0 17h0m0 26h0m0 1h0m1-82h0m0 14h0m0 40h0m1-28h0m0 6h0m0 5h0m0 29h0m0 11h0m1-72h0m0 13h0m0 31h0m0 10h0m0 10h0m0 2h0m1-27h0m0 3h0m0 8h0m0 24h0m1-59h0m0 7h0m0 12h0m0 51h0m1-65h0m0 7h0m0 5h0m0 29h0m0 15h0m0 15h0m1-92h0m0 18h0m0 43h0m0 39h0m1-95h0m0 41h0m0 19h0m0 12h0m0 28h0m0 2h0m1-54h0m0 10h0m0 23h0m0 2h0m0 5h0m0 17h0m1-70h0m0 18h0m0 2h0m0 2h0m0 40h0m1-79h0m0 8h0m0 15h0m0 36h0m0 35h0m0 19h0m1-68h0m0 2h0m0 5h0m0 8h0m0 9h0m0 11h0m0 20h0m0 24h0m1-147h0m0 49h0m0 7h0m0 23h0m0 1h0m0 42h0m0 14h0m0 12h0m1-130h0m0 30h0m0 23h0m0 39h0m0 27h0m0 6h0m1-117h0m0 6h0m0 40h0m0 54h0m0 34h0m0 3h0m1-116h0m0 37h0m0 1h0m0 18h0m0 30h0m0 39h0m1-132h0m0 47h0m0 34h0m0 21h0m0 12h0m0 19h0m1-98h0m0 9h0m0 17h0m0 19h0m0 15h0m0 19h0m0 6h0m0 20h0m1-126h0m0 40h0m0 79h0m0 4h0m1-147h0m0 48h0m0 48h0m0 16h0m0 5h0m0 48h0m1-129h0m0 4h0m0 63h0m0 58h0m0 13h0m0 9h0m1-156h0m0 18h0m0 17h0m0 9h0m0 9h0m0 27h0m0 16h0m0 42h0m1-146h0m0 71h0m0 9h0m0 9h0m0 12h0m0 21h0m0 26h0m1-76h0m0 2h0m0 37h0m0 8h0m0 49h0m0 8h0m1-131h0m0 96h0m0 20h0m0 23h0m0 19h0m0 11h0m1-156h0m0 2h0m0 57h0m0 4h0m0 26h0m0 7h0m0 8h0m1-120h0m0 2h0m0 24h0m0 29h0m0 7h0m0 27h0m0 45h0m1-98h0m0 6h0m0 4h0m0 46h0m0 23h0m0 37h0m1-119h0m0 50h0m0 30h0m0 23h0m0 6h0m0 27h0m1-149h0m0 34h0m0 14h0m0 5h0m0 4h0m0 81h0m1-129h0m0 67h0m0 33h0m0 3h0m0 12h0m0 6h0m1-112h0m0 13h0m0 12h0m0 4h0m0 33h0m0 8h0m0 68h0m1-143h0m0 1h0m0 54h0m0 40h0m0 36h0m0 2h0m0 6h0m0 1h0m1-111h0m0 17h0m0 5h0m0 25h0m0 36h0m0 12h0m0 58h0m1-110h0m0 11h0m0 8h0m0 11h0m0 32h0m0 24h0m0 39h0m1-156h0m0 7h0m0 1h0m0 75h0m0 4h0m0 26h0m1-103h0m0 17h0m0 6h0m0 7h0m0 17h0m0 22h0m0 22h0m0 102h0m1-160h0m0 6h0m0 11h0m0 5h0m0 12h0m0 17h0m0 53h0m1-191h0m0 94h0m0 40h0m0 21h0m0 42h0m0 5h0m0 5h0m1-87h0m0 2h0m0 7h0m0 5h0m0 10h0m0 42h0m0 4h0m0 25h0m65-422h0m0 7h0m0 9h0m1-21h0m0 2h0m0 11h0m1-19h0m0 11h0m0 4h0m1-10h0m1 21h0m2-26h0m3 4h0m0 18h0m2 3h0m1-23h0m1 20h0m1-20h0m0 1h0m1 1h0m0 22h0m2-33h0m1 28h0m2-20h0m0 1h0m0 2h0m1 19h0m3-2h0m0 3h0m1 5h0m2-28h0m0 23h0m1-27h0m1 27h0m1 0h0m1-23h0m2 1h0m1 20h0m1-20h0m1-1h0m1 26h0m3-4h0m2-22h0m0 23h0m1-2h0m0 5h0m1 4h0m3-34h0m1 9h0m1-4h0m1 23h0m2-16h0m0 25h0m1-7h0m1-23h0m1 5h0m1 21h0m1-27h0m0 25h0m2 3h0m1 4h0m1-29h0m3 27h0m1-25h0m1 4h0m1-1h0m3 3h0m0 1h0m0 16h0m1 7h0m1-22h0m1 22h0m0 2h0m1-28h0m1 4h0m0 19h0m1-22h0m2 26h0m0 1h0m0 8h0m1-31h0m0 20h0m2-21h0m1 1h0m0 1h0m0 4h0m1-4h0m0 3h0m1 17h0m0 1h0m2 0h0m0 6h0m0 1h0m1-25h0m1-11h0m2 15h0m0 22h0m3-24h0m0 31h0m1-28h0m1 20h0m0 2h0m2 4h0m1-24h0m0 21h0m2-1h0m0 7h0m2-23h0m0 21h0m1-2h0m1-17h0m0 19h0m0 2h0m1 0h0m1-18h0m1-2h0m1 23h0m1-1h0m1-16h0m1 18h0m3-21h0m1 5h0m0 1h0m1 0h0m0 19h0m0 2h0m1-33h0m0 34h0m1-27h0m1 25h0m2 6h0m1-23h0m0 22h0m1-27h0m0 2h0m0 1h0m1 1h0m0 6h0m2 1h0m0 17h0m1 1h0m0 1h0m1 3h0m1 0h0m1-1h0m0 3h0m1-5h0m1-18h0m1 2h0m0 22h0m1-2h0m1 4h0m0 5h0m1-6h0m1-21h0m0 25h0m2-23h0m2 20h0m1-16h0m0 1h0m1 18h0m0 1h0m2-18h0m0 24h0m1-22h0m1 21h0m1-25h0m2 3h0m1 8h0m1-4h0m1 0h0m0 21h0m1 1h0m2-18h0m0 23h0m1-19h0m1 21h0m1 3h0m1-19h0m1 19h0m0 2h0m2-26h0m0 33h0m1-8h0m1-23h0m1 4h0m2 22h0m0 6h0m2-27h0m0 28h0m2-5h0m0 10h0m1-32h0m3 2h0m0 25h0m2-2h0m1-23h0m0 2h0m1 0h0m1 4h0m0 4h0m1-4h0m0 3h0m0 6h0m0 2h0m0 9h0m1-9h0m0 3h0m75-26h0m1-11h0m0 1h0m0 3h0m0 7h0m0 8h0m1-21h0m0 11h0m0 5h0m1-16h0m0 19h0m1-2h0m1-19h0m1 2h0m0 18h0m1-22h0m0 24h0m1-21h0m1-1h0m0 28h0m1-32h0m0 2h0m1 3h0m2 21h0m1 0h0m1-19h0m0 21h0m2-24h0m1 0h0m2-2h0m1 27h0m1-24h0m2 19h0m1-25h0m0 31h0m1-33h0m1 30h0m1-29h0m0 8h0m1 19h0m2-3h0m0 3h0m1-23h0m0 24h0m1-1h0m2 7h0m1-3h0m1-33h0m0 27h0m2-20h0m2-8h0m1 25h0m0 2h0m1-24h0m2 22h0m2-25h0m2 23h0m2-5h0m1 6h0m1-33h0m0 5h0m1 16h0m2-21h0m0 23h0m1-20h0m0 25h0m3-31h0m2 18h0m0 2h0m0 5h0m1-31h0m0 2h0m1 30h0m1-7h0m1-4h0m1-19h0m0 18h0m1-20h0m2 0h0m0 20h0m1-3h0m0 4h0m1-24h0m1-7h0m0 4h0m1 5h0m1 20h0m1-1h0m2-30h0m0 8h0m1-1h0m0 20h0m1-7h0m1 1h0m0 2h0m1-23h0m0 19h0m2-21h0m0 20h0m0 7h0m1-20h0m1-3h0m1 18h0m1-22h0m2 23h0m1-18h0m0 26h0m3-8h0m1-22h0m1 3h0m1-8h0m0 21h0m4 3h0m1-20h0m1 14h0m0 3h0m1-20h0m1-4h0m0 7h0m0 14h0m1 2h0m0 4h0m1 1h0m1-21h0m3 1h0m1-7h0m1 22h0m1-24h0m1 6h0m0 21h0m1-21h0m3 24h0m1-27h0m0 11h0m0 15h0m1-15h0m1 19h0m0 9h0m1-6h0m1-28h0m1 10h0m0 21h0m0 6h0m1-32h0m1 45h0m1-8h0m2-2h0m1-33h0m1-17h0m1 49h0m1-35h0m0 40h0m1-43h0m1 8h0m1 29h0m0 5h0m1-10h0m0 3h0m1 3h0m1-5h0m2-32h0m1 3h0m0 32h0m4-36h0m0 30h0m1-30h0m1-6h0m1 36h0m1-30h0m2 28h0m1-26h0m0 33h0m1-8h0m4-27h0m0 24h0m4-32h0m0 7h0m1 23h0m2-28h0m0 22h0m2-26h0m0 28h0m1-29h0m0 30h0m2-23h0m1-4h0m0 24h0m0 2h0m0 1h0m2-35h0m1 30h0m1 4h0m1-24h0m0 18h0m1-24h0m1 6h0m0 15h0m1-18h0m0 7h0m0 4h0m0 1h0m0 3h0m1-25h0m0 6h0m0 5h0m0 6h0m0 2h0m0 8h0m0 5h0" fill="none" stroke="#8c564b" stroke-width="7.9" stroke-linecap="round"/></g><path d="M1480.57 1089.85V810.9" stroke="#000" stroke-width="1.8" stroke-dasharray="6.3 2.7" fill="none"/><path d="M1499.51 1089.85V810.9" stroke="#000" stroke-width="1.8" stroke-dasharray="6.3 2.7" fill="none"/></g><rect x="1516.8" y="997.8" width="166.5" height="83.68" fill="#fff"/><g clip-path="url(#c17)"><g transform="scale(.5)"><path d="M3034 2009h0m1-1h0m2 3h0m2 2h0m2-6h0m2 4h0m1-4h0m1 5h0m4-5h0m1 4h0m1-4h0m1-1h0m1 7h0m3-5h0m1 4h0m1-1h0m2 0h0m3-3h0m2 1h0m1-2h0m1 4h0m1 2h0m4-5h0m1 4h0m2-6h0m3 4h0m1-2h0m1 5h0m2-1h0m1 3h0m2-5h0m1-2h0m3 5h0m1 0h0m4-7h0m2 5h0m1-2h0m2 4h0m5-5h0m2-1h0m2 4h0m1 2h0m1-3h0m1 3h0m1-4h0m2 3h0m1-5h0m1 3h0m3-2h0m3 2h0m1-2h0m2 5h0m1-8h0m3 5h0m2 3h0m1-6h0m3 1h0m1 1h0m2 2h0m2-1h0m1-2h0m2 0h0m2 5h0m1-5h0m1 4h0m1 1h0m2-6h0m1 6h0m1-4h0m1 3h0m5 0h0m2-5h0m2 5h0m3-2h0m1 2h0m1-4h0m1 5h0m1-3h0m3 3h0m2-1h0m1-3h0m2 0h0m2 3h0m1-1h0m1 2h0m1-3h0m1 3h0m3 1h0m1-3h0m1-1h0m1 4h0m2-6h0m4 2h0m3 3h0m2 1h0m1-5h0m1 3h0m2-1h0m1 3h0m3-1h0m1 0h0m2-3h0m1 1h0m1 2h0m2-1h0m2-2h0m5 3h0m1-1h0m2-1h0m1 4h0m4-1h0m1-5h0m1 6h0m1-8h0m1 0h0m3 8h0m1-7h0m2 6h0m4 2h0m1-7h0m1 0h0m5 2h0m2 0h0m1 3h0m1-5h0m3 6h0m1-5h0m2 2h0m2-1h0m1-1h0m2 0h0m1 7h0m1 0h0m2-5h0m1 5h0m2-2h0m2-4h0m1 5h0m2-3h0m2-3h0m1 7h0m2-3h0m1 2h0m3-6h0m1 0h0m1 1h0m1 4h0m3-2h0m2-3h0m1 6h0m4-2h0m2-2h0m1-1h0m1 7h0m2-6h0m1 5h0m2-4h0m1-1h0m1 0h0m3 3h0m2-4h0m1 3h0m1-2h0m1-1h0m2 3h0m4-3h0m3 5h0m1-2h0m2 1h0m1-4h0m2 0h0m6 3h0m1-4h0m1 2h0m3 0h0m2 2h0m1 1h0m1-1h0m2 1h0m2-5h0m1 8h0m3-2h0m1-5h0m3 5h0m2-4h0m1 4h0m1-1h0m2 3h0" fill="none" stroke="#8c564b" stroke-width="10.12" stroke-linecap="round"/></g></g><rect x="1516.8" y="997.8" width="166.5" height="83.68" fill="none" stroke="#000" stroke-width="1.65"/><rect x="1178.6" y="810.9" width="520.3" height="278.95" fill="none" stroke="#000" stroke-width="1.65"/><path d="M1272.18 1089.85v6.07M1366.9 1089.85v6.07M1461.63 1089.85v6.07M1556.35 1089.85v6.07M1651.07 1089.85v6.07" stroke="#000" stroke-width="1.6" fill="none"/><text x="1272.18" y="1117.9" font-size="20.76" text-anchor="middle">2290</text><text x="1366.9" y="1117.9" font-size="20.76" text-anchor="middle">2300</text><text x="1461.63" y="1117.9" font-size="20.76" text-anchor="middle">2310</text><text x="1556.35" y="1117.9" font-size="20.76" text-anchor="middle">2320</text><text x="1651.07" y="1117.9" font-size="20.76" text-anchor="middle">2330</text><path d="M1178.6 1045.9h-6.07M1178.6 971.8h-6.07M1178.6 897.7h-6.07M1178.6 823.6h-6.07" stroke="#000" stroke-width="1.6" fill="none"/><text x="1166.75" y="1054.05" font-size="20.76" text-anchor="end">0.4</text><text x="1166.75" y="979.95" font-size="20.76" text-anchor="end">0.6</text><text x="1166.75" y="905.85" font-size="20.76" text-anchor="end">0.8</text><text x="1166.75" y="831.75" font-size="20.76" text-anchor="end">1.0</text><text x="1438.75" y="1144.07" font-size="20.76" text-anchor="middle">Days (BTJ)</text><text transform="translate(1123.01 950.38) rotate(-90)" font-size="20.76" text-anchor="middle">Normalized Flux</text><text x="1438.75" y="800.37" font-size="24.6" text-anchor="middle">Target Light Curve: 00119862142</text>
<g clip-path="url(#c18)"><path d="M1789.2 1089.8L1789.5 1089.8L1789.8 1089.8L1790 1089.8L1790.3 1089.8L1790.5 1089.8L1790.8 1089.8L1791.1 1089.7L1791.3 1089.7L1791.6 1089.7L1791.8 1089.7L1792.1 1089.7L1792.4 1089.6L1792.6 1089.6L1792.9 1089.6L1793.1 1089.6L1793.4 1089.6L1793.7 1089.5L1793.9 1089.5L1794.2 1089.5L1794.5 1089.5L1794.7 1089.4L1795 1089.4L1795.2 1089.4L1795.5 1089.4L1795.8 1089.4L1796 1089.3L1796.3 1089.3L1796.5 1089.3L1796.8 1089.2L1797.1 1089.2L1797.3 1089.2L1797.6 1089.2L1797.8 1089.1L1798.1 1089.1L1798.4 1089.1L1798.6 1089.1L1798.9 1089L1799.1 1089L1799.4 1089L1799.7 1089L1799.9 1088.9L1800.2 1088.9L1800.4 1088.9L1800.7 1088.9L1801 1088.8L1801.2 1088.8L1801.5 1088.7L1801.7 1088.7L1802 1088.7L1802.3 1088.6L1802.5 1088.6L1802.8 1088.5L1803 1088.4L1803.3 1088.3L1803.6 1088.2L1803.8 1088.1L1804.1 1087.9L1804.3 1087.7L1804.6 1087.5L1804.9 1087.3L1805.1 1087L1805.4 1086.8L1805.6 1086.5L1805.9 1086.2L1806.2 1085.9L1806.4 1085.7L1806.7 1085.4L1806.9 1085L1807.2 1084.7L1807.5 1084.3L1807.7 1083.9L1808 1083.4L1808.2 1083L1808.5 1082.5L1808.8 1082L1809 1081.5L1809.3 1080.9L1809.5 1080.1L1809.8 1079.2L1810.1 1078.4L1810.3 1077.8L1810.6 1077.4L1810.9 1077.3L1811.1 1077.6L1811.4 1078.1L1811.7 1078.8L1811.7 1078.9L1811.8 1079.1L1811.9 1079.3L1812 1079.5L1812.1 1079.6L1812.1 1079.8L1812.2 1079.9L1812.3 1080L1812.4 1080L1812.5 1080.1L1812.6 1080L1812.7 1080L1812.8 1079.8L1812.9 1079.7L1813 1079.5L1813.1 1079.3L1813.1 1079.1L1813.2 1078.9L1813.3 1078.6L1813.4 1078.3L1813.5 1078.1L1813.6 1077.8L1813.7 1077.5L1813.8 1077.2L1813.9 1076.9L1814 1076.6L1814.1 1076.3L1814.1 1076.1L1814.2 1075.9L1814.3 1075.7L1814.4 1075.5L1814.5 1075.3L1814.6 1075.3L1814.7 1075.2L1814.8 1075.2L1814.9 1075.3L1815 1075.4L1815.1 1075.7L1815.2 1075.9L1815.3 1076.2L1815.4 1076.6L1815.5 1077L1815.6 1077.4L1815.7 1077.9L1815.8 1078.4L1815.9 1078.9L1816 1079.4L1816.2 1079.9L1816.3 1080.4L1816.4 1080.9L1816.5 1081.3L1816.6 1081.7L1816.7 1082.1L1816.8 1082.4L1816.9 1082.6L1817 1082.8L1817.2 1082.9L1817.3 1082.9L1817.4 1082.8L1817.5 1082.8L1817.6 1082.7L1817.7 1082.6L1817.9 1082.5L1818 1082.4L1818.1 1082.2L1818.2 1082.1L1818.3 1081.9L1818.5 1081.7L1818.6 1081.5L1818.7 1081.3L1818.8 1081.1L1819 1080.9L1819.1 1080.7L1819.2 1080.4L1819.4 1080.2L1819.5 1080L1819.6 1079.7L1819.8 1079.4L1819.9 1079L1820 1078.6L1820.2 1078.1L1820.3 1077.6L1820.4 1077.1L1820.6 1076.5L1820.7 1076L1820.9 1075.4L1821 1074.8L1821.2 1074.2L1821.3 1073.6L1821.5 1073L1821.6 1072.4L1821.8 1071.9L1821.9 1071.4L1822.1 1070.9L1822.2 1070.5L1822.4 1070.2L1822.5 1069.9L1822.7 1069.7L1822.8 1069.6L1823 1069.7L1823.2 1070L1823.3 1070.6L1823.5 1071.5L1823.7 1072.6L1823.8 1073.9L1824 1075.4L1824.2 1076.9L1824.3 1078.6L1824.5 1080.2L1824.7 1081.9L1824.9 1083.4L1825 1084.9L1825.2 1086.2L1825.4 1087.2L1825.6 1088L1825.8 1088.4L1826 1088.4L1826.1 1088.2L1826.3 1087.8L1826.5 1087.2L1826.7 1086.4L1826.9 1085.5L1827.1 1084.4L1827.3 1083.2L1827.5 1082L1827.7 1080.7L1827.9 1079.3L1828.1 1078L1828.3 1076.6L1828.6 1075.4L1828.8 1074.2L1829 1073.1L1829.2 1072.1L1829.4 1070.9L1829.6 1069.6L1829.9 1068.4L1830.1 1067.1L1830.3 1065.8L1830.6 1064.7L1830.8 1063.7L1831 1062.8L1831.3 1062.3L1831.5 1062L1831.8 1062.1L1832 1062.6L1832.3 1063.6L1832.5 1064.9L1832.8 1066.4L1833 1068.2L1833.3 1070L1833.5 1071.9L1833.8 1073.7L1834.1 1075.3L1834.3 1076.7L1834.6 1078.3L1834.9 1080L1835.2 1081.8L1835.5 1083.5L1835.8 1085.2L1836.1 1086.8L1836.3 1088.1L1836.6 1089.1L1836.9 1089.7L1837.3 1089.8L1837.6 1089.5L1837.9 1088.7L1838.2 1087.6L1838.5 1086.2L1838.8 1084.6L1839.2 1082.8L1839.5 1080.8L1839.8 1078.7L1840.2 1076.7L1840.5 1074.7L1840.9 1072.9L1841.2 1071.3L1841.6 1069.7L1841.9 1067.9L1842.3 1066L1842.7 1064L1843.1 1062L1843.4 1060.2L1843.8 1058.4L1844.2 1056.9L1844.6 1055.7L1845 1054.9L1845.4 1054.6L1845.9 1054.8L1846.3 1055.8L1846.7 1057.2L1847.1 1059.1L1847.6 1061.3L1848 1063.8L1848.5 1066.3L1848.9 1068.9L1849.4 1071.3L1849.9 1073.4L1850.4 1075.5L1850.8 1077.9L1851.3 1080.5L1851.8 1083L1852.3 1085.4L1852.9 1087.4L1853.4 1088.9L1853.9 1089.8L1854.5 1089.8L1855 1089.6L1855.6 1089.1L1856.1 1088.6L1856.7 1088L1857.3 1087.4L1857.9 1086.8L1858.5 1086.3L1859.1 1085.7L1859.8 1085L1860.4 1083.9L1861.1 1081.9L1861.7 1078.9L1862.4 1075.1L1863.1 1070.6L1863.8 1065.8L1864.5 1060.9L1865.2 1056.3L1865.9 1051.9L1866.7 1047.1L1867.5 1042L1868.2 1037.1L1869 1032.9L1869.8 1029.6L1870.7 1026.9L1871.5 1024.6L1872.4 1023.6L1873.3 1024.6L1874.1 1027.3L1875.1 1030.9L1876 1034.6L1876.9 1039.1L1877.9 1044.7L1878.9 1050.8L1879.9 1056.7L1881 1061.6L1882 1065.7L1883.1 1070L1884.2 1074.2L1885.3 1078.1L1886.5 1081.3L1887.7 1083.5L1888.9 1084.3L1890.1 1083.9L1891.4 1082.7L1892.7 1080.9L1894.1 1078.5L1895.4 1075.7L1896.8 1072.5L1898.3 1069.2L1899.8 1065.3L1901.3 1060.2L1902.9 1054.1L1904.5 1047L1906.1 1039L1907.8 1030.1L1909.6 1019.3L1911.4 1006.5L1913.2 992.2L1915.1 976.6L1917.1 959.8L1919.1 940.1L1921.2 918.9L1923.3 897.6L1925.6 878.1L1927.9 859.6L1930.2 841L1932.7 819.7L1935.2 807.8L1937.8 804L1940.6 806.3L1943.4 812.9L1946.3 825.9L1949.3 839.8L1952.5 855L1955.7 866.9L1959.1 875.1L1962.7 879.2L1966.4 874.6L1970.2 864.7L1974.2 846L1978.4 826.3L1982.8 806.2L1987.4 780.6L1992.2 751.4L1997.2 727.2L2002.5 727.2L2008.1 727.2L2014 727.2L2020.1 727.2L2026.6 727.2L2033.5 727.2L2040.8 727.2L2048.6 727.2L2056.8 727.2L2065.5 727.2L2074.8 727.2L2084.8 727.2L2095.5 727.2L2107 727.2L2119.3 727.2L2132.7 727.2" fill="none" stroke="#8c564b" stroke-width="3.8" stroke-linejoin="round"/><path d="M1785.6 1089.8L1787 1088.5L1787.7 1087.8L1788.2 981.1L1788.3 981.1L1788.7 1087.8L1789.4 1088.5L1790.8 1088.7L1791.7 1088.5L1792.5 1088.2L1793.4 1088.5L1794.3 1089.3L1795.1 1089.3L1796 1089.2L1796.9 1088.7L1797.7 1089.7L1798.6 1088.7L1799.5 1088.7L1800.4 1089.1L1801.2 1089.3L1802.1 1089.3L1803 1089L1803.8 1089.3L1804.7 1089L1805.6 1088.9L1806.4 1088.7L1807.3 1088L1808.2 1088.3L1809 1088.5L1809.9 1088.7L1810.8 1086.8L1811.6 1088.5L1812.5 1087.1L1813.4 1088.7L1814.2 1087.8L1815.1 1088.7L1816 1089.5L1816.8 1089.5L1817.7 1088.7L1818.6 1088.7L1819.4 1087.9L1820.3 1088.7L1821.2 1088.4L1822 1088.5L1822.9 1088.5L1823.8 1089L1824.6 1088.5L1826 1084.3L1826.6 1089.8L1827.3 1062L1827.6 1088.2L1827.9 1048.7L1828.5 1086.4L1829 1073.1L1829.5 1089L1830 1075.9L1830.4 1088.3L1830.7 1063.3L1831.2 1089.8L1831.8 1081.5L1832.3 1089.2L1832.8 1087.1L1833.9 1088.8L1835.1 1088.5L1835.9 1088.9L1836.8 1087.6L1837.7 1088.5L1838.5 1087.8L1839.4 1088.3L1840.3 1088.1L1841.1 1089.4L1842 1088.6L1842.9 1088.7L1843.7 1088.4L1844.6 1087.2L1845.5 1088.3L1846.3 1087.8L1847.2 1087.5L1848.1 1089.2L1848.9 1088.5L1849.8 1088.5L1850.7 1088.6L1851.5 1088.9L1852.4 1086.4L1853.3 1087.3L1854.2 1087.9L1855 1086.3L1855.9 1087.9L1856.8 1088.5L1857.6 1087.7L1858.5 1087.2L1859.4 1086.6L1860.2 1087.1L1861.1 1087.8L1862 1084.3L1862.4 1089.1L1862.8 1075.9L1863.3 1089.2L1863.7 1081.5L1864.1 1088.8L1864.6 1068.9L1865 1089.4L1865.4 1073.1L1866 1085L1866.5 1048L1866.8 1087.2L1867.1 1031.3L1867.4 1081.4L1867.7 1048L1868 1088.3L1868.4 1073.1L1868.8 1085.5L1869.3 1064.7L1869.6 1087.6L1869.9 1078.7L1870.3 1089.4L1870.6 1068.9L1871.1 1084.5L1871.5 1059.2L1871.9 1081.2L1872.4 1055L1872.7 1083.8L1873.1 1067.5L1873.4 1086L1873.8 1053.6L1874.1 1088.6L1874.5 1062L1874.7 1088.2L1875 1050.8L1875.4 1079L1875.8 1048L1876.2 1082.9L1876.5 1020.1L1876.9 1086.1L1877.2 981.1L1877.5 1071.4L1877.8 1020.1L1878.1 1081.8L1878.4 1048L1878.9 1082.7L1879.3 1031.3L1879.7 1085.9L1880 1055L1880.4 1087.8L1880.7 1073.1L1881.3 1088.6L1881.9 1073.1L1882.5 1089.8L1883.1 1082.9L1883.8 1088L1884.5 1080.1L1885 1088.7L1885.4 1081.5L1886.3 1089.2L1887.1 1085.7L1888.4 1089.5L1889.7 1086.4L1890.6 1085L1891.5 1088.9L1892.3 1087.3L1893.2 1087.1L1894.1 1089.1L1894.9 1088.8L1895.8 1085.8L1896.7 1087.2L1897.5 1088.1L1898.4 1088.2L1899.3 1088L1900.1 1086.9L1901 1088.4L1901.9 1087.6L1902.7 1087.2L1903.6 1088.2L1904.5 1087.6L1905.3 1087.8L1906.2 1085.2L1907.1 1085.7L1908.5 1083.6L1909.9 1087.1L1910.7 1085.7L1911.5 1088.8L1912.3 1088.2L1913.2 1086.6L1914 1089.3L1914.9 1086.6L1915.8 1086.1L1916.6 1088.6L1917.5 1087.1L1918.4 1087.6L1919.2 1086.6L1920.1 1089.4L1921 1088.5L1921.8 1088L1922.7 1087.5L1923.6 1088.1L1924.4 1087.4L1925.3 1088.7L1926.2 1088.8L1927 1088.2L1927.9 1087.8L1928.8 1088.8L1929.6 1088.3L1930.5 1086.6L1931.4 1087.8L1932.2 1088.5L1933.1 1088.8L1934 1087.2L1934.9 1088.5L1935.7 1088.5L1936.6 1087.1L1937.5 1088.2L1938.3 1088.1L1939.2 1087.1L1940.1 1087.4L1940.9 1087.8L1941.8 1088L1942.6 1088.2L1943.4 1087.1L1944.2 1088.4L1945 1087.2L1945.7 1089.3L1946.5 1088.5L1947.3 1088.4L1948.1 1087.5L1948.9 1089L1949.7 1088L1950.5 1088.7L1951.3 1088.3L1952.1 1088.2L1952.8 1088.4L1953.6 1087.7L1954.4 1088.9L1955.2 1088.7L1956 1089.1L1956.8 1089.4L1957.6 1089.1L1958.4 1087.5L1959.1 1088.5L1960 1087.5L1960.9 1089.2L1961.8 1087.8L1962.6 1088.1L1963.5 1087.7L1964.4 1087.3L1965.2 1088.4L1966.1 1087.8L1967 1085.9L1967.8 1087.5L1968.7 1086.8L1969.6 1086.6L1970.4 1088.4L1971.3 1088.9L1972.2 1087.2L1973 1086.8L1973.9 1085.8L1974.8 1086.2L1975.6 1087L1976.5 1088.2L1977.4 1089L1978.2 1086.3L1979.1 1086.4L1980 1085.9L1980.8 1087L1981.7 1087.1L1982.6 1085.4L1983.4 1089.1L1984.3 1089.2L1985.2 1089.3L1986.1 1088.6L1986.9 1088.2L1987.8 1088.5L1988.7 1088.5L1989.5 1086.7L1990.4 1088.9L1991.3 1086.4L1992.1 1086.2L1993 1088.5L1993.9 1086.9L1994.7 1089.3L1995.6 1088.5L1996.4 1088.8L1997.2 1087.3L1998 1088.2L1998.8 1087.5L1999.5 1087.9L2000.3 1088L2001.1 1089L2001.9 1088L2002.7 1089.3L2003.5 1087.3L2004.3 1088.2L2005.1 1087L2006 1087.5L2006.9 1089.4L2007.7 1088.9L2008.6 1089L2009.5 1089.4L2010.3 1088.7L2011.2 1089L2012 1088.6L2012.8 1089.2L2013.6 1088.5L2014.4 1088.6L2015.2 1089.5L2015.9 1088.6L2016.7 1088.5L2017.5 1089.4L2018.3 1088.9L2019.1 1088.8L2019.9 1088.8L2020.7 1089.5L2021.5 1088.8L2022.3 1088.8L2023 1088.5L2023.8 1088.6L2024.6 1089.2L2025.4 1088.7L2026.2 1088.5L2027 1088.4L2027.8 1089.4L2028.6 1089L2029.4 1089.6L2030.1 1088.7L2030.9 1089.3L2031.7 1088.8L2032.5 1088.2L2033.3 1089L2034.1 1089.2L2034.9 1088.9L2035.7 1088.5L2036.5 1089.4L2037.2 1089L2038 1089.4L2038.8 1088.4L2039.6 1088.1L2040.4 1088.9L2041.2 1088.9L2042 1088.6L2042.8 1089.1L2043.6 1089.1L2044.3 1088.9L2045.1 1088.6L2045.9 1088.6L2046.7 1089.4L2047.5 1088.2L2048.3 1088.6L2049.1 1089.1L2049.9 1089.5L2050.7 1088.5L2051.4 1089.4L2052.2 1089.5L2053 1089.5L2053.8 1089.6L2054.6 1089.2L2055.4 1088.6L2056.2 1089.3L2057 1089.3L2057.8 1088.6L2058.5 1088.9L2059.3 1089.4L2060.1 1089.1L2060.9 1088.4L2061.7 1089.1L2062.5 1088.6L2063.3 1089.5L2064.1 1088.5L2064.9 1088.4L2065.6 1088.3L2066.4 1088.5L2067.2 1089L2068 1089.5L2068.8 1088.7L2069.6 1088.3L2070.4 1089.3L2071.2 1089.1L2072 1088.7L2072.8 1088.6L2073.6 1088.1L2074.4 1087.8L2075.2 1089.3L2076 1089.1L2076.8 1087.8L2077.6 1088.1L2078.4 1087.9L2079.2 1087.2L2080.1 1087.2L2080.9 1087.4L2081.7 1087.5L2082.5 1088.4L2083.3 1087.8L2084.1 1088.2L2085 1089L2085.8 1087.8L2086.7 1087.9L2087.6 1088.2L2088.4 1088.8L2089.3 1089L2090.2 1089.1L2091 1089.2L2091.9 1089.6L2092.7 1088.7L2093.5 1089.1L2094.3 1089.2L2095.2 1089.1L2096 1088.9L2096.8 1089.3L2097.6 1088.7L2098.4 1088.6L2099.3 1089.2L2100.1 1089.5L2100.9 1088.8L2101.7 1088.6L2102.6 1089.5L2103.4 1088.9L2104.2 1088.8L2105 1088.6L2105.8 1089.5L2106.7 1089.2L2107.5 1089.6L2108.3 1088.4L2109.1 1089.5L2109.9 1089.4L2110.7 1088.7L2111.5 1088.9L2112.3 1088.3L2113.1 1089.2L2113.9 1087.8L2114.7 1089.1L2115.5 1087.9L2116.3 1089.4L2117.1 1088.5L2117.9 1088.2L2118.8 1089.3L2119.7 1088.2L2120.6 1088L2121.4 1087.1L2122.3 1086.4L2123.2 1087.8L2124 1089.2L2124.9 1087.2L2125.8 1088.7L2126.6 1088L2127.5 1088.1L2128.4 1089.2L2129.2 1089L2130.1 1089.3L2131 1089.4L2131.8 1089.6L2132.7 1089" fill="none" stroke="#000" stroke-width="3.9" stroke-linejoin="round"/></g><rect x="1942.75" y="820.01" width="181.24" height="30.78" rx="3.4" fill="#fff" fill-opacity="0.8" stroke="#ccc" stroke-opacity="0.8" stroke-width="1.7"/><path d="M1949.94 833.88h33.82" stroke="#000" stroke-width="3.6999999999999997" stroke-linecap="square" fill="none"/><text x="1997.53" y="839.86" font-size="17.08" text-anchor="start">Luhman 16AB</text><rect x="1785.6" y="810.9" width="347.1" height="278.95" fill="none" stroke="#000" stroke-width="1.65"/><path d="M1785.6 1089.85v6.07M1872.38 1089.85v6.07M1959.15 1089.85v6.07M2045.92 1089.85v6.07M2132.7 1089.85v6.07" stroke="#000" stroke-width="1.6" fill="none"/><text x="1785.6" y="1117.9" font-size="20.76" text-anchor="middle">0</text><text x="1872.38" y="1117.9" font-size="20.76" text-anchor="middle">5</text><text x="1959.15" y="1117.9" font-size="20.76" text-anchor="middle">10</text><text x="2045.92" y="1117.9" font-size="20.76" text-anchor="middle">15</text><text x="2132.7" y="1117.9" font-size="20.76" text-anchor="middle">20</text><path d="M1785.6 1089.85h-6.07M1785.6 1020.11h-6.07M1785.6 950.38h-6.07M1785.6 880.64h-6.07M1785.6 810.9h-6.07" stroke="#000" stroke-width="1.6" fill="none"/><text x="1773.75" y="1098" font-size="20.76" text-anchor="end">0.00</text><text x="1773.75" y="1028.26" font-size="20.76" text-anchor="end">0.05</text><text x="1773.75" y="958.53" font-size="20.76" text-anchor="end">0.10</text><text x="1773.75" y="888.79" font-size="20.76" text-anchor="end">0.15</text><text x="1773.75" y="819.05" font-size="20.76" text-anchor="end">0.20</text><text x="1959.15" y="1144.07" font-size="20.76" text-anchor="middle">Period (hours)</text><text transform="translate(1716.55 950.38) rotate(-90)" font-size="20.76" text-anchor="middle">Power</text><text x="1959.15" y="800.37" font-size="24.6" text-anchor="middle">Separation: 28.5 arcsec</text>
<g clip-path="url(#c19)"><g transform="scale(.5)"><path d="M189 2631h0m0 16h0m0 9h0m0 17h0m0 10h0m0 5h0m0 3h0m1-77h0m0 27h0m0 2h0m0 43h0m0 4h0m0 11h0m0 62h0m1-159h0m0 31h0m0 13h0m0 3h0m0 19h0m0 10h0m0 7h0m0 20h0m1-47h0m0 2h0m0 8h0m0 5h0m0 22h0m0 4h0m1-48h0m0 5h0m0 8h0m0 31h0m0 15h0m0 9h0m1-87h0m0 15h0m0 13h0m0 9h0m0 25h0m0 13h0m1-84h0m0 17h0m0 1h0m0 11h0m0 14h0m0 19h0m1-65h0m0 21h0m0 16h0m0 4h0m0 8h0m0 9h0m0 34h0m0 15h0m1-90h0m0 1h0m0 21h0m0 15h0m0 9h0m0 2h0m1-55h0m0 6h0m0 30h0m0 17h0m0 8h0m0 16h0m1-107h0m0 34h0m0 14h0m0 14h0m0 20h0m0 13h0m0 25h0m0 15h0m1-89h0m0 10h0m0 3h0m0 7h0m0 4h0m0 29h0m0 53h0m1-134h0m0 19h0m0 3h0m0 28h0m0 20h0m0 4h0m0 20h0m1-65h0m0 25h0m0 5h0m0 2h0m0 5h0m0 17h0m0 8h0m1-76h0m0 28h0m0 6h0m0 4h0m0 21h0m0 6h0m0 10h0m1-86h0m0 17h0m0 3h0m0 17h0m0 4h0m0 17h0m0 11h0m0 14h0m1-86h0m0 26h0m0 34h0m0 15h0m0 15h0m0 17h0m0 14h0m1-114h0m0 25h0m0 15h0m0 10h0m0 5h0m0 4h0m0 21h0m1-35h0m0 1h0m0 20h0m0 12h0m1-42h0m0 10h0m0 11h0m0 10h0m0 17h0m0 16h0m1-126h0m0 31h0m0 19h0m0 17h0m0 24h0m0 18h0m1-61h0m0 4h0m0 12h0m0 5h0m0 7h0m1-72h0m0 14h0m0 32h0m0 5h0m0 18h0m0 1h0m0 6h0m0 24h0m1-83h0m0 25h0m0 9h0m0 19h0m0 49h0m1-129h0m0 51h0m0 33h0m0 2h0m0 2h0m0 23h0m0 4h0m1-75h0m0 10h0m0 10h0m0 33h0m0 27h0m0 38h0m1-130h0m0 23h0m0 58h0m0 4h0m1-72h0m0 1h0m0 11h0m0 24h0m0 19h0m0 3h0m0 18h0m1-53h0m0 10h0m0 5h0m0 7h0m0 2h0m0 3h0m0 108h0m1-173h0m0 16h0m0 6h0m0 9h0m0 3h0m0 22h0m0 36h0m1-95h0m0 37h0m0 11h0m0 6h0m0 4h0m0 8h0m0 17h0m1-59h0m0 11h0m0 24h0m0 20h0m1-78h0m0 8h0m0 20h0m0 28h0m0 10h0m0 1h0m0 5h0m0 6h0m1-114h0m0 58h0m0 13h0m0 19h0m0 57h0m1-64h0m0 1h0m0 13h0m0 7h0m0 5h0m0 9h0m0 10h0m1-80h0m0 18h0m0 8h0m0 11h0m0 6h0m0 17h0m0 4h0m0 24h0m1-87h0m0 5h0m0 25h0m0 6h0m0 13h0m1-39h0m0 7h0m0 6h0m0 20h0m0 14h0m0 12h0m0 2h0m1-97h0m0 44h0m0 44h0m0 14h0m0 12h0m1-91h0m0 19h0m0 12h0m0 6h0m0 18h0m0 13h0m0 19h0m1-84h0m0 5h0m0 18h0m0 14h0m0 5h0m0 9h0m0 14h0m0 46h0m1-100h0m0 5h0m0 3h0m0 2h0m0 6h0m0 35h0m0 27h0m1-102h0m0 39h0m0 11h0m0 5h0m0 10h0m0 12h0m0 17h0m1-48h0m0 10h0m0 6h0m0 9h0m0 31h0m0 12h0m1-90h0m0 19h0m0 25h0m0 5h0m0 1h0m0 1h0m0 4h0m0 2h0m1-21h0m0 4h0m0 2h0m0 4h0m0 8h0m0 11h0m0 2h0m0 60h0m1-140h0m0 3h0m0 4h0m0 20h0m0 1h0m0 15h0m0 20h0m1-50h0m0 6h0m0 7h0m0 7h0m0 12h0m0 3h0m0 77h0m1-112h0m0 16h0m0 5h0m0 14h0m0 5h0m0 8h0m1-76h0m0 22h0m0 13h0m0 12h0m0 23h0m0 15h0m0 6h0m1-77h0m0 18h0m0 6h0m0 21h0m0 28h0m0 21h0m1-103h0m0 11h0m0 2h0m0 40h0m0 9h0m0 10h0m0 40h0m1-76h0m0 12h0m0 7h0m0 8h0m0 6h0m0 3h0m0 27h0m1-88h0m0 14h0m0 15h0m0 19h0m0 6h0m0 4h0m0 15h0m1-87h0m0 35h0m0 20h0m0 2h0m0 2h0m0 4h0m0 22h0m0 1h0m1-62h0m0 22h0m0 5h0m0 15h0m0 7h0m0 1h0m0 59h0m1-117h0m0 12h0m0 1h0m0 7h0m0 43h0m0 21h0m0 23h0m1-135h0m0 42h0m0 7h0m0 6h0m0 2h0m0 15h0m0 4h0m0 18h0m1-57h0m0 17h0m0 40h0m0 25h0m0 5h0m1-106h0m0 36h0m0 14h0m0 16h0m0 20h0m0 1h0m0 10h0m1-70h0m0 17h0m0 3h0m0 25h0m0 3h0m0 7h0m1-40h0m0 10h0m0 7h0m0 25h0m0 1h0m0 6h0m0 17h0m1-90h0m0 15h0m0 1h0m0 9h0m0 5h0m0 6h0m0 4h0m0 15h0m1-61h0m0 17h0m0 31h0m0 21h0m0 6h0m0 12h0m1-136h0m0 41h0m0 5h0m0 2h0m0 68h0m0 12h0m0 20h0m1-84h0m0 36h0m0 3h0m0 15h0m0 6h0m0 2h0m0 8h0m0 16h0m1-135h0m0 79h0m0 6h0m0 7h0m0 8h0m1-61h0m0 24h0m0 4h0m0 8h0m0 3h0m0 17h0m1-56h0m0 15h0m0 7h0m0 23h0m0 18h0m0 39h0m1-141h0m0 47h0m0 3h0m0 14h0m0 8h0m0 5h0m1-69h0m0 36h0m0 16h0m0 2h0m0 12h0m0 5h0m0 20h0m0 4h0m1-64h0m0 36h0m0 10h0m0 2h0m0 15h0m0 5h0m0 2h0m1-69h0m0 10h0m0 9h0m0 5h0m0 34h0m1-56h0m0 10h0m0 4h0m0 3h0m0 17h0m0 11h0m0 29h0m1-75h0m0 50h0m0 9h0m0 2h0m0 8h0m0 2h0m0 20h0m1-104h0m0 35h0m0 1h0m0 6h0m0 14h0m0 6h0m0 15h0m0 8h0m1-58h0m0 19h0m0 4h0m0 7h0m0 13h0m1-62h0m0 33h0m0 6h0m0 3h0m0 13h0m0 32h0m1-77h0m0 3h0m0 46h0m0 3h0m0 43h0m1-59h0m0 19h0m0 4h0m0 4h0m0 13h0m0 7h0m0 3h0m1-94h0m0 12h0m0 14h0m0 23h0m0 11h0m0 17h0m0 2h0m1-65h0m0 5h0m0 3h0m0 44h0m0 47h0m1-100h0m0 24h0m0 3h0m0 4h0m0 15h0m0 12h0m0 18h0m1-71h0m0 9h0m0 14h0m0 3h0m0 4h0m0 7h0m0 8h0m1-74h0m0 14h0m0 11h0m0 3h0m0 3h0m0 15h0m0 6h0m0 36h0m0 61h0m1-167h0m0 34h0m0 20h0m0 6h0m0 8h0m0 13h0m0 11h0m1-24h0m0 9h0m0 8h0m0 18h0m0 11h0m1-67h0m0 12h0m0 12h0m0 4h0m0 6h0m0 14h0m1-70h0m0 6h0m0 36h0m0 7h0m0 24h0m1-91h0m0 37h0m0 8h0m0 2h0m0 1h0m0 23h0m0 16h0m0 28h0m1-90h0m0 11h0m0 15h0m0 31h0m0 10h0m0 15h0m1-129h0m0 54h0m0 5h0m0 36h0m0 23h0m0 12h0m1-72h0m0 14h0m0 3h0m0 7h0m0 2h0m0 5h0m0 26h0m0 47h0m1-108h0m0 23h0m0 19h0m0 6h0m0 11h0m1-65h0m0 9h0m0 10h0m0 22h0m0 5h0m0 40h0m0 29h0m1-124h0m0 7h0m0 17h0m0 7h0m0 1h0m0 26h0m0 33h0m0 11h0m1-143h0m0 45h0m0 42h0m0 28h0m0 1h0m0 42h0m1-85h0m0 9h0m0 10h0m0 3h0m0 9h0m0 22h0m1-102h0m0 29h0m0 24h0m0 39h0m0 1h0m0 12h0m0 10h0m1-117h0m0 39h0m0 20h0m0 5h0m0 1h0m0 19h0m0 8h0m0 28h0m1-114h0m0 9h0m0 29h0m0 6h0m0 5h0m0 8h0m0 51h0m1-75h0m0 27h0m0 14h0m0 30h0m0 9h0m1-102h0m0 29h0m0 10h0m0 5h0m0 16h0m0 11h0m0 6h0m1-33h0m0 2h0m0 6h0m0 6h0m0 1h0m0 6h0m1-94h0m0 53h0m0 46h0m0 5h0m0 12h0m1-115h0m0 50h0m0 22h0m0 5h0m0 16h0m0 5h0m0 28h0m1-88h0m0 40h0m0 35h0m0 15h0m0 2h0m1-83h0m0 25h0m0 3h0m0 4h0m0 13h0m0 6h0m0 8h0m1-52h0m0 5h0m0 14h0m0 9h0m0 9h0m0 36h0m1-61h0m0 22h0m0 2h0m0 8h0m0 19h0m1-38h0m0 22h0m0 8h0m0 5h0m0 15h0m0 13h0m1-112h0m0 34h0m0 2h0m0 1h0m0 31h0m0 35h0m1-72h0m0 29h0m0 6h0m0 7h0m0 4h0m1-68h0m0 34h0m0 8h0m0 25h0m0 11h0m0 16h0m0 18h0m1-98h0m0 3h0m0 10h0m0 11h0m0 10h0m0 6h0m0 21h0m0 5h0m1-71h0m0 2h0m0 33h0m0 7h0m0 11h0m0 35h0m0 8h0m0 9h0m1-132h0m0 36h0m0 11h0m0 4h0m0 15h0m0 34h0m1-110h0m0 67h0m0 10h0m0 4h0m0 2h0m0 7h0m0 5h0m0 4h0m1-67h0m0 18h0m0 16h0m0 6h0m0 24h0m0 17h0m0 13h0m1-113h0m0 51h0m0 16h0m0 3h0m0 11h0m1-70h0m0 3h0m0 25h0m0 41h0m0 19h0m0 32h0m1-88h0m0 10h0m0 3h0m0 9h0m0 5h0m0 28h0m1-66h0m0 2h0m0 22h0m0 3h0m0 19h0m0 3h0m0 11h0m1-87h0m0 39h0m0 9h0m0 6h0m0 20h0m0 2h0m0 2h0m1-96h0m0 25h0m0 2h0m0 40h0m0 7h0m0 3h0m0 7h0m0 3h0m1-31h0m0 7h0m0 6h0m0 2h0m0 5h0m0 5h0m0 16h0m1-71h0m0 21h0m0 6h0m0 13h0m0 10h0m0 27h0m0 23h0m1-103h0m0 30h0m0 6h0m0 32h0m0 15h0m0 11h0m1-100h0m0 64h0m0 4h0m0 9h0m0 9h0m1-119h0m0 1h0m0 69h0m0 5h0m0 6h0m0 11h0m0 3h0m0 40h0m1-109h0m0 30h0m0 2h0m0 13h0m0 4h0m0 23h0m0 6h0m0 13h0m1-94h0m0 20h0m0 9h0m0 15h0m0 19h0m0 12h0m0 34h0m1-96h0m0 20h0m0 24h0m0 5h0m0 4h0m0 4h0m0 10h0m1-59h0m0 14h0m0 22h0m0 24h0m0 4h0m0 26h0m1-65h0m0 28h0m0 26h0m0 7h0m0 12h0m0 23h0m1-128h0m0 29h0m0 1h0m0 3h0m0 16h0m0 29h0m0 3h0m0 8h0m1-66h0m0 24h0m0 8h0m0 7h0m0 19h0m0 1h0m0 3h0m1-86h0m0 2h0m0 31h0m0 8h0m0 14h0m0 7h0m0 41h0m1-85h0m0 5h0m0 1h0m0 5h0m0 1h0m0 51h0m0 27h0m1-83h0m0 1h0m0 10h0m0 6h0m0 55h0m0 13h0m1-73h0m0 6h0m0 24h0m0 2h0m0 10h0m0 2h0m0 16h0m0 19h0m1-84h0m0 11h0m0 2h0m0 26h0m0 17h0m0 3h0m0 12h0m1-79h0m0 20h0m0 3h0m0 9h0m0 3h0m0 12h0m0 5h0m1-57h0m0 30h0m0 5h0m0 3h0m0 45h0m1-89h0m0 2h0m0 8h0m0 11h0m0 6h0m0 6h0m0 13h0m1-56h0m0 30h0m0 23h0m0 12h0m0 13h0m0 1h0m0 13h0m1-69h0m0 21h0m0 3h0m0 11h0m0 3h0m0 2h0m0 69h0m1-96h0m0 6h0m0 10h0m0 12h0m0 1h0m0 4h0m0 2h0m1-56h0m0 6h0m0 2h0m0 31h0m0 5h0m0 5h0m0 44h0m1-81h0m0 5h0m0 17h0m0 4h0m0 3h0m0 35h0m0 8h0m0 16h0m1-124h0m0 35h0m0 17h0m0 28h0m0 15h0m0 10h0m0 1h0m1-116h0m0 31h0m0 19h0m0 24h0m0 19h0m0 51h0m1-123h0m0 14h0m0 2h0m0 15h0m0 10h0m0 6h0m0 16h0m0 14h0m1-62h0m0 13h0m0 29h0m0 12h0m0 2h0m1-78h0m0 16h0m0 14h0m0 23h0m0 27h0m0 14h0m0 15h0m1-133h0m0 26h0m0 29h0m0 2h0m0 8h0m0 19h0m1-36h0m0 3h0m0 23h0m0 12h0m0 23h0m0 9h0m1-111h0m0 29h0m0 3h0m0 26h0m0 5h0m0 9h0m0 37h0m1-77h0m0 2h0m0 6h0m0 36h0m0 13h0m0 51h0m1-111h0m0 11h0m0 9h0m0 5h0m0 3h0m0 17h0m0 17h0m0 20h0m1-91h0m0 18h0m0 14h0m0 2h0m0 31h0m0 17h0m0 25h0m1-103h0m0 27h0m0 6h0m0 10h0m0 17h0m0 18h0m1-53h0m0 1h0m0 10h0m0 22h0m0 16h0m0 10h0m1-101h0m0 57h0m0 11h0m0 12h0m0 4h0m0 14h0m0 7h0m1-128h0m0 40h0m0 44h0m0 7h0m0 12h0m0 24h0m0 6h0m1-167h0m0 9h0m0 77h0m0 16h0m0 28h0m0 6h0m0 1h0m0 5h0m0 6h0m0 6h0m1-48h0m0 7h0m0 31h0m0 3h0m0 4h0m0 7h0m0 7h0m1-83h0m0 36h0m0 1h0m0 11h0m0 12h0m0 3h0m0 18h0m1-86h0m0 19h0m0 2h0m0 8h0m0 6h0m0 17h0m0 30h0m1-73h0m0 28h0m0 2h0m0 7h0m0 3h0m0 12h0m0 47h0m1-109h0m0 6h0m0 18h0m0 7h0m0 25h0m0 1h0m1-39h0m0 1h0m0 25h0m0 2h0m0 17h0m0 37h0m1-120h0m0 67h0m0 9h0m0 5h0m0 7h0m0 3h0m0 6h0m0 5h0m1-51h0m0 28h0m0 46h0m1-91h0m0 23h0m0 2h0m0 10h0m0 2h0m0 4h0m0 3h0m1-57h0m0 41h0m0 20h0m0 4h0m0 11h0m0 40h0m1-115h0m0 24h0m0 26h0m0 16h0m0 20h0m0 12h0m1-138h0m0 61h0m0 19h0m0 4h0m0 10h0m0 19h0m0 7h0m0 7h0m1-100h0m0 25h0m0 33h0m0 13h0m0 2h0m0 2h0m0 25h0m1-94h0m0 2h0m0 11h0m0 23h0m0 6h0m0 4h0m0 6h0m1-35h0m0 11h0m0 12h0m0 9h0m0 9h0m0 3h0m0 24h0m0 48h0m0 36h0m1-138h0m0 9h0m0 5h0m0 32h0m1-70h0m0 6h0m0 4h0m0 9h0m0 34h0m0 15h0m1-52h0m0 12h0m0 13h0m0 2h0m0 7h0m1-58h0m0 20h0m0 4h0m0 52h0m0 7h0m1-65h0m0 14h0m0 23h0m0 5h0m0 55h0m0 26h0m1-119h0m0 6h0m0 6h0m0 14h0m0 23h0m0 18h0m0 2h0m1-89h0m0 57h0m0 17h0m0 1h0m0 14h0m0 13h0m0 8h0m1-92h0m0 6h0m0 11h0m0 14h0m0 6h0m0 9h0m0 12h0m1-82h0m0 41h0m0 10h0m0 9h0m0 7h0m0 19h0m1-95h0m0 25h0m0 12h0m0 28h0m0 21h0m0 6h0m1-80h0m0 9h0m0 34h0m0 20h0m0 80h0m1-128h0m0 13h0m0 4h0m0 1h0m0 26h0m0 19h0m1-66h0m0 26h0m0 8h0m0 1h0m0 5h0m0 9h0m1-47h0m0 22h0m0 20h0m0 17h0m0 3h0m0 52h0m1-117h0m0 8h0m0 22h0m0 5h0m0 10h0m0 39h0m0 12h0m1-130h0m0 39h0m0 9h0m0 26h0m0 3h0m0 9h0m0 14h0m1-18h0m53-121h0m0 7h0m0 29h0m0 3h0m0 16h0m0 18h0m0 26h0m0 29h0m1-126h0m0 10h0m0 18h0m0 2h0m0 45h0m0 10h0m1-74h0m0 15h0m0 16h0m0 27h0m0 19h0m0 6h0m1-82h0m0 10h0m0 11h0m0 3h0m0 6h0m0 18h0m0 14h0m1-74h0m0 51h0m0 1h0m0 6h0m0 1h0m0 3h0m0 7h0m0 1h0m1-37h0m0 5h0m0 23h0m0 33h0m0 18h0m1-107h0m0 14h0m0 14h0m0 14h0m0 24h0m1-77h0m0 16h0m0 27h0m0 5h0m0 10h0m0 3h0m0 19h0m0 20h0m1-97h0m0 16h0m0 25h0m0 19h0m0 3h0m0 14h0m0 15h0m1-77h0m0 36h0m0 10h0m0 6h0m0 17h0m0 22h0m1-148h0m0 74h0m0 12h0m0 20h0m0 23h0m0 5h0m0 17h0m1-105h0m0 22h0m0 29h0m0 18h0m0 44h0m1-98h0m0 22h0m0 5h0m0 15h0m0 14h0m0 12h0m0 12h0m0 17h0m1-102h0m0 5h0m0 14h0m0 17h0m0 3h0m0 3h0m0 4h0m1-39h0m0 9h0m0 1h0m0 9h0m0 5h0m0 13h0m0 17h0m1-91h0m0 5h0m0 14h0m0 11h0m0 14h0m0 10h0m0 33h0m1-64h0m0 17h0m0 2h0m0 26h0m0 36h0m0 38h0m1-106h0m0 7h0m0 16h0m0 2h0m0 18h0m0 17h0m1-75h0m0 1h0m0 4h0m0 28h0m0 26h0m0 10h0m0 1h0m1-42h0m0 4h0m0 12h0m0 18h0m0 8h0m0 35h0m1-102h0m0 15h0m0 2h0m0 29h0m0 8h0m0 5h0m0 22h0m1-87h0m0 17h0m0 26h0m0 23h0m0 6h0m0 5h0m1-86h0m0 14h0m0 4h0m0 21h0m0 26h0m0 8h0m0 5h0m1-53h0m0 34h0m0 2h0m0 14h0m0 5h0m0 23h0m1-83h0m0 23h0m0 9h0m0 8h0m0 8h0m0 22h0m0 4h0m0 66h0m1-118h0m0 6h0m0 7h0m0 2h0m0 11h0m0 3h0m1-41h0m0 8h0m0 30h0m0 16h0m0 4h0m0 34h0m1-94h0m0 17h0m0 1h0m0 25h0m0 31h0m0 10h0m1-89h0m0 17h0m0 39h0m0 13h0m0 4h0m0 4h0m0 16h0m1-116h0m0 17h0m0 12h0m0 8h0m0 24h0m0 2h0m0 47h0m1-93h0m0 15h0m0 35h0m0 3h0m0 10h0m0 1h0m0 5h0m0 14h0m1-94h0m0 27h0m0 25h0m0 10h0m0 36h0m1-74h0m0 12h0m0 7h0m0 23h0m0 3h0m0 1h0m0 1h0m1-40h0m0 5h0m0 12h0m0 3h0m0 53h0m1-74h0m0 27h0m0 8h0m0 8h0m0 5h0m0 8h0m1-63h0m0 12h0m0 3h0m0 9h0m0 7h0m0 7h0m0 3h0m0 12h0m1-35h0m0 12h0m0 12h0m0 9h0m0 20h0m0 10h0m1-62h0m0 17h0m0 16h0m0 1h0m0 7h0m0 1h0m0 18h0m1-68h0m0 9h0m0 29h0m0 29h0m0 1h0m0 8h0m1-87h0m0 5h0m0 2h0m0 8h0m0 23h0m1-49h0m0 15h0m0 2h0m0 2h0m0 16h0m0 5h0m0 11h0m1-74h0m0 46h0m0 5h0m0 9h0m0 1h0m0 7h0m0 74h0m1-116h0m0 28h0m0 5h0m0 10h0m0 19h0m0 12h0m0 17h0m1-137h0m0 68h0m0 15h0m0 12h0m0 5h0m0 3h0m0 42h0m1-72h0m0 4h0m0 12h0m0 7h0m0 5h0m0 10h0m0 6h0m0 1h0m1-70h0m0 7h0m0 4h0m0 6h0m0 25h0m0 19h0m0 4h0m1-79h0m0 17h0m0 15h0m0 18h0m0 26h0m0 12h0m0 49h0m1-119h0m0 7h0m0 9h0m0 13h0m0 3h0m0 76h0m1-139h0m0 61h0m0 17h0m0 20h0m0 9h0m1-92h0m0 3h0m0 33h0m0 18h0m0 4h0m0 2h0m0 16h0m1-85h0m0 21h0m0 8h0m0 21h0m0 22h0m0 8h0m1-50h0m0 6h0m0 8h0m0 47h0m0 1h0m0 10h0m0 18h0m0 18h0m1-106h0m0 8h0m0 3h0m0 13h0m0 7h0m0 10h0m1-67h0m0 28h0m0 20h0m0 5h0m1-61h0m0 23h0m0 16h0m0 10h0m0 4h0m0 14h0m0 48h0m0 46h0m1-129h0m0 11h0m0 8h0m0 15h0m0 4h0m0 9h0m0 6h0m1-47h0m0 18h0m0 8h0m0 1h0m0 7h0m0 2h0m0 44h0m1-155h0m0 42h0m0 17h0m0 13h0m0 24h0m0 45h0m0 50h0m1-165h0m0 17h0m0 22h0m0 16h0m0 39h0m0 5h0m1-100h0m0 28h0m0 1h0m0 26h0m0 14h0m0 32h0m0 19h0m0 1h0m1-73h0m0 12h0m0 3h0m0 3h0m0 25h0m0 28h0m1-108h0m0 40h0m0 32h0m0 5h0m0 5h0m0 9h0m1-70h0m0 1h0m0 31h0m0 7h0m0 4h0m0 5h0m0 18h0m0 5h0m1-93h0m0 21h0m0 34h0m0 5h0m1-29h0m0 20h0m0 1h0m0 20h0m0 3h0m0 9h0m0 30h0m1-76h0m0 3h0m0 31h0m0 18h0m0 5h0m1-86h0m0 17h0m0 17h0m0 10h0m0 10h0m0 19h0m1-76h0m0 48h0m0 4h0m0 9h0m0 7h0m0 11h0m0 21h0m0 17h0m1-93h0m0 12h0m0 1h0m0 6h0m0 6h0m0 23h0m0 2h0m1-61h0m0 4h0m0 64h0m0 5h0m0 4h0m0 7h0m1-101h0m0 43h0m0 14h0m0 7h0m0 27h0m0 15h0m1-82h0m0 23h0m0 12h0m0 4h0m0 7h0m0 6h0m0 1h0m0 12h0m1-124h0m0 58h0m0 27h0m0 10h0m0 4h0m0 31h0m0 2h0m1-76h0m0 7h0m0 18h0m0 23h0m0 19h0m0 20h0m1-91h0m0 5h0m0 15h0m0 6h0m0 12h0m0 40h0m1-79h0m0 2h0m0 13h0m0 22h0m0 6h0m0 58h0m1-90h0m0 16h0m0 5h0m0 17h0m0 9h0m0 3h0m0 15h0m1-72h0m0 16h0m0 11h0m0 9h0m0 14h0m0 4h0m0 17h0m1-58h0m0 7h0m0 9h0m0 26h0m0 9h0m0 2h0m0 32h0m1-79h0m0 23h0m0 5h0m0 14h0m0 2h0m1-46h0m0 21h0m0 1h0m0 33h0m0 12h0m0 88h0m1-147h0m0 2h0m0 25h0m0 9h0m0 6h0m1-73h0m0 27h0m0 17h0m0 16h0m0 4h0m0 14h0m1-89h0m0 6h0m0 54h0m0 6h0m0 10h0m0 35h0m1-86h0m0 2h0m0 1h0m0 13h0m0 10h0m0 3h0m0 20h0m1-60h0m0 16h0m0 1h0m0 6h0m0 36h0m0 26h0m0 11h0m1-69h0m0 3h0m0 7h0m0 8h0m0 41h0m0 5h0m1-73h0m0 3h0m0 29h0m0 1h0m0 21h0m1-60h0m0 2h0m0 1h0m0 26h0m0 24h0m0 9h0m1-104h0m0 65h0m0 5h0m0 11h0m0 12h0m0 4h0m0 32h0m1-122h0m0 36h0m0 11h0m0 11h0m0 3h0m0 20h0m1-71h0m0 46h0m0 11h0m0 5h0m0 3h0m0 19h0m0 9h0m1-115h0m0 17h0m0 18h0m0 36h0m0 6h0m0 6h0m0 1h0m0 8h0m1-79h0m0 39h0m0 30h0m0 7h0m0 39h0m1-84h0m0 16h0m0 6h0m0 7h0m0 14h0m0 4h0m0 10h0m0 21h0m1-101h0m0 23h0m0 7h0m0 12h0m0 6h0m0 2h0m1-27h0m0 6h0m0 2h0m0 7h0m0 3h0m0 37h0m0 2h0m1-85h0m0 36h0m0 10h0m0 12h0m0 2h0m0 5h0m0 9h0m0 25h0m1-101h0m0 24h0m0 21h0m0 36h0m0 5h0m0 27h0m1-104h0m0 49h0m0 4h0m0 4h0m0 14h0m0 4h0m1-49h0m0 4h0m0 5h0m0 3h0m0 5h0m0 10h0m0 15h0m1-64h0m0 13h0m0 27h0m0 5h0m0 16h0m0 24h0m0 12h0m1-93h0m0 7h0m0 3h0m0 10h0m0 27h0m0 13h0m0 24h0m0 2h0m1-96h0m0 50h0m0 4h0m0 4h0m1-36h0m0 13h0m0 2h0m0 7h0m0 10h0m0 19h0m0 4h0m0 6h0m1-85h0m0 38h0m0 3h0m0 9h0m0 4h0m0 15h0m0 5h0m1-62h0m0 26h0m0 4h0m0 5h0m0 13h0m0 3h0m0 50h0m0 2h0m1-114h0m0 43h0m0 34h0m0 4h0m0 17h0m0 23h0m0 4h0m1-121h0m0 56h0m0 3h0m0 2h0m0 8h0m0 7h0m0 29h0m1-105h0m0 32h0m0 18h0m0 1h0m0 17h0m0 9h0m1-94h0m0 21h0m0 28h0m0 24h0m0 1h0m0 31h0m0 43h0m1-266h0m0 161h0m0 10h0m0 15h0m0 15h0m0 22h0m0 2h0m0 25h0m1-111h0m0 26h0m0 17h0m0 6h0m0 8h0m0 6h0m0 5h0m1-40h0m0 5h0m0 25h0m0 18h0m0 5h0m1-39h0m0 6h0m0 9h0m0 6h0m0 4h0m0 10h0m1-82h0m0 5h0m0 31h0m0 1h0m0 60h0m0 2h0m1-107h0m0 22h0m0 11h0m0 4h0m0 17h0m0 11h0m0 55h0m1-102h0m0 2h0m0 19h0m0 9h0m0 12h0m0 1h0m0 22h0m1-23h0m0 7h0m0 2h0m0 4h0m0 20h0m0 3h0m0 34h0m1-109h0m0 5h0m0 21h0m0 5h0m0 5h0m0 10h0m0 10h0m1-32h0m0 3h0m0 25h0m0 6h0m0 7h0m0 8h0m0 12h0m1-78h0m0 9h0m0 20h0m0 12h0m0 20h0m0 44h0m1-97h0m0 4h0m0 4h0m0 19h0m0 10h0m0 29h0m1-81h0m0 6h0m0 6h0m0 15h0m0 5h0m0 3h0m0 34h0m1-83h0m0 18h0m0 35h0m0 3h0m0 16h0m0 32h0m0 11h0m1-103h0m0 12h0m0 3h0m0 33h0m0 5h0m0 10h0m0 3h0m1-47h0m0 13h0m0 38h0m0 20h0m0 45h0m1-119h0m0 9h0m0 10h0m0 11h0m0 3h0m0 20h0m1-94h0m0 55h0m0 10h0m0 9h0m0 5h0m0 47h0m1-90h0m0 34h0m0 10h0m0 6h0m0 3h0m0 13h0m0 20h0m1-91h0m0 14h0m0 19h0m0 11h0m0 8h0m0 36h0m0 2h0m1-95h0m0 27h0m0 39h0m0 7h0m0 14h0m1-91h0m0 22h0m0 5h0m0 1h0m0 2h0m0 9h0m0 36h0m1-66h0m0 19h0m0 5h0m0 13h0m0 10h0m0 15h0m1-93h0m0 16h0m0 43h0m0 1h0m0 8h0m0 3h0m0 26h0m1-41h0m0 8h0m0 5h0m0 7h0m0 15h0m0 9h0m1-57h0m0 3h0m0 34h0m0 21h0m0 10h0m0 8h0m1-76h0m0 2h0m0 22h0m0 22h0m0 16h0m0 10h0m1-96h0m0 49h0m0 15h0m0 2h0m0 3h0m0 25h0m0 15h0m0 74h0m0 19h0m1-199h0m0 24h0m0 14h0m0 18h0m0 13h0m0 21h0m0 11h0m0 37h0m1-129h0m0 34h0m0 5h0m0 17h0m0 12h0m0 19h0m1-118h0m0 50h0m0 14h0m0 6h0m0 14h0m0 1h0m0 17h0m0 2h0m1-99h0m0 50h0m0 2h0m0 2h0m0 15h0m0 11h0m1-69h0m0 17h0m0 17h0m0 2h0m0 12h0m0 5h0m0 3h0m0 92h0m1-102h0m0 5h0m0 7h0m0 12h0m0 3h0m0 23h0m1-58h0m0 2h0m0 13h0m0 10h0m0 5h0m0 44h0m1-69h0m0 7h0m0 9h0m0 28h0m1-37h0m0 21h0m0 4h0m0 4h0m0 54h0m1-121h0m0 19h0m0 26h0m0 6h0m0 56h0m1-72h0m0 7h0m0 4h0m0 10h0m0 16h0m0 6h0m0 10h0m1-90h0m0 16h0m0 4h0m0 2h0m0 8h0m0 87h0m1-70h0m0 19h0m0 2h0m0 10h0m0 9h0m0 9h0m1-95h0m0 7h0m0 28h0m0 22h0m0 2h0m0 6h0m0 15h0m1-74h0m0 6h0m0 5h0m0 3h0m0 18h0m0 43h0m1-48h0m0 1h0m0 9h0m0 8h0m0 7h0m0 2h0m0 7h0m0 17h0m1-103h0m0 32h0m0 15h0m0 10h0m0 22h0m0 21h0m0 3h0m1-67h0m0 7h0m0 18h0m0 1h0m0 1h0m0 21h0m0 17h0m1-78h0m0 29h0m0 2h0m0 1h0m0 17h0m0 30h0m1-120h0m0 8h0m0 28h0m0 19h0m0 39h0m0 17h0m1-63h0m0 8h0m0 6h0m0 21h0m0 4h0m0 18h0m0 2h0m0 19h0m1-60h0m0 3h0m0 23h0m0 6h0m0 2h0m1-69h0m0 73h0m0 1h0m0 14h0m0 31h0m0 8h0m1-99h0m0 22h0m0 14h0m0 24h0m0 26h0m1-106h0m0 25h0m0 9h0m0 7h0m0 5h0m0 18h0m0 4h0m0 16h0m1-68h0m0 30h0m0 12h0m0 5h0m0 4h0m0 22h0m1-77h0m0 8h0m0 9h0m0 3h0m0 10h0m0 33h0m0 9h0m1-68h0m0 19h0m0 4h0m0 10h0m0 15h0m0 33h0m1-77h0m0 30h0m0 5h0m0 6h0m0 5h0m0 23h0m1-41h0m0 11h0m0 2h0m0 4h0m0 3h0m0 4h0m0 12h0m1-74h0m0 4h0m0 18h0m0 24h0m0 16h0m1-54h0m0 11h0m0 1h0m0 9h0m0 10h0m0 53h0m1-98h0m0 8h0m0 16h0m0 7h0m0 14h0m0 10h0m0 45h0m1-92h0m0 12h0m0 20h0m0 9h0m0 4h0m0 42h0m1-109h0m0 44h0m0 34h0m0 1h0m1-40h0m0 8h0m0 13h0m0 10h0m0 16h0m0 20h0m1-98h0m0 23h0m0 20h0m0 2h0m0 31h0m0 7h0m1-71h0m0 33h0m0 3h0m0 9h0m0 67h0m0 19h0m1-124h0m0 8h0m0 9h0m0 15h0m0 15h0m0 17h0m1-54h0m0 18h0m0 8h0m0 6h0m0 2h0m0 6h0m1-55h0m0 6h0m0 26h0m0 9h0m0 12h0m0 9h0m0 11h0m0 10h0m1-109h0m0 14h0m0 10h0m0 13h0m0 19h0m0 10h0m1-32h0m0 8h0m0 4h0m0 3h0m0 4h0m0 19h0m0 17h0m0 12h0m1-70h0m0 6h0m0 21h0m0 7h0m0 7h0m0 38h0m0 3h0m1-74h0m0 6h0m0 14h0m0 23h0m0 4h0m0 23h0m1-138h0m0 56h0m0 26h0m0 8h0m0 18h0m0 3h0m1-39h0m0 13h0m0 7h0m0 9h0m0 5h0m0 14h0m1-87h0m0 9h0m0 37h0m0 3h0m0 13h0m0 8h0m0 6h0m1-71h0m0 32h0m0 7h0m0 1h0m0 2h0m0 33h0m0 13h0m1-88h0m0 52h0m0 7h0m0 8h0m0 13h0m0 1h0m1-65h0m0 20h0m0 18h0m0 2h0m0 18h0m0 34h0m1-70h0m0 3h0m0 43h0m0 3h0m1-56h0m0 27h0m0 10h0m0 2h0m0 3h0m0 8h0m0 18h0m1-73h0m0 16h0m0 12h0m0 9h0m0 33h0m0 9h0m1-100h0m0 33h0m0 8h0m0 9h0m0 10h0m0 4h0m0 19h0m1-95h0m0 25h0m0 15h0m0 10h0m0 2h0m0 19h0m0 2h0m1-35h0m0 13h0m64 111h0m0 79h0m0 25h0m0 1h0m1-120h0m0 30h0m0 48h0m0 2h0m0 23h0m0 5h0m0 5h0m0 2h0m1-40h0m0 4h0m0 35h0m0 10h0m0 3h0m0 1h0m0 17h0m1-146h0m0 4h0m0 17h0m0 42h0m0 26h0m0 7h0m0 13h0m0 38h0m1-127h0m0 38h0m0 17h0m0 20h0m0 3h0m0 23h0m0 9h0m0 7h0m1-144h0m0 8h0m0 27h0m0 61h0m0 14h0m0 22h0m0 8h0m1-87h0m0 14h0m0 15h0m0 9h0m0 32h0m0 1h0m0 1h0m0 24h0m1-59h0m0 9h0m0 32h0m0 5h0m0 7h0m0 7h0m1-68h0m0 25h0m0 5h0m0 5h0m0 1h0m0 8h0m0 11h0m0 20h0m1-142h0m0 87h0m0 9h0m0 8h0m0 5h0m0 18h0m0 47h0m1-198h0m0 35h0m0 62h0m0 20h0m0 16h0m0 1h0m1-123h0m0 1h0m0 20h0m0 91h0m0 36h0m0 5h0m0 22h0m1-183h0m0 36h0m0 69h0m0 18h0m0 11h0m0 5h0m0 1h0m1-132h0m0 79h0m0 31h0m0 13h0m0 13h0m0 17h0m1-136h0m0 68h0m0 3h0m0 19h0m0 7h0m0 32h0m1-175h0m0 100h0m0 24h0m0 2h0m0 2h0m0 27h0m1-163h0m0 10h0m0 62h0m0 68h0m0 3h0m0 5h0m0 25h0m0 5h0m1-142h0m0 75h0m0 20h0m0 5h0m0 34h0m0 10h0m1-147h0m0 48h0m0 40h0m0 22h0m0 9h0m0 44h0m0 14h0m1-210h0m0 99h0m0 16h0m0 38h0m0 8h0m0 39h0m1-146h0m0 13h0m0 34h0m0 53h0m0 7h0m0 2h0m0 21h0m1-198h0m0 137h0m0 1h0m0 11h0m0 11h0m0 11h0m0 19h0m0 13h0m1-177h0m0 12h0m0 14h0m0 93h0m0 21h0m0 18h0m0 5h0m1-172h0m0 5h0m0 26h0m0 15h0m0 102h0m0 7h0m0 21h0m1-169h0m0 28h0m0 118h0m0 12h0m0 3h0m0 8h0m1-134h0m0 13h0m0 89h0m0 4h0m0 12h0m0 1h0m0 23h0m1-162h0m0 46h0m0 44h0m0 35h0m0 7h0m0 3h0m0 11h0m0 17h0m1-154h0m0 16h0m0 85h0m0 5h0m0 14h0m0 11h0m0 17h0m1-198h0m0 41h0m0 4h0m0 2h0m0 83h0m0 10h0m0 2h0m0 18h0m1-111h0m0 76h0m0 5h0m0 3h0m0 34h0m0 1h0m0 35h0m1-79h0m0 17h0m0 5h0m0 4h0m0 17h0m0 18h0m0 4h0m1-147h0m0 8h0m0 36h0m0 56h0m0 5h0m0 18h0m0 56h0m1-51h0m0 8h0m0 5h0m0 5h0m0 6h0m0 15h0m1-176h0m0 7h0m0 1h0m0 81h0m0 33h0m0 20h0m0 17h0m0 3h0m1-178h0m0 1h0m0 65h0m0 34h0m0 25h0m0 12h0m0 27h0m0 44h0m1-156h0m0 12h0m0 57h0m0 18h0m0 4h0m0 13h0m0 63h0m1-240h0m0 63h0m0 66h0m0 6h0m0 27h0m0 11h0m0 20h0m0 8h0m1-141h0m0 3h0m0 106h0m0 8h0m0 1h0m0 9h0m0 10h0m1-174h0m0 2h0m0 48h0m0 10h0m0 57h0m0 29h0m0 27h0m0 29h0m1-194h0m0 27h0m0 39h0m0 70h0m0 11h0m0 7h0m0 4h0m1-170h0m0 8h0m0 7h0m0 35h0m0 79h0m0 5h0m0 3h0m1-31h0m0 8h0m0 28h0m0 5h0m0 4h0m0 2h0m0 14h0m1-187h0m0 70h0m0 12h0m0 83h0m0 2h0m0 12h0m1-159h0m0 20h0m0 115h0m0 4h0m0 24h0m1-86h0m0 59h0m0 6h0m0 12h0m0 7h0m0 2h0m0 7h0m1-153h0m0 4h0m0 44h0m0 57h0m0 3h0m0 22h0m1-128h0m0 8h0m0 45h0m0 21h0m0 23h0m0 4h0m0 28h0m0 40h0m1-132h0m0 57h0m0 34h0m0 7h0m0 12h0m0 37h0m1-219h0m0 25h0m0 7h0m0 15h0m0 112h0m0 8h0m0 7h0m0 3h0m1-169h0m0 41h0m0 17h0m0 62h0m0 27h0m0 13h0m0 31h0m0 6h0m1-151h0m0 96h0m0 3h0m0 5h0m0 22h0m0 19h0m1-136h0m0 97h0m0 9h0m0 13h0m0 3h0m0 16h0m1-165h0m0 116h0m0 3h0m0 9h0m0 8h0m0 5h0m0 13h0m1-161h0m0 26h0m0 35h0m0 54h0m0 17h0m0 5h0m0 24h0m0 7h0m1-154h0m0 17h0m0 83h0m0 15h0m0 11h0m0 5h0m0 26h0m1-189h0m0 54h0m0 51h0m0 12h0m0 14h0m0 1h0m0 49h0m1-167h0m0 36h0m0 78h0m0 3h0m0 16h0m0 9h0m0 15h0m0 31h0m1-169h0m0 7h0m0 95h0m0 9h0m0 1h0m0 1h0m0 31h0m1-170h0m0 30h0m0 87h0m0 14h0m0 15h0m0 2h0m0 9h0m1-161h0m0 111h0m0 3h0m0 14h0m0 3h0m0 7h0m0 21h0m1-28h0m0 8h0m0 9h0m0 6h0m0 10h0m1-164h0m0 20h0m0 17h0m0 79h0m0 6h0m0 2h0m0 17h0m0 37h0m1-172h0m0 95h0m0 6h0m0 6h0m0 33h0m1-118h0m0 110h0m0 4h0m0 3h0m0 3h0m0 7h0m0 14h0m0 4h0m1-143h0m0 10h0m0 1h0m0 89h0m0 12h0m0 4h0m0 1h0m0 6h0m1-144h0m0 33h0m0 69h0m0 6h0m0 4h0m0 2h0m0 10h0m1-126h0m0 4h0m0 29h0m0 57h0m0 40h0m0 16h0m0 2h0m0 3h0m1-133h0m0 16h0m0 47h0m0 25h0m0 13h0m0 35h0m1-146h0m0 2h0m0 44h0m0 48h0m0 22h0m0 4h0m0 17h0m0 8h0m1-40h0m0 1h0m0 9h0m0 11h0m0 4h0m0 4h0m0 9h0m0 13h0m1-126h0m0 49h0m0 43h0m0 1h0m0 5h0m0 17h0m0 13h0m1-126h0m0 64h0m0 14h0m0 6h0m0 24h0m1-156h0m0 21h0m0 99h0m0 6h0m0 9h0m0 62h0m1-180h0m0 22h0m0 75h0m0 29h0m0 5h0m0 7h0m0 26h0m1-148h0m0 2h0m0 61h0m0 29h0m0 5h0m0 2h0m0 21h0m0 14h0m1-53h0m0 3h0m0 4h0m0 16h0m0 4h0m0 5h0m0 46h0m1-171h0m0 19h0m0 15h0m0 78h0m0 8h0m0 7h0m0 18h0m0 3h0m1-106h0m0 53h0m0 7h0m0 2h0m0 25h0m1-138h0m0 39h0m0 40h0m0 37h0m0 10h0m0 6h0m0 8h0m0 5h0m1-175h0m0 34h0m0 24h0m0 3h0m0 63h0m0 25h0m0 11h0m0 19h0m1-56h0m0 1h0m0 12h0m0 19h0m0 20h0m1-133h0m0 25h0m0 53h0m0 11h0m0 7h0m0 9h0m0 16h0m1-104h0m0 73h0m0 5h0m0 5h0m0 10h0m0 3h0m0 30h0m1-56h0m0 8h0m0 7h0m0 10h0m0 4h0m0 8h0m0 19h0m1-166h0m0 95h0m0 22h0m0 3h0m0 6h0m0 24h0m1-122h0m0 27h0m0 32h0m0 7h0m0 45h0m1-138h0m0 1h0m0 76h0m0 13h0m0 22h0m0 28h0m0 10h0m1-156h0m0 102h0m0 7h0m0 4h0m0 28h0m0 1h0m0 25h0m1-134h0m0 12h0m0 59h0m0 27h0m0 9h0m0 11h0m1-130h0m0 72h0m0 6h0m0 16h0m0 7h0m0 8h0m0 25h0m1-118h0m0 73h0m0 7h0m0 8h0m0 8h0m0 5h0m1-118h0m0 25h0m0 52h0m0 8h0m0 20h0m0 14h0m0 6h0m0 10h0m1-139h0m0 8h0m0 7h0m0 83h0m0 13h0m0 5h0m1-139h0m0 41h0m0 81h0m0 16h0m0 11h0m0 27h0m1-164h0m0 18h0m0 3h0m0 77h0m0 2h0m0 17h0m0 22h0m0 14h0m1-129h0m0 38h0m0 34h0m0 7h0m0 10h0m0 9h0m0 19h0m1-102h0m0 15h0m0 4h0m0 31h0m0 22h0m0 2h0m0 5h0m0 14h0m1-127h0m0 11h0m0 1h0m0 13h0m0 98h0m0 15h0m1-182h0m0 61h0m0 11h0m0 14h0m0 29h0m0 44h0m0 34h0m1-136h0m0 28h0m0 6h0m0 4h0m0 53h0m0 23h0m1-157h0m0 23h0m0 12h0m0 4h0m0 55h0m0 16h0m0 47h0m1-130h0m0 7h0m0 19h0m0 10h0m0 5h0m0 32h0m0 39h0m0 1h0m1-113h0m0 35h0m0 6h0m0 15h0m0 3h0m0 54h0m0 15h0m1-149h0m0 31h0m0 7h0m0 17h0m0 11h0m0 15h0m0 62h0m0 5h0m1-128h0m0 4h0m0 7h0m0 2h0m0 24h0m0 1h0m0 78h0m0 25h0m1-174h0m0 16h0m0 10h0m0 14h0m0 46h0m0 1h0m0 68h0m1-146h0m0 60h0m0 63h0m0 28h0m0 4h0m0 2h0m1-134h0m0 6h0m0 10h0m0 6h0m0 13h0m0 7h0m0 48h0m1-77h0m0 6h0m0 9h0m0 6h0m0 24h0m0 60h0m0 13h0m1-149h0m0 18h0m0 2h0m0 14h0m0 37h0m0 12h0m0 84h0m1-185h0m0 24h0m0 11h0m0 9h0m0 26h0m0 87h0m1-124h0m0 15h0m0 7h0m0 13h0m0 97h0m0 2h0m0 12h0m1-155h0m0 28h0m0 8h0m0 74h0m0 15h0m0 16h0m1-165h0m0 38h0m0 9h0m0 20h0m0 2h0m0 71h0m0 19h0m0 2h0m1-125h0m0 10h0m0 10h0m0 8h0m0 25h0m0 13h0m0 5h0m0 24h0m1-98h0m0 12h0m0 27h0m0 13h0m0 10h0m1-67h0m0 8h0m0 23h0m0 5h0m0 23h0m0 3h0m0 45h0m0 39h0m1-172h0m0 14h0m0 35h0m0 1h0m0 5h0m0 47h0m0 52h0m1-138h0m0 53h0m0 11h0m0 1h0m0 20h0m0 32h0m0 32h0m1-157h0m0 3h0m0 16h0m0 20h0m0 58h0m0 5h0m0 37h0m1-105h0m0 10h0m0 36h0m0 63h0m1-130h0m0 27h0m0 10h0m0 5h0m0 8h0m0 54h0m1-109h0m0 37h0m0 12h0m0 3h0m0 11h0m0 15h0m0 29h0m1-106h0m0 2h0m0 18h0m0 20h0m0 1h0m0 11h0m0 2h0m1-78h0m0 23h0m0 23h0m0 7h0m1-24h0m0 34h0m0 2h0m0 7h0m0 14h0m0 37h0m1-86h0m0 33h0m0 69h0m1-105h0m0 13h0m0 5h0m0 12h0m0 7h0m0 33h0m1-60h0m0 27h0m0 6h0m0 2h0m0 16h0m0 26h0m0 11h0m0 12h0m1-132h0m0 50h0m0 10h0m0 6h0m0 56h0m0 14h0m1-104h0m0 22h0m0 40h0m0 10h0m0 25h0m1-93h0m0 2h0m0 36h0m0 2h0m0 20h0m1-57h0m0 1h0m0 5h0m0 38h0m0 41h0m1-90h0m0 9h0m0 12h0m0 6h0m0 13h0m0 33h0m0 20h0m1-71h0m0 6h0m0 2h0m0 16h0m0 3h0m0 27h0m1-81h0m0 19h0m0 18h0m0 9h0m0 5h0m0 39h0m1-89h0m0 19h0m0 5h0m0 15h0m0 9h0m0 42h0m1-93h0m0 10h0m0 4h0m0 10h0m0 18h0m0 45h0m1-107h0m0 8h0m0 4h0m0 15h0m0 3h0m0 28h0m0 68h0m1-97h0m0 20h0m0 4h0m0 9h0m0 5h0m0 40h0m0 2h0m1-66h0m0 14h0m0 4h0m0 8h0m0 4h0m0 30h0m1-81h0m0 6h0m0 24h0m0 27h0m0 24h0m1-76h0m0 2h0m0 11h0m0 5h0m0 15h0m0 12h0m0 3h0m1-51h0m0 10h0m0 3h0m0 9h0m0 3h0m0 22h0m0 10h0m1-60h0m0 9h0m0 25h0m0 11h0m0 13h0m0 25h0m1-98h0m0 39h0m0 14h0m0 23h0m0 33h0m1-103h0m0 20h0m0 10h0m0 5h0m0 14h0m0 12h0m0 1h0m0 8h0m1-76h0m0 2h0m0 29h0m0 31h0m0 14h0m0 28h0m1-63h0m0 2h0m0 1h0m0 11h0m0 20h0m0 3h0m0 43h0m1-109h0m0 22h0m0 16h0m0 11h0m0 6h0m0 9h0m1-73h0m0 34h0m0 29h0m0 8h0m0 7h0m0 3h0m0 39h0m1-134h0m0 40h0m0 19h0m0 8h0m0 25h0m0 6h0m0 7h0m1-33h0m0 5h0m0 5h0m0 12h0m0 8h0m1-65h0m0 8h0m0 2h0m0 23h0m0 8h0m0 28h0m1-57h0m0 12h0m0 6h0m0 10h0m0 6h0m0 7h0m0 35h0m1-68h0m0 3h0m0 19h0m0 21h0m0 19h0m1-102h0m0 36h0m0 28h0m0 5h0m0 12h0m0 20h0m1-91h0m0 23h0m0 14h0m0 4h0m0 5h0m0 13h0m0 49h0m1-99h0m0 23h0m0 4h0m0 24h0m0 9h0m0 6h0m0 11h0m1-65h0m0 8h0m0 21h0m0 41h0m0 3h0m0 2h0m1-89h0m0 15h0m0 12h0m0 7h0m0 20h0m0 10h0m0 2h0m1-62h0m0 11h0m0 17h0m0 6h0m0 2h0m0 24h0m0 21h0m1-84h0m0 18h0m0 38h0m0 3h0m0 4h0m1-54h0m0 5h0m0 3h0m0 4h0m0 23h0m0 11h0m0 7h0m1-50h0m0 14h0m0 3h0m0 21h0m0 10h0m0 33h0m1-54h0m0 3h0m0 28h0m0 17h0m0 4h0m1-73h0m0 10h0m0 2h0m0 11h0m0 14h0m0 23h0m0 3h0m1-93h0m0 5h0m0 29h0m0 11h0m0 7h0m0 1h0m0 29h0m1-87h0m0 37h0m0 32h0m0 4h0m0 3h0m0 4h0m0 8h0m1-46h0m0 25h0m0 4h0m0 10h0m0 11h0m1-49h0m0 5h0m0 16h0m0 13h0m1-19h0m0 11h0m0 5h0m0 10h0m0 16h0m0 2h0m1-71h0m0 6h0m0 30h0m0 9h0m0 2h0m0 7h0m1-71h0m0 35h0m0 3h0m0 9h0m0 6h0m0 34h0m0 8h0m1-50h0m0 18h0m0 5h0m0 5h0m0 5h0m0 3h0m0 19h0m1-96h0m0 23h0m0 14h0m0 13h0m0 28h0m1-74h0m0 47h0m0 20h0m0 5h0m1-63h0m0 29h0m0 16h0m0 2h0m0 5h0m0 5h0m0 17h0m1-79h0m0 17h0m0 11h0m0 23h0m0 1h0m0 15h0m1-43h0m0 9h0m0 12h0m0 13h0m0 6h0m0 14h0m0 3h0m1-53h0m0 19h0m0 6h0m0 29h0m0 9h0m1-58h0m0 2h0m0 6h0m0 3h0m0 13h0m0 4h0m0 23h0m1-80h0m0 25h0m0 21h0m0 6h0m0 2h0m1-26h0m0 20h0m0 28h0m76-14h0m0 4h0m0 2h0m0 3h0m0 16h0m0 2h0m1-20h0m0 6h0m0 3h0m1-6h0m0 6h0m0 3h0m0 6h0m1-23h0m0 11h0m0 11h0m1-27h0m0 9h0m0 10h0m0 5h0m0 2h0m1-35h0m0 16h0m0 3h0m0 5h0m2-27h0m0 11h0m0 14h0m0 11h0m1-30h0m0 16h0m0 9h0m0 3h0m0 9h0m1-26h0m0 15h0m0 11h0m1-52h0m0 15h0m0 17h0m0 6h0m0 8h0m1-28h0m0 21h0m0 8h0m0 2h0m0 3h0m1-38h0m0 14h0m0 5h0m0 15h0m1-29h0m0 2h0m0 17h0m0 11h0m1-27h0m0 21h0m0 2h0m0 4h0m1-25h0m0 2h0m0 3h0m0 5h0m0 8h0m0 4h0m1-9h0m0 7h0m1-20h0m0 9h0m0 11h0m0 8h0m1-32h0m0 6h0m0 5h0m0 1h0m0 4h0m1-30h0m0 2h0m0 19h0m0 20h0m1-49h0m0 24h0m0 3h0m0 3h0m0 13h0m1-24h0m0 4h0m0 4h0m0 19h0m0 2h0m1-29h0m0 18h0m0 4h0m0 3h0m0 3h0m0 6h0m1-45h0m0 8h0m0 4h0m0 15h0m0 5h0m1-19h0m0 10h0m0 11h0m0 4h0m1-32h0m0 27h0m0 10h0m1-45h0m0 6h0m0 40h0m1-34h0m0 9h0m0 7h0m0 8h0m1-31h0m0 19h0m0 4h0m0 2h0m0 14h0m0 4h0m1-49h0m0 10h0m0 5h0m0 24h0m1-41h0m0 2h0m0 6h0m0 16h0m0 2h0m0 11h0m1-28h0m0 3h0m0 1h0m0 22h0m1-19h0m0 1h0m0 1h0m0 26h0m1-45h0m0 31h0m0 7h0m0 1h0m0 7h0m0 2h0m1-40h0m0 11h0m0 16h0m0 5h0m1-18h0m0 5h0m0 4h0m0 13h0m0 1h0m1-39h0m0 19h0m0 16h0m0 10h0m1-40h0m0 11h0m0 13h0m0 1h0m0 5h0m0 8h0m1-37h0m0 5h0m0 5h0m0 1h0m0 20h0m1-40h0m0 10h0m1-54h0m0 21h0m0 42h0m0 12h0m0 8h0m0 2h0m0 7h0m1-53h0m0 11h0m0 6h0m0 8h0m0 11h0m0 10h0m1-68h0m0 29h0m0 12h0m0 13h0m0 20h0m1-56h0m0 7h0m0 3h0m0 25h0m0 2h0m0 1h0m0 19h0m1-59h0m0 3h0m0 5h0m0 22h0m0 19h0m0 11h0m1-49h0m0 9h0m0 13h0m0 11h0m0 4h0m1-53h0m0 13h0m0 15h0m0 5h0m0 22h0m1-54h0m0 8h0m0 14h0m0 3h0m0 4h0m1-33h0m0 2h0m0 11h0m0 28h0m0 7h0m0 3h0m0 14h0m1-56h0m0 8h0m0 1h0m0 6h0m0 7h0m0 12h0m0 2h0m1-77h0m0 19h0m0 21h0m0 2h0m0 10h0m0 28h0m0 4h0m1-60h0m0 6h0m0 40h0m0 6h0m0 6h0m0 1h0m1-58h0m0 16h0m0 19h0m0 2h0m0 5h0m0 2h0m0 2h0m1-38h0m0 3h0m0 8h0m0 43h0m0 1h0m0 9h0m1-50h0m0 7h0m0 4h0m0 4h0m0 11h0m0 6h0m1-69h0m0 30h0m0 13h0m0 3h0m0 13h0m0 11h0m1-45h0m0 18h0m0 6h0m0 5h0m0 13h0m1-66h0m0 26h0m0 14h0m0 18h0m0 2h0m0 27h0m1-112h0m0 6h0m0 51h0m0 8h0m0 3h0m1-73h0m0 51h0m0 9h0m0 2h0m0 4h0m0 10h0m0 22h0m1-125h0m0 52h0m0 5h0m0 15h0m0 3h0m0 6h0m0 5h0m0 43h0m1-75h0m0 8h0m0 9h0m0 10h0m0 17h0m0 2h0m1-78h0m0 14h0m0 8h0m0 2h0m0 2h0m0 11h0m0 9h0m0 55h0m1-119h0m0 14h0m0 10h0m0 11h0m0 24h0m0 16h0m0 14h0m1-99h0m0 3h0m0 48h0m0 30h0m0 1h0m0 10h0m0 54h0m1-152h0m0 45h0m0 5h0m0 45h0m0 7h0m0 2h0m1-89h0m0 3h0m0 23h0m0 10h0m0 11h0m1-17h0m0 4h0m0 8h0m0 4h0m0 9h0m1-49h0m0 45h0m0 8h0m0 28h0m0 18h0m1-102h0m0 5h0m0 7h0m0 15h0m0 15h0m0 5h0m0 4h0m0 28h0m1-63h0m0 7h0m0 2h0m0 8h0m0 3h0m0 3h0m0 16h0m0 14h0m1-69h0m0 30h0m0 5h0m0 58h0m0 1h0m0 6h0m1-163h0m0 65h0m0 6h0m0 1h0m0 6h0m0 3h0m0 14h0m0 44h0m1-95h0m0 13h0m0 22h0m0 21h0m0 1h0m0 7h0m0 12h0m1-58h0m0 34h0m0 13h0m0 1h0m0 7h0m0 1h0m0 16h0m1-79h0m0 15h0m0 10h0m0 2h0m0 12h0m0 18h0m0 14h0m1-92h0m0 6h0m0 21h0m0 58h0m0 4h0m0 5h0m1-81h0m0 9h0m0 9h0m0 8h0m0 17h0m0 12h0m0 60h0m1-137h0m0 27h0m0 6h0m0 35h0m0 5h0m0 42h0m1-98h0m0 30h0m0 5h0m0 29h0m0 4h0m0 6h0m0 10h0m1-104h0m0 16h0m0 22h0m0 9h0m0 17h0m0 3h0m0 19h0m0 17h0m1-155h0m0 105h0m0 5h0m0 15h0m0 19h0m0 18h0m1-72h0m0 5h0m0 24h0m0 2h0m0 1h0m0 6h0m0 12h0m1-44h0m0 13h0m0 4h0m0 4h0m0 14h0m0 4h0m1-88h0m0 4h0m0 13h0m0 8h0m0 23h0m0 8h0m0 20h0m0 57h0m1-122h0m0 7h0m0 2h0m0 17h0m0 6h0m0 33h0m0 13h0m1-79h0m0 11h0m0 10h0m0 36h0m0 5h0m0 22h0m0 19h0m1-105h0m0 30h0m0 16h0m0 4h0m0 1h0m0 5h0m0 7h0m0 7h0m1-14h0m0 8h0m0 11h0m0 8h0m0 15h0m0 7h0m1-106h0m0 41h0m0 9h0m0 12h0m0 2h0m0 7h0m0 4h0m0 9h0m1-77h0m0 6h0m0 15h0m0 18h0m0 12h0m0 17h0m1-85h0m0 29h0m0 7h0m0 2h0m0 11h0m0 6h0m0 33h0m1-129h0m0 50h0m0 34h0m0 12h0m0 17h0m0 33h0m1-61h0m0 28h0m0 9h0m0 3h0m0 10h0m0 6h0m1-86h0m0 12h0m0 8h0m0 25h0m0 2h0m0 1h0m0 7h0m0 22h0m1-74h0m0 12h0m0 8h0m0 14h0m0 3h0m0 10h0m0 35h0m1-57h0m0 5h0m0 24h0m0 23h0m1-89h0m0 1h0m0 51h0m0 3h0m0 10h0m0 6h0m0 54h0m1-113h0m0 17h0m0 7h0m0 14h0m0 64h0m1-129h0m0 14h0m0 40h0m0 20h0m0 4h0m0 62h0m0 44h0m1-202h0m0 4h0m0 51h0m0 11h0m0 22h0m0 8h0m0 18h0m1-101h0m0 40h0m0 21h0m0 9h0m0 19h0m0 13h0m1-104h0m0 13h0m0 8h0m0 12h0m0 33h0m0 6h0m0 47h0m1-134h0m0 48h0m0 10h0m0 6h0m0 2h0m0 49h0m0 51h0m1-95h0m0 1h0m0 7h0m0 13h0m0 1h0m0 5h0m0 6h0m0 6h0m1-81h0m0 17h0m0 26h0m0 23h0m0 3h0m0 10h0m1-73h0m0 22h0m0 6h0m0 12h0m0 15h0m0 4h0m0 29h0m0 8h0m1-100h0m0 4h0m0 23h0m0 5h0m0 2h0m0 4h0m0 36h0m0 4h0m1-85h0m0 10h0m0 17h0m0 19h0m0 4h0m0 22h0m1-95h0m0 17h0m0 7h0m0 20h0m0 7h0m0 11h0m0 66h0m1-131h0m0 25h0m0 9h0m0 5h0m0 15h0m0 33h0m1-106h0m0 57h0m0 9h0m0 10h0m0 14h0m0 6h0m0 11h0m1-64h0m0 24h0m0 21h0m0 9h0m0 1h0m0 9h0m0 4h0m0 17h0m1-78h0m0 6h0m0 10h0m0 6h0m0 5h0m0 8h0m0 41h0m1-95h0m0 50h0m0 11h0m0 4h0m0 1h0m0 14h0m0 6h0m0 11h0m1-68h0m0 18h0m0 16h0m0 13h0m0 30h0m0 16h0m1-93h0m0 1h0m0 17h0m0 2h0m0 34h0m0 40h0m1-121h0m0 22h0m0 4h0m0 22h0m0 5h0m0 9h0m0 5h0m0 5h0m1-63h0m0 1h0m0 15h0m0 4h0m0 6h0m0 5h0m0 30h0m1-56h0m0 41h0m0 3h0m0 20h0m0 19h0m1-64h0m0 2h0m0 14h0m0 6h0m0 10h0m0 11h0m0 41h0m1-125h0m0 21h0m0 3h0m0 25h0m0 20h0m0 12h0m0 5h0m1-46h0m0 5h0m0 8h0m0 6h0m0 14h0m0 2h0m0 13h0m1-58h0m0 5h0m0 22h0m0 13h0m0 11h0m0 13h0m0 18h0m1-126h0m0 48h0m0 6h0m0 13h0m0 27h0m0 12h0m0 7h0m0 1h0m1-108h0m0 44h0m0 9h0m0 6h0m0 9h0m0 54h0m0 18h0m1-148h0m0 35h0m0 18h0m0 12h0m0 2h0m0 14h0m0 39h0m1-110h0m0 6h0m0 14h0m0 6h0m0 3h0m0 23h0m0 23h0m1-71h0m0 5h0m0 9h0m0 2h0m0 52h0m0 10h0m1-81h0m0 31h0m0 16h0m0 8h0m0 20h0m0 23h0m0 9h0m0 1h0m1-133h0m0 56h0m0 11h0m0 24h0m1-58h0m0 26h0m0 4h0m0 10h0m0 1h0m0 15h0m0 22h0m0 18h0m1-116h0m0 30h0m0 9h0m0 8h0m0 8h0m0 10h0m0 4h0m0 32h0m1-128h0m0 14h0m0 43h0m0 6h0m0 23h0m0 5h0m0 6h0m1-33h0m0 16h0m0 14h0m0 4h0m0 7h0m0 4h0m0 3h0m1-79h0m0 45h0m0 13h0m0 1h0m0 17h0m0 2h0m0 13h0m1-77h0m0 3h0m0 1h0m0 12h0m0 2h0m0 7h0m0 17h0m0 39h0m1-107h0m0 15h0m0 28h0m0 8h0m0 12h0m0 6h0m0 10h0m1-69h0m0 22h0m0 2h0m0 14h0m0 3h0m0 13h0m1-44h0m0 4h0m0 15h0m0 11h0m0 13h0m1-66h0m0 21h0m0 12h0m0 6h0m0 18h0m0 18h0m1-44h0m0 6h0m0 8h0m0 5h0m0 31h0m0 7h0m1-105h0m0 11h0m0 32h0m0 27h0m0 12h0m1-62h0m0 5h0m0 30h0m0 7h0m0 1h0m0 39h0m1-91h0m0 17h0m0 5h0m0 17h0m0 9h0m0 21h0m0 65h0m1-136h0m0 37h0m0 34h0m0 8h0m0 2h0m1-72h0m0 12h0m0 14h0m0 24h0m0 3h0m0 4h0m0 1h0m1-92h0m0 53h0m0 12h0m0 16h0m0 37h0m0 30h0m1-90h0m0 12h0m0 3h0m0 12h0m0 1h0m0 7h0m0 1h0m1-57h0m0 2h0m0 10h0m0 30h0m0 2h0m0 23h0m0 7h0m0 9h0m1-89h0m0 16h0m0 15h0m0 11h0m0 1h0m0 95h0m1-171h0m0 12h0m0 13h0m0 25h0m0 17h0m0 3h0m0 5h0m0 21h0m1-74h0m0 20h0m0 7h0m0 15h0m0 26h0m0 15h0m1-90h0m0 8h0m0 8h0m0 41h0m0 1h0m0 14h0m1-91h0m0 46h0m0 5h0m0 4h0m0 2h0m0 8h0m0 21h0m1-73h0m0 12h0m0 14h0m0 2h0m0 61h0m0 3h0m1-86h0m0 17h0m0 22h0m0 19h0m0 4h0m0 13h0m1-97h0m0 17h0m0 7h0m0 14h0m0 14h0m0 4h0m0 16h0m0 9h0m1-85h0m0 33h0m0 15h0m0 4h0m0 11h0m1-66h0m0 34h0m0 4h0m0 20h0m0 3h0m0 36h0m0 5h0m1-79h0m0 6h0m0 8h0m0 10h0m0 2h0m1-26h0m0 21h0m0 14h0m0 5h0m0 1h0m0 12h0m0 3h0m1-57h0m0 1h0m0 13h0m0 11h0m0 2h0m0 3h0m0 42h0m1-80h0m0 21h0m0 2h0m0 29h0m0 2h0m0 9h0m0 30h0m1-78h0m0 1h0m0 3h0m0 9h0m0 3h0m0 13h0m0 3h0m0 17h0m1-67h0m0 13h0m0 8h0m0 23h0m0 32h0m1-73h0m0 7h0m0 2h0m0 26h0m0 7h0m0 28h0m0 12h0m1-114h0m0 29h0m0 6h0m0 25h0m0 4h0m0 3h0m0 24h0m1-45h0m0 10h0m0 11h0m0 3h0m0 11h0m0 16h0m0 4h0m1-90h0m0 16h0m0 9h0m0 6h0m0 12h0m0 47h0m1-52h0m0 2h0m0 2h0m0 10h0m1-43h0m0 11h0m0 2h0m0 7h0m0 15h0m0 6h0m1-62h0m0 33h0m0 12h0m0 5h0m0 10h0m0 3h0m1-51h0m0 26h0m0 6h0m0 5h0m0 8h0m0 10h0m0 2h0m1-83h0m0 22h0m0 8h0m0 14h0m0 3h0m0 13h0m0 36h0m1-76h0m0 18h0m0 3h0m0 5h0m0 9h0m1-36h0m0 3h0m0 4h0m0 12h0m0 18h0m0 1h0m0 24h0m1-85h0m0 34h0m0 5h0m0 2h0m0 25h0m0 14h0m1-101h0m0 2h0m0 18h0m0 14h0m0 18h0m0 21h0m0 19h0m0 4h0m1-55h0m0 1h0m0 14h0m0 10h0m0 3h0m0 4h0m0 15h0m1-67h0m0 11h0m0 9h0m0 10h0m0 7h0m0 12h0m0 20h0" fill="none" stroke="#e377c2" stroke-width="5.97" stroke-linecap="round"/></g><path d="M373.63 1484.9V1206.1" stroke="#000" stroke-width="1.8" stroke-dasharray="6.3 2.7" fill="none"/><path d="M392.57 1484.9V1206.1" stroke="#000" stroke-width="1.8" stroke-dasharray="6.3 2.7" fill="none"/></g><rect x="409.85" y="1392.9" width="166.45" height="83.64" fill="#fff"/><g clip-path="url(#c20)"><g transform="scale(.5)"><path d="M820 2903h0m1 14h0m1-46h0m1 36h0m1 2h0m1 7h0m2-15h0m1 17h0m2-12h0m1 15h0m1-11h0m2-4h0m1 6h0m1 10h0m1-62h0m1 44h0m1-28h0m2 37h0m1-2h0m1-5h0m1 8h0m1-47h0m1 49h0m2-5h0m1-22h0m1 17h0m1 5h0m1-37h0m1 44h0m1 2h0m2-10h0m1-38h0m1 30h0m1-29h0m1 41h0m1 11h0m2-14h0m1-1h0m1 6h0m1-50h0m1 34h0m1-5h0m2-11h0m1 33h0m1-2h0m1-17h0m1 13h0m1 3h0m2 5h0m2-2h0m1-10h0m1 3h0m1 1h0m1-4h0m3 13h0m1-17h0m1 5h0m1-3h0m1 13h0m3-7h0m1-5h0m1-27h0m1 25h0m1-6h0m2 10h0m1-5h0m1 8h0m1 7h0m1-9h0m1-39h0m2 37h0m1 7h0m1-1h0m1-12h0m1-16h0m1 30h0m1-6h0m2-31h0m1 29h0m1-1h0m1-28h0m1 33h0m1-1h0m2 3h0m1-7h0m1 4h0m1 6h0m1 5h0m1-16h0m2 8h0m1 1h0m1-48h0m1 42h0m1-12h0m1 7h0m2-39h0m1 44h0m1-6h0m1-2h0m1 17h0m1-9h0m1-3h0m2-33h0m1 39h0m1-29h0m1 15h0m1 19h0m1-16h0m2 4h0m1-28h0m1 29h0m1-7h0m1 14h0m1 0h0m2-14h0m1 1h0m1-11h0m1 19h0m1-3h0m1-36h0m2 40h0m1-31h0m1 21h0m1 8h0m1-44h0m1 53h0m1-15h0m2 4h0m1-1h0m2 6h0m1 7h0m1-15h0m2-14h0m1-12h0m1 30h0m1 8h0m1-2h0m1-1h0m2-7h0m2 1h0m1 8h0m1-8h0m1 1h0m3 8h0m1-3h0m1-11h0m1 1h0m1-22h0m1 32h0m2-34h0m1 41h0m1 2h0m1-51h0m1 51h0m1-16h0m2 2h0m1 5h0m1-14h0m1 4h0m1 6h0m1-10h0m2 7h0m1-4h0m1 11h0m1-9h0m1 1h0m1 5h0m2-7h0m1-6h0m1 5h0m1 16h0m1-40h0m1 1h0m1-12h0m2 47h0m1-50h0m1 45h0m1-35h0m1 32h0m1-12h0m2 9h0m1 7h0m1-6h0m1 6h0m1-37h0m1 37h0m2-6h0m1 5h0m1-35h0m1 25h0m1-3h0m1 8h0m2 11h0m1-15h0m1-24h0m1-3h0m1 27h0m1 6h0m1-4h0m2 10h0m1-3h0m1-16h0m1 9h0m1 9h0m1-10h0m2 12h0m1 4h0m1-38h0m1 37h0m1-7h0m1-10h0m2 6h0m1 2h0m1-24h0m1-15h0m1 49h0m1-8h0m2-2h0m1 5h0m1-9h0m1-32h0m1 42h0m1-44h0m1 44h0m2-5h0m1-32h0m1 20h0m1-21h0m1 33h0m1-2h0m2 4h0m1-1h0m1-32h0m1 22h0m1 3h0m3 3h0m1-14h0m1 13h0m1-2h0m1 11h0m1-32h0m2 32h0m2-7h0m1 7h0m1-12h0m1-26h0m1 34h0m3-5h0m1-8h0m1 13h0m1-36h0m1 40h0m2-18h0m1 3h0m1-8h0m1 3h0m1 8h0m1-27h0m2 29h0m1-24h0m1 20h0m1-24h0m1 19h0m1 16h0m2-3h0m1-22h0m1-7h0m1 26h0m1 0h0m1-1h0m1-32h0m2 38h0m1-8h0m1 7h0m1-4h0m1-5h0m3 0h0" fill="none" stroke="#e377c2" stroke-width="7.29" stroke-linecap="round"/></g></g><rect x="409.85" y="1392.9" width="166.45" height="83.64" fill="none" stroke="#000" stroke-width="1.65"/><rect x="71.75" y="1206.1" width="520.15" height="278.8" fill="none" stroke="#000" stroke-width="1.65"/><path d="M165.31 1484.9v6.07M260 1484.9v6.07M354.69 1484.9v6.07M449.39 1484.9v6.07M544.08 1484.9v6.07" stroke="#000" stroke-width="1.6" fill="none"/><text x="165.31" y="1512.95" font-size="20.76" text-anchor="middle">2290</text><text x="260" y="1512.95" font-size="20.76" text-anchor="middle">2300</text><text x="354.69" y="1512.95" font-size="20.76" text-anchor="middle">2310</text><text x="449.39" y="1512.95" font-size="20.76" text-anchor="middle">2320</text><text x="544.08" y="1512.95" font-size="20.76" text-anchor="middle">2330</text><path d="M71.75 1470.9h-6.07M71.75 1386.9h-6.07M71.75 1302.9h-6.07M71.75 1218.9h-6.07" stroke="#000" stroke-width="1.6" fill="none"/><text x="59.9" y="1479.05" font-size="20.76" text-anchor="end">0.4</text><text x="59.9" y="1395.05" font-size="20.76" text-anchor="end">0.6</text><text x="59.9" y="1311.05" font-size="20.76" text-anchor="end">0.8</text><text x="59.9" y="1227.05" font-size="20.76" text-anchor="end">1.0</text><text x="331.82" y="1539.12" font-size="20.76" text-anchor="middle">Days (BTJ)</text><text transform="translate(16.16 1345.5) rotate(-90)" font-size="20.76" text-anchor="middle">Normalized Flux</text><text x="331.82" y="1195.57" font-size="24.6" text-anchor="middle">Target Light Curve: 00119862086</text>
<g clip-path="url(#c21)"><path d="M682.5 1479.8L682.8 1480.5L683.1 1481.2L683.3 1481.7L683.6 1482.2L683.8 1482.6L684.1 1483L684.4 1483.2L684.6 1483.4L684.9 1483.5L685.1 1483.5L685.4 1483.3L685.7 1483L685.9 1482.7L686.2 1482.3L686.4 1481.8L686.7 1481.4L687 1481.1L687.2 1480.9L687.5 1480.7L687.8 1480.7L688 1480.8L688.3 1481L688.5 1481.2L688.8 1481.5L689.1 1481.8L689.3 1482.1L689.6 1482.4L689.8 1482.7L690.1 1483L690.4 1483.2L690.6 1483.4L690.9 1483.5L691.1 1483.5L691.4 1483.4L691.7 1483.3L691.9 1483.2L692.2 1483L692.4 1482.8L692.7 1482.5L693 1482.3L693.2 1482.1L693.5 1481.9L693.7 1481.7L694 1481.5L694.3 1481.4L694.5 1481.4L694.8 1481.4L695 1481.5L695.3 1481.7L695.6 1481.9L695.8 1482.1L696.1 1482.3L696.3 1482.5L696.6 1482.8L696.9 1483L697.1 1483.2L697.4 1483.3L697.6 1483.4L697.9 1483.5L698.2 1483.5L698.4 1483.4L698.7 1483.3L698.9 1483.2L699.2 1483L699.5 1482.8L699.7 1482.5L700 1482.3L700.2 1482L700.5 1481.8L700.8 1481.5L701 1481.3L701.3 1481.1L701.5 1481L701.8 1480.8L702.1 1480.7L702.3 1480.7L702.6 1480.7L702.8 1480.8L703.1 1481L703.4 1481.2L703.6 1481.4L703.9 1481.6L704.2 1481.9L704.4 1482.2L704.7 1482.4L705 1482.7L705 1482.8L705.1 1482.9L705.2 1483L705.3 1483L705.4 1483.1L705.4 1483.2L705.5 1483.3L705.6 1483.3L705.7 1483.4L705.8 1483.4L705.8 1483.5L705.9 1483.6L706 1483.6L706.1 1483.6L706.2 1483.7L706.3 1483.7L706.4 1483.7L706.4 1483.8L706.5 1483.8L706.6 1483.8L706.7 1483.8L706.8 1483.8L706.9 1483.8L707 1483.8L707.1 1483.8L707.2 1483.8L707.3 1483.8L707.4 1483.8L707.5 1483.8L707.6 1483.8L707.7 1483.8L707.8 1483.8L707.9 1483.8L708 1483.8L708.1 1483.8L708.2 1483.7L708.3 1483.7L708.4 1483.7L708.5 1483.7L708.6 1483.7L708.7 1483.7L708.8 1483.7L708.9 1483.7L709 1483.7L709.1 1483.7L709.2 1483.7L709.3 1483.7L709.5 1483.7L709.6 1483.7L709.7 1483.7L709.8 1483.7L709.9 1483.7L710 1483.7L710.1 1483.6L710.2 1483.6L710.3 1483.6L710.5 1483.6L710.6 1483.6L710.7 1483.6L710.8 1483.6L710.9 1483.6L711 1483.6L711.2 1483.6L711.3 1483.6L711.4 1483.6L711.5 1483.6L711.6 1483.6L711.8 1483.6L711.9 1483.5L712 1483.5L712.1 1483.5L712.3 1483.5L712.4 1483.5L712.5 1483.5L712.7 1483.5L712.8 1483.5L712.9 1483.5L713.1 1483.5L713.2 1483.5L713.3 1483.5L713.5 1483.5L713.6 1483.5L713.7 1483.5L713.9 1483.5L714 1483.5L714.2 1483.5L714.3 1483.5L714.5 1483.5L714.6 1483.5L714.8 1483.5L714.9 1483.5L715.1 1483.5L715.2 1483.5L715.4 1483.5L715.5 1483.5L715.7 1483.5L715.8 1483.5L716 1483.5L716.1 1483.5L716.3 1483.5L716.5 1483.5L716.6 1483.5L716.8 1483.5L717 1483.5L717.1 1483.5L717.3 1483.5L717.5 1483.5L717.6 1483.5L717.8 1483.5L718 1483.5L718.2 1483.5L718.3 1483.5L718.5 1483.5L718.7 1483.5L718.9 1483.5L719.1 1483.5L719.3 1483.5L719.4 1483.5L719.6 1483.5L719.8 1483.5L720 1483.5L720.2 1483.5L720.4 1483.5L720.6 1483.5L720.8 1483.5L721 1483.5L721.2 1483.5L721.4 1483.5L721.6 1483.5L721.9 1483.5L722.1 1483.5L722.3 1483.5L722.5 1483.5L722.7 1483.5L722.9 1483.5L723.2 1483.5L723.4 1483.5L723.6 1483.5L723.9 1483.5L724.1 1483.5L724.3 1483.5L724.6 1483.4L724.8 1483.2L725.1 1483.1L725.3 1482.9L725.6 1482.6L725.8 1482.4L726.1 1482.1L726.3 1481.8L726.6 1481.5L726.8 1481.2L727.1 1480.8L727.4 1480.5L727.6 1480.2L727.9 1480L728.2 1479.7L728.5 1479.6L728.8 1479.4L729.1 1479.3L729.4 1479.3L729.6 1479.5L729.9 1479.7L730.2 1480L730.6 1480.4L730.9 1480.9L731.2 1481.4L731.5 1481.9L731.8 1482.5L732.1 1483L732.5 1483.4L732.8 1483.8L733.1 1484.1L733.5 1484.2L733.8 1484.2L734.2 1484.1L734.5 1484L734.9 1483.9L735.2 1483.7L735.6 1483.5L736 1483.2L736.4 1482.9L736.8 1482.5L737.1 1482.2L737.5 1481.8L737.9 1481.3L738.3 1480.9L738.7 1480.4L739.2 1479.9L739.6 1479.4L740 1478.8L740.4 1478L740.9 1477.1L741.3 1476L741.8 1474.9L742.2 1473.7L742.7 1472.6L743.2 1471.6L743.7 1470.7L744.1 1470.1L744.6 1469.4L745.1 1468.8L745.6 1468.3L746.2 1468L746.7 1467.9L747.2 1468.2L747.8 1468.9L748.3 1469.9L748.9 1471.1L749.4 1472.4L750 1473.7L750.6 1475.2L751.2 1477.1L751.8 1479.2L752.4 1481.3L753.1 1483L753.7 1484L754.4 1484.2L755 1484.2L755.7 1484.2L756.4 1484.1L757.1 1484.1L757.8 1484L758.5 1484L759.2 1483.9L760 1483.8L760.8 1483.8L761.5 1483.7L762.3 1483.6L763.1 1483.6L764 1483.5L764.8 1483.5L765.7 1483.5L766.6 1483.5L767.4 1483.5L768.4 1483.5L769.3 1483.5L770.2 1483.5L771.2 1483.5L772.2 1483.5L773.2 1483.5L774.3 1483.5L775.3 1483.5L776.4 1483.5L777.5 1483.5L778.6 1483.5L779.8 1483.5L781 1483.5L782.2 1483.5L783.4 1483.5L784.7 1483.5L786 1483.5L787.4 1483.4L788.7 1482.8L790.1 1481.9L791.6 1480.7L793.1 1479.6L794.6 1478.4L796.2 1477.1L797.8 1475.6L799.4 1474.3L801.1 1473.4L802.9 1472.4L804.7 1471.5L806.5 1470.8L808.4 1470.4L810.4 1470.5L812.4 1470.8L814.5 1471.4L816.6 1472L818.9 1472.7L821.2 1473.5L823.5 1474.5L826 1475.5L828.5 1476.5L831.1 1477.4L833.9 1478.2L836.7 1479.1L839.6 1479.9L842.6 1480.6L845.8 1481.3L849 1481.8L852.5 1482.3L856 1482.6L859.7 1482.9L863.5 1483.2L867.5 1483.4L871.7 1483.6L876.1 1483.8L880.7 1483.9L885.5 1484.1L890.5 1484.2L895.8 1484.2L901.4 1483.2L907.3 1479.9L913.4 1473.4L919.9 1463.8L926.8 1450.3L934.1 1432.1L941.9 1408.5L950.1 1379.5L958.8 1344.9L968.1 1305.7L978.1 1269.3L988.8 1238.1L1000.3 1202.3L1012.6 1163.5L1026 1122.5" fill="none" stroke="#e377c2" stroke-width="3.8" stroke-linejoin="round"/><path d="M678.9 1484.9L680.3 1483.5L681 1482.8L681.5 1376.2L681.6 1376.2L682 1482.8L682.7 1483.5L684.1 1483.8L685 1483.6L685.8 1483.3L686.7 1483.5L687.6 1484.4L688.4 1484.3L689.3 1484.2L690.2 1483.7L691 1484.7L691.9 1483.7L692.8 1483.7L693.7 1484.1L694.5 1484.3L695.4 1484.3L696.3 1484.1L697.1 1484.3L698 1484L698.9 1483.9L699.7 1483.8L700.6 1483L701.5 1483.3L702.3 1483.6L703.2 1483.8L704.1 1481.8L704.9 1483.6L705.8 1482.1L706.7 1483.8L707.5 1482.8L708.4 1483.8L709.3 1484.5L710.1 1484.6L711 1483.7L711.9 1483.8L712.7 1483L713.6 1483.8L714.5 1483.4L715.3 1483.6L716.2 1483.6L717.1 1484L717.9 1483.5L719.3 1479.3L719.9 1484.9L720.6 1457L720.9 1483.3L721.2 1443.8L721.8 1481.4L722.3 1468.2L722.8 1484.1L723.3 1471L723.7 1483.4L724 1458.4L724.5 1484.9L725.1 1476.5L725.6 1484.2L726.1 1482.1L727.2 1483.9L728.4 1483.5L729.2 1484L730.1 1482.7L731 1483.5L731.8 1482.9L732.7 1483.3L733.6 1483.2L734.4 1484.4L735.3 1483.6L736.2 1483.8L737 1483.5L737.9 1482.3L738.8 1483.4L739.6 1482.8L740.5 1482.6L741.4 1484.3L742.2 1483.5L743.1 1483.5L744 1483.6L744.8 1483.9L745.7 1481.4L746.6 1482.4L747.5 1483L748.3 1481.4L749.2 1482.9L750.1 1483.5L750.9 1482.8L751.8 1482.2L752.7 1481.6L753.5 1482.1L754.4 1482.8L755.3 1479.3L755.7 1484.2L756.1 1471L756.6 1484.3L757 1476.5L757.4 1483.9L757.9 1464L758.3 1484.4L758.7 1468.2L759.3 1480L759.8 1443.1L760.1 1482.2L760.4 1426.4L760.7 1476.5L761 1443.1L761.3 1483.4L761.7 1468.2L762.1 1480.5L762.6 1459.8L762.9 1482.7L763.2 1473.7L763.6 1484.5L763.9 1464L764.4 1479.6L764.8 1454.2L765.2 1476.2L765.7 1450.1L766 1478.9L766.4 1462.6L766.7 1481.1L767.1 1448.7L767.4 1483.7L767.8 1457L768 1483.3L768.3 1445.9L768.7 1474L769.1 1443.1L769.5 1478L769.8 1415.2L770.2 1481.1L770.5 1376.2L770.8 1466.4L771.1 1415.2L771.4 1476.9L771.7 1443.1L772.2 1477.8L772.6 1426.4L773 1481L773.3 1450.1L773.7 1482.8L774 1468.2L774.6 1483.7L775.2 1468.2L775.8 1484.8L776.4 1477.9L777.1 1483.1L777.8 1475.1L778.3 1483.7L778.7 1476.5L779.6 1484.2L780.4 1480.7L781.7 1484.6L783 1481.4L783.9 1480.1L784.8 1484L785.6 1482.4L786.5 1482.1L787.4 1484.1L788.2 1483.8L789.1 1480.9L790 1482.2L790.8 1483.2L791.7 1483.2L792.6 1483L793.4 1482L794.3 1483.4L795.2 1482.7L796 1482.3L796.9 1483.3L797.8 1482.7L798.6 1482.8L799.5 1480.3L800.4 1480.7L801.8 1478.6L803.2 1482.1L804 1480.8L804.8 1483.9L805.6 1483.2L806.5 1481.7L807.3 1484.4L808.2 1481.7L809.1 1481.2L809.9 1483.7L810.8 1482.1L811.7 1482.7L812.5 1481.6L813.4 1484.4L814.3 1483.5L815.1 1483L816 1482.5L816.9 1483.1L817.7 1482.4L818.6 1483.8L819.5 1483.8L820.3 1483.2L821.2 1482.8L822.1 1483.8L822.9 1483.4L823.8 1481.7L824.7 1482.9L825.5 1483.6L826.4 1483.8L827.3 1482.3L828.2 1483.5L829 1483.5L829.9 1482.2L830.8 1483.2L831.6 1483.2L832.5 1482.1L833.4 1482.4L834.2 1482.8L835.1 1483.1L835.9 1483.3L836.7 1482.1L837.5 1483.4L838.3 1482.2L839 1484.4L839.8 1483.6L840.6 1483.4L841.4 1482.6L842.2 1484.1L843 1483.1L843.8 1483.8L844.6 1483.4L845.4 1483.3L846.1 1483.4L846.9 1482.7L847.7 1483.9L848.5 1483.8L849.3 1484.2L850.1 1484.5L850.9 1484.1L851.7 1482.6L852.5 1483.5L853.3 1482.5L854.2 1484.2L855.1 1482.9L855.9 1483.1L856.8 1482.7L857.7 1482.4L858.5 1483.4L859.4 1482.8L860.3 1480.9L861.1 1482.6L862 1481.8L862.9 1481.6L863.7 1483.4L864.6 1483.9L865.5 1482.2L866.3 1481.8L867.2 1480.9L868.1 1481.2L868.9 1482L869.8 1483.2L870.7 1484.1L871.5 1481.4L872.4 1481.5L873.3 1480.9L874.1 1482.1L875 1482.1L875.9 1480.4L876.7 1484.1L877.6 1484.2L878.5 1484.3L879.4 1483.7L880.2 1483.2L881.1 1483.6L882 1483.6L882.8 1481.7L883.7 1483.9L884.6 1481.4L885.4 1481.2L886.3 1483.5L887.2 1481.9L888 1484.4L888.9 1483.5L889.7 1483.8L890.5 1482.4L891.3 1483.3L892.1 1482.6L892.8 1482.9L893.6 1483L894.4 1484L895.2 1483L896 1484.4L896.8 1482.4L897.6 1483.2L898.4 1482.1L899.3 1482.5L900.2 1484.4L901 1483.9L901.9 1484L902.8 1484.5L903.6 1483.7L904.5 1484.1L905.3 1483.6L906.1 1484.3L906.9 1483.5L907.7 1483.6L908.5 1484.5L909.2 1483.7L910 1483.5L910.8 1484.4L911.6 1483.9L912.4 1483.8L913.2 1483.9L914 1484.6L914.8 1483.8L915.6 1483.8L916.3 1483.6L917.1 1483.6L917.9 1484.3L918.7 1483.7L919.5 1483.5L920.3 1483.5L921.1 1484.5L921.9 1484.1L922.7 1484.6L923.4 1483.8L924.2 1484.4L925 1483.8L925.8 1483.3L926.6 1484.1L927.4 1484.3L928.2 1483.9L929 1483.6L929.8 1484.5L930.5 1484L931.3 1484.4L932.1 1483.5L932.9 1483.2L933.7 1483.9L934.5 1483.9L935.3 1483.6L936.1 1484.2L936.9 1484.1L937.6 1484L938.4 1483.7L939.2 1483.6L940 1484.4L940.8 1483.2L941.6 1483.6L942.4 1484.1L943.2 1484.5L944 1483.5L944.7 1484.5L945.5 1484.5L946.3 1484.5L947.1 1484.6L947.9 1484.2L948.7 1483.7L949.5 1484.4L950.3 1484.3L951.1 1483.7L951.8 1483.9L952.6 1484.5L953.4 1484.1L954.2 1483.5L955 1484.2L955.8 1483.7L956.6 1484.5L957.4 1483.6L958.2 1483.5L958.9 1483.4L959.7 1483.6L960.5 1484.1L961.3 1484.5L962.1 1483.8L962.9 1483.4L963.7 1484.3L964.5 1484.2L965.3 1483.8L966.1 1483.6L966.9 1483.2L967.7 1482.8L968.5 1484.3L969.3 1484.2L970.1 1482.9L970.9 1483.1L971.7 1482.9L972.5 1482.2L973.4 1482.3L974.2 1482.5L975 1482.6L975.8 1483.5L976.6 1482.8L977.4 1483.2L978.3 1484.1L979.1 1482.8L980 1483L980.9 1483.2L981.7 1483.9L982.6 1484.1L983.5 1484.1L984.3 1484.2L985.2 1484.7L986 1483.8L986.8 1484.1L987.6 1484.3L988.5 1484.1L989.3 1483.9L990.1 1484.3L990.9 1483.8L991.7 1483.7L992.6 1484.3L993.4 1484.6L994.2 1483.9L995 1483.6L995.9 1484.6L996.7 1483.9L997.5 1483.8L998.3 1483.7L999.1 1484.6L1000 1484.2L1000.8 1484.6L1001.6 1483.4L1002.4 1484.5L1003.2 1484.4L1004 1483.8L1004.8 1483.9L1005.6 1483.3L1006.4 1484.3L1007.2 1482.9L1008 1484.2L1008.8 1483L1009.6 1484.4L1010.4 1483.5L1011.2 1483.2L1012.1 1484.3L1013 1483.2L1013.9 1483L1014.7 1482.1L1015.6 1481.5L1016.5 1482.8L1017.3 1484.3L1018.2 1482.2L1019.1 1483.8L1019.9 1483.1L1020.8 1483.1L1021.7 1484.2L1022.5 1484L1023.4 1484.3L1024.3 1484.5L1025.1 1484.6L1026 1484.1" fill="none" stroke="#000" stroke-width="3.9" stroke-linejoin="round"/></g><rect x="836.06" y="1215.21" width="181.24" height="30.78" rx="3.4" fill="#fff" fill-opacity="0.8" stroke="#ccc" stroke-opacity="0.8" stroke-width="1.7"/><path d="M843.24 1229.08h33.82" stroke="#000" stroke-width="3.6999999999999997" stroke-linecap="square" fill="none"/><text x="890.83" y="1235.06" font-size="17.08" text-anchor="start">Luhman 16AB</text><rect x="678.9" y="1206.1" width="347.1" height="278.8" fill="none" stroke="#000" stroke-width="1.65"/><path d="M678.9 1484.9v6.07M765.67 1484.9v6.07M852.45 1484.9v6.07M939.22 1484.9v6.07M1026 1484.9v6.07" stroke="#000" stroke-width="1.6" fill="none"/><text x="678.9" y="1512.95" font-size="20.76" text-anchor="middle">0</text><text x="765.67" y="1512.95" font-size="20.76" text-anchor="middle">5</text><text x="852.45" y="1512.95" font-size="20.76" text-anchor="middle">10</text><text x="939.22" y="1512.95" font-size="20.76" text-anchor="middle">15</text><text x="1026" y="1512.95" font-size="20.76" text-anchor="middle">20</text><path d="M678.9 1484.9h-6.07M678.9 1415.2h-6.07M678.9 1345.5h-6.07M678.9 1275.8h-6.07M678.9 1206.1h-6.07" stroke="#000" stroke-width="1.6" fill="none"/><text x="667.05" y="1493.05" font-size="20.76" text-anchor="end">0.00</text><text x="667.05" y="1423.35" font-size="20.76" text-anchor="end">0.05</text><text x="667.05" y="1353.65" font-size="20.76" text-anchor="end">0.10</text><text x="667.05" y="1283.95" font-size="20.76" text-anchor="end">0.15</text><text x="667.05" y="1214.25" font-size="20.76" text-anchor="end">0.20</text><text x="852.45" y="1539.12" font-size="20.76" text-anchor="middle">Period (hours)</text><text transform="translate(609.85 1345.5) rotate(-90)" font-size="20.76" text-anchor="middle">Power</text><text x="852.45" y="1195.57" font-size="24.6" text-anchor="middle">Separation: 18.7 arcsec</text>
</svg></body></html>
